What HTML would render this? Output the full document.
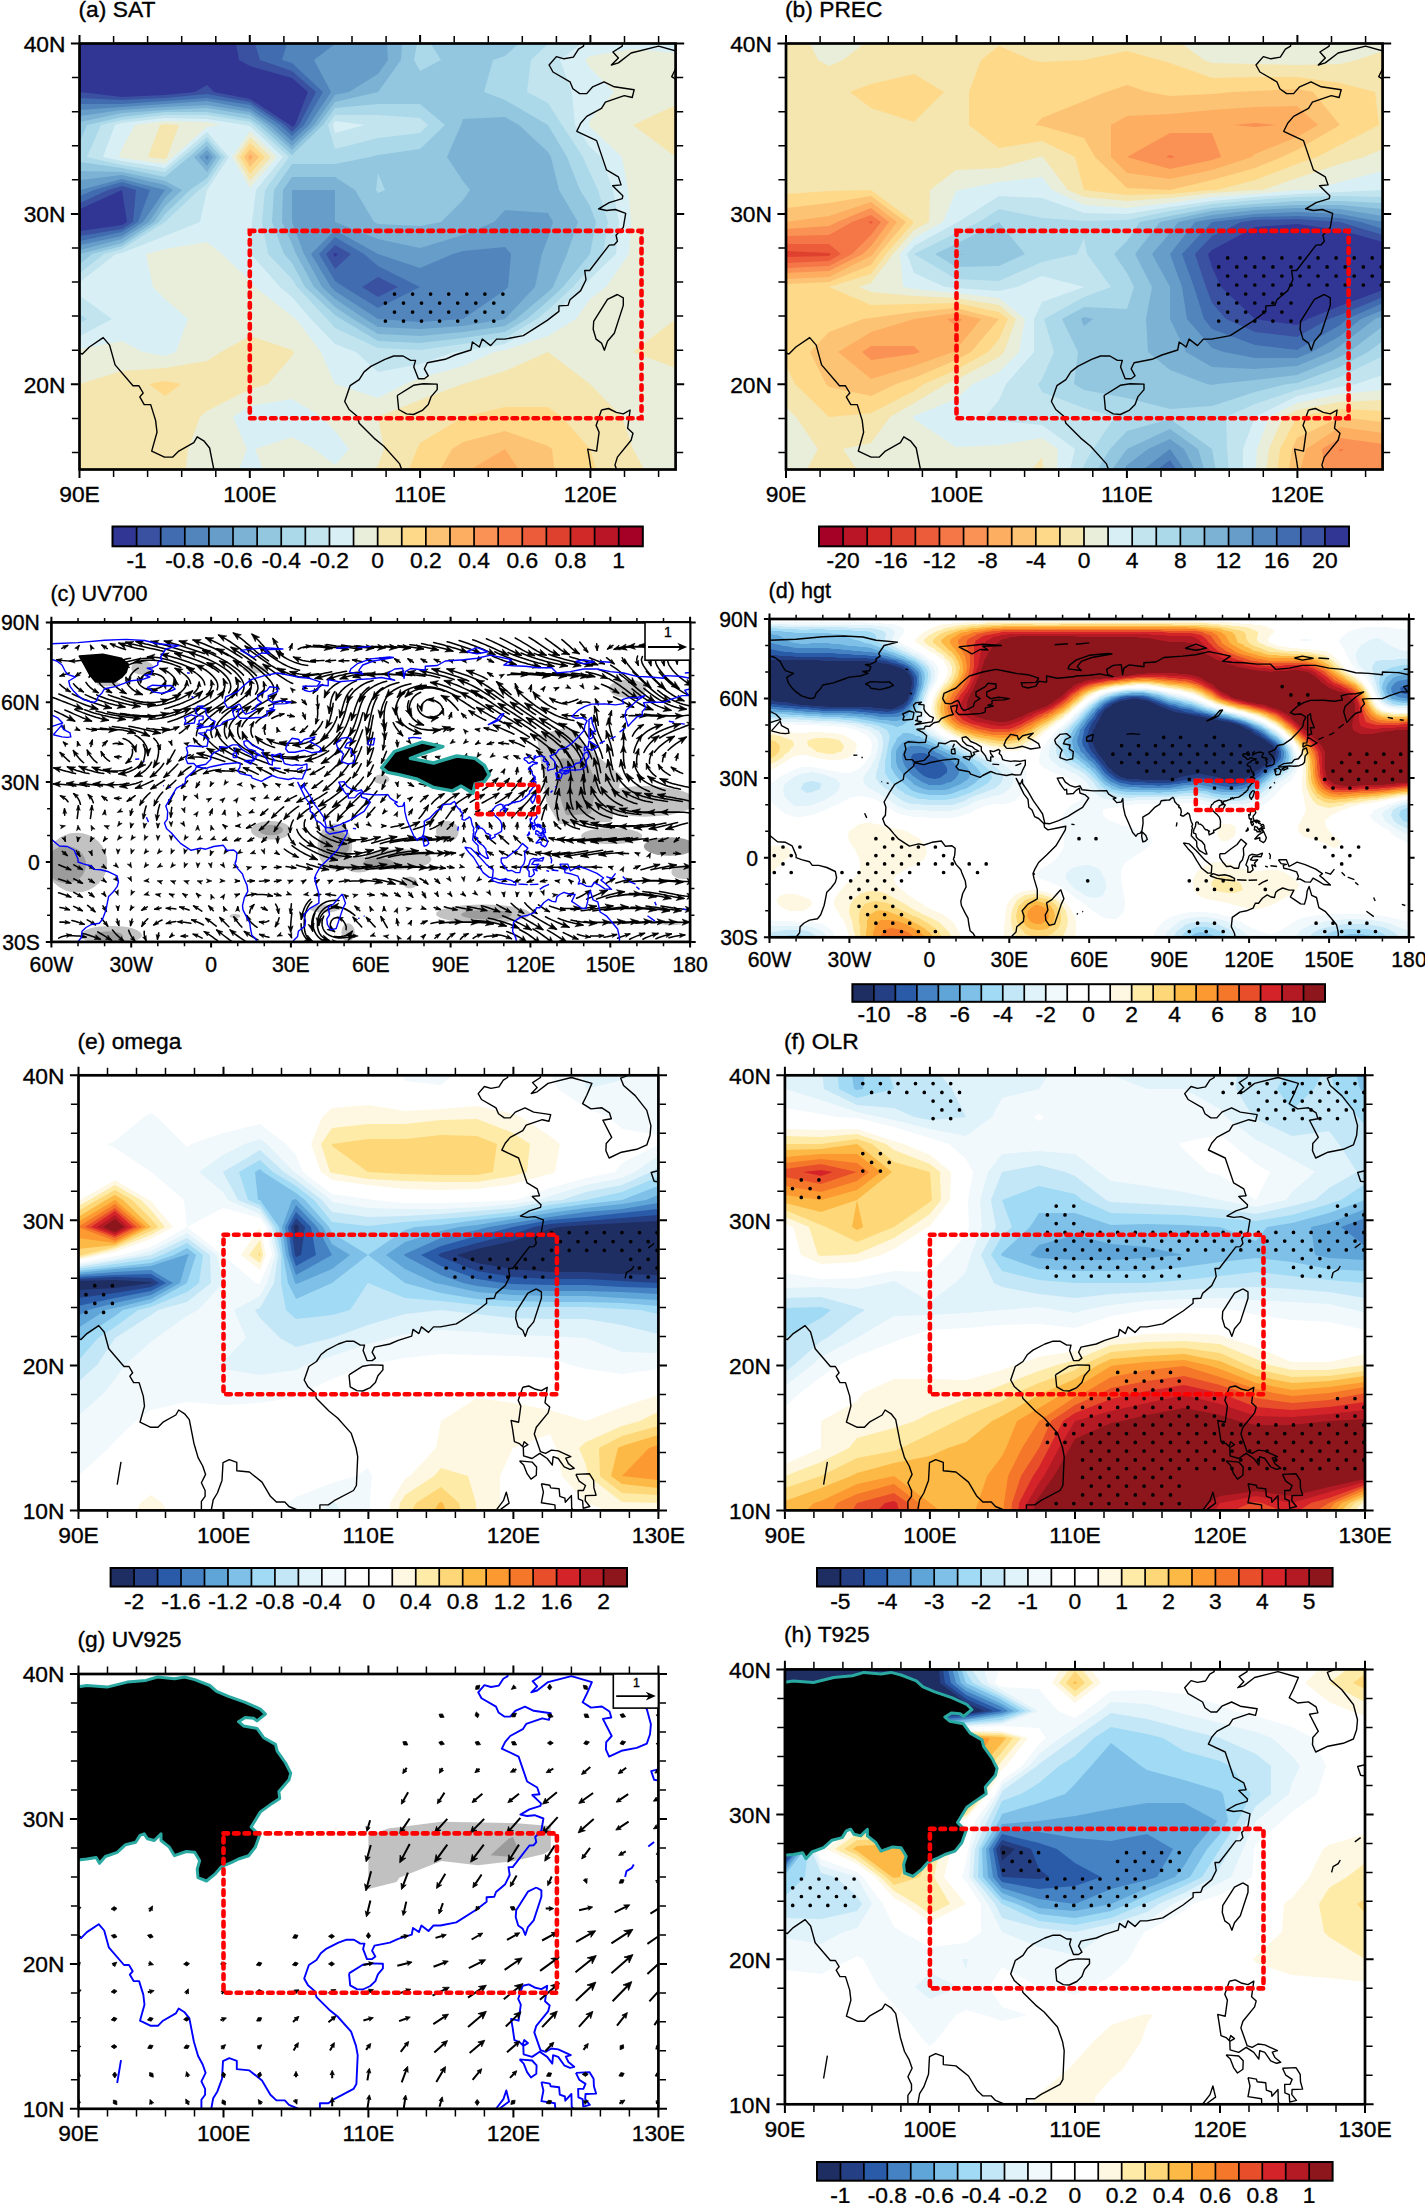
<!DOCTYPE html>
<html lang="en"><head><meta charset="utf-8"><title>Figure</title>
<style>html,body{margin:0;padding:0;background:#fff}svg{display:block}text{font-family:'Liberation Sans', Arial, Helvetica, sans-serif;fill:#000;stroke:#000;stroke-width:.35px}</style></head><body>
<svg width="1425" height="2203" viewBox="0 0 1425 2203">
<rect width="1425" height="2203" fill="#fff"/>
<defs>
<clipPath id="cpa"><rect x="79.5" y="43.5" width="596.1" height="426.0"/></clipPath>
<clipPath id="cpb"><rect x="786.0" y="43.5" width="596.6" height="426.0"/></clipPath>
<clipPath id="cpc"><rect x="51.4" y="622.4" width="638.7" height="319.5"/></clipPath>
<clipPath id="cpd"><rect x="769.5" y="619.0" width="639.5" height="318.3"/></clipPath>
<clipPath id="cpe"><rect x="78.5" y="1075.3" width="579.9" height="435.1"/></clipPath>
<clipPath id="cpf"><rect x="784.9" y="1075.3" width="580.1" height="435.1"/></clipPath>
<clipPath id="cpg"><rect x="78.5" y="1674.0" width="579.9" height="434.8"/></clipPath>
<clipPath id="cph"><rect x="784.9" y="1669.4" width="580.1" height="434.9"/></clipPath>

</defs>
<g id="panel-a">
<g clip-path="url(#cpa)">
<rect x="79.5" y="43.5" width="596.1" height="426.0" fill="#313695"/>
<path fill="#3a51a2" fill-rule="evenodd" d="M233 27l17 0 42 0 43 0 43 0 42 0 43 0 42 0 43 0 42 0 43 0 43 0 0 33 0 32 0 33 0 32 0 33 0 32 0 32 0 33 0 32 0 33 0 32 0 33 0 32 0 33-43 0-43 0-42 0-43 0-42 0-43 0-42 0-43 0-43 0-42 0-43 0-42 0-43 0-42 0 0-33 0-32 0-33 0-32 0-33 0-32 0-33 0-23 42-6 5-3-5-32-42 19 0-19 0-33 0-32 0-33 42 5 43-2 30-3 12-7 7 7 36 7 40 26 2 2 3-2 13-33-16-14-42-12-11-6zM335 253l-2 1 2 3 3-3z"/>
<path fill="#426cb0" fill-rule="evenodd" d="M250 27l42 0 43 0 43 0 42 0 43 0 42 0 43 0 42 0 43 0 43 0 0 33 0 32 0 33 0 32 0 33 0 32 0 32 0 33 0 32 0 33 0 32 0 33 0 32 0 33-43 0-43 0-42 0-43 0-42 0-43 0-42 0-43 0-43 0-42 0-43 0-42 0-43 0-42 0 0-33 0-32 0-33 0-32 0-33 0-32 0-33 0-18 42-7 11-7 3-32-14-4-14 4-28 13 0-13 0-33 0-32 0-27 42 2 43-2 42-4 43 8 35 23 7 7 7-7 17-33-24-21-32-11zM335 245l-9 9 9 15 16-15zM378 277l-16 10 16 10 20-10z"/>
<path fill="#5285bc" fill-rule="evenodd" d="M282 60l10-33 43 0 43 0 42 0 43 0 42 0 43 0 42 0 43 0 43 0 0 33 0 32 0 33 0 32 0 33 0 32 0 32 0 33 0 32 0 33 0 32 0 33 0 32 0 33-43 0-43 0-42 0-43 0-42 0-43 0-42 0-43 0-43 0-42 0-43 0-42 0-43 0-42 0 0-33 0-32 0-33 0-32 0-33 0-32 0-33 0-13 42-9 16-10 12-32-28-8-28 8-14 6 0-6 0-33 0-32 0-21 42 0 43-3 42-3 43 7 30 20 12 11 12-11 19-33-31-29zM335 237l-16 17 16 27 9 6 34 21 42-21-42-21-14-12z"/>
<path fill="#679dc9" fill-rule="evenodd" d="M314 60l21-16 21-17 22 0 42 0 43 0 42 0 43 0 42 0 43 0 43 0 0 33 0 32 0 33 0 32 0 33 0 32 0 32 0 33 0 32 0 33 0 32 0 33 0 32 0 33-43 0-43 0-42 0-43 0-42 0-43 0-42 0-43 0-43 0-42 0-43 0-42 0-43 0-42 0 0-33 0-32 0-33 0-32 0-33 0-32 0-33 0-9 42-9 21-14 22-32-43-11-42 11 0-33 0-32 0-15 42-3 43-3 42-3 43 8 24 16 18 16 17-16 22-33zM335 230l-24 24 20 33 4 4 43 28 42 3 43-3 42-29 3-3 3-33-6-7-42 4-10 3-33 14-42-14zM207 155l-2 2 2 3 2-3z"/>
<path fill="#7cb3d4" fill-rule="evenodd" d="M386 27l34 0 43 0 42 0 43 0 42 0 43 0 43 0 0 33 0 32 0 33 0 32 0 33 0 32 0 32 0 33 0 32 0 33 0 32 0 33 0 32 0 33-43 0-43 0-42 0-43 0-42 0-43 0-42 0-43 0-43 0-42 0-43 0-42 0-43 0-42 0 0-33 0-32 0-33 0-32 0-33 0-32 0-33 0-4 42-11 27-17 16-24 8-8-8-5-43-10-42 5 0-23 0-32 0-9 42-6 43-3 42-2 43 7 19 13 23 21 22-21 21-30 14-3 29-18 10-14zM207 150l-8 7 8 9 6-9zM292 190l0 32 12 32 18 33 13 12 30 20 13 8 42 2 43-3 42-7 30-32 7-33 6-16 5-16-5-9-43-3-11 12-31 13-43 13-42-9-43-17 0-32z"/>
<path fill="#93c6df" fill-rule="evenodd" d="M403 27l17 0 29 0 14 17 42-7 11-10 32 0 42 0 43 0 43 0 0 33 0 32 0 33 0 32 0 33 0 32 0 32 0 33 0 32 0 33 0 32 0 33 0 32 0 33-43 0-43 0-42 0-43 0-42 0-43 0-42 0-43 0-43 0-42 0-43 0-42 0-43 0-42 0 0-33 0-32 0-33 0-32 0-33 0-32 0-33 42-11 32-21 11-16 17-16-17-9-43-9-42-1 0-14 0-32 0-3 42-9 43-3 42-2 43 7 14 10 28 25 26-25 17-23 43-10 23-32zM463 119l-2 6-14 32 16 24 7 9-7 10-22 22-21 4-42-2-4-2-19-32-20-13-43 0-9 13-1 32 10 22 4 10 18 33 21 20 18 12 25 15 42 2 43-4 42-6 11-7 32-27 5-5 14-33 11-32-19-32-8-33-3-5-29-27-14-8zM207 146l-13 11 13 15 10-15z"/>
<path fill="#abd9e9" fill-rule="evenodd" d="M414 60l6-33 21 33-21 11zM493 60l12-4 32-29 11 0 42 0 43 0 43 0 0 33 0 32 0 33 0 32 0 33 0 32 0 32 0 33 0 32 0 33 0 32 0 33 0 32 0 33-43 0-43 0-42 0-43 0-42 0-43 0-42 0-43 0-43 0-42 0-43 0-42 0-43 0-42 0 0-33 0-32 0-33 0-32 0-33 0-32 0-23 12-10 30-8 37-24 6-8 25-24 17-12 14-21-14-16-18 16-24 20-43-9-42-6 0-5 0-16 7-16 35-8 43-5 42 0 43 7 9 6 33 30 31-30 12-17 43-4 42 0 25 21-25 24-42 6-8 2-35 7-43 0-18 26-2 32 12 32 8 9 13 24 30 28 6 4 37 22 42 2 43-5 42-6 22-13 21-18 15-14 27-33 6-32-6-16-10-16-13-33-19-32-43-25-21-8zM376 190l2-17 7 17-7 3z"/>
<path fill="#c2e4ef" fill-rule="evenodd" d="M531 60l17-16 21-17 21 0 43 0 43 0 0 33 0 32 0 33 0 32 0 33 0 32 0 32 0 33 0 32 0 33 0 32 0 33 0 32 0 33-43 0-43 0-42 0-43 0-42 0-43 0-42 0-43 0-43 0-42 0-43 0-42 0-43 0-42 0 0-33 0-32 0-33 0-32 0-29 7-4-7-5 0-27 0-14 24-19 18-5 43-27 34-32 8-6 18-27-18-20-24 20-18 15-43-7-35-8 14-32 21-5 43-5 42 0 43 7 4 3 35 32-24 33-3 32 6 32 24 25 5 8 30 32 8 9 43 20 42 2 43-6 42-6 32-19 11-9 25-23 17-20 13-13 5-32-10-32-8-17-7-16-21-32-14-22-21-11zM328 125l7-10 43 0 42 3 8 7-8 8-42 5-43 11z"/>
<path fill="#d8eff6" fill-rule="evenodd" d="M560 60l30-23 43-10 43 13 0 20 0 32 0 33 0 32 0 33 0 32 0 32 0 33 0 32 0 33 0 32 0 33 0 32 0 33-43 0-43 0-42 0-43 0-42 0-43 0-42 0-43 0-43 0-42 0-43 0-42 0-43 0-42 0 0-33 0-32 0-33 0-32 0-16 32-17-32-23 0-9 0-5 36-28 6-1 43-17 35-14 7-32 22-33-22-25-29 25-13 11-43-7-19-4 12-32 7-2 43-5 42 1 38 6 5 1 33 31-27 33-4 32-1 32 29 33 12 10 19 22 24 25 21 8 22 20 42-8 34-12 9-1 42-7 43-25 35-32 7-8 26-25 3-32-6-32-12-33-11-10-15-22-3-33zM333 125l2-4 30 4-30 8z"/>
<path fill="#e9eeda" fill-rule="evenodd" d="M585 60l5-4 43-7 43 4 0 7 0 32 0 33 0 32 0 33 0 32 0 32 0 33 0 32 0 33 0 32 0 33 0 32 0 33-43 0-43 0-42 0-43 0-42 0-43 0-42 0-43 0-43 0-24 0-13-33 37-12 22 12 21 16 14-16-14-18-13-14-30-18-42 7-17 11 14 32-13 33-27 0-42 0-43 0-42 0 0-33 0-32 0-33 0-32 0-3 42-8 21 11 22 4 11-4 12-33-23-20-12-12-7-33 19-5 42-7 15 12 28 27 5 6 37 29 4 3 25 33 14 32 43 14 27-14 15-6 43-12 31-14 11-2 43-14 28-17 14-20 16-12 23-33 2-32-3-32-6-33-32-30-1-2 1-5 24-28-24-24zM135 125l30-4 42 1 14 3-14 2-34 30-8 7-43-6-3-1 3-9zM232 157l18-26 27 26-27 31z"/>
<path fill="#f5e5ae" fill-rule="evenodd" d="M160 125l5-1 14 1-12 32-2 2-17-2zM633 125l43-20 0 20 0 32zM236 157l14-20 21 20-21 24zM221 352l29-16 42 14 2 2-2 4-24 28-18 5-43 22-7 6-12 32-4 33-19 0-43 0-42 0 0-33 0-32 0-33 42-13 43-3 42-7zM633 352l43-33 0 33 0 16zM463 384l42-13 43-19 42 32 32 33 11 32 18 33-18 0-43 0-42 0-43 0-42 0-43 0-42 0-11 0 11-17 6-16-6-32 42-17z"/>
<path fill="#fed989" fill-rule="evenodd" d="M240 157l10-14 15 14-15 17zM149 384l16-3 16 3-16 12zM463 417l42-10 43 0 14 10 28 32 10 33-10 0-42 0-43 0-42 0-43 0-16 0 13-33 3-6z"/>
<path fill="#fdc375" fill-rule="evenodd" d="M244 157l6-8 9 8-9 10zM452 449l11-7 42-11 43 15 4 3 4 33-8 0-43 0-42 0-30 0z"/>
<path fill="#fdae61" fill-rule="evenodd" d="M248 157l2-3 3 3-3 4zM458 482l5-8 42-25 22 33-22 0-42 0z"/>
<path d="M583.6 40.1l0 6-5.1 3-5.1 8-9.4 1.7-7.6-2.2-7.3 8.4 3.9 7 17 9.8 2.9 6.9 6.8 4.9 7 0 6-6.8 11.4-5 10.2 5 19.9 2.9-2 7.8-7.9-1.9-18.9 6.5-3.9 6.3-14.8 8-6 6.8-3.9 8.1 19.8 9.3 9.9 29.3 11.9 7 2.7 8-8.5 .9 10.2 9.9-.5 2.9-13.1 4.1-10.6 6.1 7.9 1.7 8.8-1 10.4 3.9-2.4 14.1-7.3 7.7 1.4 6-3.1 3.5-5.1 .4-19.6 25.4-4.9 0 1.3 9.3-5.3 10.8-10.7 9.2-2 5.6-9.1 .5 0 5.5-11.7 9-23.9 15.2-18.7 3.5-8 0-6 6.5-8.3-6.5-2.9 7.9-7-5-1.5 8-15.9 5-9.8 4.3-17.9 3.5-2.9 6 3.9 7-3.9 2.9-6 0-4.6-11.8 1.7-6.5-4.9 0-7.5-4.4-9.4 0-8.8 3.3-14 7.1-6.8 5.5-4.9 7.8-9.1 6-5.4 15.8 4.4 8 8 6.8 2.1 7 14.8 14.8 9.9 8.1 15.8 17.7 5.8 16.8 2 11-1.5 33.7-3.4 6-22.7 11.9-6.9 4.9-9.9 0 0 9.9M622.3 40.1l0 6-9.4 5.9 5.5 6-7 7 7-2.1 12.7-9.9 27.5-6.9 24 6.9-6 13.8-4.9 9.9 9.9 6.3 12.7-1.3 9.1 5.9 2 7-9.9 1.7 10.4 20.1-6.5 7.2-.3 8.5 3.8 8.5 14.4-6.8 17.9-3.4 11.9-5.1 3.8-10.9 1-11.8-4.8-17.9-13.6-17.3-13.6-12-3.4-8.5 13.6-5.1 25.5-11.9M765.9 154.3l-13.7 3.4 3.4 10.2 10.3 1.7M748.8 246.3l6.8-5.1M721.6 282.1l1.7-6.9 5.9-3.4 2.6-4.2M617.4 294.5l5.9 3.4 0 7.5-9 27.8-6.8 8-3.1 9-2.9-7.1-5.4-4-2.9-9.8 .5-8 13.8-21.9 9.9-4.9M397.3 395.5l16.2-10.2 9.9-1.5 13.8 .3 0 5.5-6 7-2.9 8-6 5.8-8.8 4.1-7-.6-7.8-4.4-1.4-14M601.5 410l7-1.5 7.8 3.9 7 1.5 6.8-3.9-2.5 18.3 5.4 4.9-1.9 7-13.7 16.9-2.4 7.8 7.3 20.8 6 2 6.8-3.9 8 1 14.8 6.9-6 1.7 3.1 6.3 6.8 5.6-4.9 1.2-6.8-2.9-7-9.9-6-2-1 9.8-6-7.8-8.8-6-8.9 6-10-3.1-.4-9.9 5.5-3.2-4.5-3.6-1.8 5.8-3.6-3.4-6-2.4-2-13.9-1.9-10.9 8.9 2 2.5-18.9-3-6.8 5.4-15.4M597.6 496.6l14.8 1.4 5.3 5.6-.3 9.9-6.3 4.4-4.6-6.3-4-10.1-4.9-4.9M663.8 512.4l15.9-.8 4.9 7.8 .4 8.9 2.5 8.5-12.4 .5-.4 6 5.5 6.8-7.8 2-.7-8.8-5-2.1-.3-9.8 6.3 0 2.4-6-7.3-5-4-8M623.3 523.3l9.9 1.8 1 3.2 9.9 1 .8 8.9 6 2 .5 5 7.2-7.9 .3 14.8 4.8 6-23.9 0-.3-4.9-.3-5-15.9-2.5 2.4-12.5-2.4-9.9M568.3 558.1l2.6-4.6 7.8-10.2 3.4-10.1 3.2 13-9.5 7-2.4 4.9M76.1 351.9l6.3 2.1 7-7 13.8-9.4 6.4 7.5 5.5 19.8 17.9 20.8 5.8 0 4.4 7.3-3.4 3.9 4.4 7.7 6.5 0 4.9 15.8 1.4 11.8-5.3 18.9 12.8 6 8.3 0 6-6 15-8.5 3.4-5.8 7 4.4 5.4 6.8 5.5 27.8 4.9 16.9 5.5 9.9 3.4 9.8-5 9.9 4.3 9.1 0 6.8-4.3 5.9 0 14M234.8 558.1l2.9-15.8 5-8 5.4-14.9 1.2-20.8 7.3-3.5 8.9 3.2 0 9.7 14.8 1.5 14.8 12 9.9 16.7 7 6.6 9.9 0 4.9 5.3 9.9 4.1 1.7 3.9M129.4 497.6l-4.4 26.8" fill="none" stroke="#000" stroke-width="1.4" stroke-linejoin="round"/>
<path d="M394.5 294.1h0M412.6 294.1h0M430.6 294.1h0M448.7 294.1h0M466.8 294.1h0M484.9 294.1h0M502.9 294.1h0M385.4 303.1h0M403.5 303.1h0M421.5 303.1h0M439.6 303.1h0M457.7 303.1h0M475.8 303.1h0M493.8 303.1h0M394.5 312.1h0M412.6 312.1h0M430.6 312.1h0M448.7 312.1h0M466.8 312.1h0M484.9 312.1h0M502.9 312.1h0M385.4 321.1h0M403.5 321.1h0M421.5 321.1h0M439.6 321.1h0M457.7 321.1h0M475.8 321.1h0M493.8 321.1h0" stroke="#000" stroke-width="3.70" stroke-linecap="round" fill="none"/>
<rect x="249.8" y="230.9" width="391.7" height="187.4" fill="none" stroke="#ff0000" stroke-width="4.6" stroke-dasharray="4.6 5.9" stroke-linecap="round"/>
</g>
<path d="M113.6 470.5v6.6M113.6 42.5v-6.6M147.6 470.5v6.6M147.6 42.5v-6.6M181.7 470.5v6.6M181.7 42.5v-6.6M215.8 470.5v6.6M215.8 42.5v-6.6M283.9 470.5v6.6M283.9 42.5v-6.6M317.9 470.5v6.6M317.9 42.5v-6.6M352.0 470.5v6.6M352.0 42.5v-6.6M386.1 470.5v6.6M386.1 42.5v-6.6M454.2 470.5v6.6M454.2 42.5v-6.6M488.3 470.5v6.6M488.3 42.5v-6.6M522.3 470.5v6.6M522.3 42.5v-6.6M556.4 470.5v6.6M556.4 42.5v-6.6M624.5 470.5v6.6M624.5 42.5v-6.6M658.6 470.5v6.6M658.6 42.5v-6.6M78.5 452.5h-6.6M676.6 452.5h6.6M78.5 418.4h-6.6M676.6 418.4h6.6M78.5 350.2h-6.6M676.6 350.2h6.6M78.5 316.1h-6.6M676.6 316.1h6.6M78.5 282.1h-6.6M676.6 282.1h6.6M78.5 248.0h-6.6M676.6 248.0h6.6M78.5 179.8h-6.6M676.6 179.8h6.6M78.5 145.7h-6.6M676.6 145.7h6.6M78.5 111.7h-6.6M676.6 111.7h6.6M78.5 77.6h-6.6M676.6 77.6h6.6" stroke="#000" stroke-width="1.5" fill="none"/>
<path d="M79.5 470.5v7.6M79.5 42.5v-7.6M249.8 470.5v7.6M249.8 42.5v-7.6M420.1 470.5v7.6M420.1 42.5v-7.6M590.4 470.5v7.6M590.4 42.5v-7.6M78.5 384.3h-7.6M676.6 384.3h7.6M78.5 213.9h-7.6M676.6 213.9h7.6M78.5 43.5h-7.6M676.6 43.5h7.6" stroke="#000" stroke-width="2" fill="none"/>
<rect x="79.5" y="43.5" width="596.1" height="426.0" fill="none" stroke="#000" stroke-width="2.7"/>
<text x="79.5" y="502.0" text-anchor="middle" font-size="22.8">90E</text>
<text x="249.8" y="502.0" text-anchor="middle" font-size="22.8">100E</text>
<text x="420.1" y="502.0" text-anchor="middle" font-size="22.8">110E</text>
<text x="590.4" y="502.0" text-anchor="middle" font-size="22.8">120E</text>
<text x="65.5" y="392.5" text-anchor="end" font-size="22.8">20N</text>
<text x="65.5" y="222.1" text-anchor="end" font-size="22.8">30N</text>
<text x="65.5" y="51.7" text-anchor="end" font-size="22.8">40N</text>
<text x="78.5" y="17.1" font-size="22.8">(a) SAT</text>

</g>
<g id="panel-b">
<g clip-path="url(#cpb)">
<rect x="786.0" y="43.5" width="596.6" height="426.0" fill="#df412f"/>
<path fill="#ec5c3b" fill-rule="evenodd" d="M786 27l43 0 42 0 43 0 42 0 43 0 43 0 42 0 43 0 43 0 42 0 43 0 42 0 43 0 43 0 0 33 0 32 0 33 0 32 0 33 0 32 0 32 0 33 0 32 0 33 0 32 0 33 0 32 0 33-43 0-43 0-42 0-43 0-42 0-43 0-43 0-42 0-43 0-43 0-42 0-43 0-42 0-43 0 0-33 0-32 0-33 0-32 0-33 0-32 0-30 43-1 2-2-2-1-43-2 0-29 0-32 0-33 0-32 0-33 0-32z"/>
<path fill="#f57647" fill-rule="evenodd" d="M786 27l43 0 42 0 43 0 42 0 43 0 43 0 42 0 43 0 43 0 42 0 43 0 42 0 43 0 43 0 0 33 0 32 0 33 0 32 0 33 0 32 0 32 0 33 0 32 0 33 0 32 0 33 0 32 0 33-43 0-43 0-42 0-43 0-42 0-43 0-43 0-42 0-43 0-43 0-42 0-43 0-42 0-43 0 0-33 0-32 0-33 0-32 0-33 0-32 0-24 43-2 12-7-12-10-43 0 0-22 0-32 0-33 0-32 0-33 0-32zM871 221l-3 1 3 2 2-2z"/>
<path fill="#f99254" fill-rule="evenodd" d="M786 27l43 0 42 0 43 0 42 0 43 0 43 0 42 0 43 0 43 0 42 0 43 0 42 0 43 0 43 0 0 33 0 32 0 33 0 32 0 33 0 32 0 32 0 33 0 32 0 33 0 32 0 33 0 32 0 33-43 0-43 0-42 0-43 0-42 0-43 0-43 0-42 0-43 0-43 0-42 0-43 0-42 0-43 0 0-33 0-32 0-33 0-32 0-33 0-32 0-19 43-2 23-12 19-19 10-13-10-7-19 7-23 13-43 1 0-14 0-32 0-33 0-32 0-33 0-32zM1170 155l-4 2 4 1 5-1zM1340 449l-1 0 1 3 4-3z"/>
<path fill="#fdae61" fill-rule="evenodd" d="M786 27l43 0 42 0 43 0 42 0 43 0 43 0 42 0 43 0 43 0 42 0 43 0 42 0 43 0 43 0 0 33 0 32 0 33 0 32 0 33 0 32 0 32 0 33 0 32 0 33 0 32 0 33 0 27-43-6-18 11 4 33-29 0-42 0-43 0-42 0-43 0-43 0-42 0-43 0-43 0-42 0-43 0-42 0-43 0 0-33 0-32 0-33 0-32 0-33 0-32 0-14 43-2 34-17 8-8 18-24-18-14-34 14-8 4-43 3 0-7 0-32 0-33 0-32 0-33 0-32zM956 318l-9 1 9 7 6-7zM1127 157l43 12 42-9 9-3-9-24-42 0zM1255 123l-22 2 22 2 21-2zM871 346l-9 6 9 8 43-6 6-2-6-6z"/>
<path fill="#fdc375" fill-rule="evenodd" d="M786 27l43 0 42 0 43 0 42 0 43 0 43 0 42 0 43 0 43 0 42 0 43 0 42 0 43 0 43 0 0 33 0 32 0 33 0 32 0 33 0 32 0 32 0 33 0 32 0 33 0 32 0 33 0 16-43-6-34 22-9 33-42 0-43 0-42 0-43 0-43 0-42 0-43 0-43 0-42 0-43 0-42 0-43 0 0-33 0-32 0-33 0-32 0-33 0-32 0-8 43-2 42-21 2-2 24-32-26-20-42 14-43 6 0-32 0-33 0-32 0-33 0-32zM914 319l-43 13-33 20 33 27 43-13 39-14 3-2 25-31-25-6zM1127 116l-16 9 0 32 16 16 43 6 42-9 40-13 3-3 42-17 21-12-21-19-42 1-43 3-42 4z"/>
<path fill="#fed989" fill-rule="evenodd" d="M786 27l43 0 42 0 43 0 42 0 43 0 43 0 42 0 43 0 43 0 42 0 43 0 42 0 43 0 43 0 0 33 0 32 0 33 0 32 0 33 0 32 0 32 0 33 0 32 0 33 0 32 0 33 0 5-43-5-43 21-5 11-5 33-32 0-43 0-42 0-43 0-43 0-42 0-43 0-43 0-42 0-43 0-42 0-43 0 0-33 0-32 0-33 0-32 0-33 0-32 0-3 43-2 42-17 8-11 27-32-35-26-42 7-43 5 0-18 0-33 0-32 0-33 0-32zM1127 85l-21 7-22 9-42 17-7 7 7 1 42 12 11 19 32 31 43 2 42-10 43-12 27-11 15-7 43-25-27-33-16-3-42 2-22 1-21 2-42 2-22-4zM871 318l-8 1-34 13-19 20 16 32 3 3 42 9 25-12 18-6 42-18 15-8 28-33-43-11-42 4z"/>
<path fill="#f5e5ae" fill-rule="evenodd" d="M786 27l43 0 42 0 43 0 42 0 43 0 43 0 42 0 43 0 43 0 42 0 43 0 42 0 43 0 43 0 0 33 0 32 0 33 0 32 0 33 0 32 0 32 0 33 0 32 0 33 0 32 0 27-43-2-43 8-17 32-4 33-21 0-43 0-42 0-43 0-43 0-42 0-43 0-43 0-42 0-43 0-42 0-43 0 0-33 0-32 0-33 0-19 9 19 34 33 42-4 43-22 10-7 32-14 32-18 11-13 9-20-9-7-43-9-42 1-43 1-42-18 42-13 15-20 28-32-43-32-42 1-43 3 0-4 0-33 0-32 0-33 0-32zM871 84l-21 8 21 16 43 14 30-30-30-18zM999 46l-18 14-12 32 0 33 30 23 43-7 33 16 9 33 43 5 43-1 42-4 5 0 38-10 42-16 20-7 23-12 39-20-4-33-35-9-43-6-42 0-43 1-42-15-11-3-32-9-43 9-42 2-11-2z"/>
<path fill="#e9eeda" fill-rule="evenodd" d="M802 27l27 0 42 0 12 0-12 11-28 22-14 6-11-6zM1144 27l26 0 42 0 43 0 42 0 43 0 43 0 0 24-26 9-17 4-43 1-42-1-43-1-8-3-34-25zM1039 157l3-1 1 1 25 33 16 7 43 4 43-3 42-5 43-3 8 0 34-12 43-14 24-7 19-8 0 8 0 33 0 32 0 32 0 33 0 32 0 33 0 32 0 16-43 2-43 8-14 7-14 32-4 33-10 0-43 0-42 0-43 0-43 0-39 0-3-25-19 25-24 0-43 0-42 0-43 0-6 0-22-33 28-6 19-26 24-14 32-19 10-4 43-23 5-5 12-33-17-14-43-7-42-2-43-4-12-5 12-4 22-29 21-24 15-8 1-32 26-20 43-2zM786 417l0-10 10 10 22 32-18 33-14 0 0-33z"/>
<path fill="#d8eff6" fill-rule="evenodd" d="M1308 27l32 0 26 0-26 9zM960 190l39-8 43-5 10 13 32 15 43 3 43-5 42-6 43-3 42-4 15 0 28-8 43-11 0 19 0 32 0 32 0 33 0 32 0 33 0 32 0 6-43 4-43 9-28 14-12 32-2 33-43 0-42 0-43 0-43 0-28 0 2-33-16-11-43 7-43 2-42-28-1-2 1-1 42-17 17-15 26-12 20-20 6-33-26-21-43-5-42-4-11-2-3-33 14-16 29-16 13-31z"/>
<path fill="#c2e4ef" fill-rule="evenodd" d="M958 222l41-26 43 2 42 15 43 1 43-7 42-6 43-4 42-3 43-2 43-2 0 32 0 32 0 33 0 32 0 33 0 23-27 9-16 3-43 9-42 21-12 32 0 33-31 0-42 0-43 0-43 0-17 0 8-33-33-24-43-4-14-4 14-17 7-16 28-32 0-33 8-17 42-15-42-11-25 11-18 4-43-3-11-1-31-14-7-19 7-8 42-23z"/>
<path fill="#abd9e9" fill-rule="evenodd" d="M979 222l20-13 43 9 42 3 43-1 43-9 42-7 43-4 42-3 43-1 43 1 0 25 0 32 0 33 0 32 0 33 0 4-43 21-20 7-23 6-42 14-29 13 1 32 3 33-18 0-42 0-43 0-43 0-5 0 5-17 9-16 22-32-31-9-42-16-4-8 4-5 12-27-10-33 40-22 27-10-24-33-3-16-7 16-35 8-43 19-43-2-42-25 42-21z"/>
<path fill="#93c6df" fill-rule="evenodd" d="M1140 222l30-6 42-8 43-4 42-3 43 0 43 2 0 19 0 32 0 33 0 32 0 22-15 11-28 15-43 16-10 1-32 8-43 14-42 3-43-11-43-8-10-6 4-32-16-33 22-12 43 2 7-22-7-14-13-19 13-13zM935 254l21-10 43-22 26 32-26 12-43 1zM1110 449l17-18 43-12 42 30 6 33-6 0-42 0-43 0-37 0z"/>
<path fill="#7cb3d4" fill-rule="evenodd" d="M1160 222l10-2 42-9 43-4 42-2 43 0 43 4 0 13 0 32 0 33 0 32 0 7-34 26-9 5-43 18-42 5-38 4-5 1-5-1-37-14-22-18-2-33 6-32-17-33zM955 254l1 0 9 0-9 1zM1081 319l3-2 9 2-9 7zM1127 449l43-20 28 20 10 33-38 0-43 0-24 0z"/>
<path fill="#679dc9" fill-rule="evenodd" d="M1178 222l34-7 43-5 42-2 43 1 43 7 0 6 0 32 0 33 0 29-8 3-35 27-9 6-34 14-42 3-43-2-26-15-16-33 0-32-18-33 18-21zM1148 449l22-10 14 10 17 33-31 0-43 0-12 0 12-17z"/>
<path fill="#5285bc" fill-rule="evenodd" d="M1195 222l17-3 43-5 42-2 43 2 43 8 0 32 0 33 0 23-22 9-21 17-28 16-15 6-42 0-31-6-12-4-25-29-5-32-12-33zM1127 482l43-33 23 33-23 0z"/>
<path fill="#426cb0" fill-rule="evenodd" d="M1212 222l43-5 42-1 43 2 21 4 22 7 0 25 0 33 0 16-36 16-7 6-43 25-42-5-43-16-8-10-10-32-12-33zM1141 482l29-22 15 22-15 0z"/>
<path fill="#3a51a2" fill-rule="evenodd" d="M1241 222l14-2 42-1 43 3 43 13 0 19 0 33 0 10-43 18-11 4-32 18-42-5-29-13-14-16-6-16-11-33 17-18zM1155 482l15-11 7 11-7 0z"/>
<path fill="#313695" fill-rule="evenodd" d="M1208 254l4-4 43-23 42-3 43 6 43 12 0 12 0 33 0 3-43 16-32 13-11 6-42-6-34-32-9-20z"/>
<path d="M1290.6 40.1l0 6-5.2 3-5.1 8-9.3 1.7-7.7-2.2-7.3 8.4 3.9 7 17 9.8 2.9 6.9 6.8 4.9 7 0 6-6.8 11.4-5 10.2 5 20 2.9-2.1 7.8-7.8-1.9-18.9 6.5-3.9 6.3-14.9 8-5.9 6.8-4 8.1 19.8 9.3 9.9 29.3 11.9 7 2.8 8-8.6 .9 10.3 9.9-.6 2.9-13.1 4.1-10.5 6.1 7.8 1.7 8.9-1 10.4 3.9-2.4 14.1-7.4 7.7 1.4 6-3.1 3.5-5.1 .4-19.6 25.4-4.9 0 1.3 9.3-5.2 10.8-10.8 9.2-2 5.6-9.1 .5 0 5.5-11.7 9-23.9 15.2-18.7 3.5-8.1 0-5.9 6.5-8.4-6.5-2.9 7.9-7-5-1.5 8-15.8 5-9.9 4.3-17.9 3.5-2.9 6 3.9 7-3.9 2.9-6 0-4.6-11.8 1.7-6.5-4.9 0-7.5-4.4-9.4 0-8.9 3.3-13.9 7.1-6.9 5.5-4.9 7.8-9 6-5.5 15.8 4.4 8 8 6.8 2.1 7 14.8 14.8 9.9 8.1 15.9 17.7 5.8 16.8 2 11-1.5 33.7-3.4 6-22.7 11.9-7 4.9-9.9 0 0 9.9M1329.2 40.1l0 6-9.3 5.9 5.4 6-7 7 7-2.1 12.8-9.9 27.5-6.9 24 6.9-6 13.8-4.9 9.9 9.9 6.3 12.8-1.3 9 5.9 2 7-9.9 1.7 10.4 20.1-6.4 7.2-.4 8.5 3.8 8.5 14.5-6.8 17.9-3.4 11.9-5.1 3.7-10.9 1.1-11.8-4.8-17.9-13.6-17.3-13.7-12-3.4-8.5 13.6-5.1 25.6-11.9M1472.9 154.3l-13.6 3.4 3.4 10.2 10.2 1.7M1455.9 246.3l6.8-5.1M1428.6 282.1l1.7-6.9 6-3.4 2.6-4.2M1324.3 294.5l6 3.4 0 7.5-9.1 27.8-6.8 8-3.1 9-2.8-7.1-5.5-4-2.9-9.8 .5-8 13.8-21.9 9.9-4.9M1104.1 395.5l16.2-10.2 9.9-1.5 13.8 .3 0 5.5-6 7-2.9 8-6 5.8-8.8 4.1-7-.6-7.9-4.4-1.3-14M1308.5 410l6.9-1.5 7.9 3.9 7 1.5 6.8-3.9-2.6 18.3 5.5 4.9-1.9 7-13.8 16.9-2.4 7.8 7.3 20.8 6 2 6.8-3.9 8 1 14.9 6.9-6 1.7 3.1 6.3 6.8 5.6-5 1.2-6.8-2.9-7-9.9-5.9-2-1 9.8-6-7.8-8.9-6-8.8 6-10.1-3.1-.3-9.9 5.4-3.2-4.4-3.6-1.9 5.8-3.6-3.4-5.9-2.4-2.1-13.9-1.9-10.9 8.9 2 2.6-18.9-3.1-6.8 5.5-15.4M1304.5 496.6l14.9 1.4 5.2 5.6-.3 9.9-6.3 4.4-4.6-6.3-3.9-10.1-5-4.9M1370.8 512.4l15.9-.8 4.9 7.8 .4 8.9 2.5 8.5-12.4 .5-.4 6 5.5 6.8-7.8 2-.7-8.8-5-2.1-.3-9.8 6.3 0 2.4-6-7.3-5-4-8M1330.3 523.3l9.9 1.8 1 3.2 9.9 1 .8 8.9 6 2 .5 5 7.2-7.9 .3 14.8 4.8 6-23.9 0-.3-4.9-.4-5-15.8-2.5 2.4-12.5-2.4-9.9M1275.2 558.1l2.6-4.6 7.8-10.2 3.4-10.1 3.3 13-9.6 7-2.4 4.9M782.6 351.9l6.3 2.1 7-7 13.8-9.4 6.5 7.5 5.4 19.8 17.9 20.8 5.8 0 4.5 7.3-3.5 3.9 4.5 7.7 6.5 0 4.9 15.8 1.4 11.8-5.3 18.9 12.8 6 8.3 0 6-6 15-8.5 3.4-5.8 7 4.4 5.4 6.8 5.5 27.8 4.9 16.9 5.5 9.9 3.4 9.8-5 9.9 4.3 9.1 0 6.8-4.3 5.9 0 14M941.5 558.1l2.9-15.8 4.9-8 5.5-14.9 1.1-20.8 7.4-3.5 8.8 3.2 0 9.7 14.9 1.5 14.8 12 9.9 16.7 7 6.6 9.9 0 4.9 5.3 9.9 4.1 1.7 3.9M835.9 497.6l-4.4 26.8" fill="none" stroke="#000" stroke-width="1.4" stroke-linejoin="round"/>
<path d="M1227.7 257.9h0M1245.7 257.9h0M1263.8 257.9h0M1281.9 257.9h0M1300.0 257.9h0M1318.0 257.9h0M1336.1 257.9h0M1354.2 257.9h0M1372.2 257.9h0M1218.7 266.9h0M1236.8 266.9h0M1254.8 266.9h0M1272.9 266.9h0M1291.0 266.9h0M1309.0 266.9h0M1327.1 266.9h0M1345.2 266.9h0M1363.3 266.9h0M1381.3 266.9h0M1227.7 276.0h0M1245.7 276.0h0M1263.8 276.0h0M1281.9 276.0h0M1300.0 276.0h0M1318.0 276.0h0M1336.1 276.0h0M1354.2 276.0h0M1372.2 276.0h0M1218.7 285.0h0M1236.8 285.0h0M1254.8 285.0h0M1272.9 285.0h0M1291.0 285.0h0M1309.0 285.0h0M1327.1 285.0h0M1345.2 285.0h0M1363.3 285.0h0M1381.3 285.0h0M1227.7 294.0h0M1245.7 294.0h0M1263.8 294.0h0M1281.9 294.0h0M1218.7 303.0h0M1236.8 303.0h0M1254.8 303.0h0M1272.9 303.0h0M1291.0 303.0h0M1227.7 312.1h0M1245.7 312.1h0M1263.8 312.1h0M1281.9 312.1h0M1218.7 321.1h0M1236.8 321.1h0M1254.8 321.1h0M1272.9 321.1h0M1291.0 321.1h0" stroke="#000" stroke-width="3.70" stroke-linecap="round" fill="none"/>
<rect x="956.5" y="230.9" width="392.1" height="187.4" fill="none" stroke="#ff0000" stroke-width="4.6" stroke-dasharray="4.6 5.9" stroke-linecap="round"/>
</g>
<path d="M820.1 470.5v6.6M820.1 42.5v-6.6M854.2 470.5v6.6M854.2 42.5v-6.6M888.3 470.5v6.6M888.3 42.5v-6.6M922.4 470.5v6.6M922.4 42.5v-6.6M990.5 470.5v6.6M990.5 42.5v-6.6M1024.6 470.5v6.6M1024.6 42.5v-6.6M1058.7 470.5v6.6M1058.7 42.5v-6.6M1092.8 470.5v6.6M1092.8 42.5v-6.6M1161.0 470.5v6.6M1161.0 42.5v-6.6M1195.1 470.5v6.6M1195.1 42.5v-6.6M1229.2 470.5v6.6M1229.2 42.5v-6.6M1263.3 470.5v6.6M1263.3 42.5v-6.6M1331.5 470.5v6.6M1331.5 42.5v-6.6M1365.6 470.5v6.6M1365.6 42.5v-6.6M785.0 452.5h-6.6M1383.6 452.5h6.6M785.0 418.4h-6.6M1383.6 418.4h6.6M785.0 350.2h-6.6M1383.6 350.2h6.6M785.0 316.1h-6.6M1383.6 316.1h6.6M785.0 282.1h-6.6M1383.6 282.1h6.6M785.0 248.0h-6.6M1383.6 248.0h6.6M785.0 179.8h-6.6M1383.6 179.8h6.6M785.0 145.7h-6.6M1383.6 145.7h6.6M785.0 111.7h-6.6M1383.6 111.7h6.6M785.0 77.6h-6.6M1383.6 77.6h6.6" stroke="#000" stroke-width="1.5" fill="none"/>
<path d="M786.0 470.5v7.6M786.0 42.5v-7.6M956.5 470.5v7.6M956.5 42.5v-7.6M1126.9 470.5v7.6M1126.9 42.5v-7.6M1297.4 470.5v7.6M1297.4 42.5v-7.6M785.0 384.3h-7.6M1383.6 384.3h7.6M785.0 213.9h-7.6M1383.6 213.9h7.6M785.0 43.5h-7.6M1383.6 43.5h7.6" stroke="#000" stroke-width="2" fill="none"/>
<rect x="786.0" y="43.5" width="596.6" height="426.0" fill="none" stroke="#000" stroke-width="2.7"/>
<text x="786.0" y="502.0" text-anchor="middle" font-size="22.8">90E</text>
<text x="956.5" y="502.0" text-anchor="middle" font-size="22.8">100E</text>
<text x="1126.9" y="502.0" text-anchor="middle" font-size="22.8">110E</text>
<text x="1297.4" y="502.0" text-anchor="middle" font-size="22.8">120E</text>
<text x="772.0" y="392.5" text-anchor="end" font-size="22.8">20N</text>
<text x="772.0" y="222.1" text-anchor="end" font-size="22.8">30N</text>
<text x="772.0" y="51.7" text-anchor="end" font-size="22.8">40N</text>
<text x="785.0" y="17.1" font-size="22.8">(b) PREC</text>

</g>
<g id="panel-c">
<g clip-path="url(#cpc)">
<ellipse cx="142.4" cy="667.9" rx="11.2" ry="6.9" fill="#c2c2c2"/>
<ellipse cx="108.6" cy="684.0" rx="12.0" ry="2.3" fill="#c2c2c2"/>
<ellipse cx="255.0" cy="669.0" rx="12.0" ry="4.0" fill="#c2c2c2"/>
<ellipse cx="271.0" cy="830.3" rx="20.0" ry="9.3" fill="#c2c2c2"/>
<ellipse cx="271.0" cy="830.0" rx="12.0" ry="5.3" fill="#9c9c9c"/>
<ellipse cx="334.8" cy="846.7" rx="17.3" ry="23.3" fill="#c2c2c2"/>
<ellipse cx="334.8" cy="844.7" rx="14.6" ry="14.6" fill="#9c9c9c"/>
<ellipse cx="358.8" cy="864.6" rx="14.6" ry="8.0" fill="#c2c2c2"/>
<ellipse cx="76.7" cy="862.7" rx="30.6" ry="29.9" fill="#c2c2c2"/>
<ellipse cx="66.0" cy="864.6" rx="20.0" ry="18.6" fill="#9c9c9c"/>
<ellipse cx="111.3" cy="935.2" rx="30.6" ry="9.3" fill="#c2c2c2"/>
<ellipse cx="108.6" cy="936.5" rx="14.6" ry="5.3" fill="#9c9c9c"/>
<ellipse cx="324.2" cy="908.6" rx="14.6" ry="4.0" fill="#c2c2c2"/>
<ellipse cx="348.1" cy="932.5" rx="6.7" ry="9.3" fill="#c2c2c2"/>
<ellipse cx="235.0" cy="915.9" rx="5.3" ry="2.0" fill="#c2c2c2"/>
<ellipse cx="627.7" cy="688.8" rx="18.5" ry="9.2" fill="#c2c2c2"/>
<ellipse cx="644.9" cy="801.4" rx="50.6" ry="15.3" fill="#c2c2c2"/>
<ellipse cx="611.6" cy="836.0" rx="30.6" ry="8.1" fill="#c2c2c2"/>
<ellipse cx="669.6" cy="846.5" rx="25.8" ry="9.3" fill="#9c9c9c"/>
<ellipse cx="683.4" cy="872.1" rx="12.0" ry="6.9" fill="#c2c2c2"/>
<ellipse cx="447.3" cy="831.5" rx="11.3" ry="10.5" fill="#c2c2c2"/>
<ellipse cx="397.9" cy="859.3" rx="33.5" ry="10.4" fill="#c2c2c2"/>
<ellipse cx="378.7" cy="864.0" rx="16.0" ry="6.0" fill="#9c9c9c"/>
<ellipse cx="410.0" cy="882.5" rx="7.3" ry="5.9" fill="#c2c2c2"/>
<ellipse cx="483.2" cy="913.9" rx="47.2" ry="9.3" fill="#c2c2c2"/>
<ellipse cx="486.5" cy="914.6" rx="25.3" ry="4.7" fill="#9c9c9c"/>
<ellipse cx="671.6" cy="922.9" rx="11.6" ry="2.4" fill="#c2c2c2"/>
<ellipse cx="381.4" cy="779.3" rx="8.0" ry="4.7" fill="#c2c2c2"/>
<path d="M540 737.7l27.7-7.2 27.7 27.9 22.8 18.4-9 42.1-48.4 2.1-11.7-20.8-4.6-34.8z" fill="#c2c2c2" stroke="#c2c2c2" stroke-width="6" stroke-linejoin="round"/>
<path d="M562.4 760.8l21.3 1.4 10.6 19.9-5.3 29.3-21.3 1.3-8-25.3z" fill="#9c9c9c" stroke="#9c9c9c" stroke-width="5" stroke-linejoin="round"/>
<path d="M58.7 938.1l2.9-1.3 3.1-.8 3.1-.7 3.2-.3M70 935.8l3.2-.1 3.2 .2 3.2 .2 3.2 .4 3.1 .6M82.1 933.4l3.1 .7 3.1 .9 3 1 3 1 3 1.1 3 1.2M97.7 931.9l2.8 1.6 2.8 1.7 2.7 1.6 2.7 1.7 2.8 1.6M112.5 930.1l2.1 2.4 2.2 2.4 2.3 2.2 2.3 2.2 2.5 2M128.7 930.2l1 3 1.5 2.8 1.7 2.7 2.1 2.5M144.2 931.2l0 3.2 .7 3.2 1.2 2.9M158.8 932.9l-1 3.1-.3 3.2M172.3 934.9l-2.3 2.2M187.7 936.1l-3.2-.1-3.2 .2M202.1 938.1l-2.9-1.5-2.9-1.3-3-1.1M217.6 940.6l-2.6-1.8-2.6-1.9-2.6-1.8-2.7-1.8-2.8-1.6M232.2 941.6l-2.7-1.8-2.6-1.9-2.5-1.9-2.6-2-2.5-1.9-2.5-2M245.7 941.3l-2.7-1.7-2.7-1.7-2.6-1.9-2.6-1.9-2.5-2-2.4-2.1M258 939.9l-2.9-1.5-2.7-1.6-2.8-1.6-2.6-1.8-2.6-1.9M268.9 937.3l-3.1-.8-3-1-3-1.1M290.4 934.5l1.1 3M301.1 923.7l.2 3.2 .5 3.2 .9 3.1 1.5 2.8 1.9 2.6 2.5 1.9 3 1.2 3 .9M314.9 913.3l-1.1 3.1-.6 3.1-.2 3.2 .1 3.2 .7 3.1 1.1 3 1.6 2.8 2 2.4 2.5 2.1 2.8 1.4 3.1 1 3.1 .6 3.2 .3 3.2 .2 3.2 .2M323.7 916.1l-1.2 3-.5 3.1 .1 3.2 .9 3.1 1.5 2.8 2.2 2.3 2.7 1.7 2.9 1.3 3.1 .9 3.1 .4 3.2 0 3.2-.3 3.2-.4 3.1-.6 3.2-.8M334.6 936.4l3.2 .3 3.2-.2 3.1-.5 3.1-.8 2.9-1.4 2-2.4M422.8 937.1l2.3-2.2M434.9 938.2l2.4-2.2 2.5-1.9M447.3 939.4l2-2.4 2.5-2 2.8-1.6M460.4 939.2l2.2-2.3 2.6-1.8 2.9-1.4M473.1 938.4l2.6-1.8 3-1.3 3-.9M484.2 937.1l3.1-.8 3.2-.3 3.2-.2 3.2 .1M496 934.5l3.1 .4 3.2 .7 3.1 .8 3 1 3 1.2M506.8 931.6l3.1 1.1 2.9 1.2 2.9 1.3 2.8 1.5 2.8 1.7 2.6 1.8 2.5 2.1M519.4 929.5l2.8 1.5 2.8 1.5 2.8 1.7 2.6 1.8 2.6 1.8 2.6 2 2.4 2.1 2.3 2.3M533 929l2.8 1.7 2.7 1.7 2.6 1.8 2.6 1.8 2.6 1.9 2.6 1.9 2.4 2 2.5 2.1M547.5 930.1l2.8 1.7 2.7 1.6 2.7 1.7 2.7 1.7 2.7 1.8 2.7 1.7 2.7 1.6M563.2 932.5l2.8 1.4 2.9 1.4 2.9 1.4 2.9 1.2 3 1.1M577.5 934.3l3 1 3.2 .7 3.1 .6 3.2 .5M590.6 935.9l3.2 .1 3.2 0 3.2-.1 3.1-.3M604 937.3l3.1-.6 3.2-.7 3.1-.7 3.1-.7M617.6 938.2l3-1.1 3-1.1 3-1 3.1-1M629.6 939.3l2.9-1.4 2.9-1.3 3-1.2 3-1.1 3-1M642.9 939.2l2.8-1.4 3-1.2 3-1.2 3-1 3.1-1M656 938.7l2.9-1.2 3.1-1 3-1 3.1-.8 3.1-.8M669 937.7l3.1-.8 3.1-.6 3.2-.6 3.1-.4 3.2-.3M59.9 922.1l3.2 0 3.2 .2 3.2 .4M71.9 920.5l3.1 .8 3 .9 3.1 1 3 1.1M87.2 919.8l2.8 1.6 2.7 1.7 2.7 1.7M101.5 918.6l2.1 2.4 2 2.5 2.1 2.4M117.1 919.1l.8 3.1 .9 3.1M132.1 919.1l-.9 3.1-.6 3.2M147.8 918.7l-2.3 2.3-2 2.5-1.6 2.7M162.1 920l-2.9 1.4-2.7 1.7-2.6 1.8M175.9 921.5l-3.2 .4-3.1 .7-3.1 .8M190.8 923.3l-3.2-.6-3.1-.5-3.2-.3-3.2-.1M203.5 925l-2.8-1.5-2.9-1.3-3-1.2-3-1.1M216.2 926.1l-2.6-1.9-2.5-2-2.6-1.9-2.6-1.8M228.9 926.8l-2.3-2.3-2.2-2.3-2.3-2.3-2.2-2.3M241.8 927.1l-2.1-2.4-2-2.5-1.9-2.5-1.8-2.7M257.1 927.3l-2.7-1.8-2.3-2.1-2.2-2.4-1.8-2.6-1.3-2.9M268.8 920.8l-2.9 1.3-3.2 .3-3.1-.5M279.1 917.7l-.9 3-1.2 3-1.6 2.8M291.9 912.7l-.4 3.2-.3 3.1-.3 3.2-.2 3.2-.1 3.2 .1 3.2M311.7 901.7l-2.1 2.4-1.7 2.7-1.3 2.9-1 3.1-.7 3.1-.5 3.1-.2 3.2 0 3.2 .2 3.2 .5 3.2 1 3 1.6 2.8 2.3 2.2 2.8 1.6M331.5 904.8l-3 1-2.8 1.6-2.5 2-2.1 2.4-1.7 2.7-1.1 3-.6 3.1-.3 3.2 .1 3.2 .7 3.1 1.2 3 1.8 2.6 2.4 2.2 2.7 1.6 3 1.1M339.8 918l-3.1-.4-3.1 .9-2.2 2.2-1.1 3 0 3.2 1.6 2.8 2.6 1.9M346.1 929.7l.1-3.2-1.2-2.9-1.8-2.7-2.3-2.2-2.9-1.3M361.7 927l-2.1-2.4-2.2-2.4-2.1-2.4-2.1-2.4M375.1 926.9l-2.2-2.3-2.1-2.4-2.2-2.3-2.2-2.4M387.3 927.7l-1.6-2.7-1.6-2.8-1.6-2.7-1.6-2.8M398 925.4l-.6-3.2-.7-3.1M410 923.7l1.3-2.9M421.1 923.7l2.9-1.5 2.9-1.2M431 923.5l3.1-.7 3.2-.6 3.1-.5 3.2-.3M439.5 923.4l3.1-.4 3.2-.4 3.2-.3 3.2-.2 3.2-.2 3.2-.1 3.2-.1M449.5 922.9l3.2-.2 3.2-.2 3.2-.1 3.2-.1 3.2-.1 3.2 0 3.2 0 3.2 0 3.2 .2M461.2 922l3.2 0 3.2 0 3.2 0 3.2 .1 3.2 .1 3.2 .2 3.2 .3 3.2 .3 3.1 .4 3.2 .5M474.6 920.5l3.2 .2 3.2 .2 3.2 .4 3.1 .4 3.2 .5 3.2 .6 3.1 .6 3.1 .8 3.1 .8 3.1 .9M488.3 918.2l3.2 .6 3.1 .8 3.1 .8 3.1 .9 3 .9 3 1 3.1 1.1 2.9 1.2 3 1.3 2.9 1.3M502.5 915.8l3 1.2 2.9 1.2 2.9 1.3 2.9 1.3 2.9 1.4 2.9 1.4 2.8 1.5 2.9 1.5 2.7 1.6 2.8 1.6M518 914.9l2.8 1.6 2.7 1.7 2.8 1.6 2.7 1.6 2.8 1.6 2.8 1.7 2.7 1.6 2.7 1.7 2.8 1.6M531.4 914.8l2.7 1.7 2.7 1.7 2.8 1.6 2.7 1.6 2.8 1.6 2.8 1.6 2.8 1.5 2.8 1.6 2.8 1.5M545.5 916.7l2.8 1.5 2.9 1.4 2.9 1.3 2.9 1.3 3 1.3 2.9 1.3 3 1.1 3 1.2M558.2 918.3l3 1.1 3 1 3.1 1 3 .8 3.1 .9 3.1 .7 3.2 .7 3.1 .6M571 920.1l3.2 .6 3.1 .6 3.2 .5 3.2 .4 3.1 .4 3.2 .3 3.2 .3 3.2 .1M584.2 921.5l3.2 .3 3.2 .2 3.2 .1 3.2 .1 3.2 .1 3.2 0 3.2 0 3.2-.1M595.9 922.3l3.2 .1 3.2 0 3.2 0 3.2-.1 3.2-.1 3.2-.2 3.2-.1 3.2-.2 3.1-.2M609.2 923l3.2-.2 3.2-.1 3.2-.2 3.2-.2 3.2-.2 3.2-.2 3.2-.2 3.1-.2 3.2-.2M622.5 923.2l3.2-.2 3.2-.2 3.2-.2 3.2-.3 3.2-.2 3.2-.2 3.2-.2 3.2-.1 3.2-.2M635.8 923.2l3.2-.2 3.2-.3 3.2-.2 3.2-.2 3.2-.2 3.2-.1 3.2-.2 3.2-.1 3.2-.1M650.7 922.8l3.2-.1 3.2-.2 3.2-.2 3.2-.1 3.2-.1 3.2-.1 3.2 0 3.2-.1M664 922.5l3.2-.1 3.2-.1 3.2 0 3.2-.1 3.2 0 3.2 0 3.2 0 3.2 0M60 907.4l3.2 .7 3.1 .8 3 .9M73.7 906.4l2.9 1.3 2.8 1.5 2.9 1.5M87.6 905.4l2.5 2 2.4 2.1 2.4 2.1M102.9 905.8l1.7 2.7 1.7 2.7M117.8 906.9l.2 3.2M132 907.1l-1.6 2.7M147.3 906.9l-2.8 1.6-2.6 1.7M161 907.9l-3.2 .6-3.1 .7M175.9 908.9l-3.1-.3-3.2-.2-3.2-.1M189 910.1l-3-1.1-3.1-1-3-.9M201.8 911.1l-2.7-1.8-2.7-1.7-2.7-1.6M213.3 910.8l-2.2-2.3-2.2-2.4M225.1 909.9l-1.4-2.9M237.6 910.1l.2-3.2M249.6 913l.7-3.1 1.4-2.9 2.2-2.3M261.3 907.6l3 .9 2.7 1.6M275.6 904.1l1.5 2.8 1 3.1 .5 3.2M291.4 903.7l-.3 3.2-.4 3.2-.3 3.1M310.5 899.4l-2.3 2.2-1.9 2.6-1.5 2.8-1.2 2.9-1 3.1-.8 3.1-.5 3.2M339 900.5l-3.2-.3-3.2 .2-3.2 .5-3 .9-2.9 1.4-2.7 1.8-2.3 2.2-2 2.5-1.7 2.7-1.4 2.9-.9 3.1-.6 3.1-.1 3.2 .2 3.2 .6 3.1M351.7 913.1l-2.6-1.9-2.7-1.5-3-1.3-3.1-.7-3.2-.3-3.2 .2-3.1 .9-3 1.1-2.7 1.7-2.3 2.2-1.8 2.6-1.3 2.9-.7 3.1-.2 3.2M354.8 915.4l-2.4-2.1-2.6-1.9-2.7-1.6-3-1.3-3-1.1-3.1-.7-3.2-.2-3.2 .4M359.8 910.7l-2.4-2.2-2.3-2.2M371.4 909.9l-1.3-2.9M384.2 910.1l-.3-3.2M422.4 908l3.1 .9M434.2 907.5l3.1 1 3 .9M444.4 906.8l3.1 .9 3.1 .8 3.1 .7 3.2 .6M456.1 906.9l3.1 .7 3.1 .6 3.2 .6 3.1 .5 3.2 .5M467.8 906.6l3.1 .6 3.2 .6 3.1 .7 3.1 .6 3.2 .7 3.1 .7M481.3 905.7l3.1 .8 3.1 1 3 1 3 1 3.1 1.1 2.9 1.1M496.8 904.6l2.8 1.6 2.8 1.5 2.8 1.5 2.8 1.6 2.8 1.5M511.1 903.2l2.3 2.2 2.5 2.1 2.5 2 2.5 1.9 2.6 1.8M524.8 902.8l2.1 2.4 2.3 2.2 2.4 2.1 2.5 2 2.7 1.9M538.5 904.8l2.5 1.9 2.7 1.8 2.8 1.6 2.8 1.5M549.5 906l2.9 1.1 3.1 1 3.1 .8 3.1 .6 3.2 .5M560.8 907.9l3.1 .4 3.2 .2 3.2 0 3.2-.1 3.2-.2 3.2-.4M570.9 909.5l3.2 0 3.2-.3 3.2-.3 3.2-.4 3.1-.5 3.2-.6 3.1-.6 3.1-.6M581.1 910.7l3.2-.3 3.2-.4 3.1-.5 3.2-.5 3.2-.5 3.1-.6 3.2-.5 3.1-.5 3.2-.5 3.1-.5M592.8 910.9l3.2-.5 3.2-.4 3.1-.5 3.2-.4 3.2-.4 3.1-.4 3.2-.4 3.2-.3 3.2-.3 3.2-.2 3.2-.1M604.5 910.3l3.1-.4 3.2-.4 3.2-.3 3.2-.3 3.2-.3 3.2-.1 3.2-.2 3.2-.1 3.2 0 3.2 .1 3.2 .1 3.2 .2M617.7 908.9l3.2-.2 3.2-.2 3.2-.1 3.2 0 3.2 0 3.2 .1 3.2 .1 3.2 .2 3.2 .2 3.1 .3 3.2 .3 3.2 .4M631 907.3l3.2 0 3.2 .1 3.2 .2 3.2 .3 3.2 .2 3.2 .4 3.2 .3 3.1 .4 3.2 .4 3.2 .4 3.2 .4 3.1 .4M646 906.1l3.2 .4 3.2 .4 3.2 .4 3.1 .5 3.2 .4 3.2 .5 3.1 .5 3.2 .4 3.2 .4 3.2 .4 3.1 .3M661 906.1l3.1 .5 3.2 .5 3.2 .5 3.1 .5 3.2 .4 3.2 .3 3.2 .4 3.1 .2 3.2 .1 3.2 0M58.6 892.8l3.1 .9 3 1 3 1.1 3 1.2M73.8 892.4l2.8 1.5 2.8 1.6 2.7 1.7M88.8 892.7l2.5 2 2.5 2.1M103.6 893.5l2 2.4M159.4 895l-3.1-.6M172.6 895.3l-2.9-1.2M185.8 895.6l-2.7-1.8M198.9 895.8l-2.3-2.2M236.2 895.3l3-1.2M246.3 895.8l3.1-.8 3.2-.6 3.1-.5M256.3 894.6l3.2-.1 3.2 .1 3.2 .2 3.2 .5 3.1 .7M274.5 893.9l3.1 .8 3.1 .9M320.7 894.4l-3.2 .3-3.1 .5M335.6 895.4l-3.2-.5-3.2-.4-3.2-.2M367.6 894.3l3.2 .4 3.1 .4M381 893.7l3.1 1 3 1.1M394.7 893l2.7 1.7 2.6 1.8M408.6 892.3l2.1 2.4 2 2.5M422.4 891.9l1.6 2.8 1.6 2.8M436.5 893.3l1.6 2.8M449.6 893.5l2 2.5M462.7 893.7l2.4 2M503.6 893.1l.4 3.2M517.2 893.1l-.2 3.2M530.6 893.1l-.3 3.2M567.5 896.2l2.8-1.5 2.8-1.6M576.5 898.3l2.9-1.3 2.9-1.5 2.7-1.6 2.8-1.7 2.6-1.7M586.7 899.2l2.9-1.3 3-1.2 2.9-1.3 2.9-1.3 2.9-1.3 3-1.3 2.9-1.2M596.6 899.1l3-1 3-1.1 3.1-.9 3-1 3.1-.8 3.1-.8 3.1-.7 3.2-.6 3.1-.5M606.3 898.1l3.1-.8 3.1-.8 3.2-.6 3.1-.6 3.2-.4 3.2-.4 3.1-.3 3.2-.1 3.2-.1 3.2 .1 3.2 .1M617.7 895.9l3.2-.5 3.2-.4 3.2-.2 3.2-.1 3.2-.1 3.2 .1 3.2 .1 3.2 .3 3.1 .3 3.2 .4 3.2 .4 3.1 .5M629.4 893.5l3.2-.1 3.2 0 3.2 .1 3.2 .3 3.2 .3 3.2 .4 3.2 .4 3.1 .5 3.2 .6 3.1 .6 3.2 .6 3.1 .6 3.1 .7M642.9 891.6l3.2 .3 3.2 .3 3.2 .5 3.1 .5 3.2 .6 3.1 .6 3.2 .6 3.1 .7 3.1 .6 3.2 .6 3.1 .6 3.2 .5 3.1 .4M659.5 891.4l3.1 .6 3.2 .6 3.1 .6 3.2 .6 3.1 .6 3.2 .6 3.1 .5 3.2 .4 3.2 .3 3.2 .1 3.2 0M58.6 879l3.1 .9 3 1 3 1.1 3 1.2M73.7 878.8l2.9 1.4 2.8 1.5 2.9 1.5M88.6 879.2l2.7 1.7 2.7 1.8M103.4 880l2.5 1.9M236.1 880.9l3.2 0M247.8 881.1l3.2-.2 3.2-.1M259.5 881.3l3.2-.2 3.2-.3 3.2-.3M274.5 881.5l3.1-.6 3.1-.6M289.4 881.5l3-1.1M302.9 881.8l2.7-1.7M316.2 881.9l2.6-1.9M329.3 881.5l3-1.2M339.4 881.8l3.2-.6 3.1-.5 3.2-.4M349.5 881.2l3.1-.2 3.2-.1 3.2 0 3.2 .1 3.2 .1M359.6 880.3l3.2 .1 3.2 .1 3.2 .3 3.1 .3 3.2 .4 3.2 .5 3.1 .6M373 879.3l3.2 .3 3.1 .5 3.2 .5 3.1 .7 3.1 .7 3.1 .9 3 1M388.1 878.6l3.1 .6 3.1 .8 3.1 .9 3 1.1 2.9 1.2 2.9 1.5M403.2 878l3.1 1 2.9 1.2 2.9 1.4 2.8 1.7 2.5 1.9M419.9 878.5l2.8 1.5 2.6 1.8 2.4 2.1M434.8 878.9l2.5 2 2.3 2.3M492 880.3l-2.9 1.3M505.3 880.3l-2.9 1.3M520.1 879.7l-3 1.2-2.9 1.4M533.5 879.9l-3.1 1-3 1.2M546.9 880.5l-3.2 .4-3.1 .6M558.6 881.2l-3.1-.5M571.6 882l-2.5-2.1M583.9 882.5l-.5-3.1M596.1 882.3l1.7-2.7M606.1 883.3l2.8-1.6 2.8-1.5 2.8-1.5M615.9 883.1l3-.9 3.1-.9 3.1-.7 3.2-.7 3.1-.6M624.2 882.6l3.1-.5 3.2-.5 3.2-.4 3.2-.3 3.2-.2 3.2-.2 3.2-.1 3.2 0M634.2 881.5l3.2-.2 3.2-.2 3.2-.1 3.2-.1 3.2 0 3.2 .1 3.2 .1 3.2 .1 3.2 .2 3.2 .2M644.3 880.5l3.2 0 3.2 0 3.2 0 3.2 .1 3.2 .2 3.2 .1 3.2 .2 3.2 .2 3.2 .3 3.2 .2 3.2 .2 3.1 .2M659.2 880l3.2 .1 3.2 .2 3.2 .2 3.2 .2 3.2 .1 3.2 .2 3.2 .2 3.2 .2 3.2 .1 3.2 0 3.2 0M58.8 864.8l2.9 1.2 3 1.2 3 1.2 2.9 1.3M73.8 864.9l2.8 1.5 2.8 1.5 2.9 1.5M88.6 865.5l2.7 1.7 2.7 1.7M103.3 866.2l2.6 1.9M262.8 867.6l3-.8M274.4 867.4l3.2-.2 3.2-.2M286.1 866.6l3.2 .4 3.2 .4 3.2 .5M296.5 865.1l3.1 .9 3.1 .8 3.1 .8 3.1 .8 3.1 .7M306.8 863.8l3.1 1.1 3 .9 3.1 1 3.1 .8 3.1 .8 3.1 .7 3.1 .5M318.4 864l3.1 1 3.1 .8 3.1 .8 3.1 .6 3.2 .5 3.2 .5 3.1 .3 3.2 .2M329.9 865.4l3.1 .6 3.2 .5 3.1 .4 3.2 .2 3.2 .2 3.2 0 3.2 0 3.2-.1 3.2-.2M343.1 867.5l3.2 .1 3.2 0 3.2-.1 3.1-.2 3.2-.2 3.2-.4 3.2-.3 3.2-.5 3.1-.5M354.8 868.9l3.2-.2 3.2-.3 3.2-.4 3.2-.4 3.2-.4 3.1-.5 3.2-.5 3.1-.6 3.2-.5 3.1-.6M366.6 869.4l3.2-.3 3.2-.4 3.1-.4 3.2-.5 3.2-.4 3.1-.4 3.2-.5 3.2-.4 3.2-.4 3.1-.4 3.2-.3M379.9 869l3.1-.4 3.2-.4 3.2-.3 3.2-.3 3.2-.3 3.2-.2 3.1-.3 3.2-.2 3.2-.1 3.2 0 3.2-.1M394.7 867.8l3.2-.2 3.2-.2 3.2-.1 3.2-.1 3.2 0 3.2 0 3.2 .1 3.2 .1 3.2 .2 3.1 .2M411.2 866.7l3.2 0 3.2 .1 3.2 .2 3.2 .2 3.2 .2 3.2 .3 3.1 .4 3.2 .4M429.3 866.4l3.2 .2 3.2 .4 3.2 .4 3.1 .4 3.2 .5M447.4 866.7l3.2 .5 3.1 .5M492.1 867.3l-3.2-.3M507 867.4l-3.2-.2-3.2-.2M521.9 867.3l-3.2-.1-3.2-.1-3.2-.1M536.8 867.1l-3.2 .1-3.2 0-3.2 0-3.2-.1M551.7 866.9l-3.2 .1-3.2 .1-3.2 .1-3.2 .1-3.2 .1M566.6 866.7l-3.2 .2-3.2 .1-3.2 .2-3.2 .1-3.2 .2-3.2 .1M581.5 866.6l-3.2 .2-3.2 .1-3.2 .2-3.2 .2-3.2 .1-3.1 .2-3.2 .1M593.2 867l-3.2 0-3.2 .1-3.1 .1-3.2 .1-3.2 .1-3.2 .1M601.8 867.4l-3.2-.2-3.2-.1-3.2 0M611.8 867.6l-3.1-.9M633.9 868.5l3-1.3 2.9-1.3M641 869.8l3-.9 3.1-.8 3.1-.9 3.1-.9 3-.9 3.1-.8M651 869.8l3.1-.7 3.1-.7 3.1-.6 3.2-.6 3.1-.6 3.2-.6 3.1-.5 3.2-.5M662.5 869.1l3.2-.5 3.2-.4 3.1-.5 3.2-.4 3.2-.3 3.2-.2 3.2-.2 3.2 0 3.2 .1M62.3 851.4l2.4 2 2.5 2.1M76.3 850.7l1.7 2.7 1.9 2.6M90.8 851.9l1.1 3M211.6 851.9l-1.1 3M276.3 852.6l2.7 1.7M284.3 849l2.5 1.9 2.7 1.7 2.8 1.6 2.8 1.5 2.9 1.4M292.1 845.6l2.5 2 2.7 1.8 2.7 1.7 2.8 1.6 2.8 1.5 2.9 1.4 2.9 1.4 2.9 1.3 2.9 1.3M299.6 843l2.5 1.9 2.7 1.8 2.7 1.7 2.8 1.5 2.9 1.5 2.9 1.4 2.9 1.3 2.9 1.2 3 1.2 3 1.1 3.1 1 3 .8 3.2 .7M311.8 845.2l2.8 1.5 2.8 1.4 2.9 1.4 3 1.2 3 1.2 3 1 3.1 1 3 .8 3.2 .8 3.1 .5 3.2 .4 3.2 .3 3.2 0M327.1 849.4l3 1.1 3 .9 3.1 .8 3.2 .6 3.1 .4 3.2 .4 3.2 .2 3.2 0 3.2-.1 3.2-.4 3.2-.5M341.5 853.4l3.2 .4 3.2 .2 3.2 0 3.2-.2 3.1-.4 3.2-.4 3.2-.6 3.1-.7 3.1-.9 3-.9M353.5 856.8l3.2-.3 3.2-.5 3.1-.6 3.1-.7 3.1-.8 3.1-.9 3-1 3.1-.9 3-1 3.1-.9 3.1-.9M365.6 858.6l3.1-.7 3.1-.8 3.1-.9 3-1 3.1-.9 3.1-.9 3-.9 3.1-.8 3.1-.8 3.1-.7 3.2-.6 3.1-.6M377.2 858.6l3.1-.9 3.1-.9 3.1-.8 3.1-.8 3.1-.8 3.1-.7 3.1-.6 3.2-.6 3.1-.5 3.2-.4 3.2-.3 3.2-.3 3.2-.2M388.6 857.3l3.1-.8 3.2-.7 3.1-.6 3.1-.6 3.2-.4 3.2-.4 3.2-.4 3.2-.3 3.1-.2 3.2-.2 3.2-.1 3.2-.1 3.2-.1 3.2 0M403.3 855.1l3.1-.5 3.2-.3 3.2-.3 3.2-.2 3.2-.2 3.2-.1 3.2-.1 3.2-.1 3.2 0 3.2-.1 3.2 0 3.2-.1 3.2 0M422.9 853.6l3.2-.1 3.2 0 3.2 0 3.2-.1 3.2 0 3.2-.1 3.2 0 3.2-.2 3.2-.2M445.8 853.7l3.2-.1 3.2-.3 3.2-.4M478.4 854.4l-2.4-2M493.3 855l-2.8-1.6-2.8-1.6M508.1 855.5l-2.9-1.4-2.8-1.4-2.8-1.6M521.6 855.2l-3-1.1-2.9-1.3-2.9-1.4M536.7 854.9l-3.2-.7-3.1-.8-3-.9-3-1.1M551.7 853.7l-3.2 0-3.2-.2-3.2-.2-3.1-.4-3.2-.5M569.8 852.2l-3.2 .4-3.2 .3-3.2 .3-3.2 .2-3.2 .2-3.2 .1-3.2 0-3.2-.2M587.7 850.7l-3.1 .5-3.2 .5-3.1 .5-3.2 .5-3.2 .5-3.1 .4-3.2 .4-3.2 .4-3.2 .3-3.2 .3-3.2 .1M602.6 850.3l-3.2 .5-3.1 .5-3.2 .5-3.1 .5-3.2 .6-3.1 .5-3.2 .5-3.2 .6-3.1 .5-3.2 .4-3.2 .5-3.1 .4M612.8 851.2l-3.2 .4-3.1 .4-3.2 .5-3.2 .4-3.1 .5-3.2 .5-3.2 .5-3.1 .6-3.2 .5-3.1 .5M621.4 852.6l-3.2 .1-3.2 .3-3.1 .2-3.2 .4-3.2 .4-3.2 .4-3.1 .4M628.4 853.6l-3.2-.2-3.2 0-3.2 0M638.4 854l-3-1.2M662 854l3-1.1M673.6 853.3l3.2 .1 3.2 .3M64.1 838.2l1.2 2.9M78.3 838.1l-.6 3.1M92.1 838.2l-1.5 2.9M105.6 838.4l-1.9 2.5M225.9 839.1l-3 1.1M240.7 838.5l-3 1.2-3 1.1M253.8 838.1l-2.8 1.6-2.9 1.4M266.5 837.3l-2.2 2.4-2.3 2.2M277.9 836.5l-.3 3.2 0 3.1M288.3 833.9l1 3 1.6 2.8 1.9 2.6 2.2 2.3M296.9 829.4l1.1 3 1.7 2.7 2.1 2.4 2.4 2.2 2.5 2 2.6 1.8 2.7 1.7 2.8 1.6M306 828.8l1.7 2.8 2.1 2.4 2.4 2.1 2.6 1.8 2.7 1.8 2.8 1.6 2.8 1.5 2.9 1.3 3 1.2 3 1.1M317.2 831.4l2.5 2.1 2.6 1.8 2.7 1.6 2.9 1.5 2.9 1.3 3 1.1 3 1.1 3.1 .8 3.1 .7 3.2 .5M333.4 836.4l3 1.2 3.1 1 3.1 .7 3.1 .7 3.2 .4 3.2 .3 3.2 0M347.9 839.5l3.1 .3 3.2 0 3.2-.1 3.2-.3 3.2-.4 3.1-.6M361.4 841.8l3.1-.6 3.2-.7 3.1-.8 3-.9 3.1-.8 3.1-.9M371.8 843.3l3-1 3.1-.9 3.1-.9 3.1-.8 3.1-.9 3.1-.7 3.1-.7 3.1-.6M380.3 843.7l3-.9 3.1-.8 3.1-.8 3.1-.7 3.2-.6 3.1-.5 3.2-.5 3.2-.5 3.1-.3 3.2-.4 3.2-.3M390.1 842.8l3.2-.7 3.1-.6 3.1-.5 3.2-.5 3.2-.4 3.2-.3 3.2-.3 3.2-.3 3.1-.2 3.2-.2 3.2-.2 3.2-.2 3.2-.3M404.8 841.1l3.2-.3 3.2-.3 3.2-.3 3.2-.2 3.2-.2 3.2-.1 3.2-.2 3.2-.2 3.2-.3 3.1-.3 3.2-.4 3.2-.5M424.5 840.6l3.2-.2 3.2-.2 3.2-.2 3.2-.3 3.2-.4 3.1-.5 3.1-.7 3.1-1M447.6 840.7l3-1 2.9-1.4M464.1 841.2l-.4-3.1M480.8 842.9l-2.4-2.1-2.4-2.3-2.2-2.3M495.5 843.7l-2.5-2-2.5-2-2.4-2.1-2.4-2.1M508.6 843.9l-2.4-2.1-2.4-2.1-2.3-2.2-2.3-2.3M520.6 843l-2.4-2.2-2.2-2.3-2-2.5M532.9 841.7l-2.5-2-2.3-2.3M548.2 841.3l-3-1-2.9-1.3-2.8-1.6M565 840.3l-3.2-.1-3.2-.3-3.1-.5-3.2-.6-3.1-.8M583.1 839.1l-3.2 .2-3.2 .2-3.2 .1-3.2 .1-3.2 0-3.2-.1-3.2-.2-3.1-.3M601.2 838.2l-3.2 .2-3.2 .3-3.2 .3-3.2 .3-3.2 .2-3.1 .3-3.2 .2-3.2 .2-3.2 .2-3.2 .1-3.2 0M616.1 837.8l-3.2 .3-3.2 .3-3.2 .3-3.2 .3-3.2 .3-3.1 .4-3.2 .3-3.2 .3-3.2 .3-3.2 .3-3.2 .3-3.2 .3M629.4 837.7l-3.2 .4-3.2 .3-3.2 .3-3.2 .3-3.2 .3-3.1 .4-3.2 .3-3.2 .3-3.2 .4-3.2 .3-3.1 .4-3.2 .4M637.9 838.1l-3.2 .4-3.2 .3-3.2 .4-3.1 .3-3.2 .3-3.2 .3-3.2 .4-3.2 .3-3.2 .3M648 838.2l-3.2 .5-3.2 .4-3.1 .4-3.2 .3-3.2 .4-3.2 .3-3.2 .3M656.5 838.4l-3.2 .7-3.1 .6-3.2 .5-3.2 .4M668 837.9l-3 1.2-3 1.1-3.1 .9M679.2 837.6l-2.4 2.1-2.4 2.1M131.7 824.3l-.9 3.1M144.7 824.3l-.4 3.2M157.9 824.3l-.1 3.2M225.6 826.9l-2.5-2M239.3 825.8l-3.2 .2M255.1 823.5l-2.7 1.6-2.8 1.5-2.9 1.4M268.8 821.4l-2.2 2.3-2.3 2.2-2.3 2.2-2.5 2.1M281.2 820.6l-1.9 2.6-1.7 2.7-1.7 2.7-1.6 2.8M293.3 820l-1.4 2.8-1 3.1-.7 3.1-.1 3.2M305.2 819.7l-.9 3-.1 3.2 .4 3.2 1.3 2.9M317 821.2l.1 3.2 .9 3 1.6 2.8M330 821.2l.2 3.2 1.2 3 2 2.5M343.3 822.8l.8 3.1 1.6 2.8M356.7 824.5l1.4 2.8M382.5 825.9l3.2 0M391.1 827.3l3.2-.7 3.1-.7 3.1-.8 3-1M401.4 828.5l3.2-.7 3-.9 3.1-1 3-1.1 2.9-1.3 2.8-1.5M413.4 829.4l3-.8 3.1-1 3-1.1 2.9-1.2 2.9-1.5 2.7-1.7 2.5-2M430.1 829.3l3-1.2 2.8-1.4 2.7-1.6 2.6-1.9 2.4-2.2M447.2 829.3l2.3-2.2 2.1-2.4 1.9-2.6M463.7 829.1l.2-3.2 .4-3.2M478.6 828.8l-1.4-2.9-1.1-3M491.9 828.7l-1.4-2.8-1.1-3M504.6 829l-.8-3.1-.4-3.2M517.1 829.1l0-3.2 .4-3.2M530.3 829.1l.1-3.2 .5-3.2M544.7 828.9l-1-3-.6-3.2M560.7 829l-2.6-1.9-2.2-2.4-1.7-2.6M579.4 829.1l-3.1-.8-3.1-1.1-2.9-1.3-2.8-1.5-2.5-1.9-2.2-2.4M597.8 828.5l-3.2-.4-3.1-.5-3.2-.5-3.1-.8-3.1-.8-3-1.1-3-1.2-2.7-1.6-2.6-1.9M614.5 827.5l-3.2-.1-3.2-.2-3.2-.3-3.2-.3-3.2-.5-3.1-.5-3.2-.6-3.1-.7-3-.9-3-1.1-2.9-1.4M629.4 826.3l-3.2 .1-3.2 0-3.2 0-3.1-.1-3.2-.2-3.2-.2-3.2-.3-3.2-.3-3.2-.5-3.1-.5-3.2-.7-3.1-.8M642.7 824.9l-3.1 .3-3.2 .3-3.2 .2-3.2 .1-3.2 .1-3.2 0-3.2 0-3.2-.1-3.2-.1-3.2-.2-3.2-.3-3.2-.4M654.3 823.8l-3.1 .5-3.2 .4-3.2 .4-3.1 .4-3.2 .3-3.2 .2-3.2 .2-3.2 .2-3.2 .1-3.2 0-3.2 0M665.9 823l-3.1 .6-3.2 .6-3.1 .6-3.2 .6-3.1 .5-3.2 .5-3.2 .4-3.1 .4-3.2 .4-3.2 .3M677.5 822.5l-3.1 .7-3.1 .8-3.1 .8-3.2 .7-3.1 .8-3.1 .7-3.1 .7-3.1 .6-3.2 .6M687.6 823l-3.1 .7-3.1 .8-3.1 .9-3 1-3.1 .9-3 1-3.1 .9M64.7 815.3l0-3.2-.2-3.2M77.2 818.5l.4-3.2 .4-3.2 .3-3.2 .1-3.2M90.4 818.5l.5-3.2 .4-3.2 .4-3.2 .2-3.1M104.5 813.7l.3-3.2M132.1 809.1l-.9 3-.7 3.1M146.2 806l-.9 3-.8 3.1-.6 3.2-.5 3.1M159.8 804.4l-.9 3-.8 3.2-.5 3.1-.5 3.2-.4 3.1M171.8 807.4l-.5 3.1-.3 3.2-.3 3.2M210 815.1l1.1-3 1.2-2.9M224.1 813.7l.6-3.1M252.4 811.5l-2.9 1.3M267.9 809l-2.4 2.1-2.4 2.1-2.4 2.1M283.7 806.9l-2.5 2-2.4 2.1-2.4 2.2-2.3 2.2-2.2 2.3M298.6 806.3l-2.7 1.8-2.5 2-2.5 2-2.4 2.2-2.2 2.2-2.1 2.5M312.1 806.6l-2.7 1.7-2.7 1.9-2.5 1.9-2.4 2.1-2.3 2.2-2 2.5M325.3 806.5l-2.6 1.8-2.6 1.9-2.6 1.9-2.4 2.1-2.3 2.2-2 2.6M339.5 805.1l-2.5 2-2.5 1.9-2.5 2.1-2.4 2.1-2.3 2.2-2 2.4-1.6 2.8M352.3 804.5l-2.4 2.1-2.3 2.2-2.3 2.2-2.3 2.3-2.2 2.3-1.9 2.5-1.5 2.8M364 805.1l-2.2 2.3-2.2 2.3-2.2 2.4-2.1 2.4-1.9 2.6-1.7 2.7M374.9 807.3l-2.1 2.4-2 2.4-2 2.5-1.9 2.6M385.1 810.9l-2.1 2.5M408.9 814.8l1.8-2.7 1.6-2.7M419 818.4l2.2-2.4 1.9-2.5 1.8-2.7 1.6-2.7 1.7-2.7M431.4 819.7l2.1-2.4 2-2.5 1.8-2.7 1.8-2.6 1.8-2.7 2-2.5M445.9 818.6l1.9-2.6 1.8-2.6 1.9-2.6 2-2.5 2.1-2.4M461 816l1.9-2.6 2-2.5 2.2-2.3M475 814.4l2.2-2.3 2.4-2.1M488.1 814.2l2.4-2.1 2.5-1.9M500.2 815.3l2.4-2.2 2.4-2 2.6-1.9M511.7 818l2.1-2.4 2.2-2.4 2.3-2.2 2.3-2.2 2.3-2.2M525.9 818.7l1.7-2.7 1.9-2.6 1.9-2.6 1.9-2.5 1.8-2.6M541.6 819.8l.7-3.1 .9-3.1 1-3 1.1-3 1.2-3M558.8 819.9l-1-3-.6-3.2-.3-3.2-.1-3.2 .2-3.2M576.4 819.5l-2.4-2.2-2-2.4-1.7-2.8-1.4-2.8-1.1-3-.7-3.2M594.3 819.1l-2.9-1.3-2.8-1.6-2.6-1.9-2.3-2.2-2.3-2.3-1.9-2.5-1.7-2.8-1.3-2.9M611.7 818.2l-3.1-.9-3-1-3-1.1-2.9-1.4-2.7-1.7-2.7-1.7-2.5-2-2.3-2.2-2.1-2.5-1.8-2.6M627.3 816.4l-3.2-.4-3.1-.6-3.2-.7-3-.9-3.1-1.1-2.9-1.2-2.9-1.3-2.8-1.6-2.7-1.7-2.5-2-2.3-2.2M641 814.5l-3.2-.2-3.2-.3-3.2-.4-3.1-.5-3.2-.6-3.1-.7-3.1-.9-3-1-3-1.2-2.9-1.4-2.7-1.6M654.4 812.8l-3.2 .1-3.2-.1-3.1-.1-3.2-.1-3.2-.3-3.2-.3-3.2-.5-3.1-.5-3.2-.7-3.1-.8-3-1M667.8 811.9l-3.2 .1-3.2 .1-3.2 0-3.2 .1-3.2-.1-3.2 0-3.2-.1-3.2-.1-3.2-.3-3.2-.3-3.2-.5M679.5 812l-3.2 0-3.2-.1-3.2 .1-3.2 0-3.2 .1-3.2 .1-3.2 .1-3.2 0-3.2 0-3.2 0M692.7 813.4l-3.1-.5-3.2-.3-3.2-.3-3.2-.1-3.2-.1-3.2 0-3.2 0-3.2 .1-3.2 0-3.2 .1M68 801.8l-2-2.5-2.6-1.9-2.8-1.5M80.4 804.3l-.9-3.1-1.5-2.8-1.8-2.6-2.5-2.1M93.4 802.7l-1.2-3-1.7-2.7-2.2-2.3M107.1 800.4l-2.5-2-2.5-2M121.1 798.2l-3.2 .2-3.2-.1M135.2 795.7l-2.6 1.8-2.7 1.8-2.6 1.8M150.1 792.7l-2.3 2.1-2.2 2.3-2.1 2.5-1.9 2.6-1.6 2.7M162.7 792l-2.1 2.4-1.9 2.6-1.7 2.7-1.5 2.8-1.3 3M174.3 792.8l-1.7 2.7-1.4 2.9-1.4 2.9-1.1 3M184.9 796.8l-.9 3.1M280.5 796.9l-2.9 1.5-2.8 1.5M296.6 795.5l-2.8 1.4-2.9 1.5-2.8 1.5-2.8 1.5M311.2 794.5l-2.8 1.6-2.8 1.5-2.8 1.5-2.8 1.5-2.8 1.6M327 792.3l-2.7 1.9-2.7 1.7-2.7 1.7-2.8 1.6-2.7 1.6-2.8 1.5-2.8 1.6M342.2 789.6l-2.4 2.1-2.5 2-2.6 1.9-2.6 1.9-2.6 1.8-2.6 1.7-2.7 1.8-2.8 1.7-2.7 1.7M354.9 788.8l-2.3 2.2-2.4 2.2-2.4 2.1-2.4 2.1-2.5 2-2.5 2-2.5 1.9-2.6 1.9-2.6 1.9M367.5 788l-2.2 2.4-2.2 2.3-2.2 2.3-2.3 2.3-2.3 2.2-2.4 2.2-2.3 2.1-2.4 2.2-2.4 2.1M377 791.1l-2 2.5-2.1 2.4-2.1 2.4-2.2 2.3-2.2 2.3-2.2 2.3M386.9 794.5l-1.8 2.6-2 2.5-2.1 2.4M409.4 799.3l2.6-1.9M420.5 801.7l2.3-2.3 2.4-2.1 2.6-1.8M431.6 803.9l2.1-2.4 2.3-2.1 2.5-2 2.7-1.9 2.7-1.6M443.3 804.6l2.3-2.3 2.4-2 2.6-1.9 2.6-1.8 2.8-1.7 2.8-1.5M456 803.9l2.5-2 2.7-1.8 2.7-1.7 2.7-1.7 2.8-1.5 2.9-1.6M470.2 802.3l2.8-1.6 2.8-1.6 2.8-1.5 2.8-1.5 2.8-1.6M482.1 803l2.8-1.5 2.8-1.6 2.8-1.5 2.8-1.6 2.7-1.7 2.7-1.8M495.7 803.4l2.7-1.6 2.7-1.7 2.7-1.7 2.6-1.9 2.6-1.9 2.5-2M508.3 805.2l2.6-1.8 2.5-2 2.5-2 2.4-2.1 2.4-2.2 2.2-2.2 2.1-2.4M522.8 806.6l2.3-2.3 2.2-2.3 2.1-2.4 2-2.5 2-2.5 1.9-2.6 1.7-2.7M538.4 808.2l1.6-2.8 1.5-2.8 1.5-2.8 1.5-2.9 1.4-2.8 1.3-2.9 1.3-3M555.6 807.9l.4-3.2 .4-3.2 .6-3.1 .7-3.2 .7-3.1 .7-3.1M573.1 809.2l-1.2-3-.8-3.1-.6-3.1-.3-3.2-.2-3.2 0-3.2 .2-3.2M589.5 807.8l-2-2.5-1.8-2.6-1.4-2.9-1.3-2.9-1-3.1-.7-3.1-.4-3.1M606.2 807.1l-2.6-1.9-2.4-2-2.2-2.3-2-2.5-1.9-2.6-1.6-2.8-1.3-2.9-1-3.1M622.5 805.8l-2.9-1.3-2.8-1.5-2.7-1.7-2.6-1.9-2.5-2.1-2.3-2.2-2.1-2.4-1.8-2.6-1.6-2.8M636.9 803.8l-3.1-.9-3-1.1-3-1.2-2.8-1.5-2.8-1.5-2.7-1.7-2.6-1.9-2.4-2.1-2.2-2.3M652.3 802.4l-3.1-.6-3.1-.6-3.1-.8-3.1-1-3-1-3-1.2-2.9-1.3-2.9-1.5-2.7-1.6-2.6-1.9M667.5 801.5l-3.2-.4-3.1-.5-3.2-.5-3.1-.7-3.2-.7-3.1-.7-3.1-.9-3-.9-3-1.1-3-1.3-2.8-1.4M682.4 801.5l-3.1-.5-3.2-.5-3.1-.5-3.2-.6-3.2-.5-3.1-.5-3.2-.6-3.1-.7-3.1-.7-3.1-.8-3.1-.9-3-1.1M695.5 802.4l-3.1-.8-3.1-.7-3.1-.7-3.1-.7-3.2-.6-3.1-.5-3.2-.6-3.1-.6-3.2-.5-3.1-.7-3.1-.6-3.1-.8M75.8 786.1l-3.2-.5-3.1-.5-3.2-.3-3.2-.4-3.2-.2-3.2-.2-3.2-.1M89.1 786.3l-3.2-.5-3.1-.5-3.2-.5-3.2-.4-3.1-.4-3.2-.4-3.2-.4M102.4 785.9l-3.1-.4-3.2-.3-3.2-.4-3.2-.4-3.1-.4-3.2-.4-3.2-.4M115.8 784.8l-3.2 .1-3.2-.1-3.2-.1-3.2-.2-3.2-.2-3.2-.3-3.1-.3M129 783.2l-3.1 .6-3.2 .4-3.2 .3-3.2 .2-3.2 .1-3.2 0-3.2 0M141.9 781.3l-3 1.1-3 1-3.1 .8-3.1 .8-3.1 .6-3.2 .6-3.2 .4M153.2 780.5l-2.8 1.4-2.9 1.4-3 1.3-2.9 1.3-3 1.1-3 1.2M164.5 780.2l-2.6 1.8-2.7 1.7-2.7 1.8-2.7 1.7-2.7 1.7M175.9 780.3l-2.3 2.2-2.4 2.1-2.4 2.1-2.4 2.2M187.6 780.9l-2.1 2.5-2.1 2.4-1.9 2.5M199.5 781.9l-1.7 2.7-1.6 2.8M211.8 783.2l-1.4 2.8M265.4 785.8l-2.2-2.4M279 785.3l-2.8-1.4M292.5 784.5l-3.2 .2M307.1 783.2l-2.9 1.4-2.9 1.3M322.6 780.7l-2.5 2-2.6 1.9-2.6 1.9-2.6 1.8M337.7 777.9l-2.2 2.3-2.3 2.3-2.4 2.1-2.4 2.1-2.5 2-2.5 2M350.6 777.5l-2.1 2.5-2.1 2.3-2.3 2.3-2.2 2.2-2.4 2.2-2.4 2.1M363.4 777.1l-1.9 2.6-2 2.5-2.1 2.4-2.1 2.4-2.2 2.3-2.3 2.2M375 777.8l-1.6 2.8-1.7 2.7-1.9 2.6-1.9 2.5-2.1 2.5M385.7 780.1l-1.1 3-1.1 3-1.4 2.9M397.1 783l.6 3.2M408.1 782.7l2.6 1.9 2.7 1.6M419.3 783.7l3.1 .7 3.2 .4 3.1 .3M430.9 785l3.2-.1 3.2-.3 3.2-.3 3.1-.5M442.8 786.5l3.1-.7 3.1-.8 3.1-.8 3.1-.9 3.1-.9M455 788.2l3-1.2 2.9-1.2 3-1.2 2.9-1.3 2.9-1.3 2.9-1.4M468.8 789.2l2.8-1.4 2.8-1.6 2.8-1.6 2.7-1.7 2.7-1.7 2.6-1.8M482.7 790.1l2.6-1.7 2.7-1.9 2.5-1.9 2.5-2 2.4-2.1 2.3-2.2M497.9 789.9l2.4-2 2.4-2.2 2.2-2.2 2.2-2.4 2-2.5M511.8 790.6l2.3-2.3 2-2.4 2-2.6 1.8-2.6 1.6-2.8M526 791.2l1.9-2.5 1.7-2.7 1.6-2.8 1.4-2.8 1.2-3M540.3 791.8l1.5-2.8 1.3-2.9 1.2-3 1.1-3 .7-3.1M554.5 793.9l.9-3.1 .9-3.1 .7-3.1 .8-3.1 .5-3.2 .3-3.2M569.8 794.2l.1-3.2 .2-3.2 .2-3.2 .3-3.2 .2-3.2 0-3.2M585.3 794l-.8-3.1-.5-3.1-.3-3.2-.3-3.2-.3-3.2-.2-3.2M600.8 793.3l-1.5-2.7-1.3-3-1-3-1-3.1-.7-3.1-.6-3.1M617.3 793.3l-2.3-2.3-2.1-2.4-1.8-2.6-1.7-2.8-1.4-2.8-1.2-3-.9-3.1M633.5 792.5l-2.7-1.6-2.6-1.9-2.4-2.1-2.2-2.3-2.2-2.4-1.8-2.6-1.7-2.7-1.3-2.9M649.5 791.5l-3-1.3-2.9-1.3-2.8-1.6-2.6-1.8-2.6-1.8-2.5-2.1-2.2-2.3-2.1-2.4-1.7-2.7M665.1 790.4l-3.1-.9-3-1.1-3-1.1-3-1.3-2.8-1.4-2.8-1.5-2.8-1.7-2.5-1.9-2.4-2.1-2.2-2.4M680.4 789.3l-3.1-.7-3.1-.7-3.1-.8-3.1-.9-3-1-3-1.2-3-1.2-2.9-1.3-2.8-1.5-2.7-1.7-2.6-1.9M694 788.1l-3.1-.6-3.2-.5-3.1-.6-3.1-.7-3.2-.7-3.1-.8-3-.8-3.1-1-3-1.1-3-1.2-2.9-1.4M75.5 773.6l-3.1-.7-3.1-.8-3.1-.8-3-.9-3.1-.9-3.1-.9-3.1-.7M88.9 773.6l-3.2-.6-3.1-.8-3.1-.9-3-.9-3-1.1-3-1.1-3-1.3M103.8 773.5l-3.1-.5-3.2-.6-3.1-.7-3.1-.9-3.1-.9-3-1-3-1.2-2.9-1.3M117.3 772.1l-3.2-.1-3.2-.2-3.1-.4-3.2-.6-3.1-.6-3.1-.8-3.1-1-2.9-1.1M131.8 767.3l-2.9 1.4-3.1 1-3.1 .7-3.2 .4-3.2 .1-3.2 0-3.2-.2-3.1-.5-3.2-.6M141.2 763.1l-2 2.5-2.4 2.1-2.7 1.7-2.9 1.4-2.9 1.3-3.1 .9-3.1 .6-3.2 .4M151.6 762.2l-1.6 2.8-2 2.5-2.2 2.3-2.5 2.1-2.6 1.8-2.8 1.5-3 1.3M163.7 763.3l-1.7 2.7-2 2.5-2.2 2.3-2.2 2.3-2.5 2-2.6 1.8M177.9 764l-2.2 2.3-2.3 2.3-2.2 2.2-2.3 2.3-2.4 2.1-2.5 2.1M191.1 766.3l-2.8 1.7-2.6 1.8-2.5 2-2.4 2.1-2.4 2.1M205.2 767.9l-3.1 .9-2.9 1.3-2.8 1.5-2.8 1.7-2.5 1.9M219 769.6l-3.2 .3-3.2 .5-3.1 .8-3 1.1-2.9 1.3M232.4 771.4l-3.2-.3-3.2-.2-3.2-.1-3.2 .1-3.2 .4M245.3 773.2l-3-1.1-3.1-.9-3.1-.8-3.1-.7-3.1-.6M258.2 774.4l-2.9-1.5-2.8-1.4-3-1.3-2.9-1.2-3-1.2M271.4 774.5l-2.8-1.5-2.9-1.5-2.8-1.4-2.9-1.3-3-1.3M285.2 773.3l-3.1-.9-3-1-3-1.1-3-1.1-3-1.2M297.3 771.1l-3.2 0-3.2-.3-3.2-.3-3.1-.6M310.4 769.1l-3.1 1-3.1 .7-3.1 .7-3.2 .4M324.3 766.7l-2.6 1.7-2.8 1.6-2.8 1.6-2.8 1.6-2.8 1.4M336.6 765.3l-2.3 2.3-2.3 2.2-2.4 2.1-2.3 2.1-2.5 2.1M348.8 764.4l-1.8 2.6-1.9 2.6-2 2.5-2 2.5-2.1 2.4M361.2 763.8l-1.4 2.9-1.5 2.8-1.7 2.7-1.7 2.7-1.9 2.6M373.4 765l-1.3 2.9-1.3 2.9-1.5 2.9-1.5 2.8M385.9 766.4l-1.3 2.9-1.1 3-1.2 3M398.4 767.8l-1 3-.9 3.1M410.9 769.3l-.5 3.1M449 771.1l3.2-.5M462.4 771.4l3-1.1M475.8 771.6l2.8-1.5M489.3 771.9l2.4-2.1M503 772.2l1.6-2.8M516.4 774l.7-3.2 .3-3.1M530.4 774l0-3.2-.3-3.1M543.8 777.2l.2-3.2-.3-3.2-.5-3.1-1.1-3M557.2 778.8l.2-3.2-.1-3.2-.5-3.1-.7-3.2-1.2-2.9M570.8 780.4l.1-3.2-.2-3.2-.4-3.2-.5-3.1-.8-3.1-1.1-3M584.8 782l-.2-3.2-.3-3.2-.4-3.2-.5-3.1-.6-3.2-.8-3.1-1-3M599.8 783.3l-.9-3.1-.7-3.1-.6-3.1-.6-3.2-.7-3.1-.6-3.1-.8-3.1-.8-3.1M614.1 781.3l-1.3-2.9-1.2-3-.9-3-.8-3.1-.8-3.1-.6-3.2-.7-3.1M629 780.5l-1.9-2.5-1.6-2.8-1.4-2.9-1.1-3-.9-3-.7-3.2-.5-3.1M642.6 778.4l-2.2-2.3-1.9-2.5-1.6-2.8-1.4-2.8-1-3.1-.6-3.1M655.9 776.4l-2.5-2-2.2-2.3-2-2.5-1.6-2.8-1.1-3M670.1 775.3l-2.8-1.6-2.6-1.8-2.4-2.1-2.2-2.4-1.6-2.7M682.6 773.4l-2.9-1.1-2.9-1.5-2.8-1.5-2.5-2M69.4 761.4l-2.4-2.1-2.3-2.2-2.3-2.3-2.3-2.2M83.6 762.8l-2.4-2.2-2.2-2.3-2-2.5-1.9-2.6-1.7-2.6M96.9 762.7l-2.4-2-2.2-2.4-2-2.5-1.7-2.7-1.3-2.9M109.5 761.1l-2.6-1.8-2.3-2.2-2-2.5-1.4-2.9M121.1 756.8l-3.2 .3-3.1-.4M132.4 749.3l.2 3.2-.7 3.1-1.3 2.9-2 2.6-2.5 1.9M143.3 744.6l1.2 3 .6 3.1 0 3.2-.6 3.2-.7 3.1-1.3 2.9-1.8 2.7-2.1 2.3M158.1 746l.5 3.1 0 3.2-.4 3.2-.7 3.1-1 3.1-1.3 2.9-1.7 2.7M175 750l-1.5 2.9-1.6 2.8-1.5 2.8-1.6 2.7-1.7 2.8M190.4 754.8l-3.1 .9-2.8 1.4-2.8 1.6-2.5 2M207.3 758.3l-3.2-.6-3.1-.4-3.2-.2-3.2-.1-3.2 .3-3.1 .8M224.8 761.5l-3.1-.9-3-1-3.1-1-3-1-3-1-3.1-1-3.1-.9-3.1-.8-3.1-.7M242.2 764.2l-3-1.1-3-1.2-3-1.1-2.9-1.2-3-1.3-2.9-1.2-2.9-1.3-2.9-1.4-2.9-1.4-2.9-1.4-2.8-1.5-2.8-1.6M256.9 765.1l-3-1.2-3-1.2-2.9-1.2-3-1.2-2.9-1.3-3-1.3-2.9-1.3-2.8-1.4-2.9-1.4-2.8-1.6-2.8-1.6-2.6-1.8-2.6-1.8M269 763.8l-3.1-1-3-1.1-3-1.1-3-1.1-3-1.2-2.9-1.2-2.9-1.3-3-1.3-2.8-1.4-2.9-1.5-2.7-1.6-2.7-1.8M281.3 761.6l-3.1-.6-3.2-.8-3.1-.8-3-.9-3.1-.9-3-1-3-1.1-3-1.1-3-1.3-2.9-1.3-2.9-1.4M293.5 758.9l-3.2-.1-3.2-.3-3.2-.3-3.1-.5-3.2-.6-3.1-.7-3.1-.7-3.1-.8-3.1-1-3-1M305.3 756.2l-3.2 .4-3.2 .4-3.2 .1-3.2 0-3.2-.1-3.2-.2-3.2-.3-3.1-.5-3.2-.5M316.6 753.7l-3.1 1.1-3 1-3.1 .7-3.2 .6-3.1 .5-3.2 .3-3.2 .2-3.2 0M328.7 750.9l-2.7 1.8-2.7 1.6-2.9 1.5-2.9 1.3-2.9 1.2-3.1 1-3 .9-3.1 .7M339 749.4l-2.2 2.4-2.3 2.2-2.4 2.1-2.5 2-2.6 1.9-2.6 1.8-2.8 1.6M350.2 747.7l-1.6 2.7-1.7 2.7-1.8 2.7-1.9 2.6-2 2.5-2 2.5-2.1 2.3M361.7 746.7l-1.1 3-1.2 3-1.3 2.9-1.3 2.9-1.4 2.9-1.5 2.9-1.6 2.7M373.6 747.9l-.9 3.1-.9 3-1 3.1-1.1 3-1.1 3-1.3 2.9M386.5 751.2l-1.2 2.9-1.2 3-1.3 2.9-1.3 2.9M399.5 754.7l-2.1 2.4-2.1 2.4M412.2 756.6l-3.1 .9M425.6 757.3l-3.2-.4M438.8 757.4l-3.1-.7M519.9 758.7l-2.8-1.6-2.9-1.4M534 760.3l-2.3-2.2-2.5-2-2.6-1.9M549.3 764.9l-1.6-2.8-1.9-2.6-2.1-2.4-2.2-2.3-2.3-2.2-2.5-2M562.7 768.5l-1-3.1-1.3-2.9-1.5-2.8-1.9-2.6-1.9-2.6-2.1-2.4-2.2-2.3-2.4-2.1M575.3 770.5l-.6-3.1-1-3.1-1.1-3-1.5-2.8-1.6-2.8-1.7-2.7-1.9-2.5-2.1-2.5-2.2-2.3M588 772.4l-.5-3.1-.7-3.2-.9-3-1-3.1-1.2-2.9-1.4-2.9-1.5-2.8-1.7-2.8-1.9-2.6-1.9-2.5M600.7 772.6l-.6-3.1-.7-3.2-.7-3.1-.8-3.1-.9-3-1-3.1-1.2-2.9-1.3-3-1.4-2.8-1.6-2.8M612.8 769.6l-.7-3.1-.7-3.1-.5-3.2-.6-3.1-.7-3.2-.7-3.1-.8-3.1-.9-3M625.1 768.1l-.7-3.1-.5-3.1-.3-3.2-.1-3.2-.1-3.2 0-3.2 0-3.2M637 765l-.4-3.1 .1-3.2 .4-3.2 .6-3.2 .9-3M649.5 763.4l0-3.2 .7-3.1 1-3.1 1.4-2.8M662.5 761.7l.4-3.1 1.1-3 1.7-2.8M676.2 760.2l.6-3.1 1.1-3M65.8 744.5l-2.2-2.3M78.5 744.8l-.9-3M90.9 746.5l.4-3.2 1-3M102.7 745.9l1.9-2.6 2.4-2.2M113.2 743.8l3.1-.5 3.2 .1 3.2 .6M123.1 738.5l3 1.1 2.7 1.6 2.4 2.1 2.2 2.4 1.6 2.7 .8 3.1M135 735.1l2.8 1.6 2.5 1.8 2.4 2.2 1.8 2.6 1.7 2.8 1.1 2.9 .6 3.2 0 3.2M153.8 738.4l2.3 2.3 1.7 2.6 1.5 2.9 .8 3M170.6 741.8l1.1 3M202.9 747.1l-2.6-1.8-2.5-2-2.4-2.2-1.8-2.6M221.2 751.1l-2.7-1.8-2.6-1.8-2.5-2-2.3-2.2-2.3-2.3-1.9-2.5-1.5-2.9-.7-3.1M237.3 752.7l-2.8-1.6-2.7-1.7-2.6-1.9-2.5-2-2.3-2.2-2.3-2.3-1.9-2.5-1.7-2.7-1.1-3-.4-3.2M250.9 752.2l-2.8-1.5-2.8-1.6-2.6-1.8-2.6-1.9-2.4-2.1-2.3-2.2-2.1-2.4-1.7-2.7-1.3-3-.5-3.1M263.5 750.3l-2.9-1.2-2.9-1.4-2.8-1.6-2.6-1.8-2.6-2-2.3-2.1-2.1-2.4-1.7-2.7-1.1-3M274.6 747.5l-3-.9-3-1.2-2.9-1.3-2.8-1.6-2.7-1.7-2.4-2-2.2-2.4M288.6 745.1l-3.2-.2-3.1-.5-3.1-.7-3.1-.8-3.1-1-2.9-1.3-2.8-1.6M302 742l-3.1 .7-3.2 .4-3.2 .2-3.2 0-3.2-.1-3.2-.3-3.1-.6M314.6 739.1l-2.9 1.5-2.9 1.2-3 1.1-3.1 .8-3.1 .8-3.2 .5-3.2 .3M327.7 735.6l-2.3 2.2-2.5 2-2.6 1.9-2.8 1.6-2.8 1.5-2.9 1.4-3 1.1-3.1 .9M340.1 732.3l-1.8 2.7-2 2.5-2.1 2.4-2.2 2.3-2.3 2.2-2.5 2.1-2.5 1.9-2.7 1.7-2.8 1.5M351.3 730.9l-1.4 2.8-1.5 2.8-1.6 2.8-1.8 2.7-1.8 2.6-1.8 2.6-2 2.5-2.1 2.4-2.2 2.4M362.6 729.9l-1.1 3-1.1 3-1.1 3-1.2 2.9-1.3 3-1.3 2.9-1.3 2.9-1.5 2.9-1.4 2.8M373 732.3l-.5 3.2-.7 3.1-.7 3.2-.7 3.1-.9 3.1-.9 3-.9 3.1M384.3 736.9l0 3.2-.2 3.2-.4 3.2-.7 3.1M396.8 740.2l.6 3.1 .1 3.2M478.5 742.4l-2.6 1.8M493.6 742.6l-3.1 .7-3.1 .9M508.6 743.9l-3.2-.4-3.2-.3-3.2-.2M524.4 746.6l-2.9-1.4-2.9-1.3-3-1.2-3-1.1-3-1M539.7 749.6l-2.6-1.9-2.6-1.8-2.7-1.7-2.7-1.7-2.8-1.7-2.7-1.6-2.9-1.5M555.7 753.9l-2.2-2.3-2.3-2.2-2.5-2.1-2.4-2-2.6-2-2.5-1.9-2.6-1.9-2.6-1.8-2.7-1.9-2.6-1.8M569.7 757.7l-1.8-2.7-1.9-2.6-2-2.4-2.2-2.4-2.4-2.2-2.4-2.1-2.4-2.1-2.5-2-2.5-1.9-2.6-1.9-2.6-1.9-2.6-1.9M581.2 759l-1.3-2.9-1.6-2.8-1.8-2.7-1.9-2.5-2.1-2.5-2.2-2.3-2.2-2.3-2.4-2.1-2.4-2.1-2.6-1.9-2.6-1.9-2.6-1.8M591.8 758.8l-1.1-3-1.3-2.9-1.5-2.8-1.6-2.8-1.7-2.7-1.9-2.6-1.9-2.6-2-2.5-2.1-2.3-2.3-2.3-2.5-2M602.6 758.2l-.8-3-1-3.1-1.2-3-1.3-2.9-1.3-2.9-1.4-2.9-1.5-2.8-1.4-2.9-1.3-2.9-1.3-3M613.1 755.8l-.6-3.2-.6-3.1-.8-3.1-.8-3.1-1-3.1-1-3-1-3-1-3.1M623.5 752.9l0-3.2 0-3.2 .1-3.2 0-3.2 .2-3.2 .1-3.2M633.8 752.4l.8-3.1 1-3 1.3-3 1.4-2.9 1.6-2.7 1.9-2.6M643.9 752.5l1.5-2.8 1.7-2.7 2-2.5 2.2-2.4 2.3-2.2 2.5-2 2.6-1.8M654.4 752.3l2-2.5 2.2-2.4 2.4-2.1 2.5-2 2.6-1.9 2.6-1.8 2.8-1.6 2.7-1.6M668.1 750.3l2.3-2.1 2.5-2.1 2.6-1.9 2.6-1.8 2.7-1.8 2.6-1.8 2.7-1.7M76.5 728.9l3 1.3M86.6 728.6l3.1 .7 3.2 .5 3.2 .4M93.5 728.5l3.1 .5 3.2 .3 3.2 .2 3.2 .1 3.2 .2 3.2 .1 3.2 .2M100.4 728.1l3.2 .3 3.2 .3 3.2 .2 3.2 .2 3.1 .3 3.2 .3 3.2 .4 3.1 .6 3.2 .7 3.1 .8 3 1M112.3 726.6l3.2 .3 3.1 .4 3.2 .4 3.2 .5 3.1 .6 3.1 .7 3.1 .8 3.1 .9 3.1 1 3 1.1 2.9 1.3 2.8 1.4M128.9 726.2l3.2 .6 3.1 .6 3.1 .7 3.1 .7 3.1 .7 3.2 .8 3.1 .7 3.1 .8 3.1 .7 3.1 .7M146.7 728.2l3.2 .5 3.2 .4 3.2 .3 3.1 .3 3.2 .1 3.2-.2 3.2-.3M163.2 730.6l3.2-.2 3.2-.5 3.1-.7 3.1-1 2.9-1.2M179.4 733.4l2.6-1.8 2.5-2.1 2.4-2 2.4-2.1M196.4 735.7l.3-3.1 1.1-3.1 1.3-2.9 1.7-2.6M212.2 737.4l-1.1-3.1-.2-3.2 .4-3.1 .9-3.1 1.5-2.8M226.8 738.7l-1.5-2.9-.8-3.1-.1-3.2 .3-3.1 1-3 1.6-2.8M240.2 738.6l-1.5-2.8-.9-3.1-.1-3.2 .3-3.1 1.1-3 1.7-2.7M252.8 737.2l-1.4-2.9-.5-3.2 .2-3.1 .9-3.1 1.6-2.8M265.1 734.2l-.9-3.1 .2-3.1 1-3.1M278.1 731.1l-1-3.1M307.6 726.1l-2.2 2.4-2.4 2.1-2.7 1.8M322.6 721.5l-1.4 2.8-1.7 2.7-2 2.5-2.1 2.4-2.4 2.2-2.6 1.9M337.1 716.7l-1 3-1.3 2.9-1.4 2.9-1.7 2.7-1.8 2.7-1.9 2.5-2.1 2.4-2.3 2.3-2.5 2M350.7 713.3l-1 3-1 3-1.1 3-1.3 3-1.4 2.8-1.5 2.9-1.6 2.7-1.8 2.7-1.8 2.6-2 2.5-2.1 2.4M362.8 712.8l-.9 3.1-.9 3-.9 3.1-1 3-1.1 3.1-1.1 2.9-1.2 3-1.3 2.9-1.4 2.9-1.4 2.9-1.5 2.8M373.3 715.4l-.6 3.1-.6 3.2-.5 3.1-.6 3.2-.5 3.1-.7 3.2-.7 3.1-.7 3.1-.9 3.1M383.1 720l.2 3.2 .3 3.2 .5 3.1 .4 3.2 .4 3.2 .3 3.2M393.2 722.7l1.5 2.9 1.7 2.7 1.9 2.5 2.1 2.5 2.2 2.3M401.8 722.8l2.3 2.3 2.5 2 2.7 1.7 2.8 1.5 2.9 1.3 3 1.1 3.1 .8M409.3 723.6l2.6 1.8 2.9 1.4 3 1.2 3 .9 3.2 .6 3.1 .6 3.2 .2 3.2 .1 3.2-.1 3.2-.3M424.5 729.4l3.2 .3 3.2 .2 3.2-.1 3.2-.3 3.2-.3 3.1-.5 3.2-.7 3.1-.8M447.5 730.2l3.1-.7 3.1-.7M478.8 729.8l-3.2-.5M496.7 731.3l-3.1-.9-3.1-.9-3.1-.8-3.1-.8M514 734.2l-2.9-1.4-2.9-1.3-2.9-1.3-3-1.3-2.9-1.3-2.9-1.2-3-1.3M529.4 737.1l-2.7-1.7-2.7-1.7-2.8-1.7-2.7-1.6-2.8-1.7-2.7-1.6-2.8-1.6-2.8-1.5-2.8-1.6M546.1 740.7l-2.6-1.9-2.6-1.9-2.6-1.9-2.6-1.8-2.6-1.8-2.7-1.9-2.6-1.8-2.7-1.7-2.6-1.8-2.7-1.8-2.7-1.7-2.7-1.7M560.4 742l-2.5-2.1-2.5-1.9-2.5-2-2.6-1.8-2.6-1.9-2.7-1.8-2.6-1.9-2.6-1.8-2.6-1.8-2.7-1.8-2.6-1.9-2.6-1.8-2.7-1.7M573.4 742.3l-2.3-2.3-2.4-2.1-2.4-2-2.6-1.9-2.7-1.8-2.6-1.8-2.7-1.7-2.7-1.7-2.7-1.8-2.7-1.7-2.7-1.7-2.7-1.8-2.6-1.8M579.9 738l-2.1-2.4-2.3-2.2-2.5-2-2.7-1.9-2.7-1.7-2.7-1.5-2.9-1.5-2.8-1.4M588.7 737.7l-1.7-2.7-1.6-2.8-1.7-2.7-1.8-2.6-2.1-2.5-2.4-2M602.3 742.9l-1.3-2.9-1.3-3-1.2-2.9-1.1-3-.9-3.1-.8-3.1-.6-3.1-.6-3.2-.5-3.1M613.2 740.4l-.9-3.1-.8-3.1-.9-3.1-.7-3.1-.7-3.1-.4-3.2-.2-3.2M623 735.9l.2-3.2 .4-3.2 .5-3.1 1.2-3M632.4 736.1l1.5-2.8 1.9-2.6 2.2-2.3 2.4-2 2.8-1.6M640.4 737.6l2.1-2.4 2.3-2.1 2.6-1.9 2.8-1.7 2.8-1.5 2.9-1.2 3-1.1 3.1-1M648.5 738.6l2.4-2.1 2.6-1.9 2.8-1.6 2.8-1.5 2.9-1.3 3-1.3 3-1.1 3-1.1 3-.9 3.1-.9 3.1-.9M659.6 738l2.7-1.7 2.8-1.5 2.9-1.4 2.9-1.4 2.9-1.2 3-1.3 3-1.1 3-1.2 3-1.1 2.9-1.1 3-1.2 3-1.1M54.6 710.9l3 1.3 2.8 1.4 2.9 1.4 2.8 1.5 2.9 1.5 2.8 1.5 2.8 1.5M64.8 710l3 1.2 2.9 1.3 2.9 1.4 2.9 1.2 3 1.3 2.9 1.3 3 1.2 3 1.1 3 1.1M74.9 709.5l2.9 1.2 3 1.2 3 1.2 3 1.1 3 1.1 3 1 3.1 1 3.1 .8 3.1 .8 3.1 .8 3.1 .6M84.7 709.7l3 1.1 3.1 1.1 3 1 3.1 .9 3.1 .8 3.1 .8 3.1 .7 3.1 .7 3.2 .6 3.1 .6 3.2 .5 3.1 .4 3.2 .5M96.1 710.9l3.1 .9 3.1 .8 3.1 .8 3.1 .7 3.1 .6 3.2 .6 3.1 .5 3.2 .5 3.2 .5 3.1 .4 3.2 .4 3.2 .4 3.2 .3 3.1 .3M107.6 711.9l3.1 .7 3.1 .6 3.2 .6 3.1 .5 3.2 .5 3.2 .4 3.1 .4 3.2 .4 3.2 .3 3.2 .3 3.2 .2 3.2 .2 3.2 0 3.2-.1 3.2-.2M120.7 713.4l3.1 .4 3.2 .5 3.2 .4 3.2 .3 3.2 .3 3.1 .3 3.2 .1 3.2 .1 3.2 0 3.2-.1 3.2-.2 3.2-.3 3.2-.5 3.1-.6 3.1-.7M133.9 715.8l3.2 .3 3.2 .2 3.2 .2 3.2 0 3.2 0 3.2-.2 3.2-.3 3.1-.4 3.2-.5 3.1-.6 3.2-.7 3-.9 3.1-.9 3-1 3.1-1.1M150.7 719.2l3.2-.2 3.2-.3 3.2-.4 3.1-.6 3.1-.7 3.1-.8 3.1-.9 3-.9 3.1-1.1 3-1.1 2.9-1.2 3-1.2 2.9-1.3M168 722l3.1-.9 3-1 3-1.1 3-1.2 2.9-1.3 2.9-1.4 2.9-1.4 2.9-1.4 2.8-1.4 2.9-1.5 2.8-1.5M184.5 724.7l2.7-1.8 2.6-1.8 2.6-1.8 2.7-1.8 2.7-1.7 2.6-1.8 2.7-1.7 2.8-1.7 2.7-1.7 2.7-1.7M200.5 727.7l1.7-2.8 1.9-2.5 2.2-2.3 2.3-2.2 2.5-2.1 2.5-2 2.5-2 2.6-1.8 2.6-1.9 2.7-1.7M215.6 728.8l.9-3 1.5-2.9 1.9-2.5 2.2-2.4 2.3-2.2 2.4-2.1 2.5-2 2.5-1.9 2.7-1.9 2.6-1.8M229 728.8l.8-3.1 1.5-2.8 1.9-2.6 2.1-2.3 2.4-2.2 2.4-2.1 2.5-2 2.7-1.8 2.6-1.8 2.7-1.7M241.9 726.7l1.4-2.9 1.9-2.6 2.1-2.3 2.4-2.1 2.5-2 2.6-1.9 2.7-1.7 2.8-1.7 2.8-1.5M255.8 722.9l2.1-2.3 2.5-2.1 2.6-1.9 2.6-1.7 2.8-1.6 2.9-1.4 2.9-1.3M271.8 718.5l2.8-1.5 3-1.2 3-1.1 3.1-.8M287.7 715.4l3.2 .4 3.1 .7M302.8 712.9l1.4 2.9 1 3M317.4 707.8l.3 3.2 0 3.2-.3 3.2-.6 3.1-1 3M333.2 703.2l-.5 3.2-.5 3.1-.6 3.2-.8 3.1-.8 3.1-1.1 3-1.3 2.9-1.5 2.8M349.3 699l-1.1 3-1 3-.9 3.1-.8 3.1-.9 3.1-.9 3-1.1 3-1.1 3-1.4 2.9-1.4 2.9-1.7 2.7M364.7 696.4l-1.5 2.8-1.4 2.9-1.1 3-1 3-.9 3.1-.9 3.1-.9 3-1 3.1-1 3-1.1 3-1.2 3-1.3 2.9-1.4 2.9M377 697.7l-1.6 2.8-1.2 3-1.1 3-.9 3.1-.8 3.1-.6 3.1-.7 3.1-.7 3.1-.6 3.2-.7 3.1-.8 3.1-.7 3.1M386.8 701.7l-1.1 3-.8 3.1-.5 3.2-.3 3.2-.1 3.2 .1 3.2 .2 3.2 .4 3.2 .5 3.1M396.8 704.7l-.4 3.2 0 3.2 .5 3.1 .9 3.1 1.2 3 1.7 2.7 2 2.5M408.8 700.7l-.9 3-.4 3.2 .4 3.1 1.1 3.1 1.7 2.7 1.9 2.6 2.3 2.1 2.6 1.9 2.9 1.4 3 1.1M417.7 704l-.2 3.2 .9 3.1 1.8 2.6 2.4 2.1 2.8 1.6 3 1.1 3.1 .5 3.2 0 3.1-.7M427.9 716.9l3.2 .3 3.2-.4 3-1 2.8-1.5 2.2-2.3 1-3M449.1 718.6l1.5-2.8 .8-3.1M466.2 718l-2.3-2.2-2.2-2.3M485.7 720.3l-2.9-1.4-2.8-1.5-2.8-1.6-2.8-1.6-2.7-1.7-2.6-1.8M504.5 723.5l-2.8-1.5-2.8-1.5-2.8-1.6-2.8-1.5-2.8-1.6-2.8-1.6-2.7-1.6-2.8-1.7-2.7-1.7-2.7-1.7M521.5 726.7l-2.7-1.7-2.7-1.7-2.7-1.7-2.7-1.7-2.8-1.6-2.7-1.7-2.8-1.6-2.7-1.7-2.7-1.7-2.7-1.7-2.7-1.7-2.7-1.7-2.7-1.7M535.7 728.3l-2.6-1.9-2.7-1.8-2.6-1.8-2.7-1.7-2.6-1.8-2.7-1.8-2.7-1.7-2.7-1.8-2.6-1.7-2.7-1.7-2.7-1.8-2.7-1.7-2.7-1.8-2.6-1.8M550.3 729.2l-2.6-1.8-2.7-1.8-2.6-1.8-2.7-1.7-2.6-1.8-2.7-1.8-2.6-1.8-2.7-1.8-2.7-1.8-2.6-1.8-2.7-1.8-2.6-1.8-2.7-1.8-2.6-1.8-2.6-1.8M563.1 727l-2.8-1.5-2.8-1.5-2.8-1.6-2.8-1.6-2.7-1.6-2.8-1.7-2.7-1.7-2.7-1.7-2.6-1.8-2.7-1.8-2.7-1.7-2.6-1.8-2.6-1.9-2.6-1.8M573.9 720.6l-3.1-.6-3.1-.7-3.1-.8-3.1-1-3-1.1-2.9-1.2-2.9-1.4-2.9-1.5-2.8-1.6-2.7-1.6-2.7-1.7M578.3 715.7l-3.2 0-3.2 .1-3.2 0-3.1-.3-3.2-.5M586 717.9l-2.3-2.1-2.8-1.6M598.3 725.3l-.5-3.2-.4-3.1-.4-3.2-.5-3.2-.8-3.1-1.1-3M609.9 720.6l.1-3.2 .5-3.2 .9-3.1M620.7 717.1l2.9-1.3 3.1-.8M628.9 715.7l3.2-.1 3.2 .1 3.2 .2 3.2 .1 3.2 .2M635.8 714.4l3.2 .4 3.2 .3 3.2 .3 3.2 .3 3.2 .2 3.2 .2 3.2 .2 3.2 .1 3.2 .1M644.4 714l3.2 .4 3.1 .4 3.2 .3 3.2 .3 3.2 .2 3.2 .2 3.2 .1 3.2 .1 3.2 .1 3.2-.1 3.2 0 3.2-.2M656 715l3.2 .3 3.2 .2 3.2 .1 3.2 .2 3.2 0 3.2 0 3.2 0 3.2-.1 3.2-.2 3.2-.3 3.2-.3 3.1-.4 3.2-.3M46.7 695.5l3 1 3 1 3 1.1 3 1.1 3 1.2 3 1.1 3 1.2 3 1.2 2.9 1.2 3 1.1 3 1.2 3 1.2M58.8 694l3 1.3 2.9 1.2 2.9 1.3 3 1.2 3 1.2 2.9 1.2 3 1.2 3 1.2 3 1.1 3 1.1 3 1.1 3 1 3.1 1M72.2 693.9l2.9 1.4 2.9 1.3 2.9 1.3 2.9 1.3 3 1.1 3 1.2 3 1.1 3 1 3.1 1 3 1 3.1 .8 3.1 .9 3.1 .7M85.2 694.6l2.9 1.3 3 1.3 2.9 1.2 3 1.1 3 1.1 3.1 1 3.1 .9 3 .9 3.1 .8 3.1 .8 3.1 .7 3.2 .7 3.1 .6M96.7 694.9l3 1.3 2.9 1.1 3.1 1.1 3 1 3.1 .9 3 .9 3.1 .8 3.1 .8 3.1 .8 3.2 .7 3.1 .6 3.1 .6 3.2 .6 3.2 .4M108.4 694.9l2.9 1.1 3 1.1 3.1 1 3 1 3.1 .9 3.1 .9 3.1 .8 3.1 .7 3.1 .7 3.2 .5 3.1 .5 3.2 .3 3.2 .2 3.2 0 3.2-.1M121.3 696.2l3.1 1 3 1.1 3 .9 3.1 .9 3.1 .7 3.2 .6 3.2 .5 3.1 .3 3.2 .2 3.2 0 3.2-.2 3.2-.3 3.2-.6 3.1-.7 3-.9M134 700.7l3.2 .6 3.1 .6 3.2 .4 3.2 .3 3.2 0 3.2-.1 3.2-.3 3.1-.4 3.2-.6 3.1-.7 3.1-1 3-1 2.9-1.3 2.9-1.3 2.8-1.6M147.6 706l3.2-.1 3.2-.1 3.2-.4 3.1-.5 3.2-.6 3.1-.8 3-1 3.1-1 3-1.1 2.9-1.2 3-1.3 2.8-1.5 2.8-1.5 2.7-1.8 2.5-2M164.8 708.7l3.1-.8 3.1-.9 3-1 3-1 3-1.1 3-1.2 2.9-1.3 2.9-1.3 2.9-1.4 2.8-1.6 2.8-1.6 2.6-1.9 2.3-2.2M180.2 709.8l3-1.1 3-1.2 2.9-1.3 2.9-1.3 2.9-1.4 2.9-1.5 2.8-1.5 2.8-1.6 2.7-1.7 2.5-1.9 2.4-2.2 2.1-2.4M195.8 710.7l2.8-1.5 2.8-1.5 2.8-1.6 2.8-1.6 2.7-1.6 2.7-1.7 2.7-1.8 2.6-1.9 2.4-2.1 2.2-2.3 1.9-2.6M208.4 712.7l2.6-1.8 2.7-1.8 2.7-1.7 2.7-1.8 2.6-1.8 2.7-1.8 2.6-1.8 2.5-2 2.4-2.1 2.2-2.3 1.9-2.6 1.3-2.9M222 713.1l2.5-1.9 2.7-1.9 2.6-1.8 2.6-1.8 2.7-1.8 2.6-1.9 2.6-1.9 2.5-1.9 2.4-2.2 2.1-2.3 1.9-2.6 1.2-3M236.4 711.8l2.6-1.8 2.6-1.8 2.7-1.8 2.7-1.7 2.7-1.8 2.6-1.8 2.6-1.8 2.6-2 2.3-2.1 2.2-2.4 1.6-2.7M251.9 709.3l2.7-1.7 2.8-1.6 2.7-1.6 2.8-1.6 2.8-1.6 2.7-1.6 2.8-1.7 2.6-1.8 2.5-2M268.7 705.7l3-1.3 2.9-1.2 3-1.2 3-1.1 3-1 3.1-.8M286.1 702.2l3.2-.2 3.2 .1 3.2 .4M302 699.7l2.2 2.3 2.1 2.4M317.6 695.6l-.3 3.2 .2 3.2 .4 3.2 .4 3.2M334.8 691.7l-1.6 2.7-1.3 3-.8 3.1-.6 3.1-.4 3.2-.4 3.1-.5 3.2M352.4 688.6l-2.2 2.2-2 2.6-1.7 2.7-1.3 2.9-1.1 3-.9 3.1-.9 3.1-.7 3.1-.8 3.1-.9 3M369.1 687.1l-2.6 1.9-2.3 2.2-2.1 2.4-1.8 2.7-1.6 2.8-1.3 2.9-1.1 3-1.1 3-.9 3.1-.9 3.1-.9 3-1 3.1M383 687.7l-2.7 1.8-2.4 2-2.2 2.3-1.9 2.6-1.7 2.7-1.3 2.9-1.3 3-1.1 3-.9 3-.9 3.1-.8 3.1-.8 3.1M394.1 689.9l-2.6 1.9-2.3 2.2-2 2.4-1.8 2.7-1.3 2.9-1.3 3-.9 3-.8 3.1-.5 3.2-.3 3.2M405 692l-2.4 2.1-2.1 2.3-1.8 2.7-1.3 2.9-1.1 3-.7 3.2-.2 3.1 .2 3.2M420.7 692.3l-2.9 1.4-2.6 1.8-2.2 2.3-1.7 2.7-1.2 3-.7 3.1 0 3.2 .7 3.1 1.5 2.9M432.7 699l-3.2 .1-3 1-2.5 1.9-2.1 2.4-.9 3.1 .6 3.1M442.8 709.5l-1-3.1-1.9-2.5-2.6-1.9-2.8-1.5-3.1-.8-3.2 .1M458.2 710.2l-2-2.5-2.2-2.3-2.2-2.3-2.4-2.2-2.5-2-2.6-1.8-2.8-1.5M474.6 709l-2.7-1.7-2.7-1.8-2.6-1.7-2.7-1.8-2.7-1.7-2.7-1.7-2.7-1.7-2.8-1.6M493.4 712.3l-2.7-1.7-2.7-1.7-2.7-1.7-2.7-1.8-2.7-1.7-2.7-1.7-2.7-1.7-2.7-1.6-2.8-1.7-2.8-1.6-2.8-1.5-2.8-1.5M509.3 714.2l-2.7-1.7-2.7-1.7-2.7-1.7-2.7-1.8-2.7-1.7-2.6-1.8-2.7-1.8-2.7-1.7-2.6-1.8-2.7-1.7-2.7-1.7-2.8-1.7-2.8-1.6-2.8-1.5M522.4 714.5l-2.7-1.7-2.6-1.8-2.7-1.8-2.7-1.8-2.6-1.7-2.7-1.9-2.6-1.8-2.6-1.8-2.6-1.8-2.7-1.9-2.6-1.8-2.6-1.8-2.7-1.8-2.7-1.7M535.6 714.7l-2.7-1.7-2.7-1.8-2.6-1.8-2.6-1.8-2.7-1.9-2.6-1.8-2.6-1.9-2.6-1.9-2.5-1.9-2.6-1.9-2.5-2-2.5-2-2.4-2.1-2.5-2M546.3 712.8l-2.7-1.7-2.7-1.7-2.7-1.8-2.6-1.8-2.6-1.9-2.6-1.9-2.5-1.9-2.5-2-2.4-2.1-2.4-2.2-2.2-2.3-2-2.5M556.1 709.3l-2.9-1.4-2.8-1.5-2.7-1.6-2.7-1.8-2.6-1.9-2.5-2-2.4-2.1-2.2-2.3-2-2.5M564.8 703.7l-3.2-.3-3.1-.8-3-1.1-2.8-1.5-2.7-1.8M577.9 699.3l-3 1.2-3 1.1-3.1 .9-3.1 .6-3.2 .2M589.9 702.8l-3.1-.8-3.1 0-3.2 .4-3.1 .8M598.3 704.9l-1.3-2.9-1.6-2.8M608.7 702.3l3.1-.6M613.6 696.9l2.9 1.4 2.9 1.4 2.8 1.6 2.8 1.5 2.8 1.5 2.8 1.5 2.9 1.4M622.4 692.1l2.6 1.8 2.6 1.9 2.6 1.8 2.6 1.8 2.7 1.8 2.7 1.7 2.8 1.6 2.8 1.5 2.9 1.4 3 1.2 3 1.1M632 688.9l2.5 2 2.5 2 2.6 2 2.5 1.9 2.7 1.8 2.6 1.8 2.8 1.6 2.8 1.6 2.8 1.5 2.9 1.3 3 1.2 3 1.1 3.1 .9 3.1 .7M643.9 688.3l2.4 2 2.5 2 2.6 2 2.5 1.9 2.7 1.8 2.7 1.7 2.8 1.6 2.8 1.5 2.9 1.4 2.9 1.2 3 1.1 3.1 .9 3.1 .8 3.2 .6 3.1 .4M657.7 690.4l2.6 2 2.5 1.9 2.7 1.7 2.7 1.7 2.8 1.6 2.9 1.4 2.9 1.3 3 1.2 3 1.1 3.1 .8 3.1 .6 3.2 .5 3.2 .4 3.1 .3M59.8 684.2l2.3 2.2 2.6 1.9 2.7 1.8 2.7 1.6M73.5 683.8l2.1 2.4 2.4 2.1 2.6 1.9 2.7 1.7M86 682.4l1.8 2.6 2.3 2.3 2.5 2 2.6 1.7 2.8 1.6M99.1 682.6l1.9 2.6 2.3 2.1 2.6 1.9 2.7 1.7 2.8 1.6M111.9 681l1.5 2.8 2.1 2.4 2.4 2.1 2.6 1.9 2.7 1.7 2.8 1.5M126 677.3l0 3.1 1.1 3 1.8 2.6 2.3 2.3 2.5 2 2.7 1.7 2.9 1.4 3 1.1M137.5 678.5l.4 3.2 1.5 2.8 2.4 2.2 2.7 1.6 3 1.3 3.1 .7 3.2 .2 3.1-.2M146.8 688.5l3.2 .7 3.2 0 3.1-.5 3.1-.9 2.8-1.5 2.3-2.2 1.2-2.9M161.7 694.1l3-1.2 2.8-1.6 2.5-1.9 2.3-2.3 1.8-2.6 .8-3.1-.6-3.1M178.6 693.7l2.6-1.9 2.3-2.3 1.9-2.5 1.3-2.9 .1-3.2M193.7 693.2l2.3-2.3 1.8-2.6 1.3-2.9 .1-3.2M206.6 694.8l2.2-2.3 1.7-2.7 1.1-3 .4-3.2-.8-3.1M219.4 696.3l2.1-2.4 1.8-2.6 1.1-3 .6-3.2-.4-3.1-1.2-3M231.9 697.6l2.2-2.3 1.9-2.6 1.3-2.9 .7-3.1 0-3.2-.8-3.1-1.6-2.8M246.4 696.5l2.1-2.4 1.6-2.8 .9-3 .4-3.2-.6-3.1-1.4-3M262 694.1l1.6-2.7 .7-3.1 .1-3.2-.9-3.1M277.3 691.4l.3-3.1-.5-3.2M305.7 687.6l-2.9 1.4M322.7 684.5l-2.7 1.8-2.5 2-2.3 2.1-1.9 2.6M340 681.9l-2.8 1.6-2.7 1.7-2.5 2-2.3 2.1-2.2 2.4-1.7 2.7-1.3 3M356.4 680.8l-3 1.3-2.8 1.5-2.7 1.7-2.6 1.9-2.4 2.1-2.2 2.3-1.9 2.6-1.6 2.7-1.2 3M373 680.4l-3 1-3 1.1-2.9 1.4-2.8 1.6-2.6 1.8-2.5 2-2.4 2.1-2 2.5-1.9 2.6-1.5 2.8-1.2 3M386.7 681.2l-3 .8-3.1 1.1-2.9 1.2-2.9 1.4-2.7 1.6-2.7 1.9-2.4 2-2.3 2.3-2 2.5-1.7 2.7-1.5 2.8M398.9 682.5l-3.1 .8-3.1 .9-3 1.1-2.9 1.4-2.7 1.6-2.7 1.7-2.6 2-2.2 2.2-2.1 2.5-1.8 2.6M411 683.7l-3.1 .7-3.1 .9-3.1 1-2.9 1.2-2.9 1.5-2.7 1.6-2.6 1.9-2.4 2.1-2.1 2.4M426.3 685.2l-3.2 .2-3.2 .3-3.1 .6-3.1 .9-3 1.1-3 1.2-2.8 1.4-2.7 1.8-2.5 2-2.2 2.3M444.3 691.2l-3-1.1-3-.9-3.2-.7-3.1-.4-3.2-.1-3.2 .1-3.2 .3-3.2 .6-3 .9-3 1.2-2.8 1.5-2.6 1.9-2.4 2.2M457.7 697.1l-2.7-1.6-2.8-1.5-2.9-1.4-2.9-1.3-3-1.2-3-1-3.1-.8-3.1-.8-3.2-.4-3.2-.3-3.2 0-3.2 .3-3.1 .5-3.1 .8M469.2 697.5l-2.8-1.6-2.8-1.5-2.8-1.5-2.9-1.4-2.9-1.3-2.9-1.3-3-1.3-3-1.1-3-1.1-3-.9-3.1-.9-3.2-.6-3.1-.6M482.1 698.2l-2.7-1.7-2.7-1.6-2.8-1.6-2.8-1.5-2.9-1.5-2.9-1.4-2.9-1.3-2.9-1.3-2.9-1.3-3-1.1-3-1.2-3-1-3.1-1M494.8 699.3l-2.6-1.8-2.7-1.8-2.7-1.7-2.7-1.7-2.7-1.7-2.8-1.6-2.8-1.5-2.8-1.5-2.9-1.4-2.9-1.3-3-1.3-2.9-1.2-3-1.1M503.5 697.6l-2.6-1.9-2.5-1.9-2.6-1.9-2.6-1.8-2.7-1.8-2.7-1.8-2.7-1.7-2.7-1.6-2.9-1.5-2.8-1.4M511 694.6l-2.4-2.1-2.4-2.1-2.4-2.1-2.3-2.2-2.4-2.2-2.4-2.1M519.8 692.2l-1.9-2.6-1.6-2.7-1-3.1M530.7 691.4l-.3-3.1 .9-3.1M542.8 689.5l1.9-2.5M555.6 688.9l2.9-1.3M595.4 687.9l3.1 .7M601.5 684.3l3 1.2 2.9 1.3 2.9 1.5 2.8 1.4 2.8 1.6 2.7 1.7M608.8 678.7l2.8 1.6 2.8 1.6 2.6 1.7 2.7 1.8 2.6 1.9 2.6 1.9 2.5 1.9 2.6 2 2.5 1.9 2.6 1.9 2.6 1.9M619.5 674.1l2.6 1.9 2.5 2 2.5 2 2.4 2.1 2.5 2 2.4 2.1 2.5 2.1 2.4 2 2.5 2 2.5 2 2.6 2 2.5 1.8 2.7 1.8 2.7 1.7M632.8 671.7l2.2 2.3 2.3 2.3 2.3 2.2 2.3 2.2 2.3 2.2 2.4 2.2 2.4 2.1 2.4 2.1 2.4 2.1 2.5 2 2.6 1.9 2.6 1.8 2.7 1.8 2.7 1.6 2.9 1.5M646.4 671.4l2.1 2.4 2.2 2.4 2.2 2.3 2.2 2.3 2.4 2.2 2.3 2.2 2.5 2 2.4 2.1 2.5 2 2.6 1.9 2.7 1.8 2.7 1.6 2.8 1.6 2.9 1.4 2.9 1.2M659.2 672.1l2 2.4 2.2 2.3 2.3 2.3 2.3 2.2 2.4 2.1 2.5 2 2.6 1.9 2.6 1.9 2.7 1.7 2.7 1.7 2.9 1.4 2.9 1.3 3 1.1 3 1 3.1 1M69.2 672.9l-3 1.1-3 1-3 1M80.7 672.7l-2.7 1.8-2.5 1.9M93.7 672.3l-2.4 2.2-2.1 2.4M108 671.1l-2.4 2.2-2 2.4-1.4 2.9M122.3 669.9l-2.4 2.1-2 2.5-1.6 2.7-.7 3.1M138.3 668.2l-2.7 1.7-2.4 2.1-2 2.5-1.6 2.7-.7 3.2 .5 3.1M153.4 671.3l-3.1 .4-3.1 1.1-2.7 1.7-2.4 2.1-1.5 2.8 0 3.2M165.1 680.3l-1.7-2.7-2.6-1.9-3-1.2-3-.8-3.2-.1-3.2 .6M175.5 685.6l.5-3.1-.8-3.1-1.8-2.7-2.2-2.2-2.5-2-2.7-1.7-3-1.3-3-1M190.7 683.5l-1-3.1-1.8-2.6-2.2-2.3-2.5-2-2.5-1.9-2.8-1.7-2.8-1.5M204.8 684.8l-.8-3.1-1.7-2.8-2.1-2.3-2.4-2.1-2.6-2-2.7-1.7-2.7-1.6-2.9-1.4M217.1 689.8l.7-3.1-.3-3.2-1.2-3-1.9-2.6-2.1-2.3-2.4-2.2-2.5-2-2.7-1.8-2.7-1.6-2.9-1.5-2.8-1.4M228.7 692.9l1.5-2.8 .6-3.2-.4-3.1-1.1-3-1.7-2.7-2.1-2.5-2.2-2.2-2.4-2.2-2.6-1.9-2.6-1.8-2.7-1.7-2.8-1.6-2.9-1.5M241.2 694.4l1.7-2.8 1-3 .1-3.2-.9-3.1-1.4-2.8-1.9-2.6-2.1-2.4-2.2-2.3-2.4-2.1-2.5-2-2.6-1.9-2.6-1.8-2.8-1.7-2.7-1.6M255.5 694.2l1.6-2.7 .9-3.1-.3-3.2-1-3-1.6-2.8-2-2.5-2.1-2.4-2.2-2.3-2.4-2.2-2.4-2-2.6-2-2.6-1.9-2.6-1.8-2.7-1.8M273.1 691.9l.7-3.1-.6-3.1-1.5-2.9-1.9-2.5-2.1-2.4-2.2-2.3-2.4-2.2-2.4-2.1-2.4-2.1-2.5-2-2.6-1.9-2.5-1.9-2.6-1.9M292.7 683.5l-2.9-1.3-2.8-1.6-2.7-1.7-2.7-1.7-2.7-1.8-2.6-1.8-2.6-1.8-2.7-1.9-2.6-1.8-2.6-1.9-2.6-1.8M305 677.3l-3.2-.2-3.2-.4-3.1-.7-3.1-1-3-1-2.9-1.3-2.9-1.3-2.9-1.5-2.8-1.6M318.6 673.7l-3.2 .4-3.2 .3-3.2 .2-3.2 0-3.2-.2-3.2-.3-3.1-.6-3.1-.8-3-1M331.7 671.8l-3.2 .6-3.1 .6-3.1 .7-3.2 .5-3.2 .6-3.1 .4-3.2 .3-3.2 .2-3.2 0M346.5 671.3l-3.2 .5-3.1 .6-3.1 .6-3.2 .7-3.1 .8-3.1 .8-3.1 .8-3.1 .8-3.1 .8-3.1 .7M361.5 671.9l-3.2 .3-3.1 .3-3.2 .5-3.2 .5-3.1 .6-3.1 .8-3.1 .7-3.1 .9-3.1 .9-3 1-3 1.1M375 673.1l-3.2 .1-3.2 .1-3.2 .2-3.2 .3-3.2 .4-3.1 .5-3.2 .6-3.1 .7-3.1 .8-3.1 .9-3 1M388.3 674.2l-3.2-.1-3.2 0-3.2 0-3.2 .1-3.2 .2-3.1 .2-3.2 .3-3.2 .4-3.2 .5-3.1 .6-3.1 .7M400 675l-3.1-.2-3.2-.1-3.2-.1-3.2-.1-3.2 0-3.2 0-3.2 .1-3.2 .1-3.2 .2-3.2 .3M411.7 675.6l-3.2-.3-3.2-.3-3.1-.2-3.2-.2-3.2-.2-3.2-.2-3.2-.1-3.2-.1-3.2-.1M425 676.2l-3.2-.4-3.2-.4-3.2-.4-3.1-.3-3.2-.4-3.2-.3-3.2-.4-3.2-.3-3.1-.4M439.6 677.8l-3.1-.8-3.1-.7-3.1-.7-3.2-.5-3.1-.6-3.2-.5-3.1-.6-3.2-.5-3.2-.5-3.1-.5M454.1 679.6l-3-1-3.1-1-3-1-3.1-.9-3.1-.8-3.1-.8-3.1-.8-3.1-.7-3.1-.8-3.1-.7-3.1-.7M468.7 681l-3-1.2-3-1.2-3-1.1-3-1-3.1-1-3-1-3.1-1-3-.9-3.1-.9-3.1-.9-3-.9-3.1-.9M480.1 681.2l-2.8-1.4-3-1.3-2.9-1.2-3-1.2-3-1.1-3-1-3-1.1-3.1-1-3-.9-3.1-1-3-.9M487.3 679.4l-2.8-1.6-2.9-1.4-2.9-1.3-3-1.2-3-1.2-3-1.1-3-1M493.1 676.3l-2.6-1.8-2.7-1.7M507.5 675l3.2-.4 3.2-.1 3.2 0 3.2 .1 3.2 .1 3.2 .2M511.3 673.1l3.2 .2 3.2 .2 3.2 .2 3.1 .3 3.2 .2 3.2 .3 3.2 .3 3.2 .2 3.2 .3 3.2 .2 3.2 .2 3.2 .2M521.5 672.1l3.1 .4 3.2 .4 3.2 .3 3.2 .4 3.2 .3 3.1 .3 3.2 .3 3.2 .3 3.2 .2 3.2 .3 3.2 .2 3.2 .2 3.2 .3 3.2 .2M536.3 672.4l3.2 .4 3.2 .3 3.2 .4 3.2 .3 3.2 .3 3.1 .3 3.2 .2 3.2 .3 3.2 .3 3.2 .3 3.2 .3 3.2 .3 3.1 .4M552.8 672.7l3.2 .4 3.2 .3 3.2 .3 3.2 .3 3.2 .3 3.1 .4 3.2 .3 3.2 .4 3.2 .4 3.1 .5 3.2 .6M572.6 673l3.1 .4 3.2 .4 3.2 .4 3.1 .5 3.2 .6 3.1 .6 3.1 .8M586.1 671.9l3.1 .7 3.1 .6 3.1 .8 3.1 .9 3 1 3 1.2 3 1.3M598.6 669.4l3 1.1 2.9 1.2 2.9 1.3 2.9 1.5 2.8 1.5 2.7 1.7 2.7 1.8 2.6 1.8M610.7 665.1l2.6 1.7 2.7 1.8 2.5 1.9 2.6 2 2.5 2 2.4 2 2.5 2.1 2.4 2.1 2.5 2 2.4 2.1M624.9 659.6l1.5 2.8 1.9 2.6 2 2.5 2.2 2.4 2.1 2.3 2.3 2.3 2.2 2.3 2.3 2.2 2.3 2.3 2.3 2.2 2.4 2.1 2.3 2.2M642.4 656.6l-1 3 .6 3.1 1.4 2.9 1.8 2.7 1.9 2.5 2 2.5 2.1 2.4 2.2 2.4 2.2 2.3 2.3 2.2 2.3 2.2 2.4 2.1 2.5 2.1M657 656.6l-1.5 2.7 .2 3.2 1.2 3 1.6 2.7 1.9 2.6 2 2.5 2.1 2.4 2.2 2.3 2.3 2.3 2.4 2.1 2.4 2.1 2.6 2 2.5 1.8M668 658.4l-.2 3.1 1 3.1 1.7 2.7 1.9 2.6 2.1 2.3 2.3 2.3 2.3 2.2 2.5 2 2.6 1.9 2.6 1.8 2.8 1.6 2.9 1.4M72.7 660.9l-3.2 0-3.2-.1-3.2-.2-3.2-.3-3.1-.5M86 660l-3.2 .3-3.2 .3-3.2 .3-3.2 .2-3.2 .1M99.2 659.5l-3.1 .5-3.2 .5-3.2 .5-3.1 .5-3.2 .5M114.1 659l-3.2 .6-3.1 .5-3.2 .6-3.1 .7-3.1 .6-3.2 .7M130.5 658.2l-3.2 .5-3.1 .7-3.1 .6-3.2 .7-3.1 .8-3.1 .7-3.1 .9-3 .9M150.2 658.1l-3.2 .1-3.2 .2-3.2 .4-3.1 .5-3.2 .7-3.1 .7-3.1 .9-3 .9-3.1 1-3 1.1-2.9 1.2-3 1.2M168.3 662.7l-3.1-.8-3.1-.7-3.2-.5-3.2-.3-3.2-.2-3.2 .1-3.2 .2-3.1 .4-3.2 .6-3.1 .7-3.1 .9-3 1-3 1.2-2.9 1.4-2.8 1.5M180.8 667.5l-3-1.3-2.9-1.1-3-1.1-3.1-1-3.1-.8-3.1-.7-3.2-.6-3.1-.4-3.2-.2-3.2-.1-3.2 .1-3.2 .3-3.2 .5-3.1 .6-3.1 .8M193.5 669.4l-2.9-1.4-2.9-1.3-2.9-1.2-3-1.2-3-1.1-3.1-1-3-1-3.1-.9-3.1-.9-3.1-.7-3.1-.6-3.2-.5-3.2-.4-3.2-.2-3.1-.1M206.4 670.4l-2.8-1.6-2.8-1.5-2.9-1.4-2.9-1.3-3-1.2-3-1.1-3-1.1-3.1-1-3-1-3.1-.9-3-.9-3.1-.9-3.1-.8-3.1-.7-3.2-.7M218.8 672.1l-2.6-1.9-2.6-1.8-2.8-1.6-2.8-1.5-2.9-1.4-2.9-1.4-2.9-1.2-3-1.2-3-1.1-3-1-3.1-1-3-1-3.1-.9-3.1-.9-3.1-.8M231.1 673.8l-2.4-2.1-2.5-2-2.6-1.9-2.7-1.7-2.7-1.7-2.8-1.5-2.9-1.5-2.9-1.4-2.9-1.3-2.9-1.2-3-1.2-3-1.1-3-1.1-3.1-1-3-1M243.5 675.1l-2.2-2.3-2.4-2.1-2.5-2-2.6-1.9-2.6-1.9-2.7-1.7-2.7-1.7-2.8-1.6-2.8-1.5-2.8-1.5-2.9-1.4-2.9-1.4-3-1.2-2.9-1.2-3-1.2M256.4 675.6l-2.2-2.2-2.4-2.2-2.4-2-2.6-2-2.5-1.9-2.6-1.9-2.7-1.8-2.6-1.7-2.7-1.8-2.8-1.6-2.7-1.7-2.8-1.5-2.8-1.6-2.9-1.5-2.8-1.4M270.1 675.3l-2.5-2.1-2.5-2-2.5-2-2.5-1.9-2.6-1.9-2.6-1.9-2.6-1.8-2.6-1.9-2.6-1.8-2.7-1.8-2.6-1.8-2.7-1.8-2.7-1.8-2.6-1.7-2.7-1.8M284.6 673.5l-2.8-1.5-2.8-1.6-2.7-1.7-2.7-1.7-2.7-1.7-2.7-1.8-2.6-1.9-2.6-1.8-2.6-1.8-2.6-1.9-2.6-1.9-2.5-1.9-2.6-2-2.4-2.1-2.4-2M299.5 670.2l-3.1-.8-3-.9-3-1.1-3-1.3-2.8-1.4-2.9-1.5-2.7-1.6-2.8-1.7-2.6-1.8-2.7-1.8-2.5-1.9-2.5-2.1-2.3-2.1-2.2-2.3-2.2-2.4M307.8 665.5l-3.2-.5-3.1-.6-3.1-.8-3.1-1-2.9-1.2-2.9-1.3-2.9-1.5-2.7-1.6-2.7-1.8-2.5-2-2.3-2.3M315.3 662l-3.2-.1-3.2-.3-3.1-.5-3.1-.7-3.1-.9-3-1.1-2.9-1.3M323.9 660.4l-3.2 .2-3.2 .1-3.2 .1-3.2-.2M335.6 660.2l-3.2 .3-3.2 .4-3.1 .4M348.9 660.8l-3.2-.1-3.2 .1-3.2 .1M362.1 661.7l-3.1-.7-3.1-.6-3.2-.5M375.2 662.5l-3-1.2-2.9-1.2-2.9-1.3M388.3 662.9l-2.8-1.4-2.8-1.5-2.7-1.9M400.1 662.4l-2.7-1.7-2.7-1.8M413.4 662.4l-2.7-1.7-2.6-1.8M426.8 662.2l-2.8-1.5-2.8-1.6M440.2 661.9l-2.9-1.2-2.9-1.3M452.1 661.2l-3-.9M465.5 661l-3.2-.5M487.6 659.3l2.9 1.4 2.9 1.4M492 655.8l2.9 1.4 2.9 1.2 3 1.2 3 1.1 3 1.1 3.1 1 3 .9 3.1 .9M494.8 651.8l2.9 1.4 3 1.3 2.9 1.3 3 1.2 3 1.1 3 1.1 3 1 3 1 3.1 1 3.1 .8 3.1 .9 3.1 .8 3.1 .7 3.1 .7 3.1 .7M507.9 652.5l2.9 1.3 3 1.2 3 1.2 3 1.1 3 1 3 1 3.1 1 3.1 .9 3 .9 3.1 .8 3.1 .7 3.2 .8 3.1 .7 3.1 .6 3.2 .6M521 653l3 1.2 3 1.2 3 1.1 3 1 3 1 3.1 .9 3.1 .9 3.1 .9 3.1 .8 3.1 .7 3.1 .7 3.1 .7 3.2 .6 3.1 .6 3.2 .6M534.2 653.4l3 1.2 3 1.1 3 1.1 3 .9 3.1 1 3.1 .8 3.1 .8 3.1 .8 3.1 .8 3.1 .7 3.2 .6 3.1 .7 3.1 .6 3.2 .6 3.1 .5M548.9 654.3l3 1.1 3 1 3.1 1 3.1 .9 3 .9 3.1 .8 3.1 .7 3.2 .8 3.1 .7 3.1 .7 3.1 .7 3.2 .6 3.1 .7 3.1 .8M569.8 656.7l3.1 1 3 .9 3.1 .9 3.1 .8 3.1 .8 3.1 .9 3.1 .8 3 .9 3.1 1M589.5 657.8l3 1.2 3 1.1 2.9 1.2 3 1.3 2.9 1.3M606.5 657.7l2.5 2 2.5 2 2.5 2M622.3 657.8l1.3 2.9 1.6 2.8M637.6 656.1l-.9 3 .4 3.2 1.2 3M651.8 656.4l-1.6 2.7-.1 3.2 .8 3.1M665.3 656.5l-1.7 2.6-.2 3.2 .7 3.1M677.3 657.6l-.5 3.1 .4 3.2M61.8 648.4l2.9-1.4 2.9-1.5M77.1 648.3l1.8-2.6M92 648.4l-1.4-2.9M107.3 648.7l-2.7-1.7-2.6-1.8M125.5 649.6l-3.1-1-3-1-3-1.2-2.9-1.3-2.9-1.3M143.7 649.7l-3.1-.6-3.1-.6-3.2-.7-3.1-.8-3.1-.9-3-.9-3.1-1-3-1.1M163.2 651.3l-3.1-.7-3.1-.8-3.1-.7-3.1-.7-3.1-.7-3.2-.7-3.1-.7-3.1-.7-3.1-.8-3.1-.8-3.1-.9-3-.9M179.4 653l-3.1-.9-3-.8-3.1-.9-3.1-.9-3.1-.9-3.1-.8-3.1-.8-3-.8-3.2-.8-3.1-.8-3.1-.7-3.1-.8-3.1-.8-3.1-.8M191.1 653l-3.1-.9-3.1-.9-3-1-3.1-.9-3-.9-3.1-1-3.1-.9-3-.9-3.1-.9-3.1-.8-3.1-.8-3.1-.8-3.1-.9M204.2 653.6l-3-1.1-3-1.1-3.1-1-3-1-3.1-1-3-1-3.1-.9-3-.9-3.1-1-3.1-.9-3-.9-3.1-.8-3.1-.9M215.6 654.1l-2.9-1.3-3-1.2-2.9-1.3-3-1.1-3-1.2-3-1-3.1-1.1-3-1-3-1-3.1-1-3-.9-3.1-.9M228.2 655.6l-2.8-1.5-2.8-1.5-2.9-1.5-2.8-1.4-2.9-1.4-2.9-1.3-3-1.3-2.9-1.2-3-1.2-3-1.1-3-1.1-3-1M242 657.9l-2.6-1.7-2.7-1.7-2.7-1.7-2.8-1.7-2.7-1.7-2.7-1.6-2.8-1.6-2.8-1.6-2.8-1.5-2.9-1.4-2.9-1.3-2.9-1.3-3-1.3M255.9 660.1l-2.7-1.9-2.6-1.8-2.6-1.9-2.6-1.8-2.6-1.9-2.5-1.9-2.6-1.9-2.6-1.9-2.6-1.8-2.7-1.8-2.7-1.7-2.8-1.6-2.8-1.6-2.8-1.5M268.5 660.9l-2.6-1.8-2.6-1.9-2.6-1.9-2.5-2-2.5-2-2.3-2.2-2.4-2.1-2.4-2.2-2.4-2-2.5-2.1-2.5-2-2.5-1.9-2.6-1.9-2.6-1.8M277.3 658.7l-2.6-1.8-2.6-1.9-2.4-2.1-2.3-2.3-2.1-2.4-2-2.4-2.2-2.4-2.1-2.4-2.3-2.3-2.3-2.2-2.3-2.2M283.1 654.7l-2.3-2.2-1.8-2.6-1.4-2.9-1.4-2.9-1.6-2.8-1.6-2.7M289.9 650l1-3 1.2-3M298.2 649.2l2.9-1.4 3.1-.8 3.1-.7 3.2-.3M303.2 647.7l3.1-.6 3.2-.3 3.2 0 3.2 .1 3.2 .2 3.2 .2 3.2 .4 3.2 .4 3.1 .4M313.3 645.3l3.2 .1 3.2 .2 3.2 .4 3.2 .3 3.1 .5 3.2 .4 3.2 .4 3.2 .5 3.1 .4 3.2 .5 3.2 .4M326.7 644.6l3.2 .4 3.1 .4 3.2 .5 3.2 .4 3.2 .5 3.1 .4 3.2 .4 3.2 .4 3.2 .4 3.1 .3 3.2 .3M341.6 645.1l3.1 .4 3.2 .4 3.2 .4 3.2 .3 3.1 .4 3.2 .3 3.2 .3 3.2 .2 3.2 .2 3.2 .2M356.4 645.8l3.2 .3 3.2 .3 3.2 .3 3.2 .2 3.1 .2 3.2 .2 3.2 .1 3.2 .2 3.2 .2M371.3 646.3l3.2 .2 3.2 .1 3.2 .2 3.2 .2 3.2 .1 3.1 .2 3.2 .3 3.2 .2M384.6 646.1l3.2 .2 3.2 .2 3.2 .2 3.2 .3 3.2 .2 3.1 .3 3.2 .4 3.2 .4M397.9 645.6l3.2 .3 3.2 .3 3.2 .4 3.2 .4 3.1 .4 3.2 .5 3.2 .5 3.1 .5M409.8 644.7l3.1 .4 3.2 .5 3.2 .5 3.1 .6 3.1 .6 3.2 .6 3.1 .6 3.1 .7 3.2 .8M421.6 643.6l3.2 .6 3.1 .7 3.1 .6 3.2 .7 3.1 .8 3.1 .7 3.1 .8 3.1 .8 3.1 .9 3 .9M433.6 642.5l3.1 .8 3.1 .7 3.1 .8 3.1 .9 3.1 .8 3 .9 3.1 .9 3 1 3.1 1 3 1 3 1.1M447.1 641.7l3.1 .9 3 .9 3.1 1 3 1 3.1 1 3 1 3 1 3 1.1 3 1.2 3 1.2 2.9 1.3M459.1 640.5l3.1 1 3 1 3 1.1 3 1.1 3 1.1 3 1.2 3 1.1 2.9 1.2 3 1.3 2.9 1.3 2.9 1.3 2.9 1.4M472.7 639.7l3 1.1 3 1.2 3 1.2 2.9 1.2 3 1.3 2.9 1.3 2.9 1.3 2.9 1.3 2.9 1.4 2.9 1.3 2.9 1.4 3 1.3M486.4 638.8l3 1.3 2.9 1.3 2.9 1.4 2.9 1.3 2.8 1.4 2.9 1.5 2.9 1.4 2.8 1.5 2.9 1.4 2.9 1.4 2.9 1.3 2.9 1.2M500.1 638l2.9 1.4 2.9 1.5 2.8 1.5 2.8 1.5 2.8 1.5 2.8 1.6 2.8 1.5 2.8 1.6 2.8 1.5 2.9 1.4 2.9 1.3 3 1.1M515.3 638l2.8 1.6 2.7 1.6 2.8 1.6 2.7 1.6 2.8 1.7 2.7 1.7 2.7 1.7 2.8 1.6 2.8 1.5 2.9 1.3 3 1.2M529 637.3l2.7 1.7 2.7 1.7 2.7 1.8 2.7 1.8 2.6 1.8 2.6 1.8 2.7 1.8 2.7 1.7 2.9 1.4 2.9 1.3 3 1.2M545.4 638.4l2.6 1.9 2.6 1.9 2.6 1.9 2.6 1.9 2.5 1.9 2.5 2 2.7 1.8 2.8 1.4 3 1.4M561.9 639.6l2.4 2.1 2.5 2.1 2.4 2.1 2.3 2.2 2.4 2.1 2.6 1.9 2.7 1.6M579.7 642l2 2.4 2 2.6 1.8 2.6 2.2 2.3M596.7 643.8l.3 3.2 .2 3.2M613 645.3l-2.7 1.7-2.6 1.9M633.1 646l-3.2 .2-3.2 .3-3.1 .5-3.2 .5-3.1 .8-3 1M654.5 647.7l-3.2-.2-3.2-.2-3.2-.2-3.2-.1-3.2 0-3.2 0-3.2 0-3.2 .2-3.2 .3-3.2 .4-3.1 .6M672.5 648.8l-3.2-.3-3.2-.2-3.2-.3-3.1-.3-3.2-.3-3.2-.2-3.2-.2-3.2-.2-3.2-.2-3.2-.1-3.2-.1-3.2 0-3.2 .1-3.2 .2M687.4 648.8l-3.2-.1-3.2-.2-3.2-.3-3.2-.2-3.1-.3-3.2-.3-3.2-.3-3.2-.3-3.2-.3-3.2-.2-3.2-.3-3.2-.2-3.2-.2-3.2-.1-3.2-.1M699.2 647.7l-3.2 0-3.2 0-3.2 0-3.2-.1-3.2-.2-3.2-.2-3.2-.2-3.2-.3-3.2-.3-3.2-.2-3.2-.3-3.1-.3-3.2-.3-3.2-.3" stroke="#000" stroke-width="1.55" fill="none" stroke-linecap="round" stroke-linejoin="round"/><path d="M71.8 934.9L66.7 937.4L67.8 935.3L66.2 933.6zM86.7 937.2L80.4 938.3L82.3 936.4L81.2 934.0zM101.1 939.6L94.0 939.4L96.5 937.8L95.8 934.9zM112.2 940.5L105.4 939.2L108.1 938.1L107.8 935.2zM124.5 941.8L118.6 939.7L121.2 939.1L121.3 936.5zM135.5 941.8L130.5 938.9L132.9 938.7L133.5 936.4zM146.4 941.2L142.5 937.0L144.9 937.5L146.1 935.5zM157.4 940.0L156.1 934.4L157.9 936.0L159.9 934.8zM169.4 937.6L172.1 932.5L172.4 934.9L174.7 935.4zM180.5 936.2L185.8 934.0L184.5 936.0L186.0 937.9zM192.6 933.9L198.3 934.0L196.3 935.3L196.9 937.6zM203.7 931.3L209.6 932.4L207.3 933.4L207.5 936.0zM216.2 929.6L223.0 931.8L220.0 932.7L219.9 935.7zM229.6 929.5L236.4 932.0L233.4 932.7L233.1 935.8zM243.8 931.0L250.1 932.9L247.5 933.7L247.4 936.6zM259.0 934.2L264.7 934.2L262.8 935.5L263.4 937.8zM276.9 936.3L281.0 932.3L280.5 934.7L282.6 935.8zM291.7 938.3L288.1 933.8L290.4 934.5L291.7 932.5zM315.4 942.8L306.6 943.7L309.6 941.2L308.2 937.6zM340.4 943.0L332.0 945.8L334.4 942.8L332.2 939.5zM355.1 935.6L347.8 940.7L349.3 937.1L346.3 934.6zM352.6 930.7L350.4 937.5L349.5 934.6L346.5 934.4zM358.2 936.0L352.8 937.9L354.2 935.9L352.9 934.0zM370.0 936.3L374.4 932.6L373.8 934.9L375.7 936.3zM383.3 935.9L388.9 934.8L387.2 936.5L388.3 938.6zM396.9 935.3L401.5 938.8L399.1 938.7L398.3 940.9zM411.0 935.3L410.4 941.0L409.3 938.9L406.9 939.3zM425.7 934.3L423.2 939.5L422.8 937.1L420.5 936.7zM440.5 933.6L437.3 938.4L437.3 936.0L435.0 935.3zM455.3 933.0L451.6 937.4L451.8 935.0L449.7 934.0zM468.8 933.4L464.8 937.4L465.2 935.1L463.1 934.0zM482.5 934.2L477.9 937.6L478.6 935.4L476.8 933.9zM497.7 935.9L492.2 937.7L493.7 935.8L492.4 933.8zM512.1 938.9L505.8 938.6L508.1 937.2L507.4 934.7zM527.0 942.8L519.3 940.0L522.7 939.2L523.0 935.7zM540.8 944.7L532.7 941.1L536.5 940.5L537.1 936.6zM554.4 944.5L546.0 941.4L549.8 940.5L550.2 936.6zM567.2 942.4L559.3 940.8L562.5 939.5L562.2 936.0zM578.5 939.3L572.0 939.3L574.3 937.8L573.5 935.1zM590.7 937.2L585.1 938.4L586.8 936.6L585.7 934.5zM604.1 935.6L598.9 937.9L600.1 935.9L598.6 934.1zM617.3 934.4L612.4 937.5L613.4 935.3L611.6 933.7zM630.4 933.8L625.8 937.3L626.5 935.0L624.6 933.5zM645.2 933.0L640.2 937.0L641.0 934.4L638.8 932.9zM658.5 933.2L653.2 937.3L654.1 934.6L651.8 932.8zM672.0 933.8L666.3 937.5L667.4 934.8L665.3 932.9zM685.5 934.9L679.6 937.7L681.0 935.3L679.3 933.3zM70.3 922.8L64.7 924.1L66.3 922.3L65.1 920.3zM84.8 924.6L79.1 924.6L81.0 923.2L80.4 920.9zM96.0 925.3L90.5 923.9L92.7 923.1L92.6 920.7zM108.2 926.5L103.3 923.6L105.6 923.4L106.2 921.1zM119.0 926.1L115.7 921.4L117.9 922.2L119.4 920.4zM130.5 926.2L129.6 920.5L131.2 922.2L133.4 921.2zM141.5 926.9L142.6 921.3L143.6 923.5L145.9 923.3zM153.3 925.4L156.5 920.7L156.5 923.0L158.8 923.8zM165.7 923.7L170.4 920.3L169.6 922.6L171.5 924.0zM177.3 921.8L182.7 920.0L181.3 921.9L182.6 923.9zM191.1 919.6L196.8 919.6L194.8 921.0L195.5 923.3zM205.2 918.0L210.7 919.6L208.5 920.3L208.5 922.7zM219.4 917.0L224.5 919.6L222.2 920.0L221.7 922.3zM233.6 916.3L238.2 919.8L235.8 919.7L234.9 921.9zM246.5 914.8L251.1 919.5L248.3 918.9L246.9 921.3zM258.8 921.8L264.4 920.7L262.7 922.4L263.8 924.5zM275.0 927.2L276.0 921.5L277.0 923.7L279.4 923.4zM290.7 932.6L288.0 925.9L290.6 927.6L293.1 925.8zM313.3 941.7L304.5 940.5L308.0 938.8L307.5 935.0zM330.1 940.8L321.2 941.1L324.4 938.8L323.3 935.1zM335.1 932.0L326.9 929.7L330.4 928.6L330.5 924.9zM337.3 917.1L343.4 917.6L341.2 918.9L341.7 921.4zM352.7 916.8L357.7 919.6L355.4 919.8L354.8 922.2zM365.9 916.9L370.9 919.6L368.6 919.9L368.1 922.2zM380.5 916.0L384.8 919.7L382.5 919.5L381.5 921.6zM396.6 918.3L399.5 923.2L397.4 922.3L395.8 924.0zM411.7 920.1L411.2 925.8L410.0 923.7L407.7 924.1zM427.7 920.7L423.4 924.6L424.0 922.2L421.9 921.0zM444.4 921.3L439.1 923.9L440.3 921.8L438.7 919.9zM462.6 921.7L454.8 924.9L456.8 921.8L454.6 918.9zM479.1 922.4L470.7 925.2L473.0 922.2L470.9 918.9zM493.9 924.0L485.2 925.8L487.9 923.1L486.2 919.6zM506.8 926.2L498.0 926.8L501.0 924.4L499.8 920.7zM519.4 928.4L510.6 927.8L513.9 925.9L513.2 922.1zM531.9 930.2L523.1 928.7L526.7 927.2L526.3 923.3zM543.5 930.0L534.7 928.4L538.3 926.9L538.0 923.0zM557.1 929.5L548.3 928.4L551.7 926.7L551.2 922.8zM569.6 927.4L560.7 927.3L564.0 925.2L563.0 921.5zM583.6 925.3L574.8 926.8L577.7 924.1L576.1 920.6zM597.2 923.4L588.7 926.1L591.2 923.1L589.1 919.8zM610.6 922.2L602.3 925.5L604.5 922.3L602.2 919.2zM625.4 921.5L617.3 925.1L619.4 921.8L617.0 918.8zM638.7 921.3L630.6 924.9L632.7 921.6L630.3 918.6zM652.1 921.4L643.9 924.9L646.0 921.7L643.6 918.6zM665.4 921.6L657.2 925.0L659.3 921.8L657.0 918.7zM677.1 921.9L668.8 925.2L671.0 922.0L668.7 918.9zM690.4 922.2L682.1 925.3L684.3 922.2L682.1 919.0zM70.1 910.0L64.4 910.3L66.2 908.9L65.5 906.6zM83.0 911.1L77.3 910.2L79.4 909.2L79.1 906.8zM95.5 912.2L90.2 910.0L92.5 909.5L92.8 907.1zM106.7 911.9L102.2 908.3L104.6 908.5L105.6 906.3zM118.1 910.9L115.8 905.6L117.8 906.9L119.6 905.3zM130.0 910.5L131.1 904.9L132.1 907.1L134.4 906.9zM141.2 910.6L144.7 906.1L144.6 908.5L146.8 909.3zM154.0 909.4L158.8 906.3L157.9 908.5L159.6 910.0zM165.6 908.3L171.0 906.5L169.6 908.4L170.9 910.3zM179.1 906.8L184.8 906.5L183.0 908.0L183.7 910.2zM193.0 905.6L198.6 906.7L196.4 907.6L196.6 910.0zM208.3 905.6L213.4 908.2L211.1 908.5L210.6 910.8zM223.4 906.3L227.4 910.4L225.1 909.9L223.9 912.0zM237.8 906.1L239.5 911.6L237.6 910.1L235.6 911.4zM254.4 904.1L252.2 909.4L251.7 907.1L249.4 906.8zM267.7 910.5L262.1 909.4L264.3 908.4L264.1 906.1zM278.7 913.9L276.0 908.9L278.1 910.0L279.8 908.3zM290.3 914.0L289.0 908.4L290.7 910.0L292.8 908.9zM301.2 920.0L299.5 911.6L302.1 914.2L305.5 912.6zM312.8 931.8L308.0 924.3L311.6 925.9L314.2 923.0zM318.8 926.1L316.0 917.7L319.1 920.1L322.3 918.0zM330.8 907.0L338.8 903.0L336.8 906.3L339.4 909.2zM354.5 905.8L359.8 908.0L357.5 908.5L357.2 910.8zM369.7 906.3L373.8 910.4L371.4 909.9L370.3 912.0zM383.8 906.1L386.3 911.3L384.2 910.1L382.4 911.6zM397.6 907.7L397.6 913.5L396.2 911.5L393.9 912.1zM411.5 908.3L406.5 911.1L407.5 909.0L405.8 907.3zM426.3 909.2L420.5 909.4L422.4 908.0L421.7 905.7zM441.1 909.6L435.4 909.9L437.3 908.5L436.5 906.2zM457.6 909.9L452.0 910.8L453.7 909.2L452.7 907.0zM472.6 909.9L466.1 911.2L468.1 909.2L466.8 906.7zM487.4 910.7L480.1 911.6L482.4 909.5L481.3 906.6zM500.3 912.0L493.1 911.9L495.7 910.2L494.9 907.3zM511.5 912.7L504.9 911.7L507.5 910.5L507.1 907.7zM524.2 913.7L518.1 912.0L520.6 911.1L520.6 908.5zM537.4 913.8L531.6 912.2L534.0 911.4L534.0 908.9zM550.0 911.9L544.3 911.2L546.5 910.1L546.1 907.7zM565.7 910.2L559.6 911.3L561.4 909.5L560.3 907.2zM580.7 907.8L573.8 911.2L575.4 908.3L573.2 905.8zM597.0 906.0L589.5 910.8L591.1 907.2L588.3 904.6zM613.5 905.8L605.8 910.1L607.6 906.7L604.9 903.9zM628.6 906.9L620.4 910.4L622.5 907.2L620.2 904.1zM643.6 908.6L635.1 911.3L637.5 908.3L635.4 905.0zM656.8 910.0L648.2 912.3L650.8 909.4L648.9 906.0zM670.0 910.9L661.4 913.0L664.0 910.2L662.2 906.8zM681.7 910.8L673.2 913.1L675.7 910.2L673.8 906.8zM693.5 909.5L685.2 912.6L687.5 909.5L685.3 906.3zM71.4 897.3L65.7 897.0L67.7 895.8L67.2 893.5zM82.8 897.6L77.2 896.4L79.4 895.5L79.2 893.1zM94.4 897.3L89.0 895.3L91.3 894.7L91.5 892.3zM106.1 896.6L101.2 893.6L103.6 893.4L104.2 891.2zM118.2 895.5L114.6 891.0L116.9 891.7L118.2 889.7zM130.9 895.4L131.3 889.7L132.5 891.8L134.9 891.3zM143.8 894.9L148.5 891.6L147.7 893.9L149.5 895.4zM155.5 894.3L161.1 893.3L159.4 895.0L160.5 897.1zM168.9 893.8L174.7 894.1L172.7 895.3L173.2 897.6zM182.4 893.4L188.0 894.7L185.8 895.6L185.9 898.0zM196.1 893.0L201.3 895.5L198.9 895.9L198.5 898.2zM210.8 894.0L214.5 898.3L212.2 897.7L210.9 899.7zM224.8 894.0L223.5 899.6L222.6 897.4L220.3 897.5zM239.9 893.8L235.6 897.6L236.2 895.3L234.2 894.0zM256.5 893.8L251.5 896.5L252.5 894.4L250.9 892.7zM273.0 896.2L267.0 896.9L268.9 895.3L267.9 892.9zM281.4 895.9L275.7 896.2L277.6 894.7L276.8 892.5zM291.7 895.0L285.9 895.0L287.9 893.6L287.2 891.3zM303.4 894.8L308.4 892.0L307.4 894.2L309.1 895.9zM313.6 895.3L318.6 892.6L317.5 894.7L319.2 896.4zM325.3 894.3L330.8 892.7L329.3 894.5L330.5 896.6zM343.5 894.2L348.9 896.1L346.7 896.7L346.5 899.1zM358.2 894.5L353.5 897.7L354.3 895.5L352.5 894.0zM374.7 895.3L369.1 896.4L370.7 894.7L369.6 892.6zM387.8 896.0L382.1 896.1L384.0 894.7L383.4 892.4zM400.7 896.9L395.1 895.5L397.3 894.7L397.3 892.3zM413.2 897.8L408.3 894.9L410.7 894.7L411.2 892.4zM426.0 898.2L421.6 894.4L424.0 894.7L425.0 892.5zM438.4 896.8L434.1 893.0L436.5 893.3L437.5 891.1zM452.1 896.6L447.2 893.6L449.6 893.4L450.2 891.2zM465.8 896.2L460.3 894.3L462.6 893.7L462.8 891.3zM477.8 895.2L472.4 893.5L474.6 892.8L474.7 890.4zM490.9 895.4L486.4 891.9L488.8 892.0L489.6 889.8zM504.2 897.1L501.5 892.0L503.6 893.1L505.3 891.5zM516.9 897.1L515.4 891.6L517.2 893.1L519.3 891.9zM530.2 897.1L528.8 891.5L530.6 893.1L532.6 891.9zM544.0 895.5L540.5 890.9L542.8 891.6L544.2 889.7zM557.8 894.6L552.7 897.2L553.8 895.1L552.2 893.4zM573.8 892.7L570.1 897.1L570.3 894.7L568.2 893.7zM591.1 890.0L587.2 895.3L587.3 892.5L584.8 891.5zM608.0 890.0L601.5 896.0L602.4 892.3L599.1 890.2zM625.1 891.6L617.4 895.9L619.1 892.5L616.4 889.7zM641.9 894.3L633.5 897.0L635.9 894.0L633.8 890.7zM656.7 896.9L648.0 898.6L650.8 895.9L649.1 892.4zM671.4 898.6L662.7 900.1L665.5 897.4L663.9 893.9zM684.7 898.5L676.1 900.6L678.7 897.7L676.9 894.3zM695.1 896.3L686.8 899.4L689.0 896.2L686.8 893.1zM71.4 883.5L65.7 883.3L67.7 882.0L67.1 879.7zM83.0 883.6L77.3 882.7L79.4 881.7L79.1 879.3zM94.7 883.1L89.1 881.8L91.3 880.9L91.2 878.6zM106.5 882.4L101.1 880.6L103.3 880.0L103.4 877.6zM118.5 881.5L113.3 879.1L115.6 878.7L116.0 876.3zM131.6 881.7L127.6 877.6L129.9 878.0L131.1 876.0zM143.7 881.0L148.9 878.6L147.8 880.6L149.3 882.4zM157.1 880.7L162.8 880.5L160.9 881.9L161.6 884.2zM170.4 880.7L176.1 880.7L174.2 882.0L174.8 884.3zM183.7 880.7L189.4 880.6L187.5 882.0L188.2 884.3zM197.0 880.7L202.8 880.7L200.8 882.0L201.4 884.3zM211.9 881.0L206.4 882.8L207.9 880.9L206.5 878.9zM225.2 881.0L219.7 882.7L221.2 880.8L219.9 878.8zM240.1 881.0L234.7 882.9L236.1 880.9L234.7 879.0zM255.0 880.8L249.7 882.9L251.0 880.9L249.5 879.1zM269.9 880.4L264.7 882.9L265.9 880.8L264.3 879.0zM281.5 880.2L276.6 883.1L277.6 880.9L275.9 879.3zM293.2 880.1L288.8 883.8L289.4 881.5L287.4 880.2zM306.3 879.7L302.7 884.2L302.8 881.8L300.7 880.9zM319.5 879.6L316.2 884.2L316.2 881.9L314.0 881.1zM333.1 880.0L328.8 883.9L329.3 881.6L327.3 880.3zM349.7 880.2L344.5 882.8L345.7 880.7L344.1 878.9zM366.2 881.2L360.1 883.1L361.7 881.0L360.3 878.7zM382.6 882.7L374.5 884.1L377.1 881.7L375.6 878.4zM395.6 884.2L387.0 884.4L390.1 882.3L389.0 878.7zM406.9 885.1L399.4 884.1L402.3 882.7L401.8 879.4zM418.1 885.6L412.3 883.9L414.7 883.1L414.8 880.6zM428.3 884.4L423.0 882.4L425.3 881.8L425.5 879.5zM440.1 883.8L434.9 881.3L437.3 880.9L437.6 878.6zM451.1 881.6L446.3 878.5L448.6 878.4L449.3 876.1zM464.0 881.7L461.3 876.7L463.4 877.8L465.1 876.1zM476.6 881.5L479.4 876.5L479.6 878.8L481.9 879.4zM488.3 882.0L492.4 877.9L492.0 880.2L494.0 881.4zM501.6 881.9L505.8 878.0L505.3 880.3L507.3 881.5zM513.5 882.6L517.6 878.6L517.1 880.9L519.2 882.1zM526.7 882.4L531.1 878.6L530.4 880.9L532.4 882.3zM539.8 881.7L544.8 878.8L543.8 880.9L545.5 882.6zM554.7 880.5L560.3 879.5L558.6 881.2L559.7 883.3zM568.5 879.4L573.9 881.4L571.6 882.0L571.4 884.4zM583.3 878.6L585.9 883.7L583.9 882.5L582.1 884.2zM598.3 878.9L596.9 884.5L596.1 882.3L593.7 882.4zM615.2 878.3L611.3 882.5L611.6 880.2L609.5 879.1zM632.2 879.2L626.5 882.5L627.7 880.0L625.7 878.1zM650.5 880.4L642.2 883.6L644.4 880.5L642.1 877.3zM667.0 881.6L658.5 884.2L660.9 881.3L658.9 878.0zM683.4 882.3L675.0 884.9L677.4 881.9L675.4 878.6zM695.2 881.5L686.9 884.7L689.1 881.5L686.9 878.4zM71.3 870.0L65.6 869.6L67.6 868.4L67.1 866.1zM83.0 869.8L77.3 869.0L79.4 867.9L79.1 865.6zM94.7 869.3L89.1 868.1L91.3 867.2L91.2 864.8zM106.6 868.6L101.1 867.0L103.3 866.2L103.3 863.9zM118.5 867.7L113.2 865.5L115.5 865.0L115.8 862.7zM131.6 867.9L127.3 864.1L129.7 864.4L130.7 862.2zM144.1 867.8L145.8 862.3L146.5 864.6L148.9 864.7zM157.2 867.6L160.7 863.1L160.6 865.4L162.8 866.3zM170.6 867.8L172.6 862.4L173.2 864.7L175.6 864.9zM184.2 867.9L184.2 862.2L185.5 864.1L187.8 863.5zM197.7 868.0L196.1 862.5L198.0 864.0L200.0 862.7zM211.2 868.0L208.3 863.0L210.5 864.0L212.1 862.3zM224.8 867.8L220.1 864.5L222.5 864.6L223.3 862.3zM238.5 867.3L232.8 868.1L234.5 866.5L233.6 864.4zM251.8 867.0L247.0 870.2L247.9 868.0L246.1 866.4zM266.6 866.6L261.9 869.8L262.7 867.6L260.9 866.1zM281.6 867.0L276.3 869.2L277.6 867.2L276.1 865.3zM296.4 868.0L290.8 869.1L292.5 867.4L291.4 865.3zM312.8 869.3L306.2 870.1L308.3 868.2L307.3 865.7zM329.2 869.8L321.1 871.3L323.7 868.8L322.1 865.5zM344.3 868.7L335.8 871.3L338.3 868.3L336.3 865.1zM359.3 866.9L351.3 870.6L353.3 867.3L350.8 864.3zM372.5 865.2L364.8 869.7L366.5 866.2L363.8 863.5zM387.3 864.3L379.7 868.9L381.4 865.4L378.6 862.7zM402.3 864.9L394.4 868.9L396.3 865.5L393.7 862.6zM415.7 866.4L407.5 869.6L409.7 866.5L407.4 863.3zM427.4 867.9L418.9 870.4L421.4 867.4L419.4 864.1zM437.5 868.6L428.8 870.6L431.5 867.8L429.7 864.4zM446.0 868.4L439.5 869.7L441.4 867.7L440.2 865.2zM454.5 867.8L448.9 868.9L450.6 867.2L449.5 865.0zM464.7 867.4L459.0 868.1L460.7 866.5L459.8 864.3zM476.4 867.2L481.9 865.4L480.4 867.3L481.7 869.3zM488.1 867.0L493.7 865.5L492.1 867.3L493.3 869.3zM499.8 866.9L505.3 865.3L503.8 867.2L505.1 869.2zM511.5 866.9L517.0 865.3L515.5 867.1L516.8 869.1zM523.2 867.1L528.6 865.3L527.2 867.2L528.6 869.1zM534.9 867.4L541.0 865.0L539.5 867.3L541.1 869.5zM546.6 867.6L553.8 864.6L552.0 867.4L554.1 870.1zM558.4 867.8L566.0 864.5L564.0 867.5L566.2 870.3zM573.3 867.6L580.0 864.8L578.3 867.4L580.2 869.8zM591.4 867.1L596.8 865.2L595.4 867.1L596.7 869.1zM608.0 866.5L613.7 866.1L611.8 867.6L612.6 869.9zM623.9 866.5L623.2 872.2L622.1 870.0L619.7 870.4zM640.5 865.5L636.4 869.5L636.9 867.2L634.8 866.0zM660.2 864.3L654.5 868.5L655.5 865.7L653.2 863.8zM676.9 864.9L669.1 869.2L670.9 865.8L668.2 863.0zM692.0 866.8L683.5 869.5L685.9 866.5L683.8 863.2zM67.8 856.0L62.4 854.0L64.7 853.4L64.9 851.0zM80.3 856.7L75.6 853.4L78.0 853.4L78.8 851.2zM92.2 855.7L88.5 851.3L90.8 851.9L92.1 849.9zM104.8 854.2L102.0 849.2L104.1 850.2L105.8 848.6zM117.9 854.2L116.2 848.7L118.1 850.2L120.1 848.9zM131.0 854.2L130.8 848.4L132.2 850.4L134.5 849.6zM144.0 854.0L145.9 848.6L146.6 850.9L148.9 851.1zM157.3 854.0L159.3 848.6L159.9 850.9L162.3 851.1zM170.9 854.2L171.1 848.4L172.4 850.4L174.7 849.9zM184.3 854.2L183.8 848.5L185.3 850.3L187.5 849.5zM197.6 854.2L197.1 848.5L198.6 850.3L200.8 849.5zM210.2 855.7L210.3 849.9L211.6 851.9L213.9 851.3zM223.9 854.1L225.5 848.5L226.3 850.8L228.6 850.8zM237.0 853.9L240.5 849.3L240.4 851.7L242.6 852.5zM250.2 853.7L254.7 850.1L254.0 852.4L256.0 853.8zM264.5 854.2L261.0 849.6L263.3 850.4L264.7 848.4zM279.6 854.7L274.0 853.4L276.2 852.6L276.1 850.2zM298.7 857.5L292.5 856.8L294.8 855.6L294.4 853.0zM318.0 859.9L309.1 859.5L312.4 857.5L311.6 853.8zM338.0 860.3L329.2 861.5L332.0 858.9L330.6 855.4zM352.1 856.7L343.7 859.7L346.0 856.6L343.8 853.4zM362.5 852.7L354.7 857.1L356.5 853.7L353.8 850.9zM373.8 849.7L366.7 855.1L368.0 851.4L364.9 849.0zM388.3 848.0L381.3 853.4L382.5 849.7L379.5 847.3zM403.5 848.9L395.9 853.4L397.6 849.9L394.8 847.2zM418.8 850.7L410.7 854.4L412.7 851.1L410.3 848.1zM433.8 852.4L425.6 855.6L427.8 852.5L425.5 849.3zM445.6 853.0L437.4 856.4L439.5 853.2L437.2 850.1zM452.5 852.8L444.4 856.6L446.4 853.3L444.0 850.3zM456.1 852.8L451.0 855.4L452.2 853.3L450.5 851.5zM464.5 852.9L461.9 858.0L461.6 855.7L459.2 855.2zM475.3 851.9L480.7 853.8L478.5 854.4L478.3 856.8zM487.0 851.4L492.7 852.4L490.5 853.4L490.8 855.8zM498.9 850.8L504.5 851.7L502.4 852.7L502.7 855.1zM512.1 851.0L517.8 851.7L515.7 852.8L516.1 855.1zM523.6 851.1L529.3 851.2L527.4 852.5L528.0 854.8zM535.0 852.2L541.6 851.0L539.6 853.0L540.8 855.6zM543.4 853.5L551.9 850.7L549.5 853.7L551.6 857.0zM552.0 855.2L560.2 851.6L558.1 854.9L560.5 857.9zM563.9 856.4L571.7 852.2L569.9 855.6L572.5 858.5zM580.4 856.2L588.1 851.7L586.3 855.2L589.1 857.9zM598.4 854.9L605.9 850.8L604.1 854.1L606.7 856.8zM618.0 853.4L623.3 851.4L622.0 853.4L623.4 855.3zM634.7 852.5L640.4 852.8L638.4 854.0L638.9 856.3zM650.5 852.7L650.0 858.4L648.8 856.3L646.5 856.8zM665.7 852.6L661.3 856.3L662.0 854.0L660.0 852.6zM680.8 853.7L675.2 855.2L676.8 853.4L675.5 851.4zM65.6 841.9L61.8 837.7L64.1 838.2L65.3 836.1zM77.6 842.0L76.6 836.4L78.3 838.1L80.4 837.0zM90.2 841.8L91.0 836.1L92.1 838.2L94.4 837.9zM103.2 841.6L104.9 836.1L105.6 838.4L108.0 838.4zM117.4 840.3L119.3 834.9L119.9 837.1L122.3 837.3zM130.8 840.3L132.3 834.8L133.1 837.0L135.5 837.0zM144.2 840.4L144.7 834.7L145.9 836.7L148.2 836.2zM157.8 840.5L156.2 835.0L158.0 836.4L160.0 835.2zM171.2 840.5L169.2 835.1L171.1 836.4L173.0 835.0zM184.0 840.3L185.2 834.7L186.2 836.9L188.5 836.8zM197.1 840.1L200.5 835.5L200.4 837.9L202.7 838.7zM210.3 840.0L214.5 836.0L214.0 838.3L216.1 839.5zM222.1 840.5L226.5 836.8L225.9 839.1L227.9 840.4zM234.0 841.1L238.3 837.3L237.7 839.6L239.7 841.0zM247.4 841.5L251.4 837.3L251.0 839.6L253.1 840.7zM261.5 842.5L263.9 837.3L264.3 839.6L266.7 840.0zM277.6 843.6L275.7 838.3L277.6 839.6L279.5 838.2zM295.5 845.2L290.4 842.6L292.7 842.2L293.2 839.9zM315.5 847.2L306.7 845.8L310.2 844.2L309.8 840.4zM332.7 846.7L323.8 846.8L327.0 844.6L326.0 840.9zM347.0 844.0L338.3 845.9L341.0 843.1L339.3 839.6zM356.1 840.7L347.7 843.8L350.0 840.7L347.8 837.5zM367.7 838.2L361.4 842.0L362.7 839.2L360.4 837.0zM380.8 836.9L374.6 841.3L375.7 838.3L373.2 836.2zM397.3 836.7L389.8 841.3L391.4 837.8L388.6 835.2zM415.6 837.3L407.6 841.3L409.6 837.9L407.0 835.0zM432.2 838.0L424.2 841.8L426.2 838.5L423.7 835.6zM443.9 837.7L436.2 842.2L437.9 838.7L435.1 835.9zM450.5 836.8L443.7 842.4L444.8 838.7L441.7 836.5zM454.2 838.0L450.1 842.0L450.6 839.7L448.5 838.5zM463.6 837.3L466.2 842.4L464.1 841.3L462.4 842.9zM473.3 835.7L478.4 838.2L476.1 838.6L475.6 840.9zM485.1 834.9L490.4 837.1L488.1 837.6L487.8 840.0zM498.7 834.6L503.8 837.1L501.5 837.5L501.1 839.8zM513.4 835.4L518.4 838.3L516.0 838.5L515.4 840.8zM527.6 836.9L532.8 839.3L530.4 839.7L530.1 842.0zM538.8 837.0L544.5 838.0L542.3 839.0L542.5 841.4zM548.5 837.8L555.0 837.3L552.9 839.0L553.8 841.6zM556.8 839.0L565.3 836.7L562.8 839.6L564.7 843.0zM565.3 840.5L573.5 837.3L571.3 840.5L573.6 843.6zM577.1 841.6L585.0 837.7L583.1 841.1L585.6 844.0zM590.4 841.9L598.3 837.8L596.4 841.2L599.0 844.0zM608.5 841.2L616.4 837.2L614.5 840.6L617.0 843.5zM624.9 840.9L632.5 837.1L630.7 840.3L633.1 843.1zM643.1 840.7L648.3 838.0L647.1 840.1L648.8 841.9zM658.2 841.4L662.8 837.9L662.0 840.2L663.9 841.6zM673.8 842.3L676.6 837.3L676.8 839.6L679.1 840.2zM65.5 825.7L60.7 828.8L61.6 826.6L59.8 825.1zM77.9 825.1L80.5 830.2L78.4 829.1L76.6 830.7zM91.0 825.2L95.0 829.2L92.7 828.8L91.5 830.9zM103.9 825.6L109.6 825.7L107.6 827.0L108.3 829.3zM117.5 826.5L119.1 821.0L119.8 823.3L122.2 823.3zM130.6 828.2L130.1 822.5L131.7 824.3L133.9 823.5zM144.2 828.3L143.0 822.7L144.8 824.3L146.8 823.2zM157.7 828.3L156.1 822.8L157.9 824.3L159.9 823.0zM171.2 826.7L169.0 821.4L171.0 822.7L172.8 821.2zM184.9 826.6L180.4 823.0L182.8 823.1L183.7 821.0zM197.8 825.1L199.5 830.6L197.6 829.1L195.6 830.4zM210.9 825.1L214.2 829.8L212.0 829.0L210.5 830.8zM222.5 824.4L227.9 826.3L225.6 826.9L225.5 829.3zM235.3 826.0L240.6 823.8L239.3 825.8L240.8 827.7zM246.0 828.4L250.0 824.3L249.6 826.6L251.7 827.8zM258.9 830.7L261.8 825.7L262.0 828.1L264.3 828.6zM273.9 832.1L275.0 826.4L275.9 828.6L278.3 828.4zM290.1 833.0L288.3 827.6L290.2 829.0L292.2 827.7zM306.3 832.7L302.3 828.5L304.6 829.0L305.8 827.0zM320.0 830.9L315.6 827.2L318.0 827.4L318.9 825.2zM333.8 830.6L329.0 827.4L331.4 827.3L332.1 825.1zM346.1 829.4L341.8 825.6L344.1 825.9L345.1 823.7zM358.5 828.0L354.4 824.0L356.7 824.4L357.9 822.3zM371.4 826.4L365.9 824.7L368.2 824.0L368.2 821.6zM386.5 825.8L381.1 827.9L382.4 825.9L381.0 824.0zM404.3 823.9L399.7 827.3L400.4 825.1L398.5 823.7zM420.1 821.6L415.0 827.4L415.5 824.1L412.5 822.7zM434.1 819.6L429.7 827.0L429.5 823.3L425.9 822.2zM444.2 820.4L441.1 826.5L440.7 823.7L437.9 823.1zM454.0 821.5L452.4 827.0L451.6 824.7L449.3 824.7zM464.4 821.9L465.6 827.5L463.9 825.9L461.8 827.0zM475.8 822.1L479.5 826.6L477.2 825.9L475.9 827.9zM489.1 822.2L492.8 826.5L490.5 825.9L489.2 827.9zM503.3 821.9L505.9 827.1L503.8 825.9L502.1 827.5zM517.6 821.9L518.9 827.5L517.1 825.9L515.0 827.0zM531.0 821.9L532.1 827.5L530.4 825.9L528.3 827.0zM543.0 822.0L545.9 826.9L543.7 825.9L542.1 827.6zM553.7 821.4L558.3 824.8L556.0 824.7L555.1 827.0zM562.2 819.6L568.8 822.8L565.7 823.2L565.1 826.3zM570.1 819.2L578.7 821.6L575.0 822.8L574.9 826.7zM579.4 820.6L588.3 821.2L584.9 823.1L585.6 826.9zM590.6 822.6L599.4 821.7L596.4 824.2L597.8 827.8zM603.6 824.7L612.2 822.6L609.6 825.4L611.5 828.8zM618.5 826.5L626.8 823.4L624.5 826.5L626.8 829.7zM633.5 827.9L641.5 824.0L639.5 827.4L642.1 830.3zM648.6 829.0L656.2 824.4L654.6 827.9L657.4 830.6zM665.3 829.5L672.3 824.0L671.1 827.7L674.2 830.0zM64.4 808.1L66.7 813.4L64.7 812.1L62.9 813.7zM78.4 804.9L80.2 810.4L78.3 809.0L76.4 810.3zM91.9 805.0L93.6 810.4L91.7 809.0L89.7 810.3zM104.9 809.7L106.2 815.3L104.5 813.7L102.4 814.9zM117.2 812.5L121.2 808.4L120.8 810.7L122.9 811.8zM130.3 816.0L129.7 810.3L131.2 812.1L133.5 811.2zM143.2 819.2L142.2 813.5L143.9 815.2L146.1 814.1zM156.6 820.8L155.1 814.4L157.1 816.3L159.6 814.9zM170.7 817.7L169.2 812.2L171.0 813.7L173.0 812.5zM184.7 812.9L181.4 808.2L183.6 809.0L185.1 807.2zM198.2 811.5L196.6 817.0L195.9 814.7L193.5 814.7zM212.6 808.4L212.3 814.2L211.1 812.1L208.8 812.7zM224.9 809.8L225.7 815.5L224.0 813.7L221.9 814.7zM237.4 811.4L241.3 815.5L239.0 815.1L237.8 817.1zM248.8 813.1L252.9 809.1L252.5 811.4L254.5 812.6zM260.1 815.8L262.9 810.8L263.1 813.2L265.4 813.7zM271.3 818.3L274.0 812.5L274.4 815.1L277.1 815.5zM283.7 819.6L286.2 812.7L287.0 815.8L290.1 816.1zM297.0 819.6L299.4 812.4L300.3 815.5L303.5 815.7zM310.3 819.6L312.6 812.2L313.6 815.4L316.9 815.5zM323.3 821.3L324.6 813.2L326.1 816.5L329.6 816.1zM337.0 821.6L338.1 813.3L339.7 816.6L343.4 816.1zM351.2 820.4L352.8 812.8L354.1 815.9L357.4 815.7zM366.4 817.9L368.0 812.4L368.8 814.6L371.1 814.6zM382.5 814.0L384.5 808.6L385.1 810.9L387.5 811.0zM397.7 811.4L397.2 817.1L396.0 815.1L393.7 815.5zM412.7 808.7L411.6 814.3L410.7 812.1L408.3 812.3zM428.7 804.7L427.3 811.3L426.2 808.7L423.3 808.8zM443.3 803.7L441.1 810.7L440.2 807.7L437.1 807.6zM456.1 805.3L453.9 811.0L453.3 808.5L450.8 808.2zM467.7 808.0L465.3 813.2L464.9 810.9L462.6 810.6zM480.2 809.5L477.4 814.5L477.2 812.1L474.9 811.6zM493.7 809.7L490.6 814.5L490.5 812.1L488.2 811.4zM508.2 808.7L505.1 813.5L505.0 811.1L502.8 810.4zM523.5 806.1L520.8 811.5L520.4 809.0L517.9 808.5zM535.6 805.0L533.8 811.5L532.9 808.8L530.0 808.8zM546.8 803.9L546.7 810.4L545.2 808.1L542.5 808.8zM557.0 803.3L559.0 809.7L556.8 808.0L554.4 809.5zM567.0 802.4L571.4 809.1L568.2 807.7L565.9 810.3zM576.2 800.9L582.5 807.2L578.7 806.4L576.7 809.8zM585.2 800.4L592.4 805.5L588.5 805.4L587.2 809.1zM595.0 802.1L603.2 805.6L599.4 806.3L598.8 810.1zM606.6 805.3L615.3 806.7L611.8 808.3L612.2 812.2zM618.9 808.3L627.8 807.8L624.7 810.1L625.9 813.8zM631.9 810.7L640.5 808.8L637.8 811.6L639.6 815.0zM646.7 812.3L655.0 809.2L652.7 812.4L655.0 815.5zM660.0 812.3L668.2 809.0L666.0 812.2L668.4 815.3zM59.9 795.6L65.6 796.3L63.5 797.4L63.8 799.7zM73.1 793.2L78.5 795.2L76.2 795.8L76.0 798.1zM87.8 794.1L92.8 796.7L90.5 797.0L90.0 799.4zM101.5 795.9L106.9 797.7L104.6 798.4L104.5 800.7zM113.9 798.3L119.4 796.5L118.0 798.4L119.3 800.3zM126.7 801.6L130.0 796.9L129.9 799.3L132.2 800.0zM139.6 805.6L140.7 799.6L141.8 801.9L144.4 801.7zM153.9 806.2L154.3 799.5L155.7 801.9L158.5 801.3zM168.4 805.0L168.5 799.3L169.8 801.2L172.1 800.6zM183.7 800.7L183.5 794.9L184.9 796.8L187.2 796.1zM198.1 799.1L193.9 795.2L196.3 795.5L197.4 793.4zM211.8 798.0L208.0 802.3L208.3 800.0L206.1 799.0zM225.0 797.8L222.4 802.9L222.0 800.6L219.7 800.1zM238.2 797.7L236.5 803.2L235.8 800.9L233.4 800.9zM250.2 798.2L255.9 797.4L254.1 799.0L255.1 801.2zM263.6 798.7L267.6 794.6L267.2 797.0L269.3 798.1zM274.1 800.3L277.9 796.0L277.6 798.4L279.8 799.4zM284.6 801.8L288.3 797.5L288.1 799.8L290.3 800.8zM296.5 802.6L301.0 797.3L300.7 800.3L303.3 801.5zM307.1 804.3L312.7 797.6L312.3 801.4L315.7 803.0zM318.0 806.6L323.4 799.5L323.2 803.4L326.8 804.9zM332.1 807.6L336.9 800.2L336.9 804.0L340.6 805.2zM346.2 808.6L350.3 800.7L350.7 804.6L354.5 805.4zM363.6 805.9L366.7 798.6L367.4 802.0L370.8 802.5zM380.4 802.6L382.5 797.3L383.1 799.6L385.4 799.8zM397.1 799.1L397.2 793.4L398.5 795.4L400.8 794.8zM412.6 796.9L409.4 801.7L409.4 799.3L407.1 798.6zM428.5 795.0L425.2 799.7L425.2 797.3L422.9 796.6zM444.6 793.5L440.3 798.7L440.6 795.9L438.0 794.7zM459.5 793.0L454.7 798.5L455.1 795.4L452.3 794.0zM473.0 793.3L468.3 798.6L468.7 795.6L466.0 794.3zM484.9 794.1L480.4 799.3L480.8 796.4L478.1 795.2zM499.3 792.9L495.1 798.7L495.2 795.6L492.4 794.5zM512.1 792.1L508.2 798.8L508.0 795.5L504.8 794.6zM525.6 789.9L522.6 797.6L521.8 794.1L518.3 793.7zM537.4 788.6L535.7 796.9L534.3 793.5L530.7 793.7zM548.8 787.5L548.4 795.7L546.6 792.6L543.1 793.4zM559.3 788.2L560.3 796.1L558.0 793.5L554.8 794.9zM570.2 786.4L572.7 794.2L569.9 792.0L567.0 793.9zM580.7 786.8L585.0 794.5L581.6 792.7L578.8 795.4zM590.9 786.3L596.6 793.1L592.9 792.0L590.6 795.1zM600.8 786.6L607.7 792.3L603.8 791.9L602.2 795.4zM611.7 789.0L619.7 792.8L615.9 793.4L615.2 797.2zM622.1 790.4L630.7 792.7L627.1 794.0L627.1 797.8zM633.0 792.0L641.8 792.9L638.4 794.7L639.0 798.5zM644.1 793.4L653.0 793.1L649.9 795.3L651.0 799.1zM657.2 794.4L666.0 793.3L663.1 795.8L664.5 799.4zM52.7 783.9L60.6 781.2L58.5 784.1L60.5 787.1zM66.1 783.2L74.2 781.1L71.8 783.8L73.6 786.9zM79.4 783.2L87.5 781.2L85.1 783.8L86.8 787.0zM92.7 783.6L101.0 781.3L98.5 784.2L100.4 787.4zM105.9 784.7L114.3 781.8L112.0 784.9L114.2 788.1zM119.4 786.7L127.0 782.6L125.3 785.9L127.8 788.7zM134.9 788.4L140.6 783.5L139.8 786.6L142.5 788.4zM150.4 789.3L154.4 784.0L154.3 786.8L156.9 787.9zM165.8 789.4L168.5 784.3L168.8 786.7L171.1 787.2zM181.0 789.0L182.8 783.5L183.5 785.8L185.8 785.9zM195.7 788.1L196.8 782.4L197.8 784.6L200.1 784.4zM210.0 786.7L210.7 781.1L211.8 783.2L214.2 782.8zM223.9 785.3L225.3 779.7L226.1 781.9L228.5 781.8zM236.9 784.6L242.2 782.5L240.9 784.5L242.4 786.3zM250.4 784.0L255.5 786.7L253.2 787.0L252.7 789.3zM262.7 782.9L267.8 785.5L265.4 785.8L265.0 788.1zM275.4 783.6L281.1 784.2L279.1 785.3L279.5 787.6zM288.5 784.8L293.8 782.5L292.5 784.5L294.0 786.3zM300.6 786.3L304.7 782.3L304.2 784.6L306.3 785.8zM311.6 788.7L315.0 784.1L315.0 786.5L317.2 787.3zM322.8 791.2L326.5 785.2L326.6 788.2L329.5 789.1zM336.5 791.6L340.2 784.8L340.5 788.1L343.8 788.9zM350.2 792.1L353.4 785.3L353.9 788.5L357.1 789.0zM365.3 791.5L367.4 785.7L368.0 788.2L370.6 788.4zM381.7 789.7L382.3 784.0L383.5 786.1L385.8 785.7zM397.8 787.0L394.9 782.0L397.1 783.0L398.7 781.3zM414.1 786.7L408.5 785.5L410.6 784.6L410.5 782.2zM429.5 785.1L424.0 786.6L425.5 784.8L424.3 782.8zM444.4 783.7L439.3 786.4L440.4 784.3L438.8 782.5zM459.0 782.1L453.8 786.2L454.6 783.5L452.4 781.8zM473.3 780.2L468.5 785.3L469.0 782.4L466.3 781.0zM485.9 778.9L481.9 784.7L481.9 781.7L479.1 780.7zM498.3 777.8L495.2 784.0L494.8 781.1L491.9 780.5zM509.6 778.0L507.4 784.5L506.6 781.7L503.7 781.5zM521.9 777.2L520.8 783.9L519.6 781.3L516.8 781.6zM534.1 776.6L534.0 783.3L532.4 781.0L529.7 781.7zM546.3 776.2L547.1 783.0L545.2 780.8L542.5 781.9zM558.7 774.3L560.5 781.2L558.2 779.2L555.6 780.8zM570.8 774.2L573.3 781.2L570.8 779.3L568.2 781.1zM582.9 774.2L586.0 781.2L583.2 779.5L580.7 781.5zM594.6 774.5L598.7 781.2L595.6 779.8L593.2 782.3zM605.6 773.6L610.8 780.2L607.4 779.1L605.2 782.0zM616.3 773.2L622.6 779.4L618.8 778.7L616.9 782.1zM626.6 773.5L633.8 778.7L630.0 778.6L628.6 782.2zM636.9 774.5L644.9 778.4L641.1 778.9L640.3 782.7zM647.4 775.9L655.9 778.3L652.2 779.5L652.1 783.4zM659.5 778.4L668.4 779.1L665.0 781.0L665.7 784.8zM53.1 767.7L61.2 766.8L58.5 769.0L59.8 772.3zM66.8 766.6L75.7 767.0L72.4 769.0L73.2 772.8zM78.6 766.1L87.5 766.7L84.1 768.6L84.8 772.4zM91.6 767.0L100.5 767.0L97.3 769.1L98.3 772.9zM102.9 769.4L111.6 768.0L108.8 770.6L110.4 774.1zM118.1 774.1L125.9 770.0L124.1 773.4L126.8 776.2zM134.2 776.8L140.4 770.7L139.7 774.4L142.9 776.4zM149.8 777.4L154.1 771.2L154.1 774.4L157.1 775.5zM163.4 777.8L167.0 771.6L167.2 774.7L170.1 775.4zM177.8 776.6L181.0 770.5L181.3 773.4L184.2 774.1zM190.5 775.7L194.0 770.2L194.1 773.0L196.7 773.8zM202.9 774.0L207.3 769.5L206.8 772.1L209.1 773.4zM215.6 771.3L221.2 768.6L219.9 770.9L221.6 772.8zM229.1 768.9L235.4 768.0L233.4 769.8L234.5 772.2zM242.8 767.5L249.5 767.6L247.1 769.2L247.8 771.9zM256.3 767.1L262.9 767.6L260.5 769.0L261.1 771.7zM269.4 767.7L275.5 767.9L273.3 769.2L274.0 771.7zM283.8 769.7L289.5 768.8L287.8 770.5L288.8 772.6zM297.1 772.0L302.2 769.4L301.1 771.5L302.7 773.2zM309.7 774.9L313.9 770.6L313.5 773.1L315.8 774.2zM324.2 776.6L327.5 770.9L327.7 773.7L330.4 774.3zM338.5 777.6L340.9 771.2L341.6 774.0L344.5 774.3zM352.5 778.1L354.3 771.8L355.2 774.4L358.0 774.4zM367.4 777.2L368.3 771.5L369.4 773.6L371.8 773.4zM382.0 776.1L382.2 770.3L383.5 772.3L385.8 771.7zM396.3 774.7L395.9 769.0L397.4 770.8L399.6 770.0zM410.3 773.2L409.2 767.6L410.9 769.2L413.0 768.1zM424.3 771.6L420.4 767.4L422.7 767.9L424.0 765.8zM438.1 771.0L432.4 771.8L434.1 770.2L433.1 768.0zM452.9 770.4L448.0 773.3L449.0 771.1L447.3 769.5zM466.2 770.1L461.7 773.6L462.4 771.4L460.4 770.0zM479.3 769.7L475.4 773.9L475.8 771.6L473.6 770.5zM492.3 769.3L489.5 774.3L489.3 771.9L487.0 771.3zM505.0 768.7L504.0 774.4L503.0 772.2L500.7 772.5zM517.5 766.9L518.9 772.4L517.1 770.9L515.1 772.0zM530.0 766.9L532.5 772.0L530.4 770.9L528.7 772.4zM541.8 763.9L545.5 768.4L543.2 767.7L541.8 769.7zM554.6 762.4L558.9 767.4L556.3 766.7L554.7 769.0zM567.6 760.8L572.8 766.8L569.5 765.9L567.6 768.7zM580.7 759.2L586.3 766.0L582.6 764.9L580.4 768.0zM593.8 757.6L599.1 764.7L595.5 763.4L593.1 766.5zM607.7 759.1L612.4 766.6L608.9 765.0L606.2 767.9zM620.8 759.2L624.9 766.4L621.7 764.8L619.1 767.3zM633.8 761.0L637.6 767.4L634.7 766.1L632.5 768.4zM646.2 763.1L650.6 768.2L647.8 767.5L646.2 769.8zM658.1 764.0L662.9 767.9L660.3 767.7L659.2 770.1zM670.8 766.8L676.5 768.6L674.1 769.3L674.0 771.8zM59.6 752.0L64.9 754.5L62.5 754.9L62.1 757.3zM73.0 749.9L78.5 754.1L75.6 753.9L74.5 756.7zM86.9 749.5L91.5 754.0L88.9 753.5L87.5 755.9zM100.9 751.0L105.0 755.0L102.6 754.6L101.5 756.7zM114.0 756.6L119.6 755.3L118.0 757.1L119.1 759.2zM125.5 763.5L129.0 757.9L129.1 760.7L131.8 761.5zM138.0 768.7L141.3 760.5L142.1 764.3L146.0 764.8zM153.1 768.0L154.7 759.7L156.1 763.1L159.7 762.8zM166.6 764.6L168.0 758.5L169.0 760.9L171.6 760.8zM178.6 761.2L181.6 756.3L181.7 758.7L184.0 759.4zM187.5 758.3L193.8 754.1L192.6 757.1L195.0 759.2zM196.4 753.1L205.2 751.7L202.3 754.3L203.9 757.9zM206.5 748.1L215.3 749.5L211.8 751.1L212.2 754.9zM219.0 746.3L227.6 748.6L223.9 749.8L223.9 753.7zM233.3 747.8L242.0 749.6L238.4 751.1L238.6 754.9zM247.3 750.0L256.2 750.9L252.7 752.7L253.3 756.6zM261.4 752.6L270.3 752.3L267.2 754.6L268.3 758.3zM275.8 755.3L284.6 753.7L281.8 756.4L283.5 759.9zM290.7 758.1L299.0 754.9L296.7 758.1L299.0 761.2zM304.6 761.1L312.0 756.2L310.5 759.8L313.4 762.3zM320.9 763.8L326.3 757.0L326.0 760.8L329.4 762.3zM336.5 766.3L339.6 758.5L340.3 762.1L344.0 762.5zM351.9 767.7L353.2 759.7L354.7 762.9L358.2 762.6zM367.0 766.8L367.3 759.7L368.9 762.2L371.9 761.5zM381.2 763.7L381.6 758.0L382.8 760.0L385.1 759.5zM394.8 760.1L396.8 754.8L397.4 757.1L399.7 757.3zM408.4 757.7L413.0 754.4L412.2 756.6L414.1 758.1zM421.6 756.8L427.2 755.5L425.6 757.3L426.7 759.4zM434.9 756.5L440.6 755.9L438.9 757.4L439.8 759.6zM449.8 757.0L455.3 755.4L453.8 757.2L455.1 759.2zM463.2 757.5L466.9 753.1L466.7 755.5L468.8 756.5zM476.7 757.7L478.3 752.2L479.1 754.4L481.4 754.4zM489.9 757.5L493.1 752.8L493.1 755.2L495.4 755.9zM503.0 757.0L508.5 755.5L507.0 757.3L508.2 759.4zM513.5 755.3L519.2 755.9L517.1 757.1L517.5 759.4zM525.9 753.7L531.5 755.3L529.2 756.1L529.2 758.4zM536.0 750.1L542.9 752.4L539.9 753.2L539.7 756.3zM547.8 747.1L556.1 750.4L552.3 751.2L551.8 755.1zM561.0 745.1L569.0 748.9L565.2 749.5L564.5 753.3zM574.8 742.9L582.4 747.4L578.5 747.6L577.5 751.4zM590.1 741.8L596.9 747.5L593.0 747.1L591.4 750.6zM607.0 743.9L612.4 750.9L608.7 749.7L606.4 752.7zM623.4 745.1L626.3 752.9L623.4 750.8L620.4 752.9zM638.8 748.5L639.2 755.3L637.5 753.0L634.7 754.0zM653.0 750.5L652.2 756.2L651.2 754.1L648.8 754.4zM666.1 752.1L665.0 757.8L664.0 755.6L661.7 755.8zM678.2 753.3L678.1 759.1L676.8 757.1L674.5 757.7zM63.0 741.6L68.2 744.1L65.8 744.5L65.4 746.8zM77.3 741.0L80.7 745.7L78.5 744.9L77.0 746.7zM92.5 739.5L92.7 745.2L91.3 743.3L89.1 744.1zM107.6 740.6L104.9 745.7L104.6 743.3L102.3 742.9zM123.4 744.2L117.7 744.9L119.5 743.4L118.6 741.2zM136.0 752.3L131.3 745.8L134.6 747.0L136.7 744.3zM147.9 756.2L144.7 747.9L147.8 750.1L151.0 747.9zM160.3 750.0L157.0 745.2L159.3 746.1L160.8 744.2zM172.0 745.6L168.3 741.2L170.6 741.8L171.9 739.8zM183.7 743.1L189.4 742.6L187.6 744.2L188.4 746.4zM193.1 737.9L197.8 741.2L195.4 741.2L194.7 743.4zM204.5 731.8L209.5 739.1L205.9 737.6L203.4 740.6zM216.9 728.8L221.1 736.6L217.7 734.8L214.9 737.5zM229.6 729.1L234.2 736.7L230.7 735.0L228.0 737.8zM242.2 731.3L248.0 738.0L244.3 737.0L242.1 740.2zM255.1 735.8L263.0 739.9L259.1 740.3L258.3 744.1zM266.6 738.6L274.7 739.9L271.5 741.4L271.8 744.9zM279.0 742.2L287.2 740.7L284.6 743.2L286.1 746.4zM292.4 745.3L300.4 741.4L298.4 744.8L301.0 747.7zM305.0 748.4L312.0 743.0L310.8 746.7L313.8 749.1zM318.5 752.0L324.2 745.3L323.8 749.1L327.2 750.8zM334.5 755.0L338.0 746.9L338.7 750.7L342.5 751.2zM350.9 757.0L352.0 748.2L353.7 751.7L357.5 751.1zM367.4 754.8L367.0 746.3L369.2 749.3L372.7 748.2zM382.8 750.4L382.1 744.7L383.7 746.5L385.8 745.5zM397.5 747.3L395.4 742.0L397.4 743.3L399.3 741.8zM411.2 743.9L406.2 741.1L408.6 740.9L409.1 738.6zM424.8 743.1L419.9 746.2L420.8 744.0L419.1 742.4zM437.9 742.9L434.6 747.5L434.6 745.1L432.4 744.3zM450.0 743.8L453.1 739.0L453.2 741.4L455.4 742.1zM463.3 743.8L466.1 738.8L466.3 741.2L468.6 741.7zM475.2 744.6L478.7 740.1L478.6 742.4L480.8 743.3zM486.7 744.5L491.3 741.1L490.5 743.3L492.4 744.8zM498.2 743.0L503.7 741.3L502.2 743.2L503.5 745.1zM508.8 740.4L514.8 740.2L512.8 741.7L513.5 744.0zM520.0 737.3L528.6 738.5L525.2 740.1L525.6 743.9zM530.0 733.6L538.7 735.7L535.0 737.0L535.1 740.9zM541.2 731.2L549.7 733.4L546.1 734.7L546.1 738.6zM554.9 730.7L563.5 732.9L559.8 734.2L559.9 738.0zM571.3 729.8L579.7 732.6L576.0 733.6L575.7 737.5zM589.8 728.1L595.9 734.5L592.2 733.7L590.1 737.0zM606.1 730.4L611.6 737.3L608.0 736.1L605.7 739.2zM624.0 732.9L626.4 740.5L623.7 738.4L620.8 740.2zM642.3 734.5L640.2 741.7L639.2 738.6L635.9 738.6zM659.3 735.6L654.6 742.6L654.6 738.9L651.1 737.7zM674.9 736.0L669.3 742.8L669.7 739.0L666.2 737.3zM686.8 736.7L681.5 743.8L681.7 739.9L678.1 738.5zM65.1 730.3L60.8 726.4L63.2 726.7L64.2 724.6zM80.2 730.5L74.5 730.2L76.5 728.9L76.0 726.6zM96.9 730.3L91.3 731.6L92.9 729.8L91.7 727.7zM116.6 730.2L108.5 732.7L110.8 729.8L108.9 726.7zM135.9 733.4L127.0 733.8L130.1 731.5L129.0 727.9zM150.0 736.4L141.1 735.5L144.6 733.7L144.0 729.9zM160.9 733.4L152.1 734.7L155.0 732.1L153.5 728.5zM169.8 729.2L161.9 733.3L163.8 729.9L161.2 727.0zM179.4 726.6L174.9 730.9L175.4 728.4L173.2 727.0zM189.9 724.8L187.1 729.8L186.9 727.5L184.6 726.9zM201.3 723.3L199.9 728.9L199.1 726.7L196.7 726.8zM214.0 721.4L213.1 728.2L211.8 725.6L208.9 725.9zM227.7 719.9L226.5 727.5L225.1 724.5L221.8 724.8zM241.2 720.0L239.8 727.2L238.6 724.3L235.4 724.5zM254.0 721.4L252.9 727.3L251.9 725.1L249.4 725.3zM265.6 724.2L265.7 729.9L264.4 728.0L262.1 728.7zM276.8 727.3L280.4 731.8L278.1 731.1L276.7 733.0zM290.1 729.7L295.1 726.8L294.1 729.0L295.8 730.6zM299.7 732.8L303.1 728.2L303.0 730.6L305.2 731.4zM309.8 736.4L314.0 730.1L314.0 733.4L317.1 734.4zM320.5 740.6L324.9 732.9L325.2 736.7L328.9 737.7zM333.5 744.5L336.7 736.2L337.6 740.0L341.4 740.4zM349.7 746.2L350.8 737.4L352.5 740.9L356.4 740.4zM367.3 744.3L366.4 735.5L368.9 738.5L372.5 737.2zM385.2 739.9L381.9 732.9L384.8 734.6L387.3 732.4zM403.1 736.2L397.1 733.2L399.9 732.8L400.5 730.1zM421.9 733.7L413.1 734.7L416.0 732.2L414.6 728.6zM440.7 729.9L432.7 733.8L434.7 730.5L432.1 727.6zM450.6 727.0L443.4 732.2L444.8 728.6L441.8 726.1zM454.5 728.6L449.7 731.8L450.6 729.6L448.8 728.0zM463.4 729.0L468.4 731.7L466.0 731.9L465.5 734.3zM474.8 729.2L480.4 728.0L478.8 729.8L479.9 731.9zM483.6 727.7L489.3 727.2L487.4 728.7L488.3 730.9zM492.8 724.8L500.8 725.2L497.9 727.0L498.6 730.4zM503.9 722.0L512.7 723.3L509.2 725.0L509.6 728.8zM513.7 718.6L522.4 720.4L518.8 721.8L519.0 725.7zM525.9 717.3L534.6 719.3L531.0 720.7L531.1 724.6zM538.9 717.8L547.6 719.7L544.0 721.1L544.1 725.0zM558.4 723.0L567.3 723.9L563.8 725.7L564.4 729.6zM576.8 721.9L584.0 724.4L580.8 725.2L580.6 728.6zM593.9 714.7L598.4 722.3L594.9 720.6L592.2 723.4zM608.5 717.7L611.9 725.1L608.9 723.3L606.1 725.5zM625.5 722.7L625.5 728.4L624.1 726.4L621.8 727.1zM643.9 724.4L639.8 729.2L640.1 726.6L637.6 725.5zM662.8 724.5L655.8 729.9L657.0 726.3L653.9 723.9zM680.9 723.8L673.8 729.1L675.1 725.4L672.1 723.0zM695.5 722.5L688.8 728.3L689.8 724.5L686.6 722.3zM75.3 721.4L66.6 720.3L70.0 718.6L69.5 714.8zM92.1 721.4L83.3 721.6L86.4 719.4L85.4 715.6zM109.1 720.4L100.4 721.9L103.2 719.3L101.6 715.7zM125.9 719.5L117.2 721.4L119.9 718.6L118.1 715.2zM140.9 718.7L132.4 721.1L134.9 718.1L133.0 714.8zM156.0 716.7L147.9 720.3L149.9 717.0L147.5 714.0zM169.1 713.2L161.7 718.1L163.2 714.5L160.3 712.0zM181.8 709.6L175.1 715.4L176.1 711.7L172.9 709.5zM191.3 708.1L185.0 714.4L185.8 710.6L182.5 708.6zM200.9 707.5L195.0 714.2L195.6 710.4L192.1 708.6zM212.0 706.8L206.6 713.9L206.8 710.0L203.3 708.5zM224.7 705.9L219.5 713.2L219.6 709.3L216.0 707.9zM237.8 705.7L232.7 712.9L232.8 709.1L229.1 707.7zM251.3 706.0L246.0 713.1L246.2 709.2L242.6 707.8zM263.8 707.6L258.0 714.4L258.5 710.5L255.0 708.9zM275.0 710.3L268.7 716.4L269.5 712.7L266.2 710.7zM284.5 713.7L279.7 716.9L280.6 714.7L278.8 713.2zM294.8 716.7L289.1 717.4L290.9 715.8L290.0 713.6zM305.5 719.6L301.9 715.1L304.2 715.8L305.6 713.8zM315.5 724.3L315.4 718.3L316.9 720.3L319.3 719.6zM325.7 728.3L327.0 719.5L328.6 723.0L332.5 722.6zM336.6 732.5L338.2 723.8L339.7 727.3L343.6 727.0zM349.6 735.9L350.5 727.0L352.3 730.4L356.1 729.8zM366.4 735.3L365.4 726.5L367.9 729.4L371.5 728.0zM385.3 730.9L380.9 723.2L384.3 724.9L387.1 722.2zM403.2 726.2L395.5 721.6L399.4 721.4L400.4 717.7zM424.1 725.2L415.3 725.3L418.5 723.1L417.4 719.4zM438.6 717.4L431.1 722.1L432.7 718.6L429.9 715.9zM443.5 708.2L443.9 715.5L442.0 713.0L439.1 714.0zM451.6 711.9L452.1 717.7L450.6 715.8L448.3 716.6zM461.1 712.9L466.3 715.5L463.9 715.8L463.5 718.1zM468.4 710.2L475.3 711.9L472.5 713.0L472.6 716.0zM476.1 707.1L484.8 708.9L481.2 710.3L481.5 714.2zM485.5 704.3L494.2 706.2L490.6 707.6L490.8 711.5zM497.7 703.1L506.4 705.1L502.7 706.4L502.9 710.3zM509.9 701.8L518.5 704.0L514.9 705.3L514.9 709.2zM524.5 702.8L533.1 705.1L529.4 706.3L529.4 710.2zM540.9 706.9L549.6 708.8L546.0 710.2L546.2 714.1zM561.6 714.9L568.3 713.6L566.3 715.7L567.6 718.3zM580.2 713.9L585.8 714.8L583.7 715.8L584.0 718.2zM594.3 705.8L599.5 711.6L596.2 710.8L594.3 713.6zM611.6 710.4L612.0 716.1L610.5 714.2L608.2 715.0zM627.4 714.8L622.7 718.0L623.5 715.8L621.7 714.3zM645.7 716.2L639.2 718.2L641.0 716.0L639.5 713.6zM665.4 716.5L657.0 719.4L659.3 716.3L657.2 713.1zM683.5 715.8L675.3 719.3L677.4 716.1L675.0 713.0zM698.3 714.1L690.4 718.1L692.3 714.7L689.7 711.8zM83.3 709.3L74.4 709.3L77.7 707.2L76.7 703.4zM98.3 709.3L89.5 709.8L92.6 707.5L91.4 703.8zM112.0 708.2L103.2 709.3L106.1 706.8L104.7 703.2zM125.6 707.2L116.8 708.6L119.7 706.0L118.1 702.4zM140.7 706.6L132.0 708.6L134.7 705.8L132.9 702.4zM155.8 704.4L147.7 708.0L149.8 704.7L147.4 701.7zM169.0 699.5L161.9 704.8L163.2 701.2L160.2 698.8zM181.1 693.9L175.4 700.7L175.8 696.8L172.3 695.2zM193.0 690.6L188.5 698.3L188.3 694.4L184.6 693.3zM202.8 690.9L198.8 698.8L198.3 695.0L194.5 694.1zM213.6 690.1L210.6 698.5L209.7 694.7L205.8 694.4zM224.7 689.9L222.4 698.5L221.1 694.8L217.3 694.8zM237.6 687.5L237.1 696.4L235.1 693.1L231.3 693.8zM250.7 687.4L250.4 696.2L248.4 693.0L244.6 693.8zM264.0 689.4L262.4 698.1L260.9 694.6L257.0 694.9zM276.9 693.6L272.4 701.2L272.2 697.4L268.5 696.3zM287.5 698.9L281.7 703.0L282.8 700.2L280.4 698.2zM296.5 702.7L290.8 703.8L292.5 702.1L291.4 700.0zM306.8 705.1L301.8 702.2L304.2 702.0L304.8 699.7zM318.4 709.2L315.8 704.1L317.9 705.2L319.6 703.6zM329.1 713.9L327.3 705.5L329.9 708.1L333.3 706.4zM339.6 718.2L338.9 709.4L341.3 712.4L345.0 711.1zM351.2 721.0L350.8 712.2L353.1 715.3L356.8 714.1zM364.9 721.1L363.8 712.3L366.3 715.2L369.9 713.8zM380.2 718.3L377.9 709.7L380.8 712.3L384.2 710.4zM395.7 715.3L391.9 707.3L395.2 709.3L398.2 706.8zM411.9 716.5L405.4 710.5L409.2 711.1L411.1 707.7zM421.8 711.4L418.0 705.1L420.9 706.5L423.0 704.2zM427.4 699.8L434.1 697.2L432.4 699.7L434.2 702.2zM440.8 695.2L449.6 696.5L446.1 698.1L446.5 702.0zM452.3 694.8L461.1 696.4L457.6 697.9L457.9 701.8zM459.9 692.1L468.7 693.1L465.2 694.9L465.8 698.7zM470.7 689.9L479.5 691.1L476.0 692.8L476.5 696.7zM484.7 688.9L493.3 690.8L489.7 692.2L489.9 696.1zM498.9 687.7L507.3 690.5L503.6 691.5L503.3 695.4zM515.9 688.4L523.6 692.8L519.7 693.1L518.7 696.8zM532.9 691.5L540.4 696.2L536.5 696.3L535.4 700.0zM549.4 697.8L555.9 699.4L553.2 700.4L553.3 703.2zM561.7 703.3L567.2 701.0L565.9 703.1L567.4 705.1zM576.6 703.4L581.3 700.1L580.5 702.4L582.3 703.9zM595.0 698.5L599.3 702.3L597.0 702.0L595.9 704.2zM612.6 701.6L607.7 704.5L608.7 702.3L607.0 700.7zM634.2 707.6L626.1 706.8L629.2 705.1L628.7 701.7zM653.4 710.0L644.5 710.1L647.7 707.9L646.7 704.2zM671.7 710.5L662.8 711.6L665.8 709.1L664.3 705.5zM687.0 709.3L678.4 711.3L681.0 708.5L679.2 705.1zM699.3 707.0L690.7 709.2L693.3 706.3L691.4 703.0zM70.8 692.1L65.2 691.0L67.3 690.0L67.1 687.7zM83.9 692.3L78.3 691.1L80.5 690.2L80.4 687.8zM98.7 693.0L92.5 692.0L94.9 690.9L94.7 688.3zM112.1 692.9L105.7 691.9L108.1 690.7L107.8 688.0zM126.7 693.8L119.3 692.7L122.2 691.3L121.8 688.2zM143.0 694.8L134.1 694.9L137.4 692.7L136.3 689.0zM157.7 690.2L149.8 694.1L151.7 690.7L149.2 687.8zM166.1 680.4L165.8 689.3L163.7 686.0L160.0 686.8zM174.1 677.5L178.8 685.0L175.2 683.4L172.6 686.2zM186.8 680.1L188.9 686.2L186.7 684.6L184.5 686.1zM199.2 681.4L201.0 686.9L199.1 685.4L197.1 686.7zM211.0 679.7L214.6 685.1L212.1 684.1L210.3 686.2zM223.1 678.3L228.2 683.8L225.1 683.1L223.4 685.8zM235.2 676.9L241.4 682.2L237.9 681.8L236.4 685.0zM249.1 678.3L254.5 683.7L251.3 683.1L249.6 685.9zM263.3 681.2L266.8 686.0L264.5 685.2L263.0 687.1zM277.0 684.3L279.7 689.4L277.6 688.3L275.9 690.0zM290.3 687.7L295.5 690.1L293.2 690.5L292.8 692.9zM302.1 689.3L306.1 685.2L305.7 687.6L307.8 688.7zM312.8 693.7L314.5 688.2L315.2 690.4L317.6 690.4zM324.2 698.1L324.5 689.6L326.5 692.7L330.1 691.9zM335.7 700.6L335.9 691.8L338.0 695.0L341.7 694.2zM346.9 703.0L347.2 694.1L349.2 697.4L353.0 696.5zM359.2 702.2L360.2 693.4L361.9 696.9L365.8 696.3zM372.3 700.0L374.3 691.3L375.6 694.9L379.5 694.8zM385.6 697.6L388.7 689.3L389.6 693.1L393.4 693.4zM397.0 697.6L400.4 689.4L401.1 693.2L404.9 693.7zM404.9 697.2L408.8 689.2L409.3 693.1L413.1 693.8zM414.4 688.6L421.7 683.5L420.3 687.1L423.2 689.6zM429.9 682.3L438.6 680.6L435.9 683.3L437.6 686.8zM443.8 680.4L452.6 680.0L449.5 682.3L450.7 686.0zM457.5 679.4L466.4 679.4L463.2 681.6L464.1 685.3zM476.0 679.9L484.8 680.8L481.4 682.6L482.0 686.4zM496.1 681.3L503.4 684.1L500.1 684.9L499.8 688.2zM515.1 683.1L518.6 687.6L516.3 686.9L514.9 688.8zM531.5 684.5L531.9 690.2L530.4 688.3L528.2 689.2zM545.2 686.4L543.4 691.8L542.7 689.5L540.4 689.4zM559.2 687.3L555.1 691.2L555.6 688.9L553.5 687.7zM571.1 688.6L565.4 688.1L567.4 686.9L567.0 684.6zM584.1 688.9L579.5 685.5L581.8 685.6L582.7 683.4zM599.3 688.8L593.6 689.5L595.4 687.9L594.5 685.7zM619.3 693.4L612.3 692.0L615.1 690.8L614.9 687.8zM638.3 699.2L629.8 696.9L633.4 695.7L633.4 691.8zM655.5 702.1L646.8 700.3L650.4 698.9L650.1 695.0zM670.5 702.4L661.7 701.3L665.1 699.5L664.6 695.7zM684.5 701.1L675.7 700.8L679.0 698.8L678.1 695.0zM699.2 698.6L690.3 699.1L693.4 696.8L692.2 693.1zM59.4 676.3L63.9 672.7L63.2 675.0L65.1 676.4zM74.8 676.9L78.0 672.1L78.0 674.5L80.3 675.2zM88.7 677.5L90.8 672.2L91.3 674.5L93.7 674.7zM101.8 679.3L102.5 673.6L103.6 675.7L106.0 675.4zM115.5 681.1L114.7 675.4L116.3 677.2L118.5 676.2zM129.6 684.3L125.7 677.5L128.7 679.0L131.1 676.7zM140.6 683.4L138.0 676.1L140.6 678.1L143.4 676.2zM147.7 674.4L153.8 670.6L152.6 673.4L154.8 675.5zM159.2 668.3L168.1 667.8L165.0 670.1L166.2 673.8zM174.4 668.0L183.2 669.2L179.7 670.9L180.2 674.7zM186.2 667.4L195.0 668.4L191.6 670.2L192.2 674.0zM195.5 664.8L204.4 665.5L201.0 667.4L201.7 671.2zM206.6 662.4L215.5 663.4L212.0 665.1L212.6 669.0zM219.2 660.7L227.9 662.1L224.4 663.7L224.8 667.6zM232.9 660.1L241.5 662.0L237.9 663.4L238.1 667.3zM247.4 661.1L256.0 663.3L252.3 664.6L252.3 668.5zM262.5 663.9L271.1 666.2L267.5 667.4L267.5 671.3zM277.2 667.9L286.0 669.2L282.5 670.9L282.9 674.7zM289.4 671.5L298.3 671.0L295.1 673.3L296.3 677.0zM302.4 675.7L310.7 672.6L308.4 675.7L310.7 678.9zM314.5 678.6L321.9 673.6L320.4 677.2L323.3 679.7zM326.5 679.8L333.3 674.0L332.2 677.8L335.4 680.0zM339.6 679.0L346.5 673.4L345.4 677.1L348.5 679.3zM352.6 677.3L360.0 672.4L358.5 676.0L361.4 678.5zM367.3 675.3L375.3 671.4L373.3 674.7L375.8 677.7zM382.2 673.9L390.6 670.9L388.2 674.0L390.4 677.2zM395.6 672.9L404.1 670.6L401.6 673.5L403.5 676.9zM407.4 671.7L416.1 670.0L413.4 672.7L415.1 676.2zM419.4 670.2L428.2 669.0L425.3 671.6L426.8 675.2zM431.4 668.8L440.3 668.1L437.2 670.5L438.5 674.1zM446.4 668.8L455.3 668.3L452.2 670.6L453.4 674.3zM466.0 670.3L474.8 670.0L471.7 672.3L472.8 676.0zM487.1 672.3L492.7 673.6L490.5 674.5L490.6 676.9zM504.5 674.1L500.7 678.4L501.0 676.1L498.9 675.0zM527.5 675.0L520.6 677.1L522.5 674.7L520.9 672.0zM550.4 676.0L541.9 678.6L544.3 675.6L542.3 672.3zM566.9 676.3L558.3 678.8L560.8 675.8L558.8 672.5zM578.5 676.6L569.9 678.7L572.5 675.9L570.7 672.5zM588.6 677.0L579.9 678.7L582.6 676.0L580.9 672.5zM595.4 676.8L586.6 678.0L589.5 675.5L588.1 671.9zM608.2 678.7L600.2 678.3L603.1 676.5L602.4 673.1zM621.8 681.7L613.1 679.6L616.8 678.3L616.8 674.4zM636.4 685.4L628.0 682.3L631.8 681.4L632.2 677.5zM651.3 688.3L643.0 685.1L646.8 684.3L647.2 680.4zM665.7 689.5L657.3 686.6L661.1 685.6L661.4 681.7zM679.6 688.8L671.0 686.5L674.7 685.3L674.7 681.4zM693.2 685.8L684.3 684.9L687.8 683.1L687.1 679.3zM56.0 659.7L62.2 658.5L60.3 660.4L61.6 662.8zM69.2 661.2L75.1 658.8L73.6 661.0L75.2 663.1zM82.6 662.1L88.5 658.8L87.3 661.4L89.3 663.4zM94.5 662.9L100.8 658.7L99.6 661.8L102.0 663.9zM104.8 664.2L111.9 658.9L110.6 662.5L113.6 664.9zM112.4 667.4L118.7 661.1L117.9 664.9L121.3 666.9zM121.2 668.6L127.0 661.9L126.5 665.7L130.0 667.4zM133.3 662.7L140.5 657.6L139.2 661.2L142.2 663.6zM146.8 656.9L155.1 654.0L152.8 657.0L155.0 660.3zM160.6 654.2L169.3 652.8L166.5 655.4L168.0 659.0zM174.2 653.1L183.0 652.4L180.0 654.8L181.3 658.4zM187.9 651.9L196.8 651.4L193.7 653.7L194.9 657.4zM202.0 650.2L210.8 650.3L207.6 652.4L208.5 656.1zM216.2 648.4L225.0 649.4L221.6 651.2L222.1 655.0zM230.5 646.8L239.1 648.8L235.5 650.2L235.6 654.1zM244.6 645.6L253.0 648.6L249.3 649.5L248.9 653.4zM258.6 644.9L266.6 648.9L262.8 649.4L262.0 653.2zM275.9 650.4L284.0 653.9L280.2 654.6L279.6 658.4zM292.9 656.7L301.1 657.4L298.0 659.1L298.7 662.6zM310.3 660.6L315.9 658.9L314.4 660.8L315.7 662.8zM325.3 661.4L330.4 658.8L329.3 660.9L330.9 662.7zM338.5 660.9L343.9 658.8L342.6 660.8L344.0 662.6zM351.9 659.7L357.6 658.8L355.9 660.4L356.9 662.6zM365.6 658.5L371.3 658.9L369.3 660.1L369.7 662.5zM379.4 657.7L384.9 659.1L382.7 660.0L382.7 662.3zM394.1 658.4L399.6 660.0L397.4 660.7L397.4 663.1zM407.4 658.4L412.9 660.0L410.7 660.7L410.7 663.1zM420.6 658.7L426.2 659.8L424.0 660.7L424.2 663.1zM433.6 659.1L439.4 659.5L437.3 660.7L437.8 663.1zM448.3 660.0L454.0 659.7L452.1 661.2L452.9 663.4zM461.5 660.4L467.2 659.3L465.5 661.0L466.6 663.1zM476.7 661.3L478.8 656.0L479.3 658.3L481.7 658.6zM494.1 662.4L488.4 661.9L490.5 660.7L490.1 658.4zM516.8 664.8L507.9 665.6L511.0 663.2L509.6 659.5zM541.1 666.9L532.3 668.3L535.2 665.7L533.6 662.1zM554.5 666.5L545.8 668.0L548.6 665.3L547.0 661.8zM568.0 666.0L559.2 667.7L562.0 664.9L560.3 661.5zM581.3 665.8L572.6 667.4L575.4 664.7L573.7 661.2zM593.0 665.9L584.2 667.0L587.1 664.5L585.6 660.9zM598.3 664.9L589.4 665.4L592.5 663.1L591.3 659.4zM605.0 664.2L598.5 663.7L600.9 662.3L600.3 659.6zM614.7 664.2L609.2 662.4L611.5 661.7L611.6 659.3zM625.6 664.2L621.2 660.5L623.6 660.7L624.5 658.5zM638.6 666.0L634.8 661.7L637.1 662.3L638.4 660.3zM651.1 666.2L647.9 661.5L650.1 662.3L651.6 660.5zM664.3 666.2L661.1 661.4L663.4 662.3L664.9 660.5zM677.3 664.7L674.7 659.6L676.8 660.7L678.5 659.1zM68.3 645.1L64.3 649.3L64.7 647.0L62.6 645.9zM79.4 645.0L77.9 650.5L77.1 648.3L74.7 648.3zM90.3 644.8L94.4 648.8L92.0 648.4L90.9 650.5zM101.3 644.7L106.9 646.2L104.6 647.0L104.7 649.4zM109.9 643.4L115.8 644.0L113.7 645.2L114.1 647.7zM118.3 642.9L127.2 642.8L124.0 644.9L125.0 648.7zM125.2 641.9L134.1 641.4L131.0 643.7L132.2 647.4zM135.4 641.3L144.2 640.4L141.2 642.9L142.6 646.5zM150.3 641.2L159.2 640.3L156.2 642.8L157.6 646.4zM163.7 640.9L172.6 640.1L169.6 642.5L170.9 646.2zM178.7 640.9L187.6 640.2L184.5 642.6L185.8 646.3zM192.4 639.8L201.3 639.5L198.1 641.8L199.3 645.5zM205.0 637.5L213.9 637.8L210.6 639.8L211.4 643.6zM218.0 634.7L226.8 635.9L223.4 637.6L223.8 641.4zM232.8 632.6L241.4 634.8L237.8 636.1L237.8 639.9zM251.5 633.7L259.7 637.2L255.9 637.9L255.4 641.7zM272.6 637.9L278.2 642.4L275.1 642.1L273.9 644.9zM292.4 643.2L292.2 649.0L290.9 647.0L288.6 647.6zM311.3 645.9L306.2 648.4L307.3 646.3L305.7 644.5zM332.6 648.6L324.0 650.6L326.6 647.8L324.8 644.4zM349.1 649.5L340.4 651.5L343.1 648.7L341.2 645.3zM362.4 649.1L353.9 651.4L356.4 648.5L354.5 645.2zM374.2 648.3L365.7 650.9L368.2 647.9L366.1 644.6zM385.9 647.8L377.5 650.5L379.9 647.5L377.8 644.2zM397.6 647.8L389.1 650.4L391.6 647.4L389.6 644.1zM410.9 648.4L402.3 650.5L404.9 647.6L403.0 644.2zM424.1 649.1L415.4 650.7L418.1 648.0L416.5 644.5zM438.8 650.1L430.0 651.3L432.9 648.8L431.5 645.2zM453.5 651.3L444.7 652.0L447.7 649.6L446.4 646.0zM468.1 652.7L459.2 652.8L462.4 650.6L461.4 646.9zM481.1 653.6L472.2 653.1L475.5 651.1L474.7 647.3zM495.5 654.9L486.7 654.3L490.1 652.4L489.4 648.6zM508.7 655.3L499.8 654.8L503.2 652.9L502.4 649.1zM521.9 655.6L513.0 655.3L516.3 653.2L515.4 649.4zM535.1 655.7L526.2 655.6L529.4 653.5L528.5 649.7zM546.8 655.4L537.9 655.2L541.1 653.1L540.2 649.3zM559.9 655.6L551.0 655.5L554.3 653.4L553.4 649.6zM570.0 654.8L561.1 654.2L564.5 652.3L563.7 648.5zM579.9 654.1L571.8 652.8L575.1 651.3L574.7 647.8zM588.2 652.5L583.2 649.8L585.5 649.5L586.0 647.2zM597.2 651.0L594.9 645.7L597.0 647.0L598.8 645.4zM607.1 649.4L610.2 644.6L610.3 647.0L612.5 647.7zM613.5 649.6L619.1 645.0L618.2 648.0L620.7 649.8zM618.6 648.7L626.1 644.0L624.5 647.5L627.3 650.2zM627.0 646.8L635.1 643.1L633.0 646.4L635.5 649.4zM638.7 645.3L647.1 642.5L644.8 645.5L646.9 648.8zM653.7 645.0L662.2 642.5L659.7 645.5L661.7 648.8z" fill="#000" stroke="#000" stroke-width="0.6" stroke-linejoin="round"/>
<path d="M79.6 656.2l23.2-1.6 18.6 4 6.9 5.9-2.4 7.9-4.5 4.8-6.9 4.6-18.7 0-5.8-7-5.6-10.3z" fill="#000" stroke="#000" stroke-width="2" stroke-linejoin="round"/>
<path d="M381.7 767.7l12.7-16.2 27.7-9.3 20.8 4.5-20.8 7.2-11.7 4.5 23.2 4.6 23.1-7 18.4 2.4 9.3 7 4.8 9.3-4.8 6.9-9.3 2.4-2.2 9.3-11.7-7.2-9 4.8-18.6-3.5-16.3-8.2-18.3-4.5-11.5-2.4z" fill="#000" stroke="#2aa9a2" stroke-width="3.4" stroke-linejoin="round"/>
<path d="M46.1 659.1l5.3 .3 5.3 1.6 5.3 4 2.7 5.3 2.7 4 8 2.7-6.7 4 1.3 5.3 4 5.3 4 4 5.3 4 8 2.4 2.7 .3 2.6-1.4 1.4-4 4-4 2.6-4.2 10.7-2.1 8-3 7.9-2.9 10.7-1.1 8-2.6-5.4-1.9 6.7-.8 1.3-4-5.3-2.1 5.3-.5 5.3-2.7 0-2.7 4-2.6-1.3-2.7 2.7-4 2.6-4 13.3-3.4-21.3-1.9-13.3-3.2-18.6-1.1-21.3 .8-26.6 2.4-26.6 1.1-5.3 0M147.2 687.6l5.3-2.4 10.7 .6 8-.3 3.9 3.5-3.9 1.8-9.4 2.4-9.3-1.3-1.3-2.4-4-1.9M196.4 728.6l6.7-1.3 10.6-1.6 1.4-4.3-4-1.8-4-4-1.3-2.7 0-4.2-5.4-.6 2.7-2.1-5.3 .3-2.7 2.6 1.3 4 1.4 2.7 5.3 .5 0 3.5-4 .8 0 3.2-1.9 .8 5.9 1-6.7 3.2M184.5 724.1l9.8-1.1 .8-3.4 .5-3.5-4.5-1.3-6.6 2.9 1.3 2.7-1.3 3.7M290.9 675.6l-13.3-2.6-13.3 2.6-13.3 4-8 6.7-5.3 5.3-12 5.3-1.3 5.4 2.6 4.8 5.4 .5 6.6-3.5 1.3 1.1 2.7 6.4 2.7 2.6 4-1.3 5.3-2.7 1.3-4.5 5.3-3.4-4-2.7 0-4 9.4-5.3 2.6-3.5 8 .8 0 4-9.3 4 0 4 4 2.7 8-1.4 10.6 1.4-5.3 1.3-12 .5 0 3.5-4 1.3 5.3 .8-7.9 1.9 0 4-4 1.6-14.7 1-8 0-2.6-2.6 1.3-6.7-6.6 1.3 1.3 5.4 1.3 2.6-5.3 1.4-6.6 2.6-2.7 3.2-4.8 1.1-4.5 3.7-4-.3-1.3 2.7-7.2 .5 5.8 3 4 3.4-1.3 6.7-6.7 .3-10.6-.8-3.5 1.8 1.4 5.3-1.9 5.9 1.9 4.8 6.1 0 2.6 2.7 9.4-1.9 5.3-5.3-.8-2.2 3.4-4 5.9-2.6 .8-3.5 6.6 .8 5.4-2.6 5.3 0 5.3 5.3 9.3 5.3 1.4 5.3-.8 0 3.4-2.6-1.3-1.9 5.3-1.3-4-2.2-2.6-2.4-5.4-1.6-4-3.9-.5-3.5 3.7-.8 2.2 1.6 2.6 3.2 5.3 2.1 5.4 3.2 0 4 4 4.8 1.8 4.5 3.5 1.1 0-4.3 2.6 0-2.6-3.4-.5-3 3.1 1.1 5.4-2.1 1.3 1.3-.8 2.7 2.1 2.1 1.4 4 2.6 .8 5.3 1.1 4-.6 5.4 .6 5.3-1.4 0 4.8-2.7 5.3-1.8 4.6-5.4 .2-3.4-.8-5.3 1.4-10.7-1.9-5.3-2.1-8 4-2.7 1.8-9.3-3.2-1.3-2.4-10.7-2.1-2.6-2.9 2.1-3.2 .5-4-2.6-.8-13.3 1.3-13.3 2.7-5.3 1.8-9.4-1.8-1.3 3.4-9.3 8-.8 5.4-8.5 4.7-5.3 8.6-5.4 9.3 1.9 5.3-.5 8-2.7 3.5 2.1 5.8 4.6 4 4.5 5.3 4.8 5.4 10.6 6.9 9.3-2.2 5.4 1.1 7.9-2.7 9.4-1.3 3.9 5.3 6.7-.5 3.2 2.7-.5 6.6-1.4 4 2.7 5.3 4.8 5.4 1.3 4 3.2 7.4 .8 5.9-3.5 6.6-1.8 8 .5 4 4 8 2.7 4.8 .8 5.8 1.3 6.7 3.2 2.9 2.1 3.7 1.3 4M290.9 945.8l2.7-5.3 4-4 .8-5.3 6.6-5.3 .5-5.3-1.8-5.4 5.8-6.6 9.4-5.4 0-9.3-3.2-10.6-1.1-5.3 1.6-4 4-7.2 8-7.5 9.3-9.3 4-6.6 5.3-9.4 .5-3.7-8.5 1.9-9.3 1.8-3.5-2.6-.5-3.5-5.3-5.3-4-1.9-2.7-6.6-3.2-2.7-.8-8-4-5.3-3.9-8-3.8-7.7 2.4 4.5 1.9 1.1 1.9-4.5 .2 3.9 5.3 8 5.4 9.4 4.8 6.6 4.5 6.7 2.1 9.3 4.5 .5 9.3-3.2 9.4-4.2 7.9-5.1 6.7-4 6.1-9.3-3.4-3.2-5.4-1.9-.5-4.8-3.5 2.4-2.6 3-6.4 .5-.3-4.8-1.8 .8-2.2-2.7-2.6-4-2.7-5.3 5.3-.5 2.7 4.5 4.5 3.2 5.3 1.9 4.8-1.4 2.2 4 11.1 1.1 13.3-.3 2.2 3.5 4 2.7 3.2 1.3-2.7 .8 3.5 3.7 4.5-.5 1.6-3.5 .5 8.8 1.9 8 3.4 8 4 9.3 3.2 3.7 1.9-2.4 2.6-.8 1.6-2.6 1.1-7.2-.3-6.1 5.9-3.5 6.4-6.7 4.8-2.9 1.3-3.4 4-.6 4.5-.2M529.4 755l0 .9-.8 .5-.8 1.2-1.5 .3-1.2-.3-1.1 1.3 .6 1 2.6 1.6 .5 1.1 1 .7 1.1 0 1-1 1.8-.8 1.6 .8 3.1 .4-.4 1.2-1.2-.2-2.9 1-.6 .9-2.4 1.3-.9 1.1-.6 1.2 3.1 1.5 1.5 4.6 1.9 1 .4 1.3-1.3 .1 1.6 1.6-.1 .4-2 .7-1.7 .9 1.2 .3 1.4-.2 1.6 .6-.3 2.3-1.2 1.2 .2 .9-.4 .5-.8 .1-3.1 4-.8 0 .2 1.4-.8 1.7-1.7 1.4-.3 .9-1.4 .1 0 .9-1.8 1.4-3.8 2.3-2.9 .6-1.2 0-1 1-1.3-1-.4 1.2-1.1-.8-.3 1.3-2.4 .8-1.6 .6-2.8 .6-.4 .9 .6 1.1-.6 .5-1 0-.7-1.9 .3-1-.8 0-1.1-.7-1.5 0-1.4 .5-2.2 1.2-1 .8-.8 1.2-1.4 1-.9 2.4 .7 1.3 1.3 1.1 .3 1 2.3 2.4 1.5 1.2 2.5 2.8 .9 2.6 .3 1.7-.2 5.3-.5 .9-3.6 1.9-1.1 .8-1.5 0 0 1.5M535.4 755l0 .9-1.5 .9 .9 1-1.1 1.1 1.1-.4 2-1.5 4.3-1.1 3.7 1.1-.9 2.2-.8 1.5 1.6 1 2-.2 1.4 .9 .3 1.1-1.6 .3 1.7 3.1-1 1.1-.1 1.3 .6 1.4 2.3-1.1 2.7-.5 1.9-.8 .6-1.7 .2-1.9-.8-2.8-2.1-2.7-2.1-1.8-.6-1.4 2.1-.8 4-1.8M557.8 772.8l-2.1 .5 .5 1.6 1.6 .3M555.2 787.2l1-.8M550.9 792.8l.3-1.1 .9-.5 .4-.7M534.6 794.7l1 .5 0 1.2-1.4 4.4-1.1 1.2-.5 1.4-.4-1.1-.9-.6-.4-1.6 0-1.2 2.2-3.4 1.5-.8M500.2 810.5l2.6-1.6 1.5-.2 2.2 0 0 .9-1 1.1-.4 1.2-.9 .9-1.4 .7-1.1-.1-1.2-.7-.3-2.2M532.2 812.8l1-.3 1.3 .6 1.1 .3 1-.6-.4 2.8 .9 .8-.3 1.1-2.2 2.6-.3 1.2 1.1 3.3 .9 .3 1.1-.6 1.2 .2 2.4 1-1 .3 .5 1 1.1 .8-.8 .2-1.1-.4-1.1-1.6-.9-.3-.1 1.6-1-1.3-1.4-.9-1.3 .9-1.6-.4-.1-1.6 .9-.5-.7-.6-.3 1-.6-.6-.9-.4-.3-2.1-.3-1.7 1.4 .3 .4-3-.5-1 .9-2.4M531.5 826.3l2.4 .2 .8 .9-.1 1.5-1 .7-.7-1-.6-1.5-.8-.8M541.9 828.8l2.5-.2 .7 1.3 .1 1.3 .4 1.4-1.9 .1-.1 .9 .8 1-1.2 .4-.1-1.4-.8-.3 0-1.6 1 0 .4-.9-1.2-.8-.6-1.2M535.6 830.5l1.5 .2 .2 .5 1.5 .2 .1 1.4 1 .3 .1 .8 1.1-1.2 0 2.3 .8 .9-3.8 0 0-.8-.1-.7-2.4-.4 .3-2-.3-1.5M527 835.9l.4-.7 1.2-1.6 .5-1.6 .5 2-1.5 1.1-.3 .8M450.1 803.7l.9 .3 1.1-1.1 2.2-1.4 1 1.1 .8 3.1 2.8 3.3 .9 0 .7 1.1-.5 .6 .7 1.2 1 0 .8 2.5 .2 1.8-.8 3 2 .9 1.3 0 .9-.9 2.3-1.3 .6-1 1.1 .7 .8 1.1 .9 4.3 .7 2.7 .9 1.5 .5 1.6-.7 1.5 .6 1.4 0 1.1-.6 .9 0 2.2M474.9 835.9l.4-2.5 .8-1.2 .8-2.3 .2-3.3 1.2-.6 1.3 .6 0 1.5 2.4 .2 2.3 1.9 1.5 2.6 1.1 1 1.6 0 .7 .8 1.6 .7 .2 .6M458.4 826.4l-.7 4.2M473.2 835.4l-.5 4.5 1.8 2.1 3.5 3.5 .3 5.3 2.4 3.7 5.8 3.8 1.9 0-2.2-5.6-.2-3.5-2.9-3.7-3.2-1.9-2.2-2.1-.5-3.5-2.1-.8-.2-1.8M494.9 835.4l.4 1.3-4.8 2.4-.5-3.2 .8-.6M423.4 835.9l3.8 3.5 1.6 4-2.2 2.1-2.4 .5-1-5.3 .2-4.8M464.7 847.1l5.8 1 7.5 7.2 8.5 9.3 6.7 5.4-.6 7.4-3.4 0-6.1-4.8-5.1-8-4.3-7.1-4.5-4.8-4.5-5.6M491 880.1l3.5-2.1 5.3 1.8 6.1-.8 5.1 1.4 4.8 2.4 0 2.3-9.3-1-8-1.3-6.7-2.4M501.2 858l5.3-.3 5.3-4.2 6.6-4.8 4-5.3 5.4 4.7-3.2 4.6 .5 6.4-1.3 5-2.7 3.2-1.3 5.3-4 0-4-2.1-4 .3-4-4.8-2.6-4 0-4M530.4 859.9l2.7-1.4 5.3 .8 5.3-1.8-1.3 3.4-8-.2-2.6 3.4 2.6 .5 4.5-.5-3.2 3.2 1.4 3.5-2.7-1.4-1.3-.2 1.3 4.8-2.9 2.6-2.4 0 0-5.3-1.9-2.1 2.4-6.7 .8-2.6M559.7 864.1l8 0 2.6 6.7 8-4.3 8 2.4 10.7 4.5 6.6 4.6-2.7 2.1 4 3.2 6.7 6.1-6.7-.5-5.3-3.5-5.3-2.9-2.7 4-5.3-.3-5.3-2.9-2.7 .8 1.4-3.5-1.9-4.5-7.5-2.4-5.3-1.1-.5-3.2 3.2-.8-5.3-.8-2.7-3.7M535.7 843.4l4-4.3 5.4-3.2 2.6 6.1-1.3 3.2-1.6 1.6-3.7-2.1 0-2.7-5.4 1.4M518.4 884.1l4 .2 5.4 .3M529.9 884.6l8.5-.3M539.7 889.4l4-2.7 5.4-2.4M550.4 857.2l1.3 2.7-.5 3.4M546.4 870.5l2.7 .8M551.7 870l6.7 .8M606.3 876.6l5.3 1.9 4-5.1M622.8 876.6l3.4 3.5M628.9 881.4l6.6 2.7M636.3 886.7l3.2 2.7M647.5 915.8l7.5 5.3M654.7 901.9l1.6 3.5M682.9 908.8l3.5 1.1M517.1 945.8l-1.3-7.9-3.2-6.7 1.1-9.3 7.4-5.3 6.7-1.4 6.6-2.6 2.1-4.8 3.2 0 4-5.1 4.8-3.4 3.7 2.1 3.5 .5 1.3-5.3 2.7-2.1 4.3-2.2 6.3 2.2 4.8 0-3.4 6.9 4 2.6 6.1 4.3 4 .3 1.8-6.7 .8-6.6 1.9-4.6 2.7 9.1 4.8 2.1 2.3 10.1 6.2 3.8 6.1 6.9 5.3 6.6 1.3 5.9 .6 4-1.4 6.6M557 778.9l4-.8 1.4-4-2.7-2.1-2.7 .8-.8 2.1 .8 4M559.7 770.9l4-.2 6.6-.8 4.8 .2 5.4-.5 3.2-1.3 2.1-2.1 .5-6.2 2.7-3.2-1.4-5-3.4 1.6-1.1 4.8-3.4 4.5-4 .8-2.7 3.2-8 .8-5.3 2.9 0 .5M562.9 773.1l5.6-2.4 .5 1.6-4 1.8-2.1-1M584.2 751.2l3.4-2.4 4.6 1.4 6.1-3.5-3.2-1.8-6.1-4-.8 5.8-3.8 .3-.2 4.2M589 739.5l4-2.1-1.4-5.9 4 0-3.2-7.9-.8-6.2-2.6 2.2 0 9.3 0 10.6M599.6 743.5l5.3-2.6M610.3 739l5.3-2.7M619.6 732.1l5.3-4M556.2 753.4l2.7-4 6.1-1.3 6.7-4.6 6.6-6.6 5.9-6.7 .8-5.3 2.1-4-4.8-3.2-6.6 .5-4-1.8 6.6-6.2 6.7-3.9 6.6-2.2 13.3-.2 10.7 1 8-1.3-1.4-4 6.7-1.9 8-.2 8-1.9-8 5.1-10.7 9.5-1.3 5.4 3.2 10.6 4.8-5.3 4-4 5.3-1.3 0-4 3.5-4-2.2-4.8 6.7-.5 13.3 0 6.6-2.7 12-4 6.7 0-4-5.3 10.6-2.7M695.4 678.3l-5.3 0-10.6-2.1-16-.6 0 2.7-13.3-1.3-13.3-.6-13.3-3.4-13.3-1.4-13.3-2.6-13.3 0-13.4 2.6-13.3 1.4-5.3-5.3-13.3 0-13.3-1.4-12-.5-9.3-.8 8-5.3-21.3-4.6-13.3 3.2-13.3 1.4-18.6 1.3-8 4.5-12 .8 0 4-14.6-1.8-5.4 3.1-1.3 6.7-1.3-10.1-8 .8-6.7 4 1.4 5.3 5.3 1.9-13.3-2.7-10.6 1.3-13.4 .8-2.6 .8-16 1.4-10.6-2.2 0 6.2-8-.8-2.7 4.8-8 1.8-5.3-1.3-1.3-4 14.6-.3 2.7-4.2-10.7-3.5-10.6-1.1-8-1.6M349.5 672.4l13.3 1.6-4-3.7 4-5.3 10.6-4 20-3.5-4-.5-18.6 1.9-13.4 4.8-6.6 5.3-1.3 3.4M240.3 650.4l8 3.9 5.4 3.2 7.9-4.5 8 .5-5.3-3.7 18.6-.8-18.6-1.3-24 2.7M466.6 651.7l10.6 2.1 10.6-2.1-10.6-4-10.6 4M336.2 648.2l13.3-1M357.4 647.7l13.4-1.3M575.7 661.5l8 2.2 10.6-1.9-10.6-2.1-8 1.8M599.6 661.5l10.7 .8M684.8 673l10.6-.8M336.2 743.5l5.3-5.3 6.6-.8 4 3.5-5.3 2.6-1.9 4 6.7 1.3-.8 4 4 2.7-.5 7.2-6.2 1.3-6.6-2.4 .8-4.8 1.3-2.6-3.5-4-2.6-2.7-1.3-4M288.3 752.3l6.6 0 9.3-2.1 8 2.6 9.3-1.3-1.3-4-6.7-4-4-1.8 5.4-4.8-10.7 2.6-4 4-1.3-4-6.7-1.3-4.5 5.3-2.1 5.3 2.7 3.5M368.1 740.9l6.6-2.7-1.3 6.7-5.3 0 0-4M487.8 724.9l5.4-2.1 6.6-3.2 4-5.9-2.6 .5-5.4 6.2-8 4.5M408 738.2l5.3-.8 8 .8M342.3 893.9l3.2 9.3-2.7 5.4-4 12-2.6 7.9-5.4 1.4-3.4-5.4-.6-5.3 2.7-4.5-1.3-7.5 5.3-3.2 5.3-6.1 3.5-4M46.1 836.7l5.3 2.7 8 6.6 8 .5 6.6 3.5 4 9.3 0 2.7 5.3 1.9 8 2.1 2.7 3.4 6.6 .3 8 2.1 8.5 4 1.4 6.2-1.4 4.7-4.5 5.9-4 4-1.3 6.6-1.3 6.7-3.5 9.3-3.2 4-8 1.3-5.3 3-4 3.7-.5 6.1-3.5 4.5-2.1 4M46.1 711.6l5.3 3.2 6.7 3.4 4.5 4.8-5.9 1.9-10.6 3.5M53.3 734.7l8.7-9.8 1.4 4.5 6.6 3.5 .8 4-3.4 .5-5.4-.5-8.7-2.2M297 769.6l5.9-2.4M273.9 768l6.9 .5M244.3 760.8l8-.5-1.3 3.7-6.7-3.2M233.2 757.6l3.7 0-.5-5-3.2 .8 0 4.2M234.2 751.5l1.9-4M352.9 828.4l3.2 .3M168.5 786.9l1.9 .5M163.2 785.9l.8-.3M135.2 759.2l4-.2M143.2 761.4l1.3 0M191.6 696.4l2.2 1.6M187.1 672.7l2.7 .5M358.2 918.2l1.4 .2M363.8 915.8l.8 .5M315.4 877.4l.8 1.6M668.8 721.2l5.3 1M680.8 723.6l4 .5M235.6 861.2l.8 1.1M146.4 817.3l2.1 4.8" fill="none" stroke="#0000ff" stroke-width="1.4" stroke-linejoin="round"/>
<rect x="477.2" y="784.8" width="61.2" height="29.3" fill="none" stroke="#ff0000" stroke-width="4.6" stroke-dasharray="4.6 5.9" stroke-linecap="round"/>
</g>
<path d="M78.0 942.9v3.3M78.0 621.4v-3.3M104.6 942.9v3.3M104.6 621.4v-3.3M157.8 942.9v3.3M157.8 621.4v-3.3M184.5 942.9v3.3M184.5 621.4v-3.3M237.7 942.9v3.3M237.7 621.4v-3.3M264.3 942.9v3.3M264.3 621.4v-3.3M317.5 942.9v3.3M317.5 621.4v-3.3M344.1 942.9v3.3M344.1 621.4v-3.3M397.4 942.9v3.3M397.4 621.4v-3.3M424.0 942.9v3.3M424.0 621.4v-3.3M477.2 942.9v3.3M477.2 621.4v-3.3M503.8 942.9v3.3M503.8 621.4v-3.3M557.0 942.9v3.3M557.0 621.4v-3.3M583.7 942.9v3.3M583.7 621.4v-3.3M636.9 942.9v3.3M636.9 621.4v-3.3M663.5 942.9v3.3M663.5 621.4v-3.3M50.4 915.2h-3.3M691.1 915.2h3.3M50.4 888.6h-3.3M691.1 888.6h3.3M50.4 835.4h-3.3M691.1 835.4h3.3M50.4 808.7h-3.3M691.1 808.7h3.3M50.4 755.5h-3.3M691.1 755.5h3.3M50.4 728.9h-3.3M691.1 728.9h3.3M50.4 675.6h-3.3M691.1 675.6h3.3M50.4 649.0h-3.3M691.1 649.0h3.3" stroke="#000" stroke-width="1.5" fill="none"/>
<path d="M51.4 942.9v4.6M51.4 621.4v-4.6M131.2 942.9v4.6M131.2 621.4v-4.6M211.1 942.9v4.6M211.1 621.4v-4.6M290.9 942.9v4.6M290.9 621.4v-4.6M370.8 942.9v4.6M370.8 621.4v-4.6M450.6 942.9v4.6M450.6 621.4v-4.6M530.4 942.9v4.6M530.4 621.4v-4.6M610.3 942.9v4.6M610.3 621.4v-4.6M690.1 942.9v4.6M690.1 621.4v-4.6M50.4 941.9h-4.6M691.1 941.9h4.6M50.4 862.0h-4.6M691.1 862.0h4.6M50.4 782.1h-4.6M691.1 782.1h4.6M50.4 702.3h-4.6M691.1 702.3h4.6M50.4 622.4h-4.6M691.1 622.4h4.6" stroke="#000" stroke-width="2" fill="none"/>
<rect x="51.4" y="622.4" width="638.7" height="319.5" fill="none" stroke="#000" stroke-width="2.7"/>
<text x="51.4" y="971.9" text-anchor="middle" font-size="21.2">60W</text>
<text x="131.2" y="971.9" text-anchor="middle" font-size="21.2">30W</text>
<text x="211.1" y="971.9" text-anchor="middle" font-size="21.2">0</text>
<text x="290.9" y="971.9" text-anchor="middle" font-size="21.2">30E</text>
<text x="370.8" y="971.9" text-anchor="middle" font-size="21.2">60E</text>
<text x="450.6" y="971.9" text-anchor="middle" font-size="21.2">90E</text>
<text x="530.4" y="971.9" text-anchor="middle" font-size="21.2">120E</text>
<text x="610.3" y="971.9" text-anchor="middle" font-size="21.2">150E</text>
<text x="690.1" y="971.9" text-anchor="middle" font-size="21.2">180</text>
<text x="39.9" y="949.6" text-anchor="end" font-size="21.2">30S</text>
<text x="39.9" y="869.8" text-anchor="end" font-size="21.2">0</text>
<text x="39.9" y="789.9" text-anchor="end" font-size="21.2">30N</text>
<text x="39.9" y="710.1" text-anchor="end" font-size="21.2">60N</text>
<text x="39.9" y="630.2" text-anchor="end" font-size="21.2">90N</text>
<text x="50.4" y="600.6" font-size="21.6">(c) UV700</text>
<rect x="645.0" y="622.4" width="45.1" height="37.8" fill="#fff" stroke="#000" stroke-width="1.6"/>
<path d="M648.0 647.0H684.2" stroke="#000" stroke-width="1.8"/>
<path d="M687.2 647.0l-10 -4.3l3 4.3l-3 4.3z" fill="#000"/>
<text x="667.8" y="636.6" text-anchor="middle" font-size="14" stroke-width="0.1">1</text>
</g>
<g id="panel-d">
<g clip-path="url(#cpd)">
<rect x="769.5" y="619.0" width="639.5" height="318.3" fill="#1e2d62"/>
<path fill="#243f83" fill-rule="evenodd" d="M770 619l5 0 5 0 5 0 6 0 5 0 5 0 6 0 5 0 5 0 6 0 5 0 5 0 6 0 5 0 5 0 6 0 5 0 5 0 6 0 5 0 5 0 6 0 5 0 5 0 6 0 5 0 5 0 6 0 5 0 5 0 6 0 5 0 5 0 6 0 5 0 5 0 6 0 5 0 5 0 6 0 5 0 5 0 6 0 5 0 5 0 6 0 5 0 5 0 6 0 5 0 5 0 6 0 5 0 5 0 6 0 5 0 5 0 6 0 5 0 5 0 6 0 5 0 5 0 6 0 5 0 5 0 6 0 5 0 5 0 6 0 5 0 5 0 6 0 5 0 5 0 6 0 5 0 5 0 6 0 5 0 5 0 5 0 6 0 5 0 5 0 6 0 5 0 5 0 6 0 5 0 5 0 6 0 5 0 5 0 6 0 5 0 5 0 6 0 5 0 5 0 6 0 5 0 5 0 6 0 5 0 5 0 6 0 5 0 5 0 6 0 5 0 5 0 6 0 5 0 5 0 6 0 5 0 5 0 6 0 5 0 0 3 0 2 0 3 0 3 0 2 0 3 0 3 0 2 0 3 0 3 0 5 0 5 0 5 0 6 0 5 0 5 0 6 0 5 0 5 0 6 0 5 0 5 0 5 0 6 0 5 0 5 0 6 0 5 0 5 0 6 0 5 0 5 0 6 0 5 0 5 0 5 0 6 0 5 0 5 0 6 0 5 0 5 0 6 0 5 0 5 0 6 0 5 0 5 0 5 0 6 0 5 0 5 0 6 0 5 0 5 0 6 0 5 0 5 0 5 0 6 0 5 0 5 0 6 0 5 0 5-5 0-6 0-5 0-5 0-6 0-5 0-5 0-6 0-5 0-5 0-6 0-5 0-5 0-6 0-5 0-5 0-6 0-5 0-5 0-6 0-5 0-5 0-6 0-5 0-5 0-6 0-5 0-5 0-6 0-5 0-5 0-6 0-5 0-5 0-6 0-5 0-5 0-6 0-5 0-5 0-5 0-6 0-5 0-5 0-6 0-5 0-5 0-6 0-5 0-5 0-6 0-5 0-5 0-6 0-5 0-5 0-6 0-5 0-5 0-6 0-5 0-5 0-6 0-5 0-5 0-6 0-5 0-5 0-6 0-5 0-5 0-6 0-5 0-5 0-6 0-5 0-5 0-6 0-5 0-5 0-6 0-5 0-5 0-6 0-5 0-5 0-6 0-5 0-5 0-6 0-5 0-5 0-6 0-5 0-5 0-6 0-5 0-5 0-6 0-5 0-5 0-6 0-5 0-5 0-6 0-5 0-5 0-6 0-5 0-5 0-6 0-5 0-5 0-6 0-5 0-5 0-6 0-5 0-5 0-5 0 0-5 0-5 0-6 0-5 0-5 0-6 0-5 0-5 0-5 0-6 0-5 0-5 0-6 0-5 0-5 0-6 0-5 0-5 0-5 0-6 0-5 0-5 0-6 0-5 0-5 0-6 0-5 0-5 0-6 0-5 0-5 0-5 0-6 0-5 0-5 0-6 0-5 0-5 0-6 0-5 0-5 0-6 0-5 0-5 0-4 5 1 5 1 5 0 6 1 4 1 1 0 5 1 6 0 5 1 5 0 6 0 5 1 5 0 6 0 5 0 5 0 6 0 5 0 5 0 6 0 5 1 5 0 6 1 5 0 5-2 6-3 5-5 0-1 2-5 1-5 1-5-1-6-3-4-1-1-4-3-5-2-1 0-5-2-5-1-6-1-5-1-5 0-6-1-5 0-5 0-6 0-5 0-5 0-6 0-5 0-5 0-6-1-5 0-5 0-6 0-5 0-5 0-6 0-5 0-5 0-5 0 0-4 0-5 0-5 0-3 0-3 0-2 0-3 0-3 0-2 0-3 0-3 0-2zM1116 703l-3 1-2 2-5 3-1 1-3 4-2 4-1 2-3 5-1 3-2 2-1 6 0 5 2 5 1 2 2 4 3 4 1 1 4 5 0 1 4 5 2 1 3 4 2 1 5 3 4 1 2 1 5 0 5 0 6 1 5 0 5 0 6 0 5 0 5 0 6-1 3-1 2-1 5-1 6-1 5-1 5 0 5 1 6 1 5 1 2 1 3 1 6 1 5 0 5 0 6-1 1-1 4-2 5-3 0-1 6-3 1-1 4-3 5-3 5-5 1-5-3-6-3-2-4-3-1-1-5-3-2-1-4-2-4-4-1 0-5-2-5-3-1 0-5-2-5-1-6-1-4-1-1 0-5-1-6-1-5-1-5-1-5-1-4-1-2 0-5-1-5-1-6-2-2-1-3-1-5-2-4-2-2-1-5-2-5-1-6-1-5 0-5 1-6 1z"/>
<path fill="#2a5ba8" fill-rule="evenodd" d="M770 619l5 0 5 0 5 0 6 0 5 0 5 0 6 0 5 0 5 0 6 0 5 0 5 0 6 0 5 0 5 0 6 0 5 0 5 0 6 0 5 0 5 0 6 0 5 0 5 0 6 0 5 0 5 0 6 0 5 0 5 0 6 0 5 0 5 0 6 0 5 0 5 0 6 0 5 0 5 0 6 0 5 0 5 0 6 0 5 0 5 0 6 0 5 0 5 0 6 0 5 0 5 0 6 0 5 0 5 0 6 0 5 0 5 0 6 0 5 0 5 0 6 0 5 0 5 0 6 0 5 0 5 0 6 0 5 0 5 0 6 0 5 0 5 0 6 0 5 0 5 0 6 0 5 0 5 0 6 0 5 0 5 0 5 0 6 0 5 0 5 0 6 0 5 0 5 0 6 0 5 0 5 0 6 0 5 0 5 0 6 0 5 0 5 0 6 0 5 0 5 0 6 0 5 0 5 0 6 0 5 0 5 0 6 0 5 0 5 0 6 0 5 0 5 0 6 0 5 0 5 0 6 0 5 0 5 0 6 0 5 0 0 3 0 2 0 3 0 3 0 2 0 3 0 3 0 2 0 3 0 3 0 5 0 5 0 5 0 6 0 5 0 5 0 6 0 5 0 5 0 6 0 5 0 5 0 5 0 6 0 5 0 5 0 6 0 5 0 5 0 6 0 5 0 5 0 6 0 5 0 5 0 5 0 6 0 5 0 5 0 6 0 5 0 5 0 6 0 5 0 5 0 6 0 5 0 5 0 5 0 6 0 5 0 5 0 6 0 5 0 5 0 6 0 5 0 5 0 5 0 6 0 5 0 5 0 6 0 5 0 5-5 0-6 0-5 0-5 0-6 0-5 0-5 0-6 0-5 0-5 0-6 0-5 0-5 0-6 0-5 0-5 0-6 0-5 0-5 0-6 0-5 0-5 0-6 0-5 0-5 0-6 0-5 0-5 0-6 0-5 0-5 0-6 0-5 0-5 0-6 0-5 0-5 0-6 0-5 0-5 0-5 0-6 0-5 0-5 0-6 0-5 0-5 0-6 0-5 0-5 0-6 0-5 0-5 0-6 0-5 0-5 0-6 0-5 0-5 0-6 0-5 0-5 0-6 0-5 0-5 0-6 0-5 0-5 0-6 0-5 0-5 0-6 0-5 0-5 0-6 0-5 0-5 0-6 0-5 0-5 0-6 0-5 0-5 0-6 0-5 0-5 0-6 0-5 0-5 0-6 0-5 0-5 0-6 0-5 0-5 0-6 0-5 0-5 0-6 0-5 0-5 0-6 0-5 0-5 0-6 0-5 0-5 0-6 0-5 0-5 0-6 0-5 0-5 0-6 0-5 0-5 0-6 0-5 0-5 0-5 0 0-5 0-5 0-6 0-5 0-5 0-6 0-5 0-5 0-5 0-6 0-5 0-5 0-6 0-5 0-5 0-6 0-5 0-5 0-5 0-6 0-5 0-5 0-6 0-5 0-5 0-6 0-5 0-5 0-6 0-5 0-5 0-5 0-6 0-5 0-5 0-6 0-5 0-5 0-6 0-5 0-5 0-6 0-5 0-5 3 0 2 0 5 1 5 0 6 1 5 0 5 1 6 0 5 1 5 0 6 1 5 0 5 0 6 0 5 0 5 0 3 0 3 0 5 0 5 1 6 0 5 1 5 0 6 1 5-1 5-1 3-1 3-1 4-4 1-2 2-3 2-6 1-4 1-1 0-5 0-6-1-1-2-4-3-3-4-2-1-1-6-2-5-1-5-2-6-1-5-1-5 0-6-1-5 0-5 0-6 0-5 0-5 0-6-1-5 0-5 0-6 0-5 0-5 0-6 0-5 0-5-1-6 0-5 0-5-1-5 0 0-4 0-5 0-3 0-3 0-2 0-3 0-3 0-2 0-3 0-3 0-2zM1127 698l-5 1-1 0-5 2-5 2-2 1-4 3-2 2-3 3-2 2-3 6-1 0-3 5-2 4 0 1-2 6 0 5 2 5 0 1 3 5 3 3 1 2 4 5 5 6 4 5 2 1 5 4 5 2 6 1 5 1 5 0 6 0 5 1 5 0 6 0 5 0 5 0 6-1 5-1 5-1 6-1 5-1 5 0 5 1 6 1 5 1 5 2 5 0 1 1 5 0 5 0 1-1 5-1 5-2 3-2 2-2 5-3 1-1 5-4 2 0 3-3 4-3 2-1 2-4 1-5-3-6-6-5-5-3-3-2-2-2-6-3 0-1-5-2-5-3-1 0-5-2-5-1-5-2-2 0-4-1-5-1-5-1-6-1-5-1-2-1-3 0-5-1-6-1-5-2-4-1-1 0-6-2-5-2-3-1-2-1-6-2-5-2-1 0-4-1-6-1-5 0z"/>
<path fill="#4482c3" fill-rule="evenodd" d="M770 619l5 0 5 0 5 0 6 0 5 0 5 0 6 0 5 0 5 0 6 0 5 0 5 0 6 0 5 0 5 0 6 0 5 0 5 0 6 0 5 0 5 0 6 0 5 0 5 0 6 0 5 0 5 0 6 0 5 0 5 0 6 0 5 0 5 0 6 0 5 0 5 0 6 0 5 0 5 0 6 0 5 0 5 0 6 0 5 0 5 0 6 0 5 0 5 0 6 0 5 0 5 0 6 0 5 0 5 0 6 0 5 0 5 0 6 0 5 0 5 0 6 0 5 0 5 0 6 0 5 0 5 0 6 0 5 0 5 0 6 0 5 0 5 0 6 0 5 0 5 0 6 0 5 0 5 0 6 0 5 0 5 0 5 0 6 0 5 0 5 0 6 0 5 0 5 0 6 0 5 0 5 0 6 0 5 0 5 0 6 0 5 0 5 0 6 0 5 0 5 0 6 0 5 0 5 0 6 0 5 0 5 0 6 0 5 0 5 0 6 0 5 0 5 0 6 0 5 0 5 0 6 0 5 0 5 0 6 0 5 0 0 3 0 2 0 3 0 3 0 2 0 3 0 3 0 2 0 3 0 3 0 5 0 5 0 5 0 6 0 5 0 5 0 6 0 2-5 1-4 2 2 5 2 1 5 0 0 5 0 5 0 5 0 5 0 6 0 5 0 5 0 6 0 5 0 5 0 6 0 5 0 5 0 6 0 5 0 5 0 5 0 6 0 5 0 5 0 6 0 5 0 5 0 6 0 5 0 5 0 6 0 5 0 5 0 5 0 6 0 5 0 5 0 6 0 5 0 5 0 6 0 5 0 5 0 5 0 6 0 5 0 5 0 6 0 5 0 5-5 0-6 0-5 0-5 0-6 0-5 0-5 0-6 0-5 0-5 0-6 0-5 0-5 0-6 0-5 0-5 0-6 0-5 0-5 0-6 0-5 0-5 0-6 0-5 0-5 0-6 0-5 0-5 0-6 0-5 0-5 0-6 0-5 0-5 0-6 0-5 0-5 0-6 0-5 0-5 0-5 0-6 0-5 0-5 0-6 0-5 0-5 0-6 0-5 0-5 0-6 0-5 0-5 0-6 0-5 0-5 0-6 0-5 0-5 0-6 0-5 0-5 0-6 0-5 0-5 0-6 0-5 0-5 0-6 0-5 0-5 0-6 0-5 0-5 0-6 0-5 0-5 0-6 0-5 0-5 0-6 0-5 0-5 0-6 0-5 0-5 0-6 0-5 0-5 0-6 0-5 0-5 0-6 0-5 0-5 0-6 0-5 0-5 0-6 0-5 0-5 0-6 0-5 0-5 0-6 0-5 0-5 0-6 0-5 0-5 0-6 0-5 0-5 0-6 0-5 0-5 0-6 0-5 0-5 0-5 0 0-5 0-5 0-6 0-5 0-5 0-6 0-5 0-5 0-5 0-6 0-5 0-5 0-6 0-5 0-5 0-6 0-5 0-5 0-5 0-6 0-5 0-5 0-6 0-5 0-5 0-6 0-5 0-5 0-6 0-5 0-5 0-5 0-6 0-5 0-5 0-6 0-5 0-5 0-6 0-5 0-5 0-6 0-5 0-3 5 1 5 0 5 1 6 0 5 1 5 0 2 0 4 0 5 1 5 0 6 1 5 0 5 0 6 0 5 0 5 0 6 0 5 1 5 0 6 1 5 0 5 1 6 0 5 0 5-1 6-2 2-2 3-3 2-2 3-5 0-2 2-4 1-5 1-5 0-6-3-5-1-1-4-4-1-1-5-2-6-2 0-1-5-1-5-1-6-2-5-1-2 0-3 0-6-1-5 0-5 0-6-1-5 0-5 0-6-1-5 0-5 0-6 0-5 0-5 0-6 0-5 0-5-1-6 0-5-1-1 0-4-1-5-1 0-3 0-3 0-3 0-2 0-3 0-3 0-2 0-3 0-3 0-2zM1121 697l-5 2-5 2-6 3-5 5-1 0-4 5 0 1-4 5-2 2-2 3-3 5 0 2-1 4-1 5 1 5 1 1 3 5 2 2 2 3 4 3 1 2 4 4 1 2 4 5 6 5 5 3 5 2 1 0 5 1 5 1 5 0 6 0 5 0 5 0 6 1 5-1 5 0 6-1 5 0 1-1 4 0 6-1 5-1 5 1 5 0 5 1 1 1 5 1 5 1 6 1 5 0 5-1 6-1 5-2 5-3 3-2 3-2 3-3 2-1 5-4 1 0 5-4 2-2 3-4 0-1 0-5 0-1-2-5-3-3-3-2-3-2-4-3-1-1-5-3-3-2-3-1-5-3-2-1-3-1-6-2-5-2-2 0-3-1-6-1-5-1-5-1-5-2-1 0-5-1-5-1-5-2-5-1-1 0-5-1-5-2-6-1-2-1-3-1-5-2-6-2-5-2-5-1-6 0-5 0-5 0zM913 754l-2 3 1 5 1 3 2 3 4 4 1 1 4 3 5 2 6 1 4-1 1 0 5-4 2-1 0-5-2-3-2-3-3-2-5-3-6-2-5-2-5 0z"/>
<path fill="#5fa5d7" fill-rule="evenodd" d="M770 619l5 0 5 0 5 0 6 0 5 0 5 0 6 0 5 0 5 0 6 0 5 0 5 0 6 0 5 0 5 0 6 0 5 0 5 0 6 0 5 0 5 0 6 0 5 0 5 0 6 0 5 0 5 0 6 0 5 0 5 0 6 0 5 0 5 0 6 0 5 0 5 0 6 0 5 0 5 0 6 0 5 0 5 0 6 0 5 0 5 0 6 0 5 0 5 0 6 0 5 0 5 0 6 0 5 0 5 0 6 0 5 0 5 0 6 0 5 0 5 0 6 0 5 0 5 0 6 0 5 0 5 0 6 0 5 0 5 0 6 0 5 0 5 0 6 0 5 0 5 0 6 0 5 0 5 0 6 0 5 0 5 0 5 0 6 0 5 0 5 0 6 0 5 0 5 0 6 0 5 0 5 0 6 0 5 0 5 0 6 0 5 0 5 0 6 0 5 0 5 0 6 0 5 0 5 0 6 0 5 0 5 0 6 0 5 0 5 0 6 0 5 0 5 0 6 0 5 0 5 0 6 0 5 0 5 0 6 0 5 0 0 3 0 2 0 3 0 3 0 2 0 3 0 3 0 2 0 3 0 3 0 5 0 5 0 5 0 6 0 5 0 5 0 2-5 1-6 1-3 2-2 2-2 3 1 5 1 1 5 3 6 1 5 1 0 5 0 5 0 5 0 6 0 5 0 5 0 6 0 5 0 5 0 6 0 5 0 5 0 6 0 5 0 5 0 5 0 6 0 5 0 5 0 6 0 5 0 5 0 6 0 5 0 5 0 6 0 5 0 5 0 5 0 6 0 5 0 5 0 6 0 5 0 5 0 6 0 5 0 5 0 5 0 6 0 5 0 5 0 6 0 5 0 5-5 0-6 0-5 0-5 0-6 0-5 0-5 0-6 0-5 0-5 0-6 0-5 0-5 0-6 0-5 0-5 0-6 0-5 0-5 0-6 0-5 0-5 0-6 0-5 0-5 0-6 0-5 0-5 0-6 0-5 0-5 0-6 0-5 0-5 0-6 0-5 0-5 0-6 0-5 0-5 0-5 0-6 0-5 0-5 0-6 0-5 0-5 0-6 0-5 0-5 0-6 0-5 0-5 0-6 0-5 0-5 0-6 0-5 0-5 0-6 0-5 0-5 0-6 0-5 0-5 0-6 0-5 0-5 0-6 0-5 0-5 0-6 0-5 0-5 0-6 0-5 0-5 0-6 0-5 0-5 0-6 0-5 0-5 0-6 0-5 0-5 0-6 0-5 0-5 0-6 0-5 0-5 0-6 0-5 0-5 0-6 0-5 0-5 0-6 0-5 0-5 0-6 0-5 0-5 0-6 0-5 0-5 0-6 0-5 0-5 0-6 0-5 0-5 0-6 0-5 0-5 0-6 0-5 0-5 0-5 0 0-5 0-5 0-6 0-5 0-5 0-6 0-5 0-5 0-5 0-6 0-5 0-5 0-6 0-5 0-5 0-6 0-5 0-5 0-5 0-6 0-5 0-5 0-6 0-5 0-5 0-6 0-5 0-5 0-6 0-5 0-5 0-5 0-6 0-5 0-5 0-6 0-5 0-5 0-6 0-5 0-5 0-6 0-5 5 0 5 1 5 0 6 0 5 1 5 0 6 1 5 0 5 0 6 1 5 0 5 0 6 0 5 0 5 0 6 1 5 0 4 0 1 1 6 0 5 1 5 1 6 0 5 0 5 0 6-2 0-1 5-3 1-2 4-5 0-2 2-3 2-6 1-5 1-2 0-3 0-6 0-2-1-3-5-5-5-3-5-3-6-2-5-1-5-2-6-1-5-2-5-1-6 0-5-1-5 0-1 0-5-1-5 0-5-1-6 0-5-1-5 0-6 0-5 0-5 0-6 0-5 0-5-1-6-1-2 0-3-1-5-1-4-1-1-1 0-2 0-2 0-3 0-3 0-2 0-3 0-3 0-2zM1116 697l-5 2-6 3-3 2-2 2-4 3-1 2-3 3-3 4-2 2-3 5-4 5-1 5-1 1-1 5 1 5 1 1 2 5 3 2 2 3 3 3 3 2 3 3 2 3 3 3 1 2 4 4 1 1 5 4 3 1 2 1 5 2 6 1 5 0 5 0 6 1 5 0 5 0 6 0 5 0 5 0 6-1 5-1 5-1 6 0 5-1 5 1 5 1 6 1 5 1 4 1 1 0 6 1 5 0 5-1 4 0 2-1 5-2 5-3 6-4 1-1 4-3 3-2 2-2 6-3 5-5 1-1 2-5 0-5-3-6-5-5-6-4-1-1-4-3-4-3-1 0-6-3-3-2-2-1-5-2-6-2-2 0-3-1-5-1-6-2-5-1-3-1-2 0-6-1-5-2-5-1-2-1-3-1-6-1-5-1-5-2-1 0-5-1-5-2-5-2-1 0-5-2-5-1-5-1-6 0-5 0-5 0-6 1zM913 746l-3 0-2 1-5 5-1 5 1 5 3 6 2 2 2 3 3 3 3 2 3 2 5 3 1 0 4 2 6 0 5 0 5-1 1-1 5-1 5-4 3-5-1-5-2-3-3-3-2-2-5-3-1 0-5-3-5-2 0-1-6-2-5-2-4-1-1 0z"/>
<path fill="#7fc0e8" fill-rule="evenodd" d="M770 619l5 0 5 0 5 0 6 0 5 0 5 0 6 0 5 0 5 0 6 0 5 0 5 0 6 0 5 0 5 0 6 0 5 0 5 0 6 0 5 0 5 0 6 0 5 0 5 0 6 0 5 0 5 0 6 0 5 0 5 0 6 0 5 0 5 0 6 0 5 0 5 0 6 0 5 0 5 0 6 0 5 0 5 0 6 0 5 0 5 0 6 0 5 0 5 0 6 0 5 0 5 0 6 0 5 0 5 0 6 0 5 0 5 0 6 0 5 0 5 0 6 0 5 0 5 0 6 0 5 0 5 0 6 0 5 0 5 0 6 0 5 0 5 0 6 0 5 0 5 0 6 0 5 0 5 0 6 0 5 0 5 0 5 0 6 0 5 0 5 0 6 0 5 0 5 0 6 0 5 0 5 0 6 0 5 0 5 0 6 0 5 0 5 0 6 0 5 0 5 0 6 0 5 0 5 0 6 0 5 0 5 0 6 0 5 0 5 0 6 0 5 0 5 0 6 0 5 0 5 0 6 0 5 0 5 0 6 0 5 0 0 3 0 2 0 3 0 3 0 2 0 3 0 3 0 2 0 3 0 3 0 5 0 5 0 5 0 6 0 5 0 2-5 1-6 1-3 1-2 1-5 5-2 5 1 5 1 1 4 5 1 0 5 1 6 1 5 0 0 3 0 5 0 5 0 6 0 5 0 5 0 6 0 5 0 5 0 6 0 5 0 5 0 6 0 5 0 5 0 5 0 6 0 5 0 5 0 6 0 5 0 5 0 6 0 5 0 5 0 6 0 5 0 5 0 5 0 6 0 5 0 5 0 6 0 5 0 5 0 6 0 5 0 5 0 5 0 6 0 5 0 5 0 6 0 5 0 5-5 0-6 0-5 0-5 0-6 0-5 0-5 0-6 0-5 0-5 0-6 0-5 0-5 0-6 0-5 0-5 0-6 0-5 0-5 0-6 0-5 0-5 0-6 0-5 0-5 0-6 0-5 0-5 0-6 0-5 0-5 0-6 0-5 0-5 0-6 0-5 0-5 0-6 0-5 0-5 0-5 0-6 0-5 0-5 0-6 0-5 0-5 0-6 0-5 0-5 0-6 0-5 0-5 0-6 0-5 0-5 0-6 0-5 0-5 0-6 0-5 0-5 0-6 0-5 0-5 0-6 0-5 0-5 0-6 0-5 0-5 0-6 0-5 0-5 0-6 0-5 0-5 0-6 0-5 0-5 0-6 0-5 0-5 0-6 0-5 0-5 0-6 0-5 0-5 0-6 0-5 0-5 0-6 0-5 0-5 0-6 0-5 0-5 0-6 0-5 0-5 0-6 0-5 0-5 0-6 0-5 0-5 0-6 0-5 0-5 0-6 0-5 0-5 0-6 0-5 0-5 0-6 0-5 0-5 0-5 0 0-5 0-5 0-6 0-5 0-5 0-6 0-5 0-5 0-5 0-6 0-5 0-5 0-6 0-5 0-5 0-6 0-5 0-5 0-5 0-6 0-5 0-5 0-6 0-5 0-5 0-6 0-5 0-5 0-6 0-5 0-5 0-5 0-6 0-5 0-5 0-6 0-5 0-5 0-6 0-5 0-5 0-6 0-2 5 0 5 0 5 0 6 0 5 1 5 0 6 1 5 0 5 0 3 0 3 1 5 0 5 0 6 0 5 0 5 1 6 0 5 1 5 0 6 1 5 1 5 1 2 0 4 0 5 1 5 0 3-1 3-1 5-4 0-1 4-5 1-2 2-3 2-5 2-5 0-1 2-5 1-5 0-6-1-5-2-3-2-2-4-3-4-3-1 0-5-2-6-2-2-1-3-1-5-2-6-1-2-1-3-1-5-2-6-1-5 0-5-1-6 0-5-1-5-1-6 0-5-1-5 0-6 0-5 0-5 1-6 0-5-1-2 0-3-1-4-2-2-1-2-1-3-2-3-1-2 0-5-1 0-2 0-2 0-3 0-3 0-2zM1137 693l-5 0-5 1-6 1-5 1-5 1-3 2-3 1-5 3-1 1-4 4-2 1-4 5-5 6-4 5-1 2-2 3-3 6-1 2-1 3 1 5 0 2 2 4 4 3 1 2 4 3 3 2 2 2 4 4 2 1 3 4 2 2 2 3 3 3 3 2 3 2 5 2 5 2 6 0 5 1 5 0 6 0 5 0 5 0 6 0 5 0 5 0 6-1 4 0 1 0 5-1 6-1 5 0 5 1 5 1 1 0 5 1 5 1 5 1 6 0 5 0 5 0 6-1 5-2 2 0 3-2 5-4 1 0 5-5 5-4 2-1 4-3 4-2 1-1 4-5 1-4 1-1-1-1 0-4-3-6-2-2-2-3-3-2-4-3-2-1-5-4-1-1-4-2-6-3-5-2-5-2-3-1-3-1-5-1-5-2-6-1-2-1-3 0-5-1-6-2-5-1-1-1-4-1-5-2-6-1-3-1-2-1-5-1-6-1-5-2-5-2-6-1-5-2-5-1-4 0zM908 740l-2 1-3 1-4 4-2 3-1 3 0 5 0 5 1 3 1 3 4 5 1 1 4 4 1 1 5 4 0 1 6 3 5 2 5 1 6 0 5 0 5 0 4-1 2-1 5-2 5-2 1-1 5-3 2-2 1-5-2-5-1-1-5-5-1 0-5-4-1-1-4-2-6-3-5-2-5-3-2-1-4-1-5-2-5-2-1 0-5-1z"/>
<path fill="#a1daf4" fill-rule="evenodd" d="M770 619l5 0 5 0 5 0 6 0 5 0 5 0 6 0 5 0 5 0 6 0 5 0 5 0 6 0 5 0 5 0 6 0 5 0 5 0 6 0 5 0 5 0 6 0 5 0 5 0 6 0 5 0 5 0 6 0 5 0 5 0 6 0 5 0 5 0 6 0 5 0 5 0 6 0 5 0 5 0 6 0 5 0 5 0 6 0 5 0 5 0 6 0 5 0 5 0 6 0 5 0 5 0 6 0 5 0 5 0 6 0 5 0 5 0 6 0 5 0 5 0 6 0 5 0 5 0 6 0 5 0 5 0 6 0 5 0 5 0 6 0 5 0 5 0 6 0 5 0 5 0 6 0 5 0 5 0 6 0 5 0 5 0 5 0 6 0 5 0 5 0 6 0 5 0 5 0 6 0 5 0 5 0 6 0 5 0 5 0 6 0 5 0 5 0 6 0 5 0 5 0 6 0 5 0 5 0 6 0 5 0 5 0 6 0 5 0 5 0 6 0 5 0 5 0 6 0 5 0 5 0 6 0 5 0 5 0 6 0 5 0 0 3 0 2 0 3 0 3 0 2 0 3 0 3 0 2 0 3 0 3 0 5 0 5 0 5 0 6 0 3-5 0-6 1-2 1-3 1-5 3-2 1-3 6-1 5 2 5 3 6 1 0 5 2 5 1 6 1 5 0 0 1 0 5 0 5 0 6 0 5 0 5 0 6 0 5 0 5 0 6 0 5 0 5 0 6 0 5 0 5 0 5 0 6 0 5 0 5 0 6 0 5 0 5 0 6 0 5 0 5 0 6 0 5 0 5 0 5 0 6 0 5 0 5 0 6 0 5 0 5 0 6 0 5 0 5 0 5 0 6 0 5 0 5 0 6 0 5 0 5-5 0-6 0-5 0-5 0-6 0-5 0-3 0-2-1-6-1-5-1-5 0-6 0-5 1-5 2-2 0-4 0-5 0-5 0-6 0-5 0-5 0-6 0-5 0-5 0-6 0-5 0-5 0-6 0-5 0-5 0-6 0-5 0-5 0-6 0-5 0-5 0-6 0-5 0-5-2-6-2-5-1-5 1-5 3-2 1-4 0-5 0-5 0-6 0-5 0-5 0-6 0-5 0-5 0-6 0-5 0-5 0-6 0-5 0-5 0-6 0-5 0-5 0-6 0-5 0-5 0-6 0-5 0-5 0-6 0-5 0-5 0-6 0-5 0-5 0-6 0-5 0-5 0-6 0-5 0-5 0-6 0-5 0-5 0-6 0-5 0-5 0-6 0-5 0-5 0-6 0-5 0-5 0-6 0-5 0-5 0-6 0-5 0-5 0-6 0-5 0-5 0-6 0-5 0-5 0-6 0-5 0-5 0-6 0-5 0-5 0-6 0-5 0-5 0-6 0-5 0-5 0-6 0-5 0-5 0-6 0-5 0-5 0-5 0 0-5 0-5 0-6 0-5 0-5 0-6 0-5 0-5 0-5 0-6 0-5 0-5 0-6 0-5 0-5 0-6 0-5 0-5 0-5 0-6 0-5 0-5 0-6 0-5 0-5 0-6 0-5 0-5 0-6 0-5 0-5 0-5 0-6 0-5 0-5 0-6 0-5 0-5 0-6 0-5 0-5 0-6 5 0 5 0 5 0 6 1 5 0 5 0 6 1 5 0 5 0 6 1 5 0 5 0 6 0 5 1 5 0 6 0 5 1 5 1 1 0 5 1 5 1 5 1 6 1 4 1 1 0 5 2 6-2 5-4 1-1 3-6 1-1 2-4 2-5 2-3 0-2 2-6 2-5 1-5 1-6-1-5-3-5-2-2-5-4-1 0-5-2-5-3-1 0-5-2-5-2-4-1-1-1-6-2-5-2-5-2-6-1-5-2-4-1-1 0-5-2-1-1-5-2-1 0-4-1-6 0-5-1-5 0-6 0-5 0-5 0-6 0-5 0-5-1-6 0-5-1-5 0-5 0 0-1 0-3 0-3 0-2zM1127 693l-6 0-5 2-5 1-6 2-1 1-4 2-4 3-1 1-4 4-2 2-3 3-2 3-3 3-2 3-2 2-4 5-3 6-2 4 0 1-1 5 1 2 1 4 4 4 1 1 5 3 2 2 3 2 4 4 1 0 5 5 1 1 3 4 2 2 3 3 2 2 6 3 0 1 5 1 5 1 6 1 5 0 5 0 6 0 5 0 5 0 6 1 5-1 5 0 6 0 5-1 5 0 6-1 5 0 5 1 5 0 6 2 5 1 2 0 3 1 6 0 5 0 5 0 5-1 1 0 5-1 5-3 2-1 4-3 3-3 2-1 4-4 1-1 6-4 1 0 4-3 3-2 2-3 2-3 1-5-1-5-2-4-1-2-4-5-5-5-1 0-5-3-3-3-2-1-5-3-2-1-4-1-5-2-4-2-1 0-6-2-5-1-5-2-3-1-3 0-5-1-5-2-6-1-1-1-4-1-5-2-5-2-2 0-4-1-5-2-5-1-6-1-5-2-5-2-6-1-3-1-2 0-5-1-6 0-5 0zM903 733l-3 3-3 2-1 3-3 5-1 3-1 3 0 5 0 5 0 6 1 1 2 4 3 4 1 1 5 5 5 4 2 2 3 2 6 2 5 1 5 1 6 0 5 0 5 0 5-1 1 0 5-2 5-2 4-1 2-1 5-3 3-2 2-2 3-3 1-5-4-5-5-5-1-1-4-2-4-3-2-1-5-2-4-2-1-1-6-2-4-3-1 0-5-2-6-3-5-2-5-3-3 0-3-2-5-1z"/>
<path fill="#c3e7f7" fill-rule="evenodd" d="M770 619l5 0 5 0 5 0 6 0 5 0 5 0 6 0 5 0 5 0 6 0 5 0 5 0 6 0 5 0 5 0 6 0 5 0 5 0 6 0 5 0 5 0 6 0 5 0 5 0 6 0 5 0 5 0 6 0 5 0 5 0 6 0 5 0 5 0 6 0 5 0 5 0 6 0 5 0 5 0 6 0 5 0 5 0 6 0 5 0 5 0 6 0 5 0 5 0 6 0 5 0 5 0 6 0 5 0 5 0 6 0 5 0 5 0 6 0 5 0 5 0 6 0 5 0 5 0 6 0 5 0 5 0 6 0 5 0 5 0 6 0 5 0 5 0 6 0 5 0 5 0 6 0 5 0 5 0 6 0 5 0 5 0 5 0 6 0 5 0 5 0 6 0 5 0 5 0 6 0 5 0 5 0 6 0 5 0 5 0 6 0 5 0 5 0 6 0 5 0 5 0 6 0 5 0 5 0 6 0 5 0 5 0 6 0 5 0 5 0 6 0 5 0 5 0 6 0 5 0 5 0 6 0 5 0 5 0 6 0 5 0 0 3 0 2 0 3 0 3 0 2 0 3 0 3 0 2 0 3 0 3 0 5 0 5 0 5 0 4-5 0-6 1-3 1-2 0-5 2-6 3-2 5-1 6 1 5 1 5 1 3 2 3 4 2 5 3 1 0 4 1 6 0 5 0 0 4 0 5 0 6 0 5 0 5 0 6 0 5 0 5 0 6 0 5 0 5 0 6 0 5 0 5 0 5 0 6 0 5 0 5 0 6 0 2-5 2-3 1-2 5 4 6 1 0 5 2 0 3 0 5 0 6 0 5 0 5 0 5 0 6 0 5 0 5 0 6 0 5 0 5 0 6 0 5 0 5 0 5 0 6 0 5 0 5 0 6 0 5 0 5-5 0-6 0-5 0-4 0-1 0-6-4-3-1-2-1-5-1-6-1-5 0-5 0-6 0-5 0-5 1-6 1-2 1-3 1-5 3-2 1-4 0-5 0-5 0-6 0-5 0-5 0-6 0-5 0-5 0-6 0-5 0-5 0-6 0-5 0-5 0-6 0-5 0-5 0-6-4 0-1-5-2-5-2-6-1-5 0-5 0-5 2-6 3-4 5-1 0-5 0-6 0-5 0-5 0-6 0-5 0-5 0-6 0-5 0-5 0-6 0-5 0-5 0-6 0-5 0-5 0-6 0-5 0-5 0-6 0-5 0-5 0-6 0-5 0-5 0-6 0-5 0-5 0-6 0-5 0-5 0-6 0-5 0-5 0-6 0-5 0-5 0-6 0-5 0-5 0-6 0-5 0-5 0-6 0-5 0-5 0-6 0-5 0-5 0-6 0-5 0-5 0-6 0-5 0-5 0-6 0-5 0-5 0-6 0-5 0-5 0-6 0-5 0-5 0-6 0-5 0-5 0-6 0-5 0-5 0-6-2-5 0-5 0-6 1-5 1-5 0-5 0 0-5 0-5 0-6 0-5 0-5 0-6 0-5 0-5 0-5 0-6 0-5 0-5 0-6 0-5 0-5 0-6 0-5 0-5 0-5 0-6 0-5 0-5 0-6 0-5 0-5 0-6 0-5 0-5 0-6 0-5 0-5 0-5 0-6 0-5 0-5 0-6 0-5 0-5 0-6 0-5 0-5 0-3 5 0 5 0 5 0 6 0 5 0 5 0 6 1 5 0 5 0 6 1 5 0 5 0 6 0 5 1 2 0 3 0 6 1 5 1 5 1 6 1 5 1 5 2 6 3 3 6-1 5-1 5-1 5 0 1-1 5-1 5 0 6 0 5 2 3 1 2 4 5 5 5 1 1 5 3 2 2 3 1 5 2 6 2 5 0 2 0 3 1 6 0 5 0 5 0 4-1 2 0 5-1 5-2 6-2 5-2 5-3 1 0 5-3 5-3 4-5-1-5-3-4-1-1-4-3-3-3-3-1-5-3-2-1-3-2-6-2-1-1-4-2-5-2-4-2-2-1-5-2-4-2-1-1-6-3-3-1-2-2-5-3-2-1-3-5 0-5 2-6 2-5 1-2 1-3 2-5 1-6 1-2 1-3 2-5 1-6 0-5-3-5-1-1-5-4-1-1-5-3-5-2-5-2-6-3-1 0-4-2-5-3-2 0-4-2-2-1-2-3-1-2 0-3-5-3-6-1-5 0-5 0-6-1-5 0-5 0-6 0-1 0-4 0-5-1-6 0-5 0-5 1-6 0-5-1-5 0-6 0-5 0-5-1-5 0 0-1 0-3 0-2zM1116 693l-1 0-4 2-6 2-4 2-1 0-5 4-2 1-4 4-1 1-4 4-1 1-4 5-1 1-5 5-4 5-1 2-3 4-2 5 0 1-1 4 1 6 3 5 2 1 5 4 1 0 5 3 3 3 2 1 5 4 5 5 1 1 4 4 1 2 5 4 6 3 5 1 4 1 1 0 6 1 5 0 5 0 6 0 5 0 5 0 6 0 5 0 5 0 6-1 5 0 5-1 6 0 5 0 5 0 4 1 1 0 6 2 5 1 5 1 6 0 5 0 5 0 6-1 5-1 4-2 1-1 6-3 1-1 4-3 2-3 3-2 3-3 3-1 5-4 1 0 4-4 2-1 3-6 0-5-1-5-3-6-1-1-3-4-2-2-4-3-1-1-6-4 0-1-5-2-4-3-1 0-6-3-5-2-1 0-4-2-6-1-5-2-3-1-2 0-6-1-5-2-5-1-2-1-4-1-5-2-5-2-1 0-4-2-6-1-5-1-4-1-1-1-6-1-5-2-5-1-3-1-3 0-5-1-5-1-6 0-5 0-5 0-6 1z"/>
<path fill="#e0f2fa" fill-rule="evenodd" d="M770 619l5 0 5 0 5 0 6 0 5 0 5 0 6 0 5 0 5 0 6 0 5 0 5 0 6 0 5 0 5 0 6 0 5 0 5 0 6 0 5 0 5 0 6 0 5 0 5 0 6 0 5 0 5 0 6 0 5 0 5 0 6 0 5 0 5 0 6 0 5 0 5 0 6 0 5 0 5 0 6 0 5 0 5 0 6 0 5 0 5 0 6 0 5 0 5 0 6 0 5 0 5 0 6 0 5 0 5 0 6 0 5 0 5 0 6 0 5 0 5 0 6 0 5 0 5 0 6 0 5 0 5 0 6 0 5 0 5 0 6 0 5 0 5 0 6 0 5 0 5 0 6 0 5 0 5 0 6 0 5 0 5 0 5 0 6 0 5 0 5 0 6 0 5 0 5 0 6 0 5 0 5 0 6 0 5 0 5 0 6 0 5 0 5 0 6 0 5 0 5 0 6 0 5 0 5 0 6 0 5 0 5 0 6 0 5 0 5 0 6 0 5 0 5 0 6 0 5 0 5 0 6 0 5 0 5 0 6 0 5 0 0 3 0 2 0 3 0 3 0 2 0 3 0 3 0 2 0 3 0 3 0 5 0 5 0 3-5 0-6 0-5 1-5 0-6 0-5 1-1 0-4 6 1 5 1 5 2 6 1 5 0 1 2 4 2 6 1 1 5 4 1 0 5 2 5 0 6 0 5 0 0 3 0 5 0 6 0 5 0 5 0 6 0 5 0 5 0 6 0 5 0 5 0 6 0 5 0 5 0 5 0 6 0 5 0 5 0 5-5 1-1 0-5 2-5 3-2 5 2 4 1 2 4 3 4 2 2 1 5 2 0 2 0 6 0 5 0 5 0 5 0 6 0 5 0 5 0 6 0 5 0 5 0 6 0 5 0 5 0 5 0 6 0 5 0 5 0 6 0 5 0 5-5 0-3 0-3-1-4-4-1 0-5-3-6-2-1 0-4-1-5-1-6-1-5 0-5 0-6 0-5 0-5 1-6 1-5 1-1 0-4 1-6 2-3 2-2 1-4 4-1 0-6 0-5 0-5 0-6 0-5 0-5 0-6 0-5 0-5 0-6 0-5 0-5 0-6 0-5-5-5-3-4-2-2-1-5-2-5-1-6-1-5 0-5 0-5 1-6 2-2 2-3 2-4 3-1 3-2 2-4 0-5 0-5 0-6 0-5 0-5 0-6 0-5 0-5 0-6 0-5 0-5 0-6 0-5 0-5 0-6 0-5 0-5 0-6 0-5 0-5 0-6 0-5 0-5 0-6 0-5 0-5 0-6 0-5 0-5 0-6 0-5 0-5 0-6 0-5 0-5 0-6 0-5 0-5 0-6 0-5 0-5 0-6 0-5 0-5 0-6 0-5 0-5 0-6 0-5 0-5 0-6 0-5 0-5 0-6 0-5 0-5 0-6 0-5 0-5 0-6 0-5 0-5 0-6 0-5 0-5 0-5 0-1 0-5-4-2-1-3-1-6-1-5 0-5 0-6 0-5 1-5 1-1 0-4 1 0-1 0-5 0-6 0-5 0-5 0-6 0-5 0-5 0-5 0-6 0-5 0-5 0-6 0-5 0-5 0-6 0-5 0-5 0-5 0-6 0-5 0-5 0-6 0-5 0-5 0-6 0-5 0-5 0-6 0-5 0-5 0-5 0-6 0-5 0-5 0-6 0-5 0-5 0-6 0-5 0-5 0-1 5 0 5 0 5 0 6 0 5 0 5 1 4 0 2 0 5 0 5 1 6 0 5 0 5 0 6 1 5 0 5 1 6 0 5 1 4 1 1 1 6 1 5 3 2 0 3 4 1 2 1 5 0 5-1 6-1 2 0 3-2 5-1 6-2 5 0 5 3 5 2 2 5 4 1 0 5 4 1 1 4 3 3 2 3 2 5 2 5 1 6 0 5 1 5 0 6 0 5 0 5 0 3 0 3 0 5-1 5-2 6-2 0-1 5-2 5-2 3-1 3-1 5-2 5-2 1 0 5-4 2-2 2-5-1-5-3-3-2-2-4-3-4-3-1 0-5-3-5-2-1-1-5-2-5-2-6-3-5-2-2-1-3-1-6-2-3-2-2-1-5-3-3-1-3-2-4-4-1 0-4-5-1-5 0-6 2-5 1-5 2-5 0-1 2-5 2-5 1-5 1 0 1-6 0-5-2-4 0-1-5-5-1-1-4-2-5-3-1 0-5-3-5-2-6-3-4-2-1-1-5-2 0-1-2-2 0-2 1-3-1-3-4-2-2 0-3-1-5-1-6 0-5 0-5 0-6 0-5-1-5 0-6 0-5 0-5 0-6 0-5 0-5 0-6 0-3 0-2 0-5 0-6 0-5-1-5 0-5 0 0-2 0-2zM1116 692l-5 1-6 2-5 2-2 2-3 2-4 3-2 1-4 4-1 1-4 4-1 2-4 4-2 2-3 3-2 2-3 3-2 4-2 2-3 5-1 2-1 3 0 6 1 3 1 2 5 4 1 1 4 2 5 3 1 1 5 2 4 3 1 0 5 5 5 5 1 2 3 4 2 1 5 4 1 0 5 2 5 1 5 0 6 1 5 0 5-1 6 0 5 0 5 0 6 0 5 0 5 0 6 0 5-1 5 0 6 0 5 0 5 1 5 1 6 1 3 0 2 1 5 1 6 0 5 0 5 0 6-1 3-1 2 0 5-2 6-3 5-4 2-1 3-4 2-2 4-3 3-2 2-1 5-4 1 0 4-5 1-1 1-5 0-5-1-5 0-1-3-5-3-3-1-2-4-4-1-1-4-3-4-3-2-1-5-3-1-1-4-2-6-2-2-1-3-1-5-2-6-1-3-2-2 0-5-1-6-2-5-1-3-1-2-1-6-1-5-3-1 0-4-2-5-1-6-2-2 0-3-1-5-1-6-2-5-1-2-1-3-1-6-1-5-1-5 0-6 0-5 0-5 0-6 1zM807 782l-3 1-3 5 0 1 6 4 5-1 5-2 3-1 1-6-4-1-5-1z"/>
<path fill="#f2f9fc" fill-rule="evenodd" d="M770 619l5 0 5 0 5 0 6 0 5 0 5 0 6 0 5 0 5 0 6 0 5 0 5 0 6 0 5 0 5 0 6 0 5 0 5 0 6 0 5 0 5 0 6 0 5 0 5 0 6 0 5 0 5 0 6 0 5 0 5 0 6 0 5 0 5 0 6 0 5 0 5 0 6 0 5 0 5 0 6 0 5 0 5 0 6 0 5 0 5 0 6 0 5 0 5 0 6 0 5 0 5 0 6 0 5 0 5 0 6 0 5 0 5 0 6 0 5 0 5 0 6 0 5 0 5 0 6 0 5 0 5 0 6 0 5 0 5 0 6 0 5 0 5 0 6 0 5 0 5 0 6 0 5 0 5 0 6 0 5 0 5 0 5 0 6 0 5 0 5 0 6 0 5 0 5 0 6 0 5 0 5 0 6 0 5 0 5 0 6 0 5 0 5 0 6 0 5 0 5 0 6 0 5 0 5 0 6 0 5 0 5 0 6 0 5 0 5 0 6 0 5 0 5 0 6 0 5 0 5 0 6 0 5 0 5 0 6 0 5 0 0 3 0 2 0 3 0 3 0 2 0 3 0 3 0 2 0 3 0 3 0 5-5 0-6-2-5-2-2-1-3-2-2-1-4-3-5-2-5 1-2 1-4 2-1 1-4 2-1 1-3 5-1 3-1 2 1 1 1 4 3 6 1 0 5 5 0 1 4 4 2 4 0 2 2 5 2 5 1 2 2 4 3 4 2 1 4 2 5 1 5 1 6 0 5 0 0 1 0 5 0 6 0 5 0 5 0 6 0 5 0 5 0 6 0 5 0 5 0 6 0 5 0 5 0 5 0 6 0 5 0 5 0 3-5 0-6 2-3 1-2 1-5 3-3 1-3 5 3 6 3 2 4 3 1 1 5 3 3 1 3 2 5 1 0 3 0 5 0 5 0 5 0 6 0 5 0 5 0 6 0 5 0 5 0 6 0 5 0 5 0 5 0 6 0 5 0 5 0 6 0 4-5-2-6-2-5-2-5-2-6-1-1-1-4 0-5-1-6 0-5-1-5 0-6 0-5 0-5 1-6 0-5 1-4 0-1 1-6 1-5 1-5 2-1 1-5 2-3 3-2 3-2 2-3 0-6 0-5 0-5 0-6 0-5 0-5 0-6 0-5 0-5-5-6-4-2-1-3-2-5-3-2-1-4-1-5-1-5-1-6-1-5 0-5 0-5 1-6 1-5 2-5 4-3 2-3 3-2 2-2 5-1 0-5 0-6 0-5 0-5 0-6 0-5 0-5 0-6 0-5 0-5 0-6 0-5 0-5 0-6 0-5 0-5 0-6 0-5 0-5 0-6 0-5 0-5 0-6 0-5 0-5 0-6 0-5 0-5 0-6 0-5 0-5 0-6 0-5 0-5 0-6 0-5 0-5 0-6 0-5 0-5 0-6 0-5 0-5 0-6 0-5 0-5 0-6 0-5 0-5 0-6 0-5 0-5 0-6 0-5 0-5 0-6 0-5 0-5 0-6 0-5 0-5 0-6 0-5 0-1 0-4-5-6-3-5-2-2 0-3-1-6 0-5 0-5 0-6 0-5 0-5 0-5 0 0-5 0-5 0-5 0-6 0-5 0-5 0-5 0-6 0-5 0-5 0-6 0-5 0-5 0-6 0-5 0-5 0-5 0-6 0-5 0-5 0-6 0-5 0-5 0-6 0-5 0-5 0-6 0-5 0-5 0-5 0-6 0-5 0-5 0-6 0-5 0-5 0-6 0-5 0-3 5 0 5 0 5 0 6 0 5 0 5 0 6 0 5 1 5 0 6 0 5 0 5 1 6 0 5 0 5 1 6 1 5 2 5 1 3 1 3 2 4 4 1 1 2 4 0 5-1 6-1 3 0 2-3 5-2 5-1 1-4 5-1 2-2 3 1 5 1 2 5 4 1 0 5 3 4 2 1 1 6 3 1 1 4 3 4 3 1 1 6 2 5 2 4 0 1 0 6 0 5 0 5 1 6 0 5 0 5 0 6 0 3-1 2 0 5-2 6-2 2-1 3-2 5-2 5-2 1 0 5-1 5-2 6-1 3-1 2-1 5-4 1 0 3-6 1-5-1-5-4-4-1-1-4-3-4-3-1 0-6-2-5-3-1 0-4-2-6-2-3-1-2-1-5-2-6-2 0-1-5-1-5-3-3-1-3-1-5-3-2-1-3-2-5-4-1 0-4-5-1-2-1-3 0-6 0-5 1-3 0-2 2-5 2-6 1-4 1-1 3-5 2-6 0-1 0-4 0-1-2-4-4-4-1-2-4-2-4-3-1-1-6-2-4-2-1-1-5-3-4-1-2-1-3-2-2-3 1-2 1-3 1-3-2-2-1-1-5-2-2 0-4-1-5 0-5-1-6 0-5 0-5 0-6 0-5 0-5 0-6 0-5 0-5 0-6 0-5 0-5 0-6 0-5 0-5 0-6-1-5 0-5 0-5 0 0-2zM1111 692l-5 1-1 1-5 2-5 3-6 4-1 1-4 4-2 1-3 4-2 1-4 4-1 2-4 4-2 1-3 4-2 1-4 5-1 1-3 5-1 1-2 4-1 6 0 5 3 4 1 1 4 3 4 3 2 0 5 3 5 2 1 0 5 3 3 2 2 2 3 3 2 3 2 3 4 4 1 1 4 3 5 2 2 0 4 1 5 1 5 0 6 0 5 0 5-1 6 0 5 0 5 0 6 0 5 0 5 0 6-1 1 0 4 0 5 0 6 0 5 0 3 0 2 1 5 1 6 1 5 1 5 1 6 0 5 0 5 0 6 0 5-1 5-2 6-2 5-3 2-2 3-3 2-2 4-4 2-2 3-2 5-3 6-5 3-5 1-6 0-5-2-5-2-5-1-1-4-5-1-1-4-4-1-1-5-4-1-1-5-2-4-3-1-1-5-2-5-2-1-1-5-1-5-2-5-2-1 0-5-1-5-1-6-2-3-1-2 0-5-2-6-2-2-1-3-1-5-2-5-2-1 0-5-2-5-1-5-1-6-1-1-1-4-1-5-1-6-1-5-1-5 0-6 0-5 0-5 0-6 1-5 1zM807 773l-2 0-4 1-5 2-4 2-1 1-5 4-1 1-2 5 1 5 1 3 2 2 4 4 2 2 3 1 5 0 6 0 5-1 5-2 6-2 3-2 2-1 5-3 2-1 4-5 1-6-1-1-4-4-2 0-5-2-5-2-6-1-5-1zM1073 868l-1 0-4 4-2 2 0 5 2 2 2 3 3 3 3 3 3 1 5 4 5 2 6 1 5-1 3-2 2-5 1 0 0-6-1-3 0-2-3-5-2-4-3-2-2-1-6-2-5 0-5 1z"/>
<path fill="#ffffff" fill-rule="evenodd" d="M770 619l5 0 5 0 5 0 6 0 5 0 5 0 6 0 5 0 5 0 6 0 5 0 5 0 6 0 5 0 5 0 6 0 5 0 5 0 6 0 5 0 5 0 6 0 5 0 5 0 6 0 5 0 5 0 6 0 5 0 5 0 6 0 5 0 5 0 6 0 5 0 5 0 6 0 5 0 5 0 6 0 5 0 5 0 6 0 5 0 5 0 6 0 5 0 5 0 6 0 5 0 5 0 6 0 5 0 5 0 6 0 5 0 5 0 6 0 5 0 5 0 6 0 5 0 5 0 6 0 5 0 5 0 6 0 5 0 5 0 6 0 5 0 5 0 6 0 5 0 5 0 6 0 5 0 5 0 6 0 5 0 5 0 5 0 6 0 5 0 5 0 6 0 5 0 5 0 6 0 5 0 5 0 6 0 5 0 5 0 6 0 5 0 5 0 6 0 5 0 5 0 6 0 5 0 5 0 6 0 5 0 5 0 6 0 5 0 5 0 6 0 5 0 5 0 6 0 5 0 5 0 6 0 5 0 5 0 6 0 5 0 0 3 0 2 0 3 0 3-3 0-2-1-6 0-5-1-5-1-6 0-1 0-4 0-5 0-4 0-2 0-5 1-5 1-3 1-3 1-2 1-3 2-1 1-3 3-1 2-1 0 1 3 2 3 3 5 2 5 3 5 0 1 4 5 2 2 3 3 2 1 4 4 1 1 3 5 3 4 0 1 2 5 3 6 4 5 1 1 6 3 5 1 5 1 6 0 5 0 0 4 0 6 0 5 0 5 0 6 0 5 0 5 0 6 0 5 0 5 0 6 0 5 0 5 0 5 0 6 0 5 0 5-5 1-6 1-5 2-5 1-1 1-5 2-5 2-3 1-2 3-3 2 3 4 1 2 4 2 4 3 1 1 6 3 1 1 4 4 3 2 2 1 6 3 1 1 4 1 0 4 0 5 0 6 0 5 0 5 0 6 0 5 0 5 0 6 0 5 0 5 0 5 0 6 0 5 0 5 0 1-2-1-3 0-6-2-5-1-5-1-5-1-1 0-5-1-5 0-6-1-5 0-5 0-6 0-5 0-5 0-6 0-5 0-5 1-6 0-5 1-1 0-4 1-6 1-5 2-2 1-3 2-6 4-5 3-4 2-1 1-6 1-5-1-2-1-3-1-6-2-4-2-1-1-5-2-4-3-2 0-5-3-5-2-1 0-5-1-5-2-5 0-6-1-5 0-5 0-5 0-6 1-5 1-5 2-2 0-4 2-5 3-5 5-1 1-3 5-2 5-5 0-5 0-6 0-5 0-5 0-6 0-5 0-5 0-6 0-5 0-5 0-6 0-5 0-5 0-6 0-5 0-5 0-6 0-5 0-5 0-6 0-5 0-5 0-6 0-5 0-5 0-6 0-5 0-5 0-6 0-5 0-5 0-6 0-5 0-5 0-6 0-5 0-5 0-6 0-5 0-5 0-6 0-5 0-5 0-6 0-5 0-5 0-6 0-5 0-5 0-6 0-5 0-5 0-6 0-5 0-5 0-6 0-5 0-5 0-4 0-2-4 0-1-5-5-1 0-4-3-6-1-5-1-5 0-6 0-5 0-5-1-3 0-3 0-5 0-5 0-5-1 0-4 0-5 0-6 0-5 0-5 0-5 0-6 0-5 0-5 0-6 0-5 0-5 0-6 0-5 0-5 0-5 0-6 0-5 0-5 0-6 0-5 0-5 0-5 4 5 1 0 5 5 5 4 5 1 1 1 5 1 5 0 6-1 4-1 1 0 5-2 6-2 2-1 3-1 5-3 4-1 2-1 5-3 4-2 1-1 6-1 5-1 5 1 6 1 3 1 2 1 5 3 3 2 3 2 5 3 5 3 6 2 2 0 3 1 5 1 6 0 5 0 5 1 6 0 5 0 5 0 6 0 5-1 5-1 2-1 4-1 5-2 3-2 2-1 6-2 5-2 4 0 1-1 6 0 5 0 5-1 6-2 1-2 4-3 1-2 2-5 2-6 0-1 1-4 1-5-2-4 0-1-5-4-5-2-6-2-5-1-5-2-6-2-5-1-5-2-6-2-5-2-4-2-1 0-6-2-5-2-2-1-3-1-6-3-2-1-3-2-5-4-6-5-3-5 0-6 0-5 1-5 1-5 1-4 1-2 3-5 2-4 1-1 2-6 1-5-1-5-3-4-2-2-4-2-4-3-1-1-5-3-3-1-3-2-5-3-2 0-3-2-2-1-2-3 1-2 2-3 1-1 1-2 0-2-1-2-2-1-4-2-5-1-5 0-6-1-5 0-5 0-6-1-5 0-5 0-6 0-5 0-5 0-6 0-5 0-5 0-6 0-5 0-5 0-6 0-5 0-5 0-6 0-5 0-5 0-5 0zM1132 688l-3 0-2 0-6 1-5 1-5 1-6 1-2 1-3 1-5 3-3 2-3 2-4 3-1 1-4 4-1 1-5 4-1 2-4 4-1 0-5 5-6 5-5 5 0 1-5 5 0 1-3 4-3 5 0 1-2 5 0 5 2 3 3 3 3 1 5 3 3 1 2 1 6 2 5 2 5 3 4 2 2 3 2 3 1 5-1 5-2 2-6 3-1 1-4 3-2 2-3 5 0 2-1 4 0 5 1 5 1 6 0 5 0 5-1 2-2 3-4 6-5 4-1 1-4 3-5 2-1 1-5 5 4 5 1 0 6 2 5 2 2 1 3 1 6 3 1 2 4 2 4 3 1 1 5 4 1 0 5 4 2 1 3 3 4 3 2 1 5 4 1 0 4 2 6 1 5 0 4-3 1-1 3-4 1-6 0-5-1-5-1-5-1-6-1-3 0-2 0-5 0-2 1-4 3-5 2-1 5-4 5-3 4-3 2-1 5-4 4-5-1-5-3-2-5-4-6-1-5-2-5-2-2 0-4-1-5-2-5-2-1 0-5-4-2-2 0-5 2-1 6-1 5-1 5-1 6-1 3 0 2 0 5-1 6 0 5 0 5 0 6 0 5-1 5 0 6 0 5 0 5 0 6 0 5 0 5 1 4 1 1 0 6 2 5 1 5 0 6 0 5 0 5 0 6 0 5-1 5 0 6-1 3-1 2-1 5-4 1-1 5-5 5-5 0-1 5-4 1-1 5-3 1-2 3-5 1-3 1-2 0-6 0-5-1-3-1-2-3-6-1-2-3-3-3-3-2-2-3-3-4-3-1-1-6-3-1-1-4-2-5-3-1 0-5-2-5-2-5-1-1-1-5-1-5-1-5-1-5-2-1 0-5-2-5-1-5-2-1-1-5-2-5-2-1 0-4-2-6-1-5-2-5-1-6-1-5-1-5-1-6-1-5-1-5 0-6 0zM1302 639l-2 1 2 1 6 0 5-1-5-1zM770 725l5 0 5-1 5 0 6 0 5 1 5 0 6 0 5 0 5 0 6 1 5 0 5 0 6 1 5 0 5 1 6 2 3 0 2 2 5 2 2 2 4 4 0 1 1 5-1 6 0 2-2 3-3 5-1 1-5 5-5 3-6 2-5 0-5-1-6-1-5-1-5-1-6-1-1 0-4-1-5 0-6 0-1 1-4 1-5 2-4 2-2 1-5 3-2 1-3 3-5 2 0-5 0-5 0-5 0-6 0-5 0-5 0-6 0-5 0-5 0-6z"/>
<path fill="#ffffff" fill-rule="evenodd" d="M894 619l3 0 6 0 5 0 5 0 6 0 5 0 5 0 6 0 5 0 5 0 6 0 5 0 5 0 6 0 5 0 5 0 6 0 5 0 5 0 6 0 5 0 5 0 6 0 5 0 5 0 6 0 5 0 5 0 6 0 5 0 5 0 6 0 5 0 5 0 6 0 5 0 5 0 6 0 5 0 5 0 6 0 5 0 5 0 6 0 5 0 5 0 6 0 5 0 5 0 6 0 5 0 5 0 6 0 5 0 5 0 6 0 5 0 5 0 5 0 6 0 5 0 5 0 6 0 5 0 5 0 6 0 5 0 5 0 6 0 5 0 5 0 6 0 5 0 5 0 6 0 5 0 5 0 6 0 5 0 5 0 6 0 5 0 3 3-1 2-2 3-3 3-2 0-6 1-5 1-5 0-6 0-5 1-5 1-3 1-3 1-4 2-1 1-1 1 1 1 2 2 3 1 6 1 5 0 5 1 6 0 5 0 5 0 6 0 5 2 5 2 1 1 5 5 4 5 1 2 3 4 2 1 4 4 2 1 5 4 5 6 4 5 2 4 0 1 3 6 2 4 1 1 4 4 4 1 2 1 5 1 5 0 6 0 5 0 0 3 0 6 0 5 0 5 0 6 0 5 0 5 0 6 0 5 0 5 0 6 0 5 0 5 0 5 0 6 0 5 0 4-5 0-6 1-5 2-5 1-6 1-5 2-5 1-6 2-5 1-4 1-1 1-6 4 0 6 6 3 4 2 1 0 5 2 6 3 1 0 4 3 3 3 2 2 2 3 2 5 0 5-4 6-5 4-1 1-4 3-4 2-2 1-5 4-1 1-4 4-2 1 2 5 5 1 5 0 6 0 5 0 5-1 6 0 5 0 5 0 6 0 5 0 0 6 0 5 0 5 0 5 0 6-5-1-6-1-5-1-5-1-6 0-5 0-5-1-6 0-5 0-5-1-1 0-5 0-5 0-5 0-6 0-5 0-5 0-6 0-5 0-5 1-6 1-5 2-5 1-1 1-5 2-5 2-2 1-3 2-6 1-5 1-5 0-6-1-5-1-5-2-6-2-5-2-4-1-1-1-6-1-5-1-5-1-6-1-5 0-3-1-2 0-5-1-6-1-5-2-2-1-3-5 0-2-1-3 1-5 0-1 0-5 0-5 0-6 3-5 2-2 4-3 1-1 6-3 3-2 2-1 3-4 2-4 0-1 0-5 0-1-1-5-4-4-2-1-3-2-6 0-5 0-5 0-6 0-5-1-5-1-6-1-2 0-3-2-5-2-4-2 4-3 3-2 2 0 5-1 6 0 5 0 5 0 6-1 5 0 5 0 6 0 5 1 4 1 1 0 5 2 6 1 5 0 5 1 6 0 5 0 5 0 6 0 5 1 5 0 0 1 6 2 5 2 5 0 6-1 4-4 1-1 4-4 1-2 2-3 2-6 2-3 0-2 2-5 3-6 1-5 2-5 0-5 1-6-1-5-2-5-1-2-2-4-3-4-1-1-5-5-5-4-1-2-4-2-4-3-2-1-5-3-3-1-2-1-6-2-5-2-2-1-3 0-6-2-5-1-5-2-1 0-5-1-5-2-5-2-1 0-5-2-5-3-2 0-3-2-5-2-6-1-3-1-2 0-5-1-6-1-5-2-5-1-3 0-3-1-5 0-5-1-6 0-5 1-5 0-6 1-1 0-4 1-5 1-6 1-5 2-1 0-4 2-6 4-5 4-1 1-4 4-2 1-4 4-2 1-3 4-3 2-2 2-4 3-2 1-5 4 0 1-5 5-5 5-1 0-4 5-1 1-5 5-1 0-5 2-5 2-5 0-6-1-5-1-5-1-6-1-5-2-5-1-6-2-1-1-4-1-5-2-6-1-1-1-4-1-5-3-3-1-3-2-5-3-1-1-4-4-2-1-3-5-1-3 0-3 0-5 0-5 0-1 2-4 2-6 2-3 1-2 3-5 1-2 2-4 2-5-2-5-2-3-2-3-3-2-4-3-2-1-5-3-1-1-4-3-5-2-1-1-5-2-1-3 1-2 0-1 3-2 2-2 1-1 2-2 2-3 1-3 0-2 0-3-6 0-5 0-5 0-6 0zM770 730l0-2 5 0 5 0 5 0 6 0 5 0 5 0 6 0 5 0 5 1 6 0 5 0 5 0 6 1 4 0 1 1 5 1 6 2 3 2 2 1 4 4 1 5 0 6-3 5-2 2-5 3 0 1-6 2-5 1-5 0-6-1-5 0-5-1-6-1-4-1-1 0-5-1-6 0-4 1-1 0-5 3-5 3-1 0-5 3-5 2-5 2 0-2 0-5 0-6 0-5 0-5 0-6 0-5 0-5zM852 810l3-1 5-1 5-1 6 1 5 2 1 0 4 3 5 2 1 1 5 2 5 2 2 1 4 1 5 1 5 1 6 1 4 1 1 0 5 1 6 1 5 0 5 1 6-1 5 0 5 0 6 0 5 1 5 0 6 2 5 3 5 0 6-2 2-1 3 0 5 0 6 2 5 2 3 2 2 1 6 4 3 5-1 5-2 2-6 2-5 1-5 0-6 1-5 3-1 2-1 5-1 6 0 5 3 4 5 1 6 0 5 1 5 0 6 0 5 1 5 0 6 2 5 1 1 1 4 1 6 4 5 4 2 1 3 3 2 2 4 4 1 2 4 5 0 1 2 4 2 6 1 5 0 5-5 0-5 0-6 0-5 0-5 0-6 0-5 0-5 0-6 0-5 0-5 0-6 0-5 0-5 0-6 0-5 0-5 0-6 0-5 0-5 0-6 0-5 0-5 0-6 0-5 0-5 0-6 0-5 0-5 0-6 0-5 0-5 0-6 0-5 0-5 0-6 0-5 0-5 0-6 0-5 0-5 0-6 0-5 0-5 0-6 0-5 0-1 0-2-5-2-4-1-1-5-5 0-1-5-3-5-2-3 0-3 0-1 0-4 0-5 1-6 0-5 0-5 0-6-1-2 0-3 0-5-2-5-1 0-2 0-6 0-5 0-5 0-5 0-6 0-5 0-5 0-6 0-5 0-5 0-6 0-5 0-5 0-5 0-6 0-5 0-2 5 1 4 1 1 0 5 1 6 0 5 0 5 1 6 0 5-1 5-1 2 0 4-1 5-3 2-1 3-2 6-3 1-1 4-2 5-2zM961 883l-5 1-5 4-2 2 0 5 2 1 2 4 3 3 1 2 3 6 1 1 3 4 3 5 4 6 1 2 3 3 2 3 6 2 5-4 1-1 3-5 1-2 2-4 2-5 1-5 1-6 0-5 0-5 0-5 0-2-6-3-5 0-5-1-6 0-5-1-5 0z"/>
<path fill="#fef8e2" fill-rule="evenodd" d="M981 622l2 0 5-1 5 0 6 0 5 0 5 0 6 0 5 0 5 0 6 0 5 0 5 0 6 0 5 0 5 0 6 0 5 0 5 0 6 0 5 0 5 0 6 0 5 0 5 0 6 0 5 0 5 0 6 0 5 0 5 0 6 0 5 0 5 0 6 0 5 0 5 0 6 0 5 0 5 0 6 0 5 0 5 0 5 1 3 0 3 0 5 0 5 0 6 0 5 1 5 0 6 1 5 0 3 0 2 1 6 0 5 1 2 1 3 1 4 2 0 2-3 3-1 1-1 2-1 2 2 3 6 2 3 1 2 0 5 1 6 1 5 0 5 1 6 0 5 1 5 0 3 1 3 0 5 2 5 3 0 1 5 4 1 1 4 5 1 1 5 4 0 1 6 3 1 1 4 3 2 3 3 3 1 2 3 5 2 4 1 2 3 5 1 2 4 3 1 1 6 2 5 0 5 1 6 0 5 0 0 1 0 6 0 5 0 5 0 6 0 5 0 5 0 6 0 5 0 5 0 6 0 5 0 5 0 5 0 6 0 5 0 2-5 1-6 1-5 1-4 0-1 1-6 1-5 1-5 1-6 1-5 0-2 1-3 1-6 1-5 2-3 1-2 1-6 3-3 1-2 2-4 4 1 5 3 5 5 5 1 1 5 4 1 1-1 2-3 3-3 1-3-1-2-1-5-3-3-1-3-1-5-2-5-1-4-1-2-2-4-4 0-5 3-5 1-3 2-3 2-5-1-5-1-6-1-5-1-5 0-6 0-5 1-5 0-5 0-6-1-3 0-2-2-5-3-6-4-5-1-1-4-4-2-2-4-4-1 0-5-4-2-1-4-2-5-3-5-2-6-2-3-2-2 0-5-2-6-1-5-1-2-1-3-1-6-1-5-2-3-1-2-1-6-3-3-1-2-1-5-3-5-1-2-1-4-1-5-1-5-1-6-1-5-1-1 0-4-1-6-1-5 0-5-1-6 0-5 1-5 0-6 1-5 1-2 0-3 1-6 1-5 1-5 2 0 1-6 3-2 2-3 2-4 3-1 1-4 4-2 1-4 4-1 1-5 4-1 1-5 3-2 2-3 2-4 3-1 1-6 5-5 5-5 4-3 1-3 2-5 2-5 1-6 0-5 0-5-1-6-1-5-2-3-1-2 0-6-2-5-1-5-2-6-2-5-2-3-1-2-1-6-3-1-2-4-2-3-3-2-4-1-1-2-6-1-5 1-5 1-5 2-4 1-2 3-5 1-2 3-3 2-4 1-2 2-5-1-5-2-3-1-3-4-3-3-2-2-2-6-3-5-4-3-1-2-2-3-1-1-3 2-2 2-2 1-1 4-3 5-2 0-1 6-2 5-2 5-1 1 0 5 0 5-1 5 0 6-1 5 0 5 0zM770 736l0-5 5 0 5 0 5 1 6 0 5 1 5 0 6 0 5-1 5 0 6 0 5 1 5 0 6 1 5 1 1 1 4 2 5 3 1 1 2 4-2 6 0 1-5 4-1 0-5 2-5 1-6 0-5 0-5-1-6-1-4-1-1 0-5-2-6 0-5 1-2 1-3 1-6 4-5 3-5 3-5 2 0-2 0-6 0-5 0-5 0-6 0-5zM856 826l4-2 5-1 6 0 5 1 5 1 2 1 4 1 5 1 5 1 6 1 3 1 2 1 5 3 4 2 2 1 4 4 1 2 2 3 1 5-2 6-1 1-5 4-6 3-5 2-5 3-5 3-1 0-3 5 2 5 1 1 5 5 1 0 5 5 5 3 2 2 4 2 5 3 0 1 5 2 5 3 1 0 5 2 5 3 6 4 1 1 4 5 0 1 3 5 2 5-5 0-5 0-6 0-5 0-5 0-6 0-5 0-5 0-6 0-5 0-5 0-6 0-5 0-5 0-6 0-5 0-5 0-6 0-5 0-5 0-6 0-1-5-2-5-2-5 0-1-4-5-1-3-2-2-3-6 0-5 3-5 2-3 2-2 3-4 2-2 3-3 4-2 2-2 3-3 2-5 0-1 0-2 0-3-1-5-3-6-1-3-2-2-3-5-1-2-1-3 1-6 6-4zM1218 826l4-2 6 0 5 1 2 1 1 5-2 6-1 0-5 4-6 0-4-4-1-4 0-2 0-3zM770 847l0-1 5 0 5 0 5 0 3 1 3 4 0 1 0 1-3 5-3 2-3 3-2 2-4 3-1 2-5 4 0-6 0-5 0-5 0-6zM1213 863l4-1 5 0 5 1 1 0 5 2 5 2 4 1 2 1 5 1 5 1 6 0 5-1 5 0 6 0 5 1 5 2 1 1 5 3 3 2 2 3 2 2-2 6-5 4-1 1-5 2-5 3-5 3-5 2-1 1-5 1-5 2-6 0-5 0-5-2-6-1-2-1-3 0-5-2-6-1-5-1-5-1-1 0-5-1-5-2-3-2-2-2-2-3-1-6 0-5 3-5 0-1 5-5 5-3 6-2zM783 895l2-1 6 0 5 0 2 1 3 1 6 2 4 2 1 5-5 4-4 2-2 0-5 0-5 0-2 0-4-2-5-3-1-1-3-5 4-4zM1015 895l5-3 5-1 6-1 5 0 5 1 6 1 5 2 2 1 3 1 6 4 5 5 4 6 1 3 2 2 1 5 0 6 0 5-1 5-2 0-5 0-5 0-6 0-5 0-5 0-6 0-5 0-5 0-6 0-5 0-5 0-6 0-5 0-1 0 1-5 0-3 0-2 1-6 0-5 1-5 1-6 2-4 1-1z"/>
<path fill="#feeba8" fill-rule="evenodd" d="M972 624l5 0 6 0 5-1 5 0 6 0 5 0 5 0 6 0 5 0 5 0 6 0 5 0 5 0 6 0 5 0 5 0 6 0 5 0 5 0 6 0 5 0 5 0 6 0 5 0 5 0 6 0 5 0 5 0 6 0 5 0 5 0 6 0 5 0 5 0 6 0 5 0 5 0 6 0 5 0 5 0 6 0 5 0 5 0 5 0 6 1 5 0 1 0 4 1 6 0 5 1 5 0 4 1 2 0 5 1 5 2 4 2 0 3-1 3 0 2 2 3 1 0 5 2 1 1 4 1 6 2 5 1 5 1 2 0 4 0 5 0 5 1 6 0 5 1 5 1 6 1 2 1 3 2 5 3 0 1 6 5 5 5 5 3 3 2 3 2 4 4 1 0 4 5 1 2 2 3 3 6 1 2 1 3 4 5 1 0 4 3 6 1 5 1 5 0 6 0 5 0 0 6 0 5 0 5 0 6 0 5 0 5 0 6 0 5 0 5 0 6 0 5 0 5 0 5 0 6 0 5 0 1-5 0-6 1-5 1-5 1-6 1-3 0-2 1-5 0-6 1-5 1-5 1-6 0-5 1-1 1-4 1-6 1-5 1-5-1-6-2-5-4-1-2-3-5-1-3-1-2-1-6 0-5 0-5 0-5-1-6-1-5-2-5-3-6-2-2-2-3-3-4-2-1-4-4-2-2-3-2-4-3-1-1-6-3-2-1-3-2-5-2-5-2-1 0-5-1-5-2-6-1-2-1-3-1-5-1-6-2-4-1-1 0-5-3-6-2-5-3-5-2-1-1-4-1-6-1-5-2-5 0-4-1-2 0-5-1-5-1-6-1-5-1-5 0-6 0-5 1-5 0-6 1-5 0-5 1-3 1-3 1-5 1-5 2-3 1-3 2-5 3 0 1-5 4-1 1-5 4-1 1-4 4-3 1-2 3-5 3-1 0-5 4-2 1-3 3-4 2-2 2-5 4-5 4-2 1-4 2-5 3-3 0-2 1-6 0-5 0-5 0-2-1-4 0-5-1-5-2-6-1-2-1-3-1-5-1-6-2-3-1-2-1-5-3-3-2-3-1-4-4-1-1-3-4-2-6 0-1-1-4 1-5 0-1 1-4 3-6 1-2 2-3 3-4 2-1 3-6 1-1 1-4 0-5-1-2-2-4-4-3-1-2-4-3-4-2-1-2-6-3-4-3-1-2 0-1 2-2 3-3 1 0 5-3 5-2 1 0 4-2 6-1 5-1 5-1 6 0zM770 736l0-1 5 0 4 1 1 0 5 2 6 2 2 1 1 5-3 2-2 4-4 2-2 3-3 2-5 3-5 2 0-2 0-5 0-5 0-6 0-5zM807 741l5-2 5-1 6 0 5 0 5 1 6 1 1 1 4 5 0 1-3 5-2 0-6 2-5 0-5-1-6-1-5-4-4-2zM1214 879l3-2 5-1 6 1 5 2 5 3 3 2 2 6-5 2-5 1-5 0-6-1-5-1-3-1-2-4-1-2 1-2zM859 895l1-1 5-2 6-1 5 0 5 1 6 2 1 1 4 2 5 3 1 0 5 3 4 2 1 1 5 3 3 2 3 1 5 3 3 1 2 1 6 3 2 1 3 2 4 4 1 1 4 4 2 4 0 1-6 0-5 0-5 0-6 0-5 0-5 0-6 0-5 0-5 0-6 0-5 0-5 0-6 0-5 0-5 0-6 0-5 0-5 0 0-3-1-2-1-5-1-6-2-5-1-5 1-6 3-5 2-2zM1028 895l3-1 5 0 5 0 2 1 4 1 5 2 4 2 1 1 5 4 1 2 3 4 1 5 1 5-1 6-2 5-2 5-6 0-5 0-5 0-6 0-5 0-5 0-6 0-5 0-4 0-1-2-2-3-1-5-1-6 0-5 1-5 2-6 1-1 2-4 3-2 5-3z"/>
<path fill="#fdd778" fill-rule="evenodd" d="M1130 624l2 0 2 0 3 0 6 0 5 0 5 0 6 0 5 0 5 0 6 1 5 0 5 0 6 0 5 0 5 0 5 0 6 1 5 0 5 1 6 1 5 1 4 1 1 0 6 2 2 3 0 3 1 2 2 3 5 3 6 2 5 2 2 1 3 1 6 0 5 1 5 0 6 1 5 0 5 0 6 1 5 0 3 1 2 1 6 1 5 3 5 5 1 1 5 4 1 1 4 3 4 2 1 1 6 4 1 1 4 3 2 2 3 5 0 1 3 5 2 5 1 1 3 4 2 2 5 3 2 0 4 1 5 1 5 0 6 0 5 0 0 4 0 5 0 5 0 6 0 5 0 5 0 6 0 5 0 5 0 6 0 5 0 5 0 5 0 6 0 4-5 1-3 0-3 0-5 1-5 1-6 1-5 1-5 0-6 1-5 0-2 0-3 1-6 1-5 1-5 0-6 1-5 0-5-1-5-3-1 0-4-5-1-1-2-4-2-6-1-5 0-5 0-5 0-4 0-2-1-5-2-5-3-4-1-2-4-5-5-5 0-1-6-5-5-4-1-1-4-3-5-2-1-1-5-2-5-2-1-1-5-1-5-1-5-2-4-1-2 0-5-2-5-1-6-2-5-2-5-2-3-1-3-2-5-3-2-1-3-1-5-2-6-1-4-1-1 0-5-1-6-1-5-1-5-1-6 0-5-1-5 0-6 0-5 0-5 1-6 1-5 0-5 1-6 1-2 1-3 1-5 2-6 2-5 3-3 3-2 2-4 3-2 1-4 4-1 1-5 4-1 0-5 4-3 2-2 1-5 4-1 0-5 3-3 2-2 2-5 4-6 3-3 2-2 1-5 1-6 1-5 0-5 0-6-1-5-1-3-1-2 0-6-2-5-1-5-2-2 0-4-2-5-2-3-2-2-1-6-4-4-5-1-1-2-5-1-5 0-5 2-5 1-2 2-4 3-4 1-1 5-5 3-6 2-5 0-5-2-6-3-4-2-1-4-4-2-1-3-3-3-2-2-2-2-1 0-3 2-2 4-3 1-1 5-2 6-2 2 0 3-1 5-1 6-1 5-1 5 0 6-1 5 0 5 0 6 0 5-1 5 0 6 0 5 0 5 0 6 0 5 1 5 0 6 0 5 0 5 0 6-1 5 0 5 0 6 0 5 0 5 0 6 0 5 0 5 0 6 0 5 0 5 0 6 0zM770 741l0-1 5 1 5 5-1 6-4 4-2 1-3 2 0-2 0-5 0-6zM1025 900l6-2 5-1 5 1 6 1 1 1 4 2 4 3 1 2 3 4 1 5 0 5-2 6-2 2-3 3-2 2-5 2-6 1-5 0-5-1-6-2-1-2-4-4-1-1-2-6-1-5 1-5 2-6 1 0zM864 905l1-1 6-2 5-1 5 1 6 1 5 2 0 1 5 2 6 3 5 2 5 3 1 0 5 2 5 3 5 3 4 3 2 1 4 4 1 2 2 3-2 0-5 0-6 0-5 0-5 0-6 0-5 0-5 0-6 0-5 0-5 0-6 0-5 0-5 0-6 0-4 0-1-5 0-2 0-3-1-6 0-5 1-5z"/>
<path fill="#fdb945" fill-rule="evenodd" d="M984 627l4 0 5-1 6 0 5 0 5 0 6 0 5 0 5 0 6 0 5 0 5 0 6 0 5 0 5 0 6 0 5 0 5 0 6 0 5 0 5 0 6 0 5 0 5 0 6 0 5 0 5 0 6 0 5 0 5 0 6 0 5 0 5 0 6 0 5 0 5 0 6 0 5 0 5 0 6 0 5 0 5 1 5 0 6 1 5 0 5 1 1 1 5 1 4 1 1 1 2 2 1 3 1 2 1 3 1 0 5 2 0 1 5 2 5 3 1 0 5 1 5 2 5 1 6 0 5 1 5 0 6 0 5 0 5 1 6 0 5 1 5 1 5 2 1 1 5 3 2 2 3 3 3 2 3 2 5 3 0 1 5 3 4 2 2 1 4 4 1 1 3 4 2 5 1 1 2 5 3 5 5 5 1 0 4 2 6 1 5 0 5 0 6 0 5 0 0 3 0 5 0 5 0 6 0 5 0 5 0 6 0 5 0 5 0 6 0 5 0 5 0 5 0 6 0 3-5 0-6 1-5 1-3 0-2 0-6 1-5 1-5 0-6 1-5 0-5 1-6 0-5 1-5 0-6 1-3-1-2 0-5-1-5-4-1 0-3-5-2-4-1-2-1-5 0-5-1-5 0-6-1-5-1-3-1-2-3-6-2-1-3-4-2-2-3-3-2-3-3-3-3-1-4-4-1-1-5-3-2-1-4-2-5-3-2-1-3-1-6-1-5-2-4-1-1 0-6-1-5-2-5-1-3-1-3-1-5-2-4-2-1-1-6-3-3-2-2-1-5-2-5-2-2 0-4-1-5-1-5-1-6 0-5-1-5-1-4 0-2-1-5 0-5 0-6 0-5 0-3 1-2 0-6 1-5 0-5 1-6 1-5 1-2 1-3 1-6 2-3 2-2 1-5 4-1 1-5 4-1 1-4 4-2 1-3 3-4 2-2 1-5 4-2 1-3 2-6 3-5 3-3 2-2 2-6 3 0 1-5 2-5 2-6 1-1 0-4 0-3 0-2 0-6-1-5-1-5-1-6-1-3-1-2-1-5-1-6-2-3-2-2 0-5-4-2-1-4-4-1-1-3-6-1-5 1-5 1-5 3-5 1-1 4-5 1-1 3-4 2-3 2-3 1-5 1-5-2-6-2-3-1-2-4-5-1 0-5-5-3-3-1-3 3-2 1-1 3-2 3-1 4-2 1 0 5-2 4 0 2-1 5-1 5 0 6-1zM1025 905l6-3 5-1 5 1 6 2 3 1 2 3 2 3 1 5-1 5-2 4-2 2-3 2-6 1-5 0-5-1-4-2-2-2-2-4-1-5 0-5zM876 911l5-1 2 1 4 0 5 2 5 2 3 1 3 1 5 2 4 2 1 1 6 3 3 2 2 1 5 4 5 5-5 0-5 0-5 0-6 0-5 0-5 0-6 0-5 0-5 0-6 0-5 0-5 0-5 0 0-5 1-5 0-6 2-5 2-2z"/>
<path fill="#fc9a31" fill-rule="evenodd" d="M977 630l0-1 6 0 5-1 5 0 6 0 5-1 5 0 6 0 5 0 5 0 6 0 5 0 5 0 6 0 5 0 5 0 6 0 5 0 5 0 6 0 5 0 5 0 6 0 5 0 5 0 6 0 5 0 5 0 6 0 5 0 5 0 6 0 5 0 5 0 6 0 5 0 5 0 6 0 5 0 5 0 6 1 5 0 5 0 5 1 6 1 5 1 4 1 1 1 3 2 2 3 1 2 2 3 3 2 2 1 3 2 6 3 5 2 5 1 6 2 5 1 5 1 6 0 5 0 5 0 6 0 5 0 5 1 6 0 5 1 3 1 2 1 6 3 3 2 2 2 4 3 1 1 6 4 5 3 5 3 6 3 1 2 4 4 1 1 3 6 1 3 1 2 3 5 2 3 2 2 3 2 5 2 6 1 5 0 5 0 6 0 5 0 0 1 0 5 0 5 0 6 0 5 0 5 0 6 0 5 0 5 0 6 0 5 0 5 0 5 0 6 0 1-5 1-6 0-5 1-5 1-6 0-5 1-1 0-4 0-6 1-5 0-5 1-6 0-5 1-5 0-6 0-5-1-5-2-6-5-3-6-1-5-1-5 0-5-1-6-1-5-2-5-1-3-2-3-4-4 0-1-5-5-5-5-1-1-5-3-1-2-4-3-4-2-1-1-6-3-3-2-2 0-5-2-6-2-5-1-5-1-6-2-5-1-4-1-1-1-6-2-5-2-1 0-4-3-6-3-5-3-5-2-1 0-4-2-6-1-5-1-5 0-6-1-3 0-2-1-5 0-6-1-5 0-5 0-6 0-5 0-5 1-6 0-1 1-4 0-5 1-6 1-5 1-5 1-2 1-4 2-5 2-2 1-3 3-4 3-2 1-4 4-1 1-5 4-6 4-2 1-3 2-5 3-2 1-4 2-5 3-5 4-3 1-3 2-5 3-2 1-3 1-6 1-5 0-5 0-6-1-5-1-4 0-1-1-6-1-5-1-5-2-3-1-3-1-5-2-2-2-3-2-3-3-3-5 0-1-1-5 0-5 1-4 1-1 3-6 2-1 3-4 2-2 2-3 3-6 2-5 0-5-1-6-1-2-1-3-4-5 0-1-4-4-1-2-1-1 0-3 1-1 1-1 4-2 1-1 4-2 3-1 3 0 5-2zM1035 905l1 0 1 0 4 1 6 3 1 2 1 5-2 5-1 0-5 3-5 0-5-2-1-1-3-5 1-5 3-3zM879 921l2-1 6 0 5 0 5 1 6 2 5 2 3 2 2 1 6 3 1 1 4 4 1 1-1 0-5 0-6 0-5 0-5 0-6 0-5 0-5 0-6 0-5 0-3 0 0-5 2-5 1-3z"/>
<path fill="#f5782a" fill-rule="evenodd" d="M991 630l2-1 6 0 5 0 5 0 6 0 5 0 5 0 6 0 5 0 5 0 6 0 5 0 5 0 6 0 5 0 5 0 6 0 5 0 5 0 6 0 5 0 5 0 6 0 5 0 5 0 6 0 5 0 5 0 6 0 5 0 5 0 6 0 5 0 5 0 6 0 5 0 5 0 6 0 5 0 2 1 3 0 5 1 6 1 5 3 2 3 2 2 1 3 4 3 2 1 5 3 1 1 4 2 6 2 4 1 1 0 5 2 6 1 5 1 5 1 6 0 5 0 5 0 6 0 5 0 5 0 4 0 2 1 5 1 5 2 4 2 2 1 5 4 5 4 2 1 4 3 5 3 5 2 4 3 2 1 4 4 1 2 2 4 2 5 1 4 1 1 3 5 2 2 5 3 3 1 2 0 6 1 5 0 5 0 6 0 5-1 0 5 0 5 0 6 0 5 0 5 0 6 0 5 0 5 0 6 0 5 0 5 0 5 0 6-5 0-6 1-5 0-5 1-6 1-5 0-5 1-6 0-5 0-5 0-6 1-1 0-4 0-5 1-6-1-1 0-4-1-5-3-2-1-4-5 0-1-2-5-1-5 0-5 0-6-1-5-1-2-1-3-3-6-1-1-4-4-2-2-3-3-2-2-4-4-1-1-5-4-1-1-5-4-1 0-4-3-6-3-5-2-5-1-6-2-5-1-5-2-6-1-4-1-1 0-5-2-6-2-3-1-2-1-5-4-2-1-4-2-5-3-1 0-4-2-5-2-6-1-5 0-5-1-6-1-5 0-5-1-6 0-5-1-5 0-6 1-5 0-5 1-6 0-5 1-5 1-6 1-5 1-5 1-6 2-5 2-5 3 0 1-6 4 0 1-5 4-2 1-3 3-4 2-2 1-5 4-2 0-3 3-6 2-1 1-4 2-5 3-6 3-3 2-2 1-5 3-6 1-5 0-5 0-6 0-5-1-5-1-6-2-4-1-1 0-5-2-6-2-2-1-3-2-4-3-1-2-2-4-2-5 1-5 2-5 1-2 2-4 3-3 2-2 3-5 1 0 2-6 2-5 1-5-1-6-1-5-3-5-1-2-1-3-2-3 0-3 3-2 0-1 5-2 1 0 5-2 2-1 3 0 6-1 5-1zM883 932l4-3 5-1 5 1 6 1 5 2 5 4 2 1-2 0-5 0-5 0-6 0-5 0-5 0-6 0-1 0 1-2z"/>
<path fill="#e94e2b" fill-rule="evenodd" d="M986 632l2 0 5-1 6 0 5-1 5 0 6 0 5 0 5 0 6 0 5 0 5 0 6 0 5 0 5 0 6 0 5 0 5 0 6 0 5 0 5 0 6 0 5 0 5 0 6 0 5 0 5 0 6 0 5 0 5 0 6 0 5 0 5 0 6 0 5 1 5 0 6 0 5 0 5 0 6 0 5 0 5 1 1 0 4 2 4 1 2 2 0 1 2 2 2 3 1 1 2 2 3 2 4 3 2 1 5 2 5 2 6 2 5 2 5 1 2 0 4 1 5 1 5 0 6 0 5 0 5 0 6 0 5 0 5 0 6 1 5 1 3 2 2 1 6 3 1 1 4 4 2 1 3 3 6 3 5 2 5 3 1 0 5 4 1 1 4 6 2 5 1 5 2 5 5 6 1 0 5 2 5 1 6 0 5 0 5 0 6-1 5 0 0 3 0 5 0 6 0 5 0 5 0 6 0 5 0 5 0 6 0 5 0 5 0 5 0 4-5 1-6 0-4 1-1 0-5 1-6 0-5 1-5 0-6 0-5 0-5 1-6 0-5 0-5 0-6 0-5-2-3-1-2-2-3-4-2-5-1-2 0-3-1-5 0-6-1-5-1-5-2-3-2-3-3-4-1-1-5-4-1-1-4-4-1-2-4-3-2-2-4-3-3-2-2-2-5-3-2-1-4-1-5-2-5-2-6-1-5-2-5-1-6-1-5-2-5-1-6-2-5-3-4-3-1-1-6-3-2-1-3-2-5-2-5-1-6-2-5 0-5-1-6 0-5-1-5 0-6-1-5 0-5 0-6 0-5 1-5 0-6 1-5 1-5 0-6 1-2 1-3 0-5 1-6 2-5 2-5 3-3 2-3 2-4 4-1 1-5 4-6 4-2 1-3 2-5 3-2 0-4 3-5 2-1 1-4 2-6 3-5 3-5 2-6 2-5 0-5 0-6 0-5-1-3-1-2 0-6-1-5-2-5-2-1 0-5-2-4-3-1-1-3-5-2-5 1-5 2-5 2-3 2-3 3-4 1-1 3-5 2-3 1-3 1-5 1-5 0-6 0-5-2-5-1-5 0-1-1-2 1-2 0-1 3-2 2-1 4-2 1-1 6-1z"/>
<path fill="#d42429" fill-rule="evenodd" d="M1002 632l2 0 5 0 6 0 5 0 5 0 6 0 5 0 5 0 6 0 5 0 5 0 6 0 5 0 5 0 6 0 5 0 5 0 6 0 5 0 5 0 6 0 5 0 5 0 6 0 5 0 5 0 6 0 5 0 5 0 5 0 1 0 5 0 5 1 6 0 5 0 5 0 6 0 5 1 5 1 4 3 1 1 1 1 2 3 3 2 0 1 5 4 1 1 4 2 6 3 5 2 5 2 5 1 1 1 5 1 5 1 6 1 5 1 5 0 6 0 5 0 5-1 6 0 5 0 5 0 6 1 1 1 4 1 5 3 2 1 4 3 3 2 2 2 5 4 6 2 5 3 1 0 4 3 4 2 2 2 2 4 2 5 1 3 1 2 1 5 2 6 1 2 6 2 5 1 5 0 6 0 5 0 5 0 6-1 5 0 0 1 0 5 0 6 0 5 0 5 0 6 0 5 0 5 0 6 0 5 0 5 0 5 0 3-5 0-6 1-5 0-5 1-6 0-5 1-5 0-6 0-5 0-5 1-6 0-5 0-5 0-6-1-2 0-3-2-5-4-3-5-1-5 0-5-1-6 0-5-1-2 0-3-4-6-1-1-3-4-2-2-4-3-2-2-4-4-1-1-4-4-1-1-6-4-5-4-3-2-2-1-6-2-5-2-5-1-6-2-5-1-5-1-1 0-5-2-5-1-5-2-2 0-4-2-5-3-1-1-4-3-4-2-2-1-5-3-3-1-2-1-5-2-6-1-5 0-5-1-6 0-5-1-1 0-4 0-6 0-5 0-5 0-6 0-5 1-5 0-6 1-5 1-5 0-6 1-5 1-5 1-6 1-5 2-4 2-1 1-6 4-1 0-4 4-2 2-3 2-4 3-2 1-5 4-1 0-4 2-6 3-1 0-4 2-5 3-2 1-4 2-5 3-1 0-4 2-6 2-5 0-5 0-6 0-5-1-5-1-6-2-1 0-4-1-5-2-4-2-2-2-3-4-2-4 0-1 0-5 2-5 3-5 1-1 4-5 1-2 2-3 2-6 1-2 1-3 1-5 0-6 0-5 0-5 0-5 1-3 1-3 1 0 3-2 3-2 4-1 1 0 5-1 6-1z"/>
<path fill="#b41a24" fill-rule="evenodd" d="M1001 635l3 0 5-1 6 0 5 0 5 0 6 0 5 0 5 0 6 0 5 0 5 0 6 0 5 0 5 0 6 0 5 0 5 0 6 0 5 0 5 0 6 0 5 0 5 0 6 0 5 0 5 0 6 0 5 0 5 1 5 0 1 0 5 0 5 1 6 0 5 0 5 0 6 0 5 2 3 2 2 2 1 1 3 3 1 1 5 4 1 1 5 3 2 1 3 2 6 2 4 1 1 1 5 1 6 2 5 1 4 1 1 0 6 1 5 0 5 1 6 0 5-1 5 0 6 0 5-1 5 1 6 1 5 2 2 1 3 3 4 2 2 2 4 4 1 0 5 3 5 2 1 0 5 3 5 2 6 6 2 5 1 5 0 5 0 6 1 5 1 1 5 2 6 1 5 0 5-1 6 0 5 0 5-1 6 0 5 0 0 3 0 6 0 5 0 5 0 6 0 5 0 5 0 6 0 5 0 5 0 5 0 1-5 0-6 1-5 1-5 0-6 1-5 0-5 0-6 0-5 0-5 1-6 0-5 0-5 0-6-1-5-3-1-1-4-5 0-1-1-4-1-5 0-6 0-5-1-5-3-5 0-1-5-5-5-5-1 0-5-5-1-1-4-4-1-1-4-4-2-1-4-3-3-3-2 0-5-3-5-2-1 0-5-2-5-1-6-1-4-1-1 0-5-2-6-1-5-2-2 0-3-2-6-2-2-2-3-2-5-3-6-4-2-1-3-2-5-2-5-1-4-1-2 0-5-1-5 0-6 0-5-1-5 0-6 0-5 0-5 0-6 1-5 0-5 1-2 0-4 1-5 0-5 1-6 0-5 1-5 1-6 1-1 1-4 1-5 2-3 2-3 2-4 3-1 1-5 5-6 4-2 1-3 2-5 3-1 0-5 2-5 2-3 1-2 2-6 2-3 2-2 1-5 2-6 2-5 1-5 0-6-1-2 0-3-1-5-1-6-1-5-2-5-3-3-3-3-4 0-1 0-5 0-1 2-4 3-6 1 0 3-5 2-5 3-6 1-5 1-4 1-1 1-6 1-5 1-5 2-5 2-3 2-3 1 0 4-2 1-1 6-1z"/>
<path fill="#8c161b" fill-rule="evenodd" d="M1009 638l0-1 6 0 5-1 5 0 6 0 5 0 5 0 6 0 5 0 5 0 6 0 5 0 5 0 6 1 5 0 5 0 6 0 5 0 5 0 6 0 5 0 5 0 6 0 5 0 5 0 3 1 3 0 5 0 5 1 5 1 1 0 5 1 5 1 6 0 5 0 5 0 2 1 4 0 5 3 5 4 1 1 4 3 4 2 2 1 5 3 4 1 1 1 6 2 5 1 5 2 1 0 5 1 5 1 5 1 6 1 5 0 5 1 6-1 5 0 5 0 6-1 5 0 5 1 6 1 5 3 3 2 2 2 4 4 2 1 5 4 1 0 4 2 6 2 5 1 5 4 2 2 3 5 0 5 0 5-2 6-1 5 1 5 3 2 5 2 5 0 6 0 5-1 5-1 6-1 5 0 2-1 3 0 6 0 5 0 0 6 0 5 0 5 0 6 0 5 0 5 0 6 0 5 0 5 0 4-5 1-6 0-1 0-4 1-5 0-6 1-5 0-5 0-6 0-5 0-5 1-6 0-5 0-5-1-6-1-1-1-4-3-2-2-1-5-1-5 0-6 0-5 0-5-1-2-2-4-4-4-1-1-4-4-2-1-3-3-3-3-3-2-3-3-2-2-4-3-1-2-5-4-1 0-5-3-4-2-1 0-6-2-5-2-5-1-3 0-3-1-5-1-5-1-6-2-3 0-2-1-5-3-4-2-2-1-5-3-1-1-4-4-3-1-3-2-5-3-2-1-3-1-5-1-6-1-5 0-5-1-6 0-5 0-5 0-6 0-5 0-5 1-6 0-5 1-5 1-6 0-5 1-3 0-2 1-6 0-5 1-5 0-6 1-5 1-3 2-2 0-6 3-2 2-3 2-3 3-2 2-5 4-1 0-5 4-2 1-3 2-6 2-2 1-3 1-5 2-5 2-1 1-5 2-5 2-2 1-4 1-5 1-5 0-6-1-5-1-2 0-3-1-6-2-5-2 0-1-5-5 0-5 1-5 3-6 1-1 2-4 2-5 1-3 2-3 2-5 1-5 1-2 1-4 3-5 1-3 2-2 3-5 1 0 3-3 2-1 2-2 3-1z"/>
<path d="M764.2 655.6l5.3 .3 5.3 1.6 5.4 3.9 2.6 5.3 2.7 4 8 2.7-6.7 4 1.4 5.3 3.9 5.3 4 3.9 5.4 4 8 2.4 2.6 .3 2.7-1.4 1.3-3.9 4-4 2.7-4.3 10.6-2.1 8-2.9 8-2.9 10.7-1.1 8-2.6-5.3-1.9 6.6-.8 1.4-4-5.4-2.1 5.4-.5 5.3-2.7 0-2.6 4-2.7-1.4-2.6 2.7-4 2.7-4 13.3-3.4-21.3-1.9-13.3-3.2-18.7-1-21.3 .8-26.7 2.4-26.6 1-5.3 0M865.4 684l5.4-2.4 10.6 .5 8-.2 4 3.4-4 1.9-9.3 2.4-9.3-1.4-1.4-2.4-4-1.8M914.7 724.8l6.7-1.3 10.6-1.6 1.4-4.2-4-1.9-4-4-1.4-2.6 0-4.3-5.3-.5 2.7-2.1-5.3 .3-2.7 2.6 1.3 4 1.4 2.6 5.3 .6 0 3.4-4 .8 0 3.2-1.9 .8 5.9 1.1-6.7 3.1M902.7 720.3l9.9-1 .8-3.5 .5-3.4-4.5-1.4-6.7 3 1.4 2.6-1.4 3.7M1009.3 672l-13.3-2.6-13.3 2.6-13.4 4-7.9 6.7-5.4 5.3-12 5.3-1.3 5.3 2.7 4.7 5.3 .6 6.7-3.5 1.3 1.1 2.7 6.4 2.6 2.6 4-1.3 5.3-2.7 1.4-4.5 5.3-3.4-4-2.7 0-4 9.3-5.3 2.7-3.4 8 .8 0 4-9.3 3.9 0 4 4 2.7 8-1.4 10.6 1.4-5.3 1.3-12 .5 0 3.5-4 1.3 5.3 .8-8 1.9 0 3.9-4 1.6-14.6 1.1-8 0-2.7-2.7 1.4-6.6-6.7 1.3 1.3 5.3 1.4 2.7-5.4 1.3-6.6 2.7-2.7 3.2-4.8 1-4.5 3.7-4-.2-1.4 2.6-7.1 .5 5.8 3 4 3.4-1.3 6.6-6.7 .3-10.6-.8-3.5 1.9 1.3 5.3-1.8 5.8 1.8 4.8 6.2 0 2.6 2.6 9.3-1.8 5.4-5.3-.8-2.1 3.4-4 5.9-2.7 .8-3.4 6.7 .8 5.3-2.7 5.3 0 5.4 5.3 9.3 5.3 1.3 5.3-.8 0 3.5-2.6-1.4-1.9 5.4-1.3-4-2.1-2.7-2.4-5.3-1.6-4-4-.6-3.4 3.8-.8 2.1 1.6 2.7 3.1 5.3 2.2 5.3 3.2 0 3.9 4 4.8 1.9 4.5 3.5 1.1 0-4.3 2.6 0-2.6-3.4-.6-2.9 3.2 1 5.4-2.1 1.3 1.3-.8 2.7 2.1 2.1 1.4 4 2.6 .8 5.3 1 4-.5 5.4 .5 5.3-1.3 0 4.8-2.7 5.3-1.8 4.5-5.4 .3-3.4-.8-5.4 1.3-10.6-1.9-5.3-2.1-8 4-2.7 1.9-9.3-3.2-1.4-2.4-10.6-2.1-2.7-3 2.2-3.1 .5-4-2.7-.8-13.3 1.3-13.3 2.7-5.4 1.8-9.3-1.8-1.3 3.4-9.3 8-.8 5.3-8.6 4.8-5.3 8.4-5.3 9.3 1.8 5.3-.5 8-2.7 3.4 2.2 5.9 4.5 3.9 4.5 5.4 4.8 5.3 10.7 6.9 9.3-2.2 5.3 1.1 8-2.7 9.4-1.3 4 5.3 6.6-.5 3.2 2.6-.5 6.7-1.3 4 2.6 5.3 4.8 5.3 1.3 3.9 3.2 7.5 .8 5.8-3.4 6.6-1.9 8 .6 4 3.9 7.9 2.7 4.8 .8 5.8 1.3 6.7 3.2 2.9 2.2 3.7 1.3 4M1009.3 941.3l2.7-5.3 4-4 .8-5.3 6.6-5.3 .6-5.3-1.9-5.3 5.9-6.7 9.3-5.3 0-9.2-3.2-10.7-1.1-5.3 1.6-3.9 4-7.2 8-7.4 9.3-9.3 4-6.6 5.4-9.3 .5-3.7-8.5 1.8-9.4 1.9-3.4-2.7-.5-3.4-5.4-5.3-4-1.9-2.6-6.6-3.2-2.7-.8-7.9-4-5.3-4-8-3.8-7.7 2.4 4.5 1.9 1.1 1.9-4.5 .2 4 5.4 7.9 5.3 9.3 4.8 6.6 4.5 6.7 2.2 9.2 4.5 .6 9.3-3.2 9.3-4.3 8-5 6.7-4 6.1-9.3-3.4-3.1-5.4-1.9-.5-4.8-3.5 2.4-2.6 2.9-6.4 .6-.3-4.8-1.9 .8-2.1-2.7-2.7-3.9-2.6-5.3 5.3-.6 2.7 4.5 4.5 3.2 5.3 1.9 4.8-1.4 2.2 4 11.1 1.1 13.4-.3 2.1 3.5 4 2.6 3.2 1.3-2.7 .8 3.5 3.8 4.5-.6 1.6-3.4 .6 8.7 1.8 8 3.5 7.9 4 9.3 3.2 3.7 1.8-2.3 2.7-.8 1.6-2.7 1.1-7.2-.3-6.1 5.9-3.4 6.4-6.6 4.8-3 1.3-3.4 4-.5 4.5-.3M1248.1 751.1l0 .9-.8 .5-.8 1.2-1.5 .3-1.2-.3-1.1 1.3 .6 1.1 2.6 1.5 .5 1.1 1 .7 1.1 0 1-1 1.8-.8 1.6 .8 3.1 .4-.3 1.2-1.3-.3-2.9 1-.6 1-2.4 1.3-.9 1-.6 1.3 3.1 1.4 1.5 4.6 1.9 1.1 .4 1.2-1.3 .2 1.6 1.5-.1 .5-2 .6-1.7 1 1.2 .2 1.4-.1 1.6 .6-.3 2.2-1.2 1.2 .2 .9-.4 .6-.8 0-3.1 4-.8 0 .2 1.4-.8 1.7-1.7 1.4-.3 .9-1.4 .1 0 .8-1.8 1.4-3.8 2.4-2.9 .5-1.3 0-.9 1.1-1.3-1.1-.4 1.3-1.1-.8-.3 1.2-2.5 .8-1.5 .7-2.8 .5-.5 1 .7 1-.7 .5-.9 0-.7-1.8 .3-1-.8 0-1.2-.7-1.5 0-1.3 .5-2.2 1.1-1.1 .8-.8 1.3-1.4 .9-.8 2.5 .7 1.2 1.2 1.1 .3 1 2.4 2.4 1.5 1.2 2.5 2.8 .9 2.6 .3 1.7-.2 5.2-.6 1-3.5 1.8-1.1 .8-1.5 0 0 1.5M1254.1 751.1l0 .9-1.5 1 .9 .9-1.1 1.1 1.1-.4 2-1.5 4.3-1.1 3.7 1.1-.9 2.2-.8 1.5 1.6 1 2-.2 1.4 .9 .3 1.1-1.5 .2 1.6 3.2-1 1.1-.1 1.3 .6 1.3 2.3-1 2.8-.5 1.8-.8 .6-1.7 .2-1.9-.8-2.8-2.1-2.7-2.1-1.8-.6-1.3 2.2-.8 4-1.9M1276.6 768.9l-2.2 .5 .6 1.6 1.6 .3M1273.9 783.2l1.1-.8M1269.6 788.8l.3-1.1 .9-.5 .4-.7M1253.3 790.7l1 .5 0 1.2-1.4 4.3-1.1 1.3-.5 1.4-.4-1.1-.9-.7-.4-1.5 0-1.2 2.2-3.4 1.5-.8M1218.9 806.4l2.5-1.6 1.6-.2 2.1 0 0 .9-.9 1.1-.4 1.2-1 .9-1.4 .7-1.1-.1-1.2-.7-.2-2.2M1250.9 808.7l1-.3 1.3 .7 1.1 .2 1-.6-.4 2.8 .9 .8-.3 1.1-2.2 2.6-.3 1.2 1.1 3.3 .9 .3 1.1-.6 1.3 .1 2.3 1.1-1 .3 .5 .9 1.1 .9-.8 .2-1-.5-1.1-1.5-1-.3-.1 1.5-1-1.2-1.4-.9-1.3 .9-1.6-.5-.1-1.5 .9-.5-.7-.6-.3 .9-.6-.5-.9-.4-.3-2.1-.3-1.7 1.4 .3 .4-3-.5-1 .9-2.4M1250.2 822.2l2.4 .2 .8 .8-.1 1.6-1 .7-.7-1-.6-1.6-.8-.7M1260.6 824.6l2.5-.1 .8 1.2 0 1.4 .4 1.3-1.9 .1-.1 .9 .9 1.1-1.3 .3-.1-1.4-.7-.3-.1-1.5 1 0 .4-1-1.2-.7-.6-1.3M1254.3 826.3l1.5 .3 .2 .5 1.5 .1 .2 1.4 .9 .3 .1 .8 1.1-1.2 0 2.3 .8 .9-3.7 0-.1-.7-.1-.8-2.4-.4 .3-1.9-.3-1.6M1245.7 831.7l.4-.7 1.2-1.6 .5-1.5 .5 2-1.5 1.1-.3 .7M1168.7 799.6l.9 .4 1.1-1.1 2.2-1.5 1 1.2 .9 3.1 2.8 3.2 .9 0 .7 1.1-.6 .6 .7 1.2 1 0 .8 2.5 .2 1.8-.8 3 2 .9 1.3 0 .9-.9 2.4-1.4 .5-.9 1.1 .7 .8 1.1 .9 4.3 .8 2.6 .8 1.6 .6 1.5-.8 1.6 .6 1.4 0 1-.6 1 0 2.1M1193.5 831.7l.4-2.4 .8-1.3 .9-2.3 .2-3.2 1.1-.6 1.4 .5 0 1.5 2.3 .3 2.3 1.8 1.6 2.6 1.1 1.1 1.5 0 .8 .8 1.5 .6 .3 .6M1177 822.3l-.7 4.2M1191.8 831.2l-.5 4.5 1.9 2.1 3.4 3.5 .3 5.3 2.4 3.7 5.9 3.7 1.8 0-2.1-5.6-.3-3.4-2.9-3.7-3.2-1.9-2.1-2.1-.6-3.4-2.1-.8-.2-1.9M1213.6 831.2l.4 1.3-4.8 2.4-.6-3.2 .8-.6M1142 831.7l3.7 3.5 1.6 4-2.1 2.1-2.4 .5-1.1-5.3 .3-4.8M1183.3 842.9l5.9 1 7.4 7.2 8.6 9.3 6.6 5.3-.5 7.4-3.5 0-6.1-4.8-5.1-7.9-4.2-7.2-4.6-4.8-4.5-5.5M1209.7 875.8l3.5-2.2 5.3 1.9 6.1-.8 5.1 1.3 4.8 2.4 0 2.4-9.4-1.1-7.9-1.3-6.7-2.4M1219.8 853.7l5.3-.2 5.4-4.3 6.6-4.7 4-5.3 5.4 4.7-3.2 4.5 .5 6.4-1.3 5-2.7 3.2-1.3 5.3-4 0-4-2.1-4 .3-4-4.8-2.7-4 0-4M1249.1 855.6l2.7-1.3 5.3 .8 5.3-1.9-1.3 3.5-8-.3-2.6 3.4 2.6 .6 4.6-.6-3.2 3.2 1.3 3.5-2.7-1.3-1.3-.3 1.3 4.8-2.9 2.6-2.4 0 0-5.3-1.9-2.1 2.4-6.6 .8-2.7M1278.4 859.8l8 0 2.7 6.7 8-4.3 8 2.4 10.6 4.5 6.7 4.5-2.7 2.2 4 3.1 6.7 6.1-6.7-.5-5.3-3.4-5.3-3-2.7 4-5.3-.2-5.3-3-2.7 .8 1.3-3.4-1.8-4.5-7.5-2.4-5.3-1.1-.6-3.1 3.2-.8-5.3-.8-2.7-3.8M1254.5 839.2l4-4.3 5.3-3.2 2.6 6.1-1.3 3.2-1.6 1.6-3.7-2.1 0-2.7-5.3 1.4M1237.1 879.7l4 .3 5.4 .3M1248.6 880.3l8.5-.3M1258.5 885l3.9-2.6 5.4-2.4M1269.1 853l1.3 2.6-.5 3.5M1265.1 866.2l2.7 .8M1270.4 865.7l6.7 .8M1325.1 872.3l5.3 1.9 4-5.1M1341.6 872.3l3.4 3.5M1347.7 877.1l6.7 2.6M1355.2 882.4l3.2 2.6M1366.4 911.3l7.4 5.3M1373.6 897.5l1.6 3.5M1401.8 904.4l3.5 1.1M1235.8 941.3l-1.3-8-3.2-6.6 1-9.3 7.5-5.3 6.7-1.3 6.6-2.7 2.2-4.8 3.2 0 3.9-5 4.8-3.4 3.8 2.1 3.4 .5 1.4-5.3 2.6-2.1 4.3-2.1 6.4 2.1 4.8 0-3.5 6.9 4 2.6 6.2 4.3 3.9 .2 1.9-6.6 .8-6.6 1.9-4.5 2.6 9 4.8 2.1 2.4 10.1 6.2 3.7 6.1 6.9 5.3 6.6 1.4 5.9 .5 3.9-1.3 6.7M1275.8 775l4-.8 1.3-4-2.7-2.1-2.6 .8-.8 2.1 .8 4M1278.4 767l4-.3 6.7-.8 4.8 .3 5.3-.5 3.2-1.3 2.1-2.2 .6-6.1 2.6-3.1-1.3-5.1-3.5 1.6-1 4.8-3.5 4.5-4 .8-2.6 3.2-8 .8-5.4 2.9 0 .5M1281.6 769.1l5.6-2.4 .6 1.6-4 1.9-2.2-1.1M1302.9 747.4l3.5-2.4 4.5 1.3 6.2-3.4-3.2-1.9-6.2-4-.8 5.9-3.7 .2-.3 4.3M1307.7 735.7l4-2.1-1.3-5.8 4 0-3.2-8-.8-6.1-2.7 2.1 0 9.3 0 10.6M1318.4 739.7l5.3-2.7M1329.1 735.2l5.3-2.7M1338.4 728.3l5.3-4M1275 749.5l2.6-4 6.2-1.3 6.6-4.5 6.7-6.6 5.8-6.7 .8-5.3 2.2-4-4.8-3.1-6.7 .5-4-1.9 6.7-6.1 6.6-3.9 6.7-2.2 13.3-.2 10.7 1 8-1.3-1.3-4 6.6-1.8 8-.3 8-1.9-8 5.1-10.7 9.5-1.3 5.3 3.2 10.6 4.8-5.3 4-3.9 5.3-1.4 0-3.9 3.5-4-2.1-4.8 6.6-.5 13.4 0 6.6-2.7 12-4 6.7 0-4-5.3 10.6-2.6M1414.3 674.7l-5.3 0-10.7-2.1-15.9-.6 0 2.7-13.4-1.3-13.3-.6-13.3-3.4-13.3-1.3-13.4-2.7-13.3 0-13.3 2.7-13.3 1.3-5.4-5.3-13.3 0-13.3-1.3-12-.6-9.3-.8 8-5.3-21.3-4.5-13.4 3.2-13.3 1.3-18.6 1.4-8 4.5-12 .8 0 3.9-14.7-1.8-5.3 3.2-1.3 6.6-1.4-10.1-8 .8-6.6 4 1.3 5.3 5.3 1.9-13.3-2.7-10.7 1.3-13.3 .8-2.6 .8-16 1.4-10.7-2.2 0 6.1-8-.8-2.6 4.8-8 1.9-5.4-1.4-1.3-3.9 14.7-.3 2.6-4.2-10.6-3.5-10.7-1.1-8-1.6M1067.9 668.9l13.4 1.6-4-3.8 4-5.3 10.6-3.9 20-3.5-4-.5-18.7 1.8-13.3 4.8-6.6 5.3-1.4 3.5M958.7 646.9l8 3.9 5.3 3.2 8-4.5 8 .5-5.3-3.7 18.6-.8-18.6-1.3-24 2.7M1185.2 648.2l10.6 2.1 10.7-2.1-10.7-4-10.6 4M1054.6 644.7l13.3-1M1075.9 644.2l13.3-1.3M1294.4 658l8 2.1 10.7-1.8-10.7-2.2-8 1.9M1318.4 658l10.7 .8M1403.7 669.4l10.6-.8M1054.6 739.7l5.3-5.3 6.7-.8 4 3.4-5.3 2.7-1.9 4 6.7 1.3-.8 4 4 2.6-.6 7.2-6.1 1.3-6.7-2.4 .8-4.7 1.4-2.7-3.5-4-2.7-2.6-1.3-4M1006.6 748.4l6.7 0 9.3-2.1 8 2.7 9.4-1.4-1.4-3.9-6.6-4-4-1.9 5.3-4.7-10.7 2.6-4 4-1.3-4-6.7-1.3-4.5 5.3-2.1 5.3 2.6 3.4M1086.6 737l6.6-2.6-1.3 6.6-5.3 0 0-4M1206.5 721.1l5.3-2.1 6.7-3.2 4-5.8-2.7 .5-5.3 6.1-8 4.5M1126.6 734.4l5.3-.8 8 .8M1060.7 889.6l3.2 9.2-2.6 5.3-4 12-2.7 7.9-5.3 1.4-3.5-5.3-.5-5.3 2.6-4.6-1.3-7.4 5.3-3.2 5.4-6.1 3.4-3.9M764.2 832.5l5.3 2.7 8 6.6 8 .5 6.6 3.5 4 9.3 0 2.6 5.4 1.9 8 2.1 2.6 3.5 6.7 .2 8 2.1 8.5 4 1.3 6.1-1.3 4.8-4.5 5.8-4 4-1.3 6.6-1.4 6.7-3.4 9.3-3.2 3.9-8 1.4-5.4 2.9-4 3.7-.5 6.1-3.5 4.5-2.1 4M764.2 707.9l5.3 3.1 6.7 3.5 4.5 4.8-5.9 1.8-10.6 3.5M771.4 730.9l8.8-9.8 1.3 4.5 6.7 3.5 .8 4-3.5 .5-5.3-.5-8.8-2.2M1015.4 765.7l5.9-2.4M992.3 764.1l6.9 .5M962.7 756.9l8-.5-1.4 3.7-6.6-3.2M951.5 753.7l3.7 0-.5-5-3.2 .8 0 4.2M952.6 747.6l1.8-3.9M1071.4 824.3l3.2 .3M886.7 782.9l1.9 .6M881.4 781.9l.8-.3M853.4 755.3l4-.2M861.4 757.5l1.4 0M909.9 692.7l2.2 1.6M905.4 669.1l2.7 .6M1076.7 913.7l1.4 .3M1082.3 911.3l.8 .5M1033.8 873.1l.8 1.6M1387.7 717.4l5.3 1.1M1399.7 719.8l4 .5M953.9 856.9l.8 1.1M864.6 813.2l2.2 4.7" fill="none" stroke="#000" stroke-width="1.4" stroke-linejoin="round"/>
<path d="M1282.2 686.6h0M1290.9 694.9h0M1307.8 694.9h0M1299.1 703.5h0M1163.7 737.3h0M1180.6 737.3h0M1214.5 737.3h0M1121.6 745.6h0M1138.5 745.6h0M1155.5 745.6h0M1172.4 745.6h0M1189.3 745.6h0M1206.2 745.6h0M1223.2 745.6h0M1240.1 745.6h0M1112.9 754.2h0M1129.8 754.2h0M1146.8 754.2h0M1163.7 754.2h0M1180.6 754.2h0M1197.6 754.2h0M1214.5 754.2h0M1231.4 754.2h0M1248.3 754.2h0M1349.9 754.2h0M1366.9 754.2h0M1383.8 754.2h0M1400.7 754.2h0M1121.6 762.5h0M1138.5 762.5h0M1155.5 762.5h0M1172.4 762.5h0M1189.3 762.5h0M1206.2 762.5h0M1223.2 762.5h0M1240.1 762.5h0M1257.0 762.5h0M1341.7 762.5h0M1358.6 762.5h0M1375.5 762.5h0M1392.5 762.5h0M1146.8 771.1h0M1163.7 771.1h0M1180.6 771.1h0M1197.6 771.1h0M1214.5 771.1h0M1231.4 771.1h0M1248.3 771.1h0M1265.3 771.1h0M1333.0 771.1h0M1349.9 771.1h0M1366.9 771.1h0M1383.8 771.1h0M1400.7 771.1h0M1172.4 779.4h0M1189.3 779.4h0M1324.8 779.4h0M1341.7 779.4h0M1358.6 779.4h0M1375.5 779.4h0M1392.5 779.4h0M1214.5 788.0h0M1231.4 788.0h0M1333.0 788.0h0M1349.9 788.0h0M1366.9 788.0h0M1307.8 830.1h0M875.9 838.7h0M892.8 838.7h0M1079.0 838.7h0M1096.0 838.7h0M1316.1 838.7h0M1333.0 838.7h0M783.0 847.0h0M799.9 847.0h0M884.6 847.0h0M901.5 847.0h0M918.4 847.0h0M935.4 847.0h0M1324.8 847.0h0M1341.7 847.0h0M1358.6 847.0h0M774.3 855.6h0M791.2 855.6h0M875.9 855.6h0M892.8 855.6h0M909.7 855.6h0M943.6 855.6h0M1333.0 855.6h0M1349.9 855.6h0M783.0 863.9h0M867.6 863.9h0M884.6 863.9h0M901.5 863.9h0M918.4 863.9h0M935.4 863.9h0M952.3 863.9h0M969.2 863.9h0M986.2 863.9h0M1341.7 863.9h0M774.3 872.5h0M791.2 872.5h0M842.0 872.5h0M859.0 872.5h0M875.9 872.5h0M892.8 872.5h0M909.7 872.5h0M943.6 872.5h0M977.5 872.5h0M850.7 880.8h0M867.6 880.8h0M884.6 880.8h0M901.5 880.8h0M1087.7 880.8h0M1189.3 880.8h0M1206.2 880.8h0M1223.2 880.8h0M859.0 889.4h0M875.9 889.4h0M892.8 889.4h0M1197.6 889.4h0M1214.5 889.4h0M1231.4 889.4h0M1265.3 889.4h0M850.7 897.7h0M867.6 897.7h0M884.6 897.7h0M859.0 906.3h0M875.9 906.3h0M892.8 906.3h0M867.6 914.6h0M884.6 914.6h0M901.5 914.6h0M875.9 923.2h0M892.8 923.2h0M909.7 923.2h0M1197.6 923.2h0M1214.5 923.2h0M1316.1 923.2h0M1333.0 923.2h0M1349.9 923.2h0M1366.9 923.2h0M884.6 931.5h0M901.5 931.5h0M918.4 931.5h0M935.4 931.5h0M1189.3 931.5h0M1206.2 931.5h0M1223.2 931.5h0M1324.8 931.5h0M1341.7 931.5h0M1358.6 931.5h0M1375.5 931.5h0" stroke="#000" stroke-width="3.70" stroke-linecap="round" fill="none"/>
<rect x="1195.8" y="780.8" width="61.3" height="29.2" fill="none" stroke="#ff0000" stroke-width="4.6" stroke-dasharray="4.6 5.9" stroke-linecap="round"/>
</g>
<path d="M796.1 938.3v3.3M796.1 618.0v-3.3M822.8 938.3v3.3M822.8 618.0v-3.3M876.1 938.3v3.3M876.1 618.0v-3.3M902.7 938.3v3.3M902.7 618.0v-3.3M956.0 938.3v3.3M956.0 618.0v-3.3M982.7 938.3v3.3M982.7 618.0v-3.3M1036.0 938.3v3.3M1036.0 618.0v-3.3M1062.6 938.3v3.3M1062.6 618.0v-3.3M1115.9 938.3v3.3M1115.9 618.0v-3.3M1142.5 938.3v3.3M1142.5 618.0v-3.3M1195.8 938.3v3.3M1195.8 618.0v-3.3M1222.5 938.3v3.3M1222.5 618.0v-3.3M1275.8 938.3v3.3M1275.8 618.0v-3.3M1302.4 938.3v3.3M1302.4 618.0v-3.3M1355.7 938.3v3.3M1355.7 618.0v-3.3M1382.4 938.3v3.3M1382.4 618.0v-3.3M768.5 910.8h-3.3M1410.0 910.8h3.3M768.5 884.2h-3.3M1410.0 884.2h3.3M768.5 831.2h-3.3M1410.0 831.2h3.3M768.5 804.7h-3.3M1410.0 804.7h3.3M768.5 751.6h-3.3M1410.0 751.6h3.3M768.5 725.1h-3.3M1410.0 725.1h3.3M768.5 672.0h-3.3M1410.0 672.0h3.3M768.5 645.5h-3.3M1410.0 645.5h3.3" stroke="#000" stroke-width="1.5" fill="none"/>
<path d="M769.5 938.3v4.6M769.5 618.0v-4.6M849.4 938.3v4.6M849.4 618.0v-4.6M929.4 938.3v4.6M929.4 618.0v-4.6M1009.3 938.3v4.6M1009.3 618.0v-4.6M1089.2 938.3v4.6M1089.2 618.0v-4.6M1169.2 938.3v4.6M1169.2 618.0v-4.6M1249.1 938.3v4.6M1249.1 618.0v-4.6M1329.1 938.3v4.6M1329.1 618.0v-4.6M1409.0 938.3v4.6M1409.0 618.0v-4.6M768.5 937.3h-4.6M1410.0 937.3h4.6M768.5 857.7h-4.6M1410.0 857.7h4.6M768.5 778.1h-4.6M1410.0 778.1h4.6M768.5 698.6h-4.6M1410.0 698.6h4.6M768.5 619.0h-4.6M1410.0 619.0h4.6" stroke="#000" stroke-width="2" fill="none"/>
<rect x="769.5" y="619.0" width="639.5" height="318.3" fill="none" stroke="#000" stroke-width="2.7"/>
<text x="769.5" y="967.3" text-anchor="middle" font-size="21.2">60W</text>
<text x="849.4" y="967.3" text-anchor="middle" font-size="21.2">30W</text>
<text x="929.4" y="967.3" text-anchor="middle" font-size="21.2">0</text>
<text x="1009.3" y="967.3" text-anchor="middle" font-size="21.2">30E</text>
<text x="1089.2" y="967.3" text-anchor="middle" font-size="21.2">60E</text>
<text x="1169.2" y="967.3" text-anchor="middle" font-size="21.2">90E</text>
<text x="1249.1" y="967.3" text-anchor="middle" font-size="21.2">120E</text>
<text x="1329.1" y="967.3" text-anchor="middle" font-size="21.2">150E</text>
<text x="1409.0" y="967.3" text-anchor="middle" font-size="21.2">180</text>
<text x="758.0" y="945.1" text-anchor="end" font-size="21.2">30S</text>
<text x="758.0" y="865.5" text-anchor="end" font-size="21.2">0</text>
<text x="758.0" y="785.9" text-anchor="end" font-size="21.2">30N</text>
<text x="758.0" y="706.4" text-anchor="end" font-size="21.2">60N</text>
<text x="758.0" y="626.8" text-anchor="end" font-size="21.2">90N</text>
<text x="768.5" y="597.5" font-size="21.6">(d) hgt</text>

</g>
<g id="panel-e">
<g clip-path="url(#cpe)">
<rect x="78.5" y="1075.3" width="579.9" height="435.1" fill="#1e2d62"/>
<path fill="#243f83" fill-rule="evenodd" d="M78 1062l37 0 36 0 36 0 36 0 37 0 36 0 36 0 36 0 37 0 36 0 36 0 36 0 37 0 36 0 36 0 36 0 0 27 0 28 0 27 0 28 0 28 0 21-36 2-36 2-26 2-10 2-37 12-36 8-20 6 20 8 36 6 37 3 36 0 36 2 36 1 0 8 0 27 0 28 0 27 0 28 0 28 0 27 0 28 0 27 0 28-36 0-36 0-36 0-37 0-36 0-36 0-36 0-37 0-36 0-36 0-36 0-37 0-36 0-36 0-36 0-37 0 0-28 0-27 0-28 0-27 0-28 0-28 0-27 0-28 0-20 37-2 36-5 1 0-1-1-36-2-37 1 0-26 0-28 0-27 0-28 0-28 0-27 0-28zM296 1224l-2 3 2 12 3-12z"/>
<path fill="#2a5ba8" fill-rule="evenodd" d="M78 1062l37 0 36 0 36 0 36 0 37 0 36 0 36 0 36 0 37 0 36 0 36 0 36 0 37 0 36 0 36 0 36 0 0 27 0 28 0 27 0 28 0 28 0 15-36 3-36 3-36 3-16 3-21 7-36 9-36 10-3 2 3 2 36 14 36 6 37 2 36 0 36 2 36 2 0 27 0 28 0 27 0 28 0 28 0 27 0 28 0 27 0 28-36 0-36 0-36 0-37 0-36 0-36 0-36 0-37 0-36 0-36 0-36 0-37 0-36 0-36 0-36 0-37 0 0-28 0-27 0-28 0-27 0-28 0-28 0-27 0-28 0-12 37-5 36-6 8-4-8-5-36-1-37 2 0-24 0-28 0-27 0-28 0-28 0-27 0-28zM296 1218l-5 9 4 28 1 2 5-2 4-28z"/>
<path fill="#4482c3" fill-rule="evenodd" d="M78 1062l37 0 36 0 36 0 36 0 37 0 36 0 36 0 36 0 37 0 36 0 36 0 36 0 37 0 36 0 36 0 36 0 0 27 0 28 0 27 0 28 0 28 0 9-36 4-36 4-36 3-37 7-36 9-36 10-20 9 20 11 36 13 26 4 10 1 37 1 36 0 36 2 36 1 0 22 0 28 0 27 0 28 0 28 0 27 0 28 0 27 0 28-36 0-36 0-36 0-37 0-36 0-36 0-36 0-37 0-36 0-36 0-36 0-37 0-36 0-36 0-36 0-37 0 0-28 0-27 0-28 0-27 0-28 0-28 0-27 0-28 0-4 37-8 36-7 15-8-15-9-36 1-37 2 0-22 0-28 0-27 0-28 0-28 0-27 0-28zM296 1212l-8 15 4 28 4 11 20-11-5-28z"/>
<path fill="#5fa5d7" fill-rule="evenodd" d="M78 1062l37 0 36 0 36 0 36 0 37 0 36 0 36 0 36 0 37 0 36 0 36 0 36 0 37 0 36 0 36 0 36 0 0 27 0 28 0 27 0 28 0 28 0 3-36 6-36 3-36 5-37 6-24 4-12 3-36 8-36 16-1 1 1 1 36 19 22 8 14 3 36 4 37 1 36 0 36 1 36 2 0 16 0 28 0 27 0 28 0 28 0 27 0 28 0 27 0 28-36 0-36 0-36 0-37 0-36 0-36 0-36 0-37 0-36 0-36 0-36 0-37 0-36 0-36 0-36 0-37 0 0-28 0-27 0-28 0-27 0-28 0-28 0-27 0-22 10-6 27-7 36-8 22-12-22-13-36 2-37 3 0-20 0-28 0-27 0-28 0-28 0-27 0-28zM296 1205l-11 22 4 28 7 20 36-20-15-28z"/>
<path fill="#7fc0e8" fill-rule="evenodd" d="M78 1062l37 0 36 0 36 0 36 0 37 0 36 0 36 0 36 0 37 0 36 0 36 0 36 0 37 0 36 0 36 0 36 0 0 27 0 28 0 27 0 28 0 23-12 5-24 4-36 4-36 5-37 6-36 6-18 2-18 4-36 11-19 13 19 14 30 14 6 1 36 8 36 3 37 1 36 0 36 2 36 2 0 10 0 28 0 27 0 28 0 28 0 27 0 28 0 27 0 28-36 0-36 0-36 0-37 0-36 0-36 0-36 0-37 0-36 0-36 0-36 0-37 0-36 0-36 0-36 0-37 0 0-28 0-27 0-28 0-27 0-28 0-28 0-27 0-10 28-18 9-2 36-9 29-16 7-24 2-4-2-1-2 1-34 11-36 3-37 4 0-18 0-28 0-27 0-28 0-28 0-27 0-28zM296 1199l-4 1-10 27 4 28 9 28 1 1 3-1 33-14 18-14-18-11-9-17-26-27z"/>
<path fill="#a1daf4" fill-rule="evenodd" d="M78 1062l37 0 36 0 36 0 36 0 37 0 36 0 36 0 36 0 37 0 36 0 36 0 36 0 37 0 36 0 36 0 36 0 0 27 0 28 0 27 0 28 0 14-36 14-36 4-36 5-37 7-36 4-36 5-26 2-10 3-37 25-36-22-3-6-24-27-9-7-33-21-3-3-5 3 3 28 2 0 19 27 4 28 5 28 8 16 36-16 36-28 37 28 36 10 36 6 36 2 37 1 36 0 36 1 36 3 0 4 0 28 0 27 0 28 0 28 0 27 0 28 0 27 0 28-36 0-36 0-36 0-37 0-36 0-36 0-36 0-37 0-36 0-36 0-36 0-37 0-36 0-36 0-36 0-37 0 0-28 0-27 0-28 0-27 0-28 0-28 0-23 4-4 33-22 8-6 28-7 36-20 9-28-9-7-13 7-23 8-36 4-37 4 0-16 0-28 0-27 0-28 0-28 0-27 0-28z"/>
<path fill="#c3e7f7" fill-rule="evenodd" d="M78 1062l37 0 36 0 36 0 36 0 37 0 36 0 36 0 36 0 37 0 36 0 36 0 36 0 37 0 36 0 36 0 36 0 0 27 0 28 0 27 0 28 0 5-36 15-36 8-36 5-37 7-36 4-36 3-36 3-37 4-36-4-18-22-18-14-23-14-13-12-21 12 9 28 12 5 15 22 6 28 0 28 5 27 10 9 36-4 18-5 18-27 37 15 36 3 36 4 36 2 37 0 36 0 36 2 18 1 18 4 0 24 0 27 0 28 0 28 0 27 0 28 0 27 0 28-36 0-36 0-36 0-37 0-36 0-36 0-36 0-37 0-36 0-36 0-36 0-37 0-36 0-36 0-36 0-37 0 0-28 0-27 0-28 0-27 0-28 0-28 0-4 20-23 17-11 23-17 13-3 36-15 12-9 4-28-16-12-25 12-11 4-36 5-37 5 0-14 0-28 0-27 0-28 0-28 0-27 0-28z"/>
<path fill="#e0f2fa" fill-rule="evenodd" d="M78 1062l37 0 36 0 36 0 36 0 37 0 36 0 36 0 36 0 37 0 36 0 36 0 36 0 37 0 36 0 36 0 36 0 0 27 0 28 0 27 0 23-7 5-29 13-36 7-24 8-12 1-37 7-36 3-36 3-36 2-37 1-36-5-10-12-26-20-12-8-24-22-37 22 15 28 22 9 12 18 6 28-4 28-14 25-5 2 5 8 20 20 16 9 36-9 36-13 37-11 36-4 36 4 36 4 37 1 36 0 36 6 36 9 0 4 0 27 0 28 0 28 0 27 0 28 0 27 0 28-36 0-36 0-36 0-37 0-36 0-36 0-36 0-37 0-36 0-36 0-36 0-37 0-36 0-36 0-36 0-37 0 0-28 0-27 0-28 0-27 0-28 0-11 19-17 18-27 36-23 7-5 29-8 24-19-1-28-23-17-36 17-36 6-37 6 0-12 0-28 0-27 0-28 0-28 0-27 0-28z"/>
<path fill="#f2f9fc" fill-rule="evenodd" d="M78 1062l37 0 36 0 36 0 36 0 37 0 36 0 36 0 36 0 37 0 36 0 36 0 36 0 37 0 29 0 7 27 36-9 36-11 0 20 0 28 0 27 0 12-23 16-13 6-36 7-36 11-12 4-25 4-36 3-36 2-36 0-37-1-36-6-1-2-35-27-2-1-27-28-7-5-15 5-22 11-24 17 24 20 5 8 32 14 9 13 6 28-8 28-7 13-26 14 12 28-23 24-4 3 4 4 37 6 36-5 10-5 26-9 36-12 22-6 15-4 36-4 36 2 36 3 37 1 36 2 36 14 36 1 0 12 0 28 0 28 0 27 0 28 0 27 0 28-36 0-36 0-36 0-37 0-36 0-36 0-36 0-37 0-18 0-14-28-4-1-4 1-14 28-18 0-36 0-37 0-36 0-36 0-36 0-37 0 0-28 0-27 0-28 0-27 0-5 26-23 11-14 10-14 26-23 5-4 31-22 11-6 25-27-6-28-30-22-36 18-15 4-21 4-37 6 0-10 0-28 0-27 0-28 0-28 0-27 0-28z"/>
<path fill="#ffffff" fill-rule="evenodd" d="M78 1062l37 0 36 0 36 0 36 0 37 0 36 0 36 0 36 0 27 0 10 19 36 4 27-23 9 0 18 0 18 7 37 4 8 16 28 19 23 9 13 12 36 6 0 9 0 1-36 18-7 9-29 6-36 10-34 12-3 0-36 2-36 1-36 0-31-3-6-1-36-5-29-22-7-17-10-11-26-20-37 9-32 11-4 3-3-3-27-27-6-4-7 4-29 24-8 3 8 4 36 24 33 28 3 27-36 20-29 8-7 1-37 7 0-8 0-28 0-27 0-28 0-28 0-27 0-28zM187 1227l36-19 37 10 6 9 6 28-12 28 0 1-4-1-33-28zM368 1365l37-7 36-4 36 1 36 1 37 2 21 7 15 4 36 5 36-5 0 24 0 28 0 27 0 28 0 27 0 28-36 0-36 0-36 0-37 0-36 0-36 0-36 0-33 0-2-28 2-27-4-8-12 8-24 7-36 14-8 6-10 28-18 0-37 0-36 0-36 0-36 0-37 0 0-28 0-27 31-28 6-7 21-20 15-11 36-8 36 3 37-2 36-6 6-4 30-14z"/>
<path fill="#ffffff" fill-rule="evenodd" d="M296 1062l36 0 36 0 6 0 4 27 27 10 36-1 36-4 36 3 37 11 13 9 23 19 9 8-9 14-5 14-31 9-37 11-36 4-36 1-36-1-37-4-36-5-20-15-11-28-5-19-10-8 10-28zM78 1200l0-17 37-8 36 12 14 13 15 27-29 16-36 11-5 1-32 7 0-7 0-28zM215 1227l8-4 37 0 3 4 6 28-9 21-28-21-9-21zM405 1393l36-13 36-4 36 2 37 3 36 6 36 0 36-5 0 11 0 28 0 27 0 28 0 27 0 22-36 6-36 0-36 0-37 0-36 0-36 0-36 0-25 0 0-28 10-27 15-22 5-6-5-14-24-13zM135 1476l16-12 36-2 36 14 0 27 0 28-36 0-36 0-36 0-37 0 19-28 18-11z"/>
<path fill="#fef8e2" fill-rule="evenodd" d="M322 1117l10-9 36-3 37 6 36-2 36-3 36 8 8 3 29 19 10 8-5 28-5 2-37 10-36 5-36 1-36-1-37-4-36-5-11-8-10-28zM80 1200l35-20 34 20 2 1 22 26-22 12-36 13-14 3-23 5 0-5 0-28 0-26zM241 1255l19-28 6 28-6 15zM441 1421l36-23 36 5 37 7 36 11 36-14 36-12 0 26 0 27 0 28 0 27 0 11-36 2-36-13-24-27-6-28-6-14-37 14-13 28 0 27 1 28-24 0-36 0-36 0-17 0 2-28 15-24 5-3 26-28zM140 1503l11-8 11 8 18 28-29 0-22 0z"/>
<path fill="#feeba8" fill-rule="evenodd" d="M321 1144l11-16 36-4 37 0 36-4 36-1 36 14 17 11-3 28-14 4-36 6-36 0-36-1-37-2-36-6-2-1zM89 1200l26-15 26 15 10 10 14 17-14 8-36 14-23 6-14 3 0-3 0-28 0-21zM249 1255l11-15 3 15-3 8zM640 1421l18-9 0 9 0 27 0 28 0 27-36-1-34-26-2-11-7-17 7-6 36-16zM434 1476l7-8 27 8 8 27 1 28-36 0-36 0-10 0 5-28 5-8z"/>
<path fill="#fdd778" fill-rule="evenodd" d="M332 1144l36-5 37 0 36-4 36 1 20 8-4 28-16 3-36 0-36-1-37-2-36-26zM97 1200l18-10 17 10 19 19 7 8-7 4-36 16-32 8-4 1-1-1 0-28 0-16zM258 1255l2-3 0 3 0 1zM599 1448l23-12 36-10 0 22 0 28 0 19-36-2-22-17zM416 1503l25-16 18 16 6 28-24 0-36 0-2 0 2-8z"/>
<path fill="#fdb945" fill-rule="evenodd" d="M106 1200l9-5 8 5 28 27-36 18-37 4 0-22 0-10zM618 1448l4-2 36-11 0 13 0 28 0 12-36-4-11-8zM439 1503l2-1 2 1 10 28-12 0-20 0z"/>
<path fill="#fc9a31" fill-rule="evenodd" d="M78 1227l0-5 37-22 31 27-31 16-37-5zM649 1448l9-3 0 3 0 28 0 4-36-4z"/>
<path fill="#f5782a" fill-rule="evenodd" d="M78 1227l37-23 27 23-27 14z"/>
<path fill="#e94e2b" fill-rule="evenodd" d="M85 1227l30-19 22 19-22 11z"/>
<path fill="#d42429" fill-rule="evenodd" d="M91 1227l24-16 18 16-18 9z"/>
<path fill="#b41a24" fill-rule="evenodd" d="M97 1227l18-12 13 12-13 7z"/>
<path fill="#8c161b" fill-rule="evenodd" d="M103 1227l12-8 9 8-9 5z"/>
<path d="M507.6 1072.4l0 5.1-4.3 2.6-4.4 6.8-7.9 1.5-6.6-1.9-6.2 7.1 3.3 5.9 14.5 8.4 2.5 5.8 5.8 4.2 5.9 0 5.1-5.8 9.7-4.2 8.7 4.2 17 2.5-1.8 6.7-6.6-1.6-16.1 5.5-3.4 5.4-12.6 6.8-5 5.8-3.4 6.8 16.8 8 8.5 24.9 10.1 6 2.3 6.8-7.2 .7 8.7 8.4-.5 2.5-11.1 3.5-9 5.2 6.7 1.4 7.5-.8 8.8 3.3-2 12-6.2 6.6 1.1 5-2.6 3.1-4.3 .3-16.7 21.6-4.2 0 1.2 8-4.5 9.1-9.2 7.8-1.7 4.8-7.7 .5 0 4.6-10 7.7-20.3 12.9-15.9 3-6.9 0-5 5.5-7.1-5.5-2.5 6.7-5.9-4.2-1.3 6.8-13.5 4.2-8.4 3.6-15.3 3.1-2.4 5.1 3.3 5.9-3.3 2.5-5.1 0-3.9-10 1.4-5.5-4.2 0-6.3-3.8-8 0-7.6 2.7-11.8 6.1-5.8 4.7-4.3 6.7-7.6 5-4.7 13.5 3.8 6.8 6.8 5.8 1.7 6 12.7 12.6 8.4 6.8 13.5 15.1 4.9 14.4 1.7 9.2-1.3 28.8-2.9 5-19.3 10.2-5.9 4.2-8.4 0 0 8.4M540.5 1072.4l0 5.1-7.9 5.1 4.6 5-5.9 6 5.9-1.8 10.9-8.4 23.3-5.9 20.5 5.9-5.1 11.8-4.2 8.4 8.4 5.3 10.9-1.1 7.6 5.1 1.8 5.9-8.4 1.5 8.8 17.1-5.5 6.1-.3 7.2 3.2 7.3 12.3-5.8 15.3-2.9 10.1-4.4 3.2-9.3 .9-10-4.1-15.2-11.6-14.8-11.6-10.1-2.9-7.3 11.6-4.4 21.8-10.1M662.7 1169.6l-11.5 2.9 2.9 8.7 8.6 1.4M648.3 1247.9l5.8-4.4M625.1 1278.3l1.4-5.8 5.1-2.9 2.2-3.6M536.3 1288.9l5.1 2.9 0 6.4-7.7 23.7-5.8 6.8-2.6 7.7-2.5-6.1-4.6-3.4-2.5-8.4 .5-6.8 11.7-18.6 8.4-4.2M349 1374.9l13.8-8.7 8.4-1.3 11.7 .3 0 4.7-5 5.9-2.5 6.8-5.1 5-7.5 3.4-5.9-.4-6.7-3.8-1.2-11.9M522.8 1387.3l6-1.3 6.7 3.3 5.9 1.3 5.8-3.3-2.2 15.5 4.7 4.2-1.6 5.9-11.8 14.4-2 6.7 6.2 17.7 5.1 1.7 5.8-3.3 6.8 .8 12.6 5.8-5 1.5 2.6 5.4 5.8 4.7-4.2 1.1-5.8-2.5-6-8.4-5.1-1.8-.8 8.4-5.1-6.6-7.5-5.1-7.6 5.1-8.5-2.6-.3-8.4 4.6-2.8-3.7-3-1.6 4.9-3.1-2.9-5.1-2-1.7-11.9-1.6-9.3 7.5 1.7 2.2-16.1-2.6-5.8 4.6-13M519.5 1460.9l12.6 1.2 4.5 4.8-.3 8.4-5.3 3.8-3.9-5.4-3.4-8.6-4.2-4.2M575.9 1474.4l13.5-.7 4.2 6.7 .3 7.5 2.2 7.3-10.6 .4-.3 5.1 4.6 5.8-6.6 1.7-.6-7.5-4.2-1.8-.3-8.4 5.3 0 2.1-5-6.3-4.3-3.3-6.8M541.4 1483.7l8.4 1.5 .9 2.7 8.4 .9 .7 7.5 5.1 1.8 .4 4.2 6.1-6.7 .3 12.6 4.1 5.1-20.3 0-.3-4.2-.3-4.2-13.5-2.2 2-10.6-2-8.4M494.6 1513.3l2.2-3.9 6.6-8.7 2.9-8.6 2.8 11-8.1 6-2.1 4.2M75.6 1337.8l5.4 1.8 5.9-6 11.8-8 5.5 6.4 4.6 16.8 15.2 17.7 5 0 3.7 6.3-2.9 3.3 3.8 6.5 5.5 0 4.2 13.5 1.2 10-4.5 16.1 10.8 5.1 7.1 0 5.1-5.1 12.8-7.2 2.9-5 5.9 3.8 4.7 5.8 4.6 23.6 4.2 14.4 4.6 8.4 2.9 8.4-4.2 8.4 3.7 7.7 0 5.8-3.7 5.1 0 11.9M210.7 1513.3l2.5-13.5 4.2-6.8 4.6-12.6 1-17.7 6.3-3.1 7.5 2.8 0 8.3 12.6 1.3 12.6 10.1 8.4 14.2 6 5.7 8.4 0 4.2 4.5 8.4 3.5 1.5 3.3M121 1461.8l-3.8 22.8" fill="none" stroke="#000" stroke-width="1.4" stroke-linejoin="round"/>
<path d="M551.6 1232.6h0M569.2 1232.6h0M586.7 1232.6h0M604.3 1232.6h0M621.9 1232.6h0M639.5 1232.6h0M657.0 1232.6h0M560.4 1241.6h0M578.0 1241.6h0M595.5 1241.6h0M613.1 1241.6h0M630.7 1241.6h0M648.2 1241.6h0M551.6 1250.3h0M569.2 1250.3h0M586.7 1250.3h0M604.3 1250.3h0M621.9 1250.3h0M639.5 1250.3h0M657.0 1250.3h0M455.0 1259.3h0M472.5 1259.3h0M490.1 1259.3h0M507.7 1259.3h0M525.3 1259.3h0M542.8 1259.3h0M630.7 1259.3h0M648.2 1259.3h0M446.2 1268.0h0M463.8 1268.0h0M481.3 1268.0h0M498.9 1268.0h0M516.5 1268.0h0M534.0 1268.0h0M639.5 1268.0h0M657.0 1268.0h0M455.0 1277.0h0M472.5 1277.0h0M490.1 1277.0h0M507.7 1277.0h0M525.3 1277.0h0M542.8 1277.0h0M630.7 1277.0h0M648.2 1277.0h0M94.8 1285.7h0M112.4 1285.7h0M86.0 1294.7h0M103.6 1294.7h0M94.8 1303.4h0M112.4 1303.4h0M86.0 1312.4h0M103.6 1312.4h0" stroke="#000" stroke-width="3.70" stroke-linecap="round" fill="none"/>
<rect x="223.5" y="1234.8" width="333.4" height="159.5" fill="none" stroke="#ff0000" stroke-width="4.6" stroke-dasharray="4.6 5.9" stroke-linecap="round"/>
</g>
<path d="M107.5 1511.4v6.6M107.5 1074.3v-6.6M136.5 1511.4v6.6M136.5 1074.3v-6.6M165.5 1511.4v6.6M165.5 1074.3v-6.6M194.5 1511.4v6.6M194.5 1074.3v-6.6M252.5 1511.4v6.6M252.5 1074.3v-6.6M281.5 1511.4v6.6M281.5 1074.3v-6.6M310.5 1511.4v6.6M310.5 1074.3v-6.6M339.5 1511.4v6.6M339.5 1074.3v-6.6M397.4 1511.4v6.6M397.4 1074.3v-6.6M426.4 1511.4v6.6M426.4 1074.3v-6.6M455.4 1511.4v6.6M455.4 1074.3v-6.6M484.4 1511.4v6.6M484.4 1074.3v-6.6M542.4 1511.4v6.6M542.4 1074.3v-6.6M571.4 1511.4v6.6M571.4 1074.3v-6.6M600.4 1511.4v6.6M600.4 1074.3v-6.6M629.4 1511.4v6.6M629.4 1074.3v-6.6M77.5 1481.4h-6.6M659.4 1481.4h6.6M77.5 1452.4h-6.6M659.4 1452.4h6.6M77.5 1423.4h-6.6M659.4 1423.4h6.6M77.5 1394.4h-6.6M659.4 1394.4h6.6M77.5 1336.4h-6.6M659.4 1336.4h6.6M77.5 1307.4h-6.6M659.4 1307.4h6.6M77.5 1278.3h-6.6M659.4 1278.3h6.6M77.5 1249.3h-6.6M659.4 1249.3h6.6M77.5 1191.3h-6.6M659.4 1191.3h6.6M77.5 1162.3h-6.6M659.4 1162.3h6.6M77.5 1133.3h-6.6M659.4 1133.3h6.6M77.5 1104.3h-6.6M659.4 1104.3h6.6" stroke="#000" stroke-width="1.5" fill="none"/>
<path d="M78.5 1511.4v7.6M78.5 1074.3v-7.6M223.5 1511.4v7.6M223.5 1074.3v-7.6M368.4 1511.4v7.6M368.4 1074.3v-7.6M513.4 1511.4v7.6M513.4 1074.3v-7.6M658.4 1511.4v7.6M658.4 1074.3v-7.6M77.5 1510.4h-7.6M659.4 1510.4h7.6M77.5 1365.4h-7.6M659.4 1365.4h7.6M77.5 1220.3h-7.6M659.4 1220.3h7.6M77.5 1075.3h-7.6M659.4 1075.3h7.6" stroke="#000" stroke-width="2" fill="none"/>
<rect x="78.5" y="1075.3" width="579.9" height="435.1" fill="none" stroke="#000" stroke-width="2.7"/>
<text x="78.5" y="1542.9" text-anchor="middle" font-size="22.8">90E</text>
<text x="223.5" y="1542.9" text-anchor="middle" font-size="22.8">100E</text>
<text x="368.4" y="1542.9" text-anchor="middle" font-size="22.8">110E</text>
<text x="513.4" y="1542.9" text-anchor="middle" font-size="22.8">120E</text>
<text x="658.4" y="1542.9" text-anchor="middle" font-size="22.8">130E</text>
<text x="64.5" y="1518.6" text-anchor="end" font-size="22.8">10N</text>
<text x="64.5" y="1373.6" text-anchor="end" font-size="22.8">20N</text>
<text x="64.5" y="1228.5" text-anchor="end" font-size="22.8">30N</text>
<text x="64.5" y="1083.5" text-anchor="end" font-size="22.8">40N</text>
<text x="77.5" y="1048.7" font-size="22.8">(e) omega</text>

</g>
<g id="panel-f">
<g clip-path="url(#cpf)">
<rect x="784.9" y="1075.3" width="580.1" height="435.1" fill="#4482c3"/>
<path fill="#5fa5d7" fill-rule="evenodd" d="M785 1062l36 0 36 0 37 0 36 0 36 0 36 0 37 0 36 0 36 0 36 0 37 0 36 0 36 0 36 0 37 0 36 0 0 27 0 28 0 27 0 28 0 28 0 18-24 9 24 19 0 9 0 28 0 27 0 28 0 27 0 28 0 28 0 27 0 28 0 27 0 28-36 0-37 0-36 0-36 0-36 0-37 0-36 0-36 0-36 0-37 0-36 0-36 0-36 0-37 0-36 0-36 0 0-28 0-27 0-28 0-27 0-28 0-28 0-27 0-28 0-27 0-28 0-28 0-27 0-28 0-28 0-27 0-28z"/>
<path fill="#7fc0e8" fill-rule="evenodd" d="M785 1062l36 0 36 0 37 0 36 0 36 0 36 0 37 0 36 0 36 0 36 0 37 0 36 0 36 0 36 0 37 0 36 0 0 27 0 28 0 27 0 28 0 28 0 9-36 14-18 4 4 28 14 3 36 2 0 23 0 27 0 28 0 27 0 28 0 28 0 27 0 28 0 27 0 28-36 0-37 0-36 0-36 0-36 0-37 0-36 0-36 0-36 0-37 0-36 0-36 0-36 0-37 0-36 0-36 0 0-28 0-27 0-28 0-27 0-28 0-28 0-27 0-28 0-27 0-28 0-28 0-27 0-28 0-28 0-27 0-28zM1039 1245l-9 10 9 3 36 2 36 0 36-2 37-3-37-8-36-3-36-9z"/>
<path fill="#a1daf4" fill-rule="evenodd" d="M785 1062l36 0 29 0 4 27 3 1 6-1 3-27 28 0 36 0 36 0 36 0 37 0 36 0 36 0 36 0 37 0 36 0 36 0 36 0 37 0 24 0 7 27 5 6 0 22 0 27 0 28 0 28-36 13-37 10-25 4-11 14-36-14-36-2-37-1-36 1-36-12-36 0-9 14-28 26-1 2 1 1 37 13 36 2 36 0 36 0 37-4 36-5 36-4 36 4 37 7 36 2 0 12 0 27 0 28 0 27 0 28 0 28 0 27 0 28 0 27 0 28-36 0-37 0-36 0-36 0-36 0-37 0-36 0-36 0-36 0-37 0-36 0-36 0-36 0-37 0-36 0-36 0 0-28 0-27 0-28 0-27 0-28 0-28 0-27 0-28 0-27 0-28 0-28 0-27 0-28 0-28 0-27 0-28z"/>
<path fill="#c3e7f7" fill-rule="evenodd" d="M785 1062l36 0 15 0 3 27 18 9 37-9-9-27 9 0 36 0 36 0 36 0 37 0 36 0 36 0 36 0 37 0 36 0 36 0 36 0-15 27 15 21 22-21 15-27 5 27 24 28 7 8 0 19 0 28 0 12-24 16-12 4-37 11-36 6-36-3-36-3-37-1-36-1-29-13-7-6-36-8-37 14 10 27-10 9-11 19 11 16 37 9 36 3 36 0 36 0 37-3 36-4 36-4 36 4 37 4 36 3 0 27 0 28 0 27 0 28 0 28 0 27 0 28 0 27 0 28-36 0-37 0-36 0-36 0-36 0-37 0-36 0-36 0-36 0-37 0-36 0-36 0-36 0-37 0-36 0-36 0 0-28 0-27 0-28 0-27 0-28 0-28 0-27 36-20 10-8-10-3-36 1 0-25 0-28 0-28 0-27 0-28 0-28 0-27 0-28z"/>
<path fill="#e0f2fa" fill-rule="evenodd" d="M785 1062l36 0 3 27 33 16 37 3 20 9 16 3 36-3-14-28-22-27 36 0 36 0 37 0 36 0 36 0 36 0 37 0 36 0 18 0-2 27 17 28 3 2 36 17 37-5 10 13 18 28-28 16-14 12-23 6-36 8-36-5-36-3-37-2-36-2-5-2-31-24-10-4-26-7-37 7-11 28 5 27-15 28 13 28 8 4 37 7 36 4 36-4 36-2 37-2 36-2 36-1 36 2 37 3 36 6 0 12 0 28 0 27 0 28 0 28 0 27 0 28 0 27 0 28-36 0-37 0-36 0-36 0-36 0-37 0-36 0-36 0-36 0-37 0-36 0-36 0-36 0-37 0-36 0-36 0 0-28 0-27 0-28 0-27 0-28 0-21 9-7 27-24 6-3 30-23 8-5-8-3-36-10-36 1 0-15 0-28 0-28 0-27 0-28 0-28 0-27 0-28z"/>
<path fill="#f2f9fc" fill-rule="evenodd" d="M1057 1062l18 0 18 0 18 13 36 14 37 0 36 20 6 8 30 23 9 4 27 15 23 13-23 20-6 8-30 7-36-7-36-8-37-6-36-5-12-9-24-18-36-3-37 3-14 18-8 28 2 27-11 28-5 17-11 11-25 19-32-19-4-2-8 2-29 6-36-2-36 1 0-5 0-28 0-28 0-27 0-28 0-28 0-27 0-28 36 11 36 12 22 5 15 3 36 9 36 7 26-19 10-19 37-9zM1002 1310l37-3 18 3 18 3 10-3 26-5 36-4 37-2 36-1 36 2 36 2 37 2 26 6 10 3 0 25 0 27 0 28 0 28 0 27 0 28 0 27 0 22-6 6-30 0-37 0-36 0-36 0-36 0-37 0-36 0-36 0-36 0-37 0-36 0-36 0-36 0-37 0-36 0-36 0 0-28 0-27 0-28 0-27 0-28 0-7 27-21 9-8 36-19 37-22 36-1 36-2z"/>
<path fill="#ffffff" fill-rule="evenodd" d="M785 1117l0-9 36 6 15 3 21 1 37 9 36 11 19 6 17 15 7 13-5 28 1 27-3 8-18 20-18 17-36-1-37 7-36 1-36-6 0-18 0-28 0-27 0-28 0-28zM1034 1117l5-3 5 3-5 4zM1179 1144l5-2 36-7 12 9 24 20 14 8-14 28-36-25-12-3-24-22zM1147 1310l37-2 36 0 14 2 22 5 36 5 37 2 36 8 0 8 0 27 0 28 0 28 0 27 0 28 0 27 0 16-12 12-24 0-37 0-36 0-36 0-36 0-37 0-36 0-36 0-36 0-37 0-36 0-36 0-36 0-37 0-36 0-36 0 0-28 0-27 0-28 0-27 0-14 15-14 21-16 18-12 18-9 37-14 10-4 26-8 36-2 36-3 37-1 36 4 36-12z"/>
<path fill="#ffffff" fill-rule="evenodd" d="M785 1144l0-23 36 2 36 1 37 10 30 10 6 3 31 25-2 28-10 27-19 18-18 10-18 5-37 10-36 1-36-16 0-28 0-27 0-28zM1084 1338l27-11 36-5 37-2 36 1 36 12 18 5 18 5 37 0 36 0 0 22 0 28 0 28 0 27 0 28 0 27 0 10-18 18-18 0-37 0-36 0-36 0-36 0-37 0-36 0-36 0-36 0-37 0-36 0-36 0-36 0-37 0-36 0-36 0 0-28 0-27 0-24 8-4 4-27 24-22 10-6 26-17 37-11 36-13 36 0 36-8 37-3 36 0z"/>
<path fill="#fef8e2" fill-rule="evenodd" d="M785 1144l0-15 36 1 36-1 37 12 10 3 26 11 21 17-1 28-20 26-2 1-34 22-13 6-24 7-36 2-20-9-8-28-8-3 0-24 0-28zM1120 1338l27-4 37-1 36 2 8 3 28 9 36 15 37 0 36-8 0 11 0 28 0 28 0 27 0 28 0 27 0 4-24 24-12 0-37 0-36 0-36 0-36 0-37 0-36 0-36 0-36 0-37 0-36 0-36 0-36 0-37 0-36 0-36 0 0-28 0-27 0-12 36-16 0-27 36-20 6-8 31-14 36 0 36 1 36-10 14-5 23-8 36-6 36-13z"/>
<path fill="#feeba8" fill-rule="evenodd" d="M785 1144l0-8 36 1 36-3 29 10 8 6 36 14 10 8 1 28-11 14-19 13-17 11-37 16-12 1-24 1-3-1-9-28-24-10 0-17 0-28zM1057 1365l18-5 36-15 36-3 37-1 36 3 36 15 14 6 22 5 37 0 36-5 0 28 0 28 0 27 0 28 0 26-3 1-27 28-6 0-37 0-36 0-36 0-36 0-37 0-36 0-36 0-36 0-37 0-36 0-36 0-36 0-37 0-36 0-36 0 0-28 0-27 36-14 28-14 8-10 37-10 21-7 15-8 36-14 16-6 20-8 37-14z"/>
<path fill="#fdd778" fill-rule="evenodd" d="M821 1144l36-5 15 5 22 18 36 10 2 28-2 2-36 25-37 15-31-15-5-2-36-15 0-10 0-28 0-28zM1083 1365l28-13 36-3 37-1 36 5 27 12 9 4 36 8 37-1 36-5 0 22 0 28 0 27 0 28 0 23-10 4-26 28-37 0-36 0-36 0-36 0-37 0-36 0-36 0-36 0-37 0-36 0-36 0-36 0-37 0-36 0-36 0 0-28 0-15 36-12 36-18 37-7 7-3 29-14 26-13 10-5 36-15 14-8 23-10 36-13z"/>
<path fill="#fdb945" fill-rule="evenodd" d="M785 1172l0-22 36-1 36-5 35 28-35 28-36 12-36-9 0-3zM852 1227l5-27 6 27-6 3zM1098 1365l13-6 36-3 37-2 36 7 9 4 27 11 36 7 37-2 36-5 0 17 0 28 0 27 0 28 0 20-16 7-20 21-11 7-26 0-36 0-36 0-36 0-37 0-36 0-36 0-36 0-37 0-36 0-36 0-36 0-37 0-36 0-36 0 0-28 0-2 36-13 30-12 6-3 37-10 36-7 18-8 18-6 26-21 10-5 37-21 4-2 32-14z"/>
<path fill="#fc9a31" fill-rule="evenodd" d="M785 1172l0-15 36-3 36 0 24 18-24 18-36 10-36-5zM1117 1365l30-3 37-2 23 5 13 4 36 14 36 7 37-3 36-5 0 11 0 28 0 27 0 28 0 17-23 10-13 14-21 14-16 0-36 0-36 0-36 0-37 0-36 0-36 0-36 0-37 0-36 0 12-28 9-27 15-20 4-8 11-27 22-13 25-15 11-5 36-22zM814 1503l7-2 36-17 37-8 36 27 36 28-36 0-36 0-37 0-36 0-36 0z"/>
<path fill="#f5782a" fill-rule="evenodd" d="M785 1172l0-9 36-4 36 4 12 9-12 9-36 11-36-6zM1084 1393l27-16 36-7 37-4 36 11 36 12 18 4 18 3 37-3 36-6 0 6 0 28 0 27 0 28 0 14-30 13-6 7-31 21-6 0-18 0-18-6-12 6-24 0-36 0-37 0-36 0-36 0-36 0-37 0 2-28 4-27 14-28 17-27 36-24zM837 1503l20-9 37-10 25 19 6 28-31 0-37 0-36 0z"/>
<path fill="#e94e2b" fill-rule="evenodd" d="M785 1172l0-3 36-5 36 8-36 12-36-7zM1102 1393l9-5 36-7 37-5 36 9 24 8 12 5 36 5 37-3 36-7 0 28 0 27 0 28 0 11-36 16-37 23-36-13-36 18-36 0-37 0-36 0-36 0-36 0-29 0 2-28 9-27 18-28 12-27 24-16zM857 1503l37-10 14 10 6 28-20 0-37 0-18 0z"/>
<path fill="#d42429" fill-rule="evenodd" d="M803 1172l18-2 12 2-12 4zM1137 1393l10-2 37-6 36 8 36 14 36 3 37-3 36-5 0 19 0 27 0 28 0 9-36 13-18 5-19 12-30-12-6-1-6 1-30 14-9 14-27 0-37 0-36 0-36 0-36 0-22 0 2-28 14-27 6-9 10-19 14-27 12-8 36-14zM885 1503l9-2 3 2 7 28-10 0-37 0z"/>
<path fill="#b41a24" fill-rule="evenodd" d="M1075 1421l36-10 36-8 37-8 36 9 36 12 36 1 37-3 36-4 0 11 0 27 0 28 0 6-36 10-37 11-36-7-36 7-18 28-18 0-37 0-36 0-36 0-36 0-15 0 3-28 12-20 5-7 15-28z"/>
<path fill="#8c161b" fill-rule="evenodd" d="M1122 1421l25-6 37-7 36 7 18 6 18 4 36 0 37-4 36-2 0 2 0 27 0 28 0 3-36 8-37 9-36-5-36 5-12 7-15 28-9 0-37 0-36 0-36 0-36 0-8 0 4-28 4-6 15-21 16-28 5-9 36-16z"/>
<path d="M1214.2 1072.4l0 5.1-4.4 2.6-4.3 6.8-8 1.5-6.5-1.9-6.3 7.1 3.4 5.9 14.5 8.4 2.4 5.8 5.8 4.2 6 0 5.1-5.8 9.7-4.2 8.7 4.2 16.9 2.5-1.7 6.7-6.7-1.6-16.1 5.5-3.3 5.4-12.6 6.8-5.1 5.8-3.3 6.8 16.8 8 8.4 24.9 10.2 6 2.3 6.8-7.3 .7 8.7 8.4-.4 2.5-11.2 3.5-9 5.2 6.7 1.4 7.5-.8 8.9 3.3-2 12-6.3 6.6 1.2 5-2.6 3.1-4.4 .3-16.7 21.6-4.2 0 1.2 8-4.5 9.1-9.1 7.8-1.8 4.8-7.7 .5 0 4.6-10 7.7-20.3 12.9-15.9 3-6.8 0-5.1 5.5-7.1-5.5-2.5 6.7-5.9-4.2-1.3 6.8-13.5 4.2-8.4 3.6-15.3 3.1-2.4 5.1 3.3 5.9-3.3 2.5-5.1 0-3.9-10 1.4-5.5-4.2 0-6.4-3.8-7.9 0-7.6 2.7-11.9 6.1-5.8 4.7-4.2 6.7-7.7 5-4.6 13.5 3.8 6.8 6.8 5.8 1.7 6 12.6 12.6 8.5 6.8 13.4 15.1 5 14.4 1.7 9.2-1.3 28.8-2.9 5-19.3 10.2-5.9 4.2-8.4 0 0 8.4M1247.1 1072.4l0 5.1-8 5.1 4.7 5-6 6 6-1.8 10.8-8.4 23.4-5.9 20.4 5.9-5 11.8-4.2 8.4 8.4 5.3 10.8-1.1 7.7 5.1 1.8 5.9-8.4 1.5 8.8 17.1-5.5 6.1-.3 7.2 3.2 7.3 12.3-5.8 15.2-2.9 10.2-4.4 3.2-9.3 .9-10-4.1-15.2-11.6-14.8-11.6-10.1-2.9-7.3 11.6-4.4 21.7-10.1M1369.4 1169.6l-11.7 2.9 2.9 8.7 8.8 1.4M1354.8 1247.9l5.8-4.4M1331.6 1278.3l1.5-5.8 5.1-2.9 2.1-3.6M1242.9 1288.9l5.1 2.9 0 6.4-7.7 23.7-5.8 6.8-2.6 7.7-2.5-6.1-4.6-3.4-2.5-8.4 .4-6.8 11.8-18.6 8.4-4.2M1055.5 1374.9l13.8-8.7 8.4-1.3 11.8 .3 0 4.7-5.1 5.9-2.5 6.8-5.1 5-7.5 3.4-6-.4-6.6-3.8-1.2-11.9M1229.4 1387.3l5.9-1.3 6.7 3.3 6 1.3 5.8-3.3-2.2 15.5 4.6 4.2-1.6 5.9-11.7 14.4-2 6.7 6.2 17.7 5.1 1.7 5.8-3.3 6.8 .8 12.6 5.8-5.1 1.5 2.6 5.4 5.8 4.7-4.2 1.1-5.8-2.5-5.9-8.4-5.1-1.8-.9 8.4-5-6.6-7.6-5.1-7.5 5.1-8.6-2.6-.3-8.4 4.7-2.8-3.8-3-1.6 4.9-3-2.9-5.1-2-1.8-11.9-1.5-9.3 7.5 1.7 2.2-16.1-2.6-5.8 4.6-13M1226.1 1460.9l12.6 1.2 4.5 4.8-.3 8.4-5.4 3.8-3.9-5.4-3.3-8.6-4.2-4.2M1282.5 1474.4l13.5-.7 4.2 6.7 .3 7.5 2.1 7.3-10.5 .4-.3 5.1 4.6 5.8-6.7 1.7-.5-7.5-4.3-1.8-.2-8.4 5.3 0 2.1-5-6.3-4.3-3.3-6.8M1248 1483.7l8.4 1.5 .8 2.7 8.5 .9 .7 7.5 5.1 1.8 .4 4.2 6.1-6.7 .3 12.6 4 5.1-20.3 0-.3-4.2-.2-4.2-13.5-2.2 2-10.6-2-8.4M1201.1 1513.3l2.2-3.9 6.7-8.7 2.9-8.6 2.7 11-8.1 6-2 4.2M782 1337.8l5.4 1.8 5.9-6 11.8-8 5.5 6.4 4.6 16.8 15.2 17.7 5 0 3.7 6.3-2.9 3.3 3.8 6.5 5.5 0 4.2 13.5 1.2 10-4.5 16.1 10.9 5.1 7.1 0 5-5.1 12.8-7.2 2.9-5 6 3.8 4.6 5.8 4.6 23.6 4.2 14.4 4.7 8.4 2.9 8.4-4.2 8.4 3.6 7.7 0 5.8-3.6 5.1 0 11.9M917.2 1513.3l2.4-13.5 4.2-6.8 4.7-12.6 1-17.7 6.2-3.1 7.6 2.8 0 8.3 12.6 1.3 12.6 10.1 8.4 14.2 6 5.7 8.4 0 4.2 4.5 8.4 3.5 1.4 3.3M827.4 1461.8l-3.8 22.8" fill="none" stroke="#000" stroke-width="1.4" stroke-linejoin="round"/>
<path d="M862.8 1083.6h0M880.4 1083.6h0M898.0 1083.6h0M915.5 1083.6h0M933.1 1083.6h0M950.7 1083.6h0M1232.0 1083.6h0M1249.6 1083.6h0M1267.1 1083.6h0M1284.7 1083.6h0M1302.3 1083.6h0M1319.9 1083.6h0M1337.5 1083.6h0M1355.0 1083.6h0M871.6 1092.4h0M889.2 1092.4h0M906.8 1092.4h0M924.3 1092.4h0M941.9 1092.4h0M959.5 1092.4h0M1223.2 1092.4h0M1240.8 1092.4h0M1258.4 1092.4h0M1275.9 1092.4h0M1293.5 1092.4h0M1311.1 1092.4h0M1328.7 1092.4h0M1346.3 1092.4h0M1363.8 1092.4h0M933.1 1101.1h0M950.7 1101.1h0M1267.1 1101.1h0M1284.7 1101.1h0M1302.3 1101.1h0M1319.9 1101.1h0M1337.5 1101.1h0M1355.0 1101.1h0M941.9 1109.9h0M959.5 1109.9h0M1258.4 1109.9h0M1275.9 1109.9h0M1293.5 1109.9h0M1311.1 1109.9h0M1328.7 1109.9h0M1346.3 1109.9h0M1363.8 1109.9h0M933.1 1118.6h0M950.7 1118.6h0M1267.1 1118.6h0M1284.7 1118.6h0M1302.3 1118.6h0M1319.9 1118.6h0M1337.5 1118.6h0M862.8 1153.6h0M880.4 1153.6h0M871.6 1162.4h0M889.2 1162.4h0M862.8 1171.1h0M880.4 1171.1h0M801.3 1179.9h0M818.9 1179.9h0M792.5 1188.6h0M810.1 1188.6h0M801.3 1197.4h0M818.9 1197.4h0M1056.2 1206.1h0M1073.8 1206.1h0M1337.5 1206.1h0M1355.0 1206.1h0M1047.4 1214.9h0M1065.0 1214.9h0M1346.3 1214.9h0M1363.8 1214.9h0M1056.2 1223.6h0M1073.8 1223.6h0M1337.5 1223.6h0M1355.0 1223.6h0M1047.4 1232.4h0M1065.0 1232.4h0M1082.6 1232.4h0M1100.1 1232.4h0M1117.7 1232.4h0M1135.3 1232.4h0M1152.9 1232.4h0M1170.5 1232.4h0M1188.0 1232.4h0M1205.6 1232.4h0M1223.2 1232.4h0M1240.8 1232.4h0M1258.4 1232.4h0M1275.9 1232.4h0M1293.5 1232.4h0M1311.1 1232.4h0M1328.7 1232.4h0M1346.3 1232.4h0M1363.8 1232.4h0M1056.2 1241.1h0M1073.8 1241.1h0M1091.3 1241.1h0M1108.9 1241.1h0M1126.5 1241.1h0M1144.1 1241.1h0M1161.7 1241.1h0M1179.2 1241.1h0M1196.8 1241.1h0M1214.4 1241.1h0M1232.0 1241.1h0M1249.6 1241.1h0M1267.1 1241.1h0M1284.7 1241.1h0M1302.3 1241.1h0M1319.9 1241.1h0M1337.5 1241.1h0M1355.0 1241.1h0M1047.4 1249.9h0M1065.0 1249.9h0M1082.6 1249.9h0M1100.1 1249.9h0M1117.7 1249.9h0M1135.3 1249.9h0M1152.9 1249.9h0M1170.5 1249.9h0M1188.0 1249.9h0M1205.6 1249.9h0M1223.2 1249.9h0M1240.8 1249.9h0M1258.4 1249.9h0M1275.9 1249.9h0M1293.5 1249.9h0M1311.1 1249.9h0M1328.7 1249.9h0M1346.3 1249.9h0M1363.8 1249.9h0M1056.2 1258.6h0M1073.8 1258.6h0M1091.3 1258.6h0M1108.9 1258.6h0M1126.5 1258.6h0M1144.1 1258.6h0M1161.7 1258.6h0M1179.2 1258.6h0M1302.3 1258.6h0M1319.9 1258.6h0M1047.4 1267.4h0M1065.0 1267.4h0M1082.6 1267.4h0M1100.1 1267.4h0M1117.7 1267.4h0M1135.3 1267.4h0M1152.9 1267.4h0M1170.5 1267.4h0M1293.5 1267.4h0M1311.1 1267.4h0M1328.7 1267.4h0M1056.2 1276.1h0M1073.8 1276.1h0M1091.3 1276.1h0M1108.9 1276.1h0M1126.5 1276.1h0M1144.1 1276.1h0M1161.7 1276.1h0M1179.2 1276.1h0M1302.3 1276.1h0M1319.9 1276.1h0M1117.7 1372.4h0M1135.3 1372.4h0M1152.9 1372.4h0M1170.5 1372.4h0M1126.5 1381.1h0M1144.1 1381.1h0M1161.7 1381.1h0M1179.2 1381.1h0M1117.7 1389.9h0M1135.3 1389.9h0M1152.9 1389.9h0M1170.5 1389.9h0M1091.3 1398.6h0M1108.9 1398.6h0M1126.5 1398.6h0M1144.1 1398.6h0M1161.7 1398.6h0M1179.2 1398.6h0M1196.8 1398.6h0M1214.4 1398.6h0M1337.5 1398.6h0M1355.0 1398.6h0M1082.6 1407.4h0M1100.1 1407.4h0M1117.7 1407.4h0M1135.3 1407.4h0M1152.9 1407.4h0M1170.5 1407.4h0M1188.0 1407.4h0M1205.6 1407.4h0M1346.3 1407.4h0M1363.8 1407.4h0M1091.3 1416.1h0M1108.9 1416.1h0M1126.5 1416.1h0M1144.1 1416.1h0M1161.7 1416.1h0M1179.2 1416.1h0M1196.8 1416.1h0M1214.4 1416.1h0M1337.5 1416.1h0M1355.0 1416.1h0M1047.4 1424.9h0M1065.0 1424.9h0M1082.6 1424.9h0M1100.1 1424.9h0M1117.7 1424.9h0M1135.3 1424.9h0M1152.9 1424.9h0M1170.5 1424.9h0M1188.0 1424.9h0M1205.6 1424.9h0M1223.2 1424.9h0M1240.8 1424.9h0M1258.4 1424.9h0M1275.9 1424.9h0M1293.5 1424.9h0M1311.1 1424.9h0M1328.7 1424.9h0M1346.3 1424.9h0M1363.8 1424.9h0M1056.2 1433.6h0M1073.8 1433.6h0M1091.3 1433.6h0M1108.9 1433.6h0M1126.5 1433.6h0M1144.1 1433.6h0M1161.7 1433.6h0M1179.2 1433.6h0M1196.8 1433.6h0M1214.4 1433.6h0M1232.0 1433.6h0M1249.6 1433.6h0M1267.1 1433.6h0M1284.7 1433.6h0M1302.3 1433.6h0M1319.9 1433.6h0M1337.5 1433.6h0M1355.0 1433.6h0M1047.4 1442.4h0M1065.0 1442.4h0M1082.6 1442.4h0M1100.1 1442.4h0M1117.7 1442.4h0M1135.3 1442.4h0M1152.9 1442.4h0M1170.5 1442.4h0M1188.0 1442.4h0M1205.6 1442.4h0M1223.2 1442.4h0M1240.8 1442.4h0M1258.4 1442.4h0M1275.9 1442.4h0M1293.5 1442.4h0M1311.1 1442.4h0M1328.7 1442.4h0M1346.3 1442.4h0M1363.8 1442.4h0M1091.3 1451.1h0M1108.9 1451.1h0M1126.5 1451.1h0M1144.1 1451.1h0M1161.7 1451.1h0M1179.2 1451.1h0M1196.8 1451.1h0M1214.4 1451.1h0M1232.0 1451.1h0M1249.6 1451.1h0M1267.1 1451.1h0M1284.7 1451.1h0M1302.3 1451.1h0M1319.9 1451.1h0M1337.5 1451.1h0M1355.0 1451.1h0M1082.6 1459.9h0M1100.1 1459.9h0M1117.7 1459.9h0M1135.3 1459.9h0M1152.9 1459.9h0M1170.5 1459.9h0M1188.0 1459.9h0M1205.6 1459.9h0M1223.2 1459.9h0M1240.8 1459.9h0M1258.4 1459.9h0M1275.9 1459.9h0M1293.5 1459.9h0M1311.1 1459.9h0M1328.7 1459.9h0M1346.3 1459.9h0M1363.8 1459.9h0M1091.3 1468.6h0M1108.9 1468.6h0M1126.5 1468.6h0M1144.1 1468.6h0M1161.7 1468.6h0M1179.2 1468.6h0M1196.8 1468.6h0M1214.4 1468.6h0M1232.0 1468.6h0M1249.6 1468.6h0M1267.1 1468.6h0M1284.7 1468.6h0M1302.3 1468.6h0M1319.9 1468.6h0M1337.5 1468.6h0M1355.0 1468.6h0M1082.6 1477.4h0M1100.1 1477.4h0M1117.7 1477.4h0M1135.3 1477.4h0M1152.9 1477.4h0M1170.5 1477.4h0M1091.3 1486.1h0M1108.9 1486.1h0M1126.5 1486.1h0M1144.1 1486.1h0M1161.7 1486.1h0M1179.2 1486.1h0M1082.6 1494.9h0M1100.1 1494.9h0M1117.7 1494.9h0M1135.3 1494.9h0M1152.9 1494.9h0M1170.5 1494.9h0M1056.2 1503.6h0M1073.8 1503.6h0M1091.3 1503.6h0M1108.9 1503.6h0M1126.5 1503.6h0M1144.1 1503.6h0M1161.7 1503.6h0M1179.2 1503.6h0" stroke="#000" stroke-width="3.70" stroke-linecap="round" fill="none"/>
<rect x="929.9" y="1234.8" width="333.6" height="159.5" fill="none" stroke="#ff0000" stroke-width="4.6" stroke-dasharray="4.6 5.9" stroke-linecap="round"/>
</g>
<path d="M813.9 1511.4v6.6M813.9 1074.3v-6.6M842.9 1511.4v6.6M842.9 1074.3v-6.6M871.9 1511.4v6.6M871.9 1074.3v-6.6M900.9 1511.4v6.6M900.9 1074.3v-6.6M958.9 1511.4v6.6M958.9 1074.3v-6.6M987.9 1511.4v6.6M987.9 1074.3v-6.6M1016.9 1511.4v6.6M1016.9 1074.3v-6.6M1045.9 1511.4v6.6M1045.9 1074.3v-6.6M1104.0 1511.4v6.6M1104.0 1074.3v-6.6M1133.0 1511.4v6.6M1133.0 1074.3v-6.6M1162.0 1511.4v6.6M1162.0 1074.3v-6.6M1191.0 1511.4v6.6M1191.0 1074.3v-6.6M1249.0 1511.4v6.6M1249.0 1074.3v-6.6M1278.0 1511.4v6.6M1278.0 1074.3v-6.6M1307.0 1511.4v6.6M1307.0 1074.3v-6.6M1336.0 1511.4v6.6M1336.0 1074.3v-6.6M783.9 1481.4h-6.6M1366.0 1481.4h6.6M783.9 1452.4h-6.6M1366.0 1452.4h6.6M783.9 1423.4h-6.6M1366.0 1423.4h6.6M783.9 1394.4h-6.6M1366.0 1394.4h6.6M783.9 1336.4h-6.6M1366.0 1336.4h6.6M783.9 1307.4h-6.6M1366.0 1307.4h6.6M783.9 1278.3h-6.6M1366.0 1278.3h6.6M783.9 1249.3h-6.6M1366.0 1249.3h6.6M783.9 1191.3h-6.6M1366.0 1191.3h6.6M783.9 1162.3h-6.6M1366.0 1162.3h6.6M783.9 1133.3h-6.6M1366.0 1133.3h6.6M783.9 1104.3h-6.6M1366.0 1104.3h6.6" stroke="#000" stroke-width="1.5" fill="none"/>
<path d="M784.9 1511.4v7.6M784.9 1074.3v-7.6M929.9 1511.4v7.6M929.9 1074.3v-7.6M1075.0 1511.4v7.6M1075.0 1074.3v-7.6M1220.0 1511.4v7.6M1220.0 1074.3v-7.6M1365.0 1511.4v7.6M1365.0 1074.3v-7.6M783.9 1510.4h-7.6M1366.0 1510.4h7.6M783.9 1365.4h-7.6M1366.0 1365.4h7.6M783.9 1220.3h-7.6M1366.0 1220.3h7.6M783.9 1075.3h-7.6M1366.0 1075.3h7.6" stroke="#000" stroke-width="2" fill="none"/>
<rect x="784.9" y="1075.3" width="580.1" height="435.1" fill="none" stroke="#000" stroke-width="2.7"/>
<text x="784.9" y="1542.9" text-anchor="middle" font-size="22.8">90E</text>
<text x="929.9" y="1542.9" text-anchor="middle" font-size="22.8">100E</text>
<text x="1075.0" y="1542.9" text-anchor="middle" font-size="22.8">110E</text>
<text x="1220.0" y="1542.9" text-anchor="middle" font-size="22.8">120E</text>
<text x="1365.0" y="1542.9" text-anchor="middle" font-size="22.8">130E</text>
<text x="770.9" y="1518.6" text-anchor="end" font-size="22.8">10N</text>
<text x="770.9" y="1373.6" text-anchor="end" font-size="22.8">20N</text>
<text x="770.9" y="1228.5" text-anchor="end" font-size="22.8">30N</text>
<text x="770.9" y="1083.5" text-anchor="end" font-size="22.8">40N</text>
<text x="783.9" y="1048.7" font-size="22.8">(f) OLR</text>

</g>
<g id="panel-g">
<g clip-path="url(#cpg)">
<path d="M368.4 1835.7l19.8-7.1 53.2-6.9 73 1.3 36.4 2.9 0 23.8-6.9 4.3-29.5 7-36.5 4.2-36.5-4.2-42.1 16.8-2.7 4.2-28.2 7.1z" fill="#c1c1c1"/>
<path d="M490.5 1855.3l18.3-16.8 4.2-1.5 4.2 9.9-8.4 9.9z" fill="#9b9b9b"/>
<path d="M64 1687l14.5-.2 8.4-1.3 20.2 1.6 20.2-5 18.6-1.7 11.7-3.4 16.9 1.7 10.1-1.7 10.1 2.6 15.1 5.9 6.8 5.9 11.8 5 16.8 5.9 15.2 6.8 5 5-8.4 6.8-3.4-2.6-8.4-.8-6.7 4.2 5 4.2 13.5 2.5 6.7 9.3 11.8 6.7 1.7 6.8 8.4 11.8 5.1 10.1-1.7 6.7-10.1 11.8 .8 6.8-7.6 5-11.7 8.5-9.3 15.1 8.4 8.4-4.2 11.8-6.7 8.5-10.1 3.3-6.8 3.4-10.1 4.2-6.7 7.6-8.4 6.8-8.5-3.4-.8-8.4 2.5-8.5-5-8.4-8.4-.8-11.8 4.2-5.1-8.5-8.4-6.7 0-6.7-6.7 6.7-6.8-1.7-3.3-5-4.2 1.6-4.3 6.8-10.1 2.5-8.4 7.6-11.8 4.2-5.9 6.8-3.3-5.9-9.3 1.6-8.4 .9-14.5 5.4z" fill="#000" stroke="#2aa9a2" stroke-width="3" stroke-linejoin="round"/>
<path d="M507.6 1671.1l0 5.1-4.3 2.6-4.4 6.8-7.9 1.4-6.6-1.8-6.2 7.1 3.3 5.9 14.5 8.4 2.5 5.8 5.8 4.2 5.9 0 5.1-5.8 9.7-4.2 8.7 4.2 17 2.5-1.8 6.6-6.6-1.6-16.1 5.6-3.4 5.3-12.6 6.8-5 5.8-3.4 6.8 16.8 8 8.5 24.9 10.1 6 2.3 6.8-7.2 .7 8.7 8.4-.5 2.5-11.1 3.5-9 5.2 6.7 1.4 7.5-.8 8.8 3.3-2 12-6.2 6.5 1.1 5.1-2.6 3.1-4.3 .3-16.7 21.6-4.2 0 1.2 7.9-4.5 9.2-9.2 7.8-1.7 4.8-7.7 .4 0 4.6-10 7.7-20.3 12.9-15.9 3.1-6.9 0-5 5.5-7.1-5.5-2.5 6.6-5.9-4.2-1.3 6.8-13.5 4.2-8.4 3.7-15.3 3-2.4 5.1 3.3 5.9-3.3 2.5-5.1 0-3.9-10 1.4-5.5-4.2 0-6.3-3.8-8 0-7.6 2.8-11.8 6-5.8 4.7-4.3 6.7-7.6 5-4.7 13.5 3.8 6.8 6.8 5.8 1.7 6 12.7 12.6 8.4 6.8 13.5 15.1 4.9 14.3 1.7 9.3-1.3 28.7-2.9 5-19.3 10.2-5.9 4.2-8.4 0 0 8.4M540.5 1671.1l0 5.1-7.9 5 4.6 5.1-5.9 6 5.9-1.8 10.9-8.4 23.3-5.9 20.5 5.9-5.1 11.8-4.2 8.4 8.4 5.3 10.9-1.1 7.6 5 1.8 6-8.4 1.4 8.8 17.1-5.5 6.1-.3 7.3 3.2 7.2 12.3-5.8 15.3-2.9 10.1-4.3 3.2-9.3 .9-10-4.1-15.2-11.6-14.8-11.6-10.2-2.9-7.2 11.6-4.3 21.8-10.2M662.7 1768.2l-11.5 2.9 2.9 8.7 8.6 1.5M648.3 1846.5l5.8-4.4M625.1 1876.9l1.4-5.8 5.1-2.9 2.2-3.6M536.3 1887.5l5.1 2.9 0 6.4-7.7 23.6-5.8 6.8-2.6 7.7-2.5-6.1-4.6-3.3-2.5-8.4 .5-6.9 11.7-18.5 8.4-4.2M349 1973.4l13.8-8.7 8.4-1.3 11.7 .3 0 4.7-5 5.9-2.5 6.8-5.1 4.9-7.5 3.5-5.9-.4-6.7-3.8-1.2-11.9M522.8 1985.8l6-1.4 6.7 3.4 5.9 1.3 5.8-3.3-2.2 15.5 4.7 4.2-1.6 5.9-11.8 14.4-2 6.6 6.2 17.7 5.1 1.7 5.8-3.3 6.8 .9 12.6 5.8-5 1.4 2.6 5.4 5.8 4.8-4.2 1-5.8-2.5-6-8.4-5.1-1.7-.8 8.4-5.1-6.7-7.5-5.1-7.6 5.1-8.5-2.6-.3-8.4 4.6-2.8-3.7-3-1.6 4.9-3.1-2.9-5.1-2-1.7-11.9-1.6-9.3 7.5 1.8 2.2-16.1-2.6-5.8 4.6-13M519.5 2059.4l12.6 1.1 4.5 4.8-.3 8.4-5.3 3.8-3.9-5.4-3.4-8.5-4.2-4.2M575.9 2072.9l13.5-.8 4.2 6.7 .3 7.5 2.2 7.3-10.6 .4-.3 5.1 4.6 5.8-6.6 1.7-.6-7.5-4.2-1.7-.3-8.5 5.3 0 2.1-5-6.3-4.2-3.3-6.8M541.4 2082.1l8.4 1.5 .9 2.7 8.4 .9 .7 7.5 5.1 1.8 .4 4.2 6.1-6.7 .3 12.6 4.1 5.1-20.3 0-.3-4.2-.3-4.2-13.5-2.2 2-10.6-2-8.4M494.6 2111.7l2.2-3.9 6.6-8.7 2.9-8.6 2.8 11.1-8.1 5.9-2.1 4.2M75.6 1936.3l5.4 1.8 5.9-6 11.8-7.9 5.5 6.3 4.6 16.8 15.2 17.7 5 0 3.7 6.3-2.9 3.3 3.8 6.5 5.5 0 4.2 13.5 1.2 10-4.5 16.1 10.8 5.1 7.1 0 5.1-5.1 12.8-7.3 2.9-4.9 5.9 3.8 4.7 5.8 4.6 23.6 4.2 14.3 4.6 8.5 2.9 8.4-4.2 8.4 3.7 7.6 0 5.8-3.7 5.1 0 11.9M210.7 2111.7l2.5-13.5 4.2-6.8 4.6-12.6 1-17.7 6.3-3 7.5 2.7 0 8.3 12.6 1.3 12.6 10.1 8.4 14.2 6 5.7 8.4 0 4.2 4.5 8.4 3.5 1.5 3.3M121 2060.2l-3.8 22.8" fill="none" stroke="#0000ff" stroke-width="1.9" stroke-linejoin="round"/>
<path d="M515.4 1686.2L513.6 1687.6M660.8 1742.0L658.5 1742.9M406.7 1767.7L404.2 1771.4M442.5 1768.1L440.8 1770.9M479.6 1768.7L476.9 1770.9M516.4 1769.1L512.9 1771.0M553.3 1768.7L548.5 1771.3M590.3 1766.9L583.6 1772.7M626.2 1767.7L620.4 1772.0M662.0 1768.3L657.1 1771.5M408.1 1792.2L402.7 1801.8M444.5 1792.6L438.8 1801.5M482.4 1793.8L474.1 1800.8M519.0 1793.8L510.0 1800.9M556.9 1792.2L545.3 1801.8M593.1 1793.0L581.6 1801.3M628.2 1794.2L618.5 1800.6M663.4 1795.2L655.8 1799.8M370.1 1820.3L367.6 1828.8M409.7 1818.5L401.7 1830.4M447.3 1818.9L437.1 1830.1M484.2 1818.9L473.0 1830.1M520.4 1817.9L509.2 1830.7M557.7 1817.1L544.8 1831.2M593.7 1818.9L581.2 1830.1M628.6 1821.7L618.3 1828.4M663.4 1822.9L655.8 1827.5M370.8 1845.0L367.0 1858.5M409.7 1844.0L401.7 1859.1M447.3 1844.6L437.1 1858.7M483.8 1844.6L473.2 1858.7M519.0 1844.6L510.0 1858.7M554.7 1845.6L546.6 1858.1M590.1 1847.8L583.4 1856.8M625.8 1851.4L621.0 1854.1M371.1 1871.3L366.9 1887.0M407.9 1872.7L402.8 1886.2M445.3 1873.7L438.3 1885.6M481.6 1874.5L474.5 1885.1M516.6 1875.5L511.6 1884.3M551.7 1876.5L548.8 1883.2M584.9 1878.7L585.9 1881.0M656.4 1882.7L658.2 1881.2M370.4 1900.4L367.2 1913.6M406.3 1901.6L403.7 1912.9M442.9 1903.2L439.9 1911.5M478.8 1906.2L477.1 1908.8M545.7 1908.6L550.9 1908.6M579.1 1910.2L590.0 1907.7M614.6 1912.4L626.7 1906.4M650.4 1913.6L663.2 1905.6M400.7 1937.1L406.0 1936.1M435.5 1937.9L443.7 1935.5M471.6 1939.5L480.4 1934.5M507.0 1939.9L517.3 1934.2M542.1 1940.5L554.3 1933.8M576.1 1941.9L591.8 1932.9M611.4 1943.3L628.7 1932.1M647.4 1943.9L665.2 1931.6M363.4 1964.9L370.7 1963.4M397.3 1965.7L409.2 1962.8M433.5 1966.7L445.4 1962.2M468.8 1968.1L482.3 1961.3M504.6 1969.9L518.7 1960.2M540.1 1970.9L555.5 1959.6M575.5 1972.3L592.3 1958.7M611.4 1973.3L629.1 1957.8M647.4 1973.9L665.6 1957.3M293.0 1993.0L296.5 1991.1M328.6 1993.4L333.4 1990.7M363.4 1993.2L370.9 1990.5M398.7 1993.6L408.1 1990.2M432.5 1995.6L446.0 1988.9M468.0 1997.6L482.7 1987.7M503.8 1999.2L519.2 1986.7M539.9 1999.8L555.6 1986.3M575.9 2000.8L592.2 1985.5M612.6 2001.2L628.2 1985.2M649.4 2001.4L664.0 1985.2M293.0 2021.9L296.9 2018.2M328.4 2022.3L333.9 2017.7M363.4 2020.5L370.8 2018.4M399.1 2021.1L407.7 2018.0M433.3 2024.1L445.5 2016.1M468.0 2026.9L482.7 2014.4M505.8 2026.5L518.0 2014.6M542.1 2027.1L554.3 2014.3M578.9 2026.9L590.1 2014.4M617.0 2025.7L625.3 2015.1M654.4 2025.1L660.8 2015.5M293.6 2050.6L296.9 2045.0M330.0 2050.6L333.1 2045.0M366.1 2049.8L369.2 2045.6M400.7 2051.8L407.0 2043.6M434.3 2052.6L444.9 2043.0M469.6 2053.0L481.8 2042.8M507.0 2052.2L517.3 2043.2M545.5 2051.0L552.0 2044.2M583.5 2049.8L586.7 2045.6M296.0 2077.3L296.0 2074.1M332.2 2078.3L332.2 2073.1M367.4 2080.3L369.0 2071.0M401.7 2082.3L406.5 2069.5M436.3 2082.1L443.7 2069.6M472.6 2079.9L480.0 2070.9M510.0 2077.9L514.9 2072.7M295.0 2099.4L295.9 2101.7M332.2 2106.2L332.2 2100.2M367.4 2108.8L369.1 2097.6M403.7 2108.6L405.3 2097.8M439.5 2106.8L441.6 2099.5M583.5 2102.8L585.8 2101.9M619.4 2103.6L622.6 2101.5M656.0 2103.4L658.5 2101.8M76.0 1910.1L78.6 1908.6M149.4 1911.4L151.2 1908.3M112.7 1965.6L114.7 1963.9M148.5 1963.1L150.8 1963.8M220.6 1964.1L223.6 1963.9M75.9 1992.9L78.7 1991.3M147.8 1992.2L151.5 1991.3M186.2 1994.0L187.3 1991.4M222.0 1994.1L223.6 1991.1M76.5 2020.7L78.4 2019.2M220.5 2020.2L223.8 2018.9M221.3 2048.7L223.6 2046.5M257.6 2048.5L259.8 2046.6M78.2 2077.1L78.5 2074.3M188.0 2077.0L187.2 2074.2M151.8 2104.3L151.0 2102.0M188.8 2104.7L187.0 2101.4M261.3 2104.2L259.7 2101.8" stroke="#000" stroke-width="2" fill="none"/><path d="M475.6 1689.4L476.0 1685.9L479.8 1685.2L479.0 1688.9ZM511.4 1689.4L513.7 1684.8L513.9 1687.4L516.3 1688.1ZM549.7 1690.1L547.6 1687.3L549.7 1684.1L551.8 1687.3ZM587.5 1689.4L584.1 1688.9L583.3 1685.2L587.1 1685.9ZM623.5 1689.6L620.2 1688.7L619.9 1684.8L623.6 1686.1ZM439.0 1714.3L442.4 1713.9L444.1 1717.3L440.2 1717.5ZM477.7 1717.7L475.0 1715.5L476.3 1711.9L479.1 1714.5ZM511.6 1716.8L512.5 1713.5L516.4 1713.2L515.1 1716.9ZM547.5 1714.6L550.9 1713.7L553.1 1716.8L549.3 1717.6ZM584.0 1714.2L587.5 1713.9L589.0 1717.5L585.1 1717.5ZM620.0 1714.6L623.3 1713.6L625.6 1716.7L621.8 1717.6ZM656.2 1714.9L659.4 1713.5L662.0 1716.3L658.3 1717.6ZM402.8 1741.7L406.3 1741.5L407.8 1745.0L403.9 1745.0ZM438.8 1742.3L442.0 1741.1L444.4 1744.2L440.7 1745.1ZM475.1 1742.0L478.5 1741.3L480.5 1744.6L476.6 1745.1ZM511.5 1741.8L514.9 1741.4L516.6 1744.9L512.7 1745.0ZM547.4 1743.0L550.1 1740.9L553.3 1743.0L550.1 1745.1ZM583.7 1743.6L585.7 1740.8L589.4 1741.9L587.0 1744.9ZM620.0 1743.7L621.9 1740.8L625.6 1741.8L623.3 1744.9ZM656.0 1744.0L659.4 1740.3L659.0 1742.7L661.1 1744.2ZM402.7 1773.7L403.5 1768.7L404.5 1771.0L407.0 1771.0ZM439.3 1773.3L439.9 1768.2L441.0 1770.5L443.6 1770.5ZM474.8 1772.7L477.0 1768.1L477.3 1770.6L479.7 1771.4ZM510.4 1772.3L513.5 1768.2L513.3 1770.8L515.5 1772.0ZM546.1 1772.7L549.1 1768.6L548.9 1771.1L551.1 1772.3ZM581.5 1774.5L583.6 1769.9L583.9 1772.4L586.4 1773.1ZM618.2 1773.7L620.6 1769.2L620.7 1771.7L623.1 1772.6ZM654.8 1773.1L657.5 1768.8L657.5 1771.3L659.8 1772.3ZM401.3 1804.2L401.7 1799.2L402.9 1801.4L405.4 1801.2ZM437.3 1803.8L438.0 1798.8L439.1 1801.1L441.6 1801.1ZM472.0 1802.6L474.1 1798.0L474.4 1800.5L476.9 1801.3ZM507.8 1802.6L510.2 1798.0L510.4 1800.6L512.9 1801.4ZM542.5 1804.2L545.4 1798.1L545.8 1801.4L549.0 1802.4ZM578.7 1803.4L581.9 1797.8L582.0 1801.0L585.0 1802.2ZM616.2 1802.2L618.9 1797.7L618.9 1800.4L621.3 1801.4ZM653.4 1801.2L656.3 1797.0L656.2 1799.6L658.4 1800.7ZM366.8 1831.5L366.1 1826.5L367.7 1828.4L370.1 1827.6ZM399.7 1833.3L400.7 1826.9L402.0 1829.9L405.2 1829.9ZM434.5 1832.9L436.6 1826.3L437.5 1829.7L440.9 1830.2ZM470.2 1832.9L472.7 1826.1L473.4 1829.7L476.9 1830.4ZM506.4 1833.9L508.6 1826.5L509.7 1830.2L513.5 1830.7ZM541.7 1834.7L544.3 1826.5L545.4 1830.6L549.6 1831.3ZM578.1 1832.9L581.1 1825.9L581.7 1829.7L585.4 1830.6ZM615.8 1830.1L618.7 1825.4L618.7 1828.1L621.3 1829.3ZM653.4 1828.9L656.3 1824.7L656.2 1827.2L658.4 1828.3ZM366.1 1861.8L365.1 1855.6L367.2 1857.9L370.2 1857.0ZM399.7 1862.8L400.1 1855.1L402.0 1858.5L405.8 1858.1ZM434.5 1862.2L436.1 1854.5L437.5 1858.2L441.4 1858.4ZM470.6 1862.2L472.3 1854.4L473.6 1858.2L477.6 1858.4ZM507.8 1862.2L508.8 1854.7L510.4 1858.2L514.2 1858.1ZM544.7 1861.2L545.6 1854.6L547.0 1857.6L550.3 1857.6ZM581.7 1859.0L582.8 1854.1L583.7 1856.4L586.2 1856.6ZM618.6 1855.4L621.5 1851.3L621.4 1853.9L623.6 1855.0ZM656.3 1854.5L657.9 1851.3L661.7 1851.8L659.8 1855.1ZM365.8 1890.9L364.6 1883.7L367.1 1886.4L370.5 1885.2ZM401.5 1889.5L401.1 1883.0L403.0 1885.6L406.2 1884.9ZM436.5 1888.5L437.2 1882.3L438.6 1885.1L441.7 1885.0ZM472.8 1887.7L473.7 1882.0L474.8 1884.7L477.7 1884.7ZM510.2 1886.7L510.7 1881.7L511.8 1883.9L514.3 1883.8ZM547.7 1885.7L547.6 1880.6L549.0 1882.8L551.4 1882.3ZM586.9 1883.5L583.2 1880.1L585.7 1880.5L587.1 1878.4ZM624.1 1879.8L622.9 1883.1L619.1 1883.2L620.6 1879.6ZM660.4 1879.5L658.1 1884.0L657.9 1881.5L655.5 1880.7ZM366.4 1916.8L365.3 1910.8L367.4 1913.1L370.3 1912.0ZM403.1 1915.6L402.0 1910.5L403.8 1912.4L406.3 1911.5ZM438.9 1914.0L438.6 1909.0L440.1 1911.0L442.5 1910.5ZM475.6 1911.0L476.4 1906.0L477.4 1908.4L479.9 1908.4ZM515.4 1909.8L511.9 1910.2L510.3 1906.8L514.1 1906.6ZM553.7 1908.6L549.1 1910.8L550.4 1908.6L549.1 1906.5ZM592.7 1907.0L588.7 1910.2L589.6 1907.8L587.7 1906.0ZM629.8 1904.8L625.9 1909.7L626.2 1906.6L623.6 1905.0ZM666.4 1903.6L662.6 1909.4L662.7 1906.0L659.6 1904.5ZM298.0 1935.3L296.5 1938.4L292.7 1938.0L294.6 1934.6ZM334.5 1936.3L331.7 1938.4L328.5 1936.3L331.7 1934.2ZM368.4 1938.6L366.3 1935.9L368.4 1932.6L370.6 1935.9ZM408.7 1935.5L404.6 1938.5L405.5 1936.2L403.8 1934.4ZM446.3 1934.7L442.5 1938.1L443.3 1935.6L441.3 1934.0ZM482.8 1933.1L479.8 1937.2L480.0 1934.7L477.7 1933.6ZM519.8 1932.7L516.7 1937.0L516.9 1934.4L514.5 1933.2ZM557.3 1932.1L553.5 1937.2L553.8 1934.1L551.0 1932.6ZM595.7 1930.7L590.9 1937.4L591.2 1933.3L587.5 1931.5ZM633.0 1929.3L628.0 1937.2L628.0 1932.6L623.7 1930.7ZM669.4 1928.7L664.6 1936.8L664.5 1932.1L660.2 1930.3ZM298.2 1963.2L296.1 1966.0L292.4 1964.9L294.9 1962.0ZM334.5 1963.9L331.7 1966.0L328.5 1963.9L331.7 1961.8ZM373.4 1962.9L369.4 1965.8L370.3 1963.5L368.5 1961.7ZM412.1 1962.1L407.8 1965.5L408.7 1962.9L406.7 1961.0ZM448.3 1961.1L444.3 1965.2L444.9 1962.4L442.6 1960.7ZM485.6 1959.7L481.3 1965.0L481.7 1961.6L478.8 1959.9ZM522.2 1957.9L518.2 1964.5L518.2 1960.6L514.6 1959.2ZM559.3 1956.9L555.1 1964.4L554.8 1960.1L550.8 1958.6ZM596.3 1955.5L592.2 1963.8L591.7 1959.2L587.2 1957.8ZM633.0 1954.5L629.1 1963.0L628.5 1958.4L624.0 1957.1ZM669.4 1953.9L665.7 1962.5L665.0 1957.9L660.5 1956.7ZM299.0 1989.8L295.9 1993.8L296.1 1991.3L293.9 1990.1ZM335.8 1989.4L332.8 1993.5L333.0 1991.0L330.8 1989.8ZM373.4 1989.6L369.8 1993.2L370.4 1990.7L368.4 1989.2ZM410.7 1989.2L407.1 1992.8L407.7 1990.3L405.6 1988.8ZM449.3 1987.2L445.1 1992.5L445.5 1989.1L442.5 1987.4ZM486.4 1985.2L482.2 1992.1L482.1 1988.1L478.4 1986.5ZM523.0 1983.6L519.1 1991.7L518.6 1987.2L514.3 1985.8ZM559.5 1983.0L555.6 1991.5L555.0 1986.9L550.5 1985.6ZM595.9 1982.0L592.4 1990.7L591.6 1986.1L587.0 1985.0ZM631.8 1981.6L628.6 1990.4L627.6 1985.9L623.0 1984.9ZM667.4 1981.4L664.6 1990.3L663.4 1985.8L658.8 1985.1ZM299.0 2016.3L297.0 2021.0L296.6 2018.5L294.2 2017.9ZM336.0 2015.9L333.9 2020.5L333.5 2018.0L331.1 2017.2ZM373.4 2017.7L369.6 2021.0L370.3 2018.6L368.4 2016.9ZM410.3 2017.1L406.7 2020.6L407.3 2018.2L405.3 2016.6ZM448.5 2014.1L445.0 2019.7L445.0 2016.4L442.0 2015.1ZM486.4 2011.3L482.7 2019.2L482.1 2014.9L477.9 2013.6ZM521.0 2011.7L518.3 2018.9L517.5 2015.1L513.8 2014.3ZM557.3 2011.1L554.7 2018.7L553.8 2014.8L549.8 2014.1ZM592.9 2011.3L590.7 2018.6L589.7 2014.9L585.9 2014.3ZM627.4 2012.5L625.9 2018.4L625.0 2015.5L621.9 2015.3ZM662.4 2013.1L661.6 2018.3L660.6 2015.9L657.9 2015.8ZM298.4 2042.6L297.8 2047.7L296.7 2045.4L294.2 2045.5ZM334.4 2042.6L334.0 2047.7L332.9 2045.4L330.3 2045.6ZM370.8 2043.4L369.8 2048.4L368.9 2046.0L366.4 2045.8ZM408.7 2041.4L407.6 2046.4L406.7 2044.0L404.2 2043.8ZM447.5 2040.6L445.0 2046.6L444.5 2043.4L441.4 2042.6ZM484.8 2040.2L481.7 2046.8L481.3 2043.2L477.8 2042.1ZM519.8 2041.0L517.3 2046.7L516.9 2043.6L513.9 2042.8ZM553.9 2042.2L552.2 2047.0L551.6 2044.6L549.2 2044.1ZM588.3 2043.4L587.2 2048.4L586.4 2046.0L583.9 2045.8ZM623.4 2044.7L623.7 2048.2L620.1 2049.7L620.1 2045.8ZM660.0 2045.0L659.6 2048.4L655.8 2049.2L656.6 2045.5ZM296.0 2071.3L298.1 2075.9L296.0 2074.5L293.8 2075.9ZM332.2 2070.3L334.3 2074.9L332.2 2073.5L330.1 2074.9ZM369.4 2068.3L370.8 2073.2L368.9 2071.5L366.6 2072.5ZM407.7 2066.3L408.1 2072.5L406.3 2070.0L403.3 2070.7ZM445.5 2066.5L444.9 2073.1L443.4 2070.1L440.1 2070.3ZM481.8 2068.7L480.4 2073.8L479.7 2071.3L477.0 2071.0ZM516.8 2070.7L515.2 2075.5L514.6 2073.0L512.1 2072.6ZM551.6 2073.1L550.4 2076.4L546.5 2076.2L548.2 2072.7ZM588.2 2074.3L585.5 2076.4L582.2 2074.3L585.5 2072.2ZM624.2 2073.3L622.7 2076.4L618.9 2076.0L620.8 2072.6ZM660.5 2073.3L658.9 2076.4L655.1 2076.0L657.0 2072.6ZM297.0 2104.2L293.2 2100.8L295.7 2101.3L297.1 2099.2ZM332.2 2097.4L334.3 2102.0L332.2 2100.7L330.1 2102.0ZM369.4 2094.8L370.9 2099.8L369.0 2098.1L366.7 2099.2ZM405.7 2095.0L407.1 2099.9L405.2 2098.2L402.9 2099.3ZM442.3 2096.8L443.1 2101.8L441.5 2099.9L439.1 2100.7ZM477.2 2099.5L479.3 2102.3L477.2 2105.5L475.1 2102.3ZM515.1 2100.2L514.6 2103.7L510.8 2104.4L511.6 2100.7ZM551.7 2100.8L550.2 2103.9L546.4 2103.5L548.3 2100.2ZM588.3 2100.8L584.9 2104.6L585.3 2102.1L583.3 2100.7ZM625.0 2100.0L622.2 2104.3L622.2 2101.8L619.9 2100.8ZM660.8 2100.2L658.1 2104.6L658.1 2102.0L655.8 2101.0ZM81.0 1907.2L78.0 1911.3L78.2 1908.8L76.0 1907.7ZM117.0 1908.4L114.5 1910.8L111.1 1909.0L114.1 1906.6ZM152.6 1905.9L152.1 1910.9L151.0 1908.7L148.5 1908.8ZM80.8 1936.7L77.7 1938.4L74.9 1935.8L78.4 1934.2ZM117.0 1936.9L113.7 1938.2L111.2 1935.4L114.9 1934.2ZM153.2 1937.0L149.9 1938.2L147.5 1935.2L151.2 1934.2ZM80.3 1962.4L79.5 1965.8L75.6 1966.2L76.8 1962.5ZM116.8 1962.1L114.7 1966.7L114.3 1964.2L111.9 1963.5ZM153.5 1964.7L148.4 1965.3L150.4 1963.7L149.7 1961.2ZM189.5 1963.7L186.9 1966.0L183.6 1964.1L186.6 1961.8ZM226.3 1963.6L221.9 1966.1L223.1 1963.9L221.5 1961.9ZM261.9 1963.1L260.0 1966.0L256.3 1965.1L258.6 1962.0ZM81.1 1989.9L78.1 1994.0L78.3 1991.5L76.1 1990.3ZM117.0 1991.1L114.6 1993.6L111.1 1991.9L114.0 1989.4ZM154.2 1990.6L150.3 1993.8L151.1 1991.4L149.2 1989.7ZM188.3 1988.8L188.5 1993.9L187.1 1991.8L184.6 1992.3ZM225.0 1988.7L224.6 1993.7L223.4 1991.5L220.9 1991.7ZM262.0 1990.8L259.8 1993.6L256.1 1992.3L258.8 1989.5ZM80.5 2017.5L78.3 2022.0L78.0 2019.5L75.6 2018.7ZM117.0 2018.6L114.8 2021.3L111.2 2019.9L113.8 2017.1ZM153.2 2018.4L151.2 2021.2L147.5 2020.1L149.9 2017.2ZM189.5 2018.9L186.9 2021.2L183.6 2019.4L186.6 2017.0ZM226.4 2017.9L222.9 2021.6L223.4 2019.1L221.4 2017.6ZM261.7 2017.8L260.5 2021.1L256.6 2021.1L258.2 2017.6ZM80.8 2046.4L78.2 2048.8L74.8 2046.9L77.9 2044.6ZM117.0 2046.7L114.2 2048.7L111.1 2046.5L114.3 2044.5ZM153.1 2045.6L151.5 2048.7L147.7 2048.3L149.6 2044.9ZM189.3 2045.7L187.7 2048.7L183.9 2048.1L186.0 2044.9ZM225.6 2044.6L223.7 2049.3L223.3 2046.8L220.8 2046.2ZM261.8 2044.7L259.8 2049.4L259.4 2046.9L257.0 2046.2ZM78.8 2071.5L80.4 2076.3L78.5 2074.7L76.2 2075.9ZM114.7 2072.0L116.9 2074.7L114.8 2078.0L112.6 2074.8ZM149.6 2072.5L152.9 2073.4L153.3 2077.2L149.6 2076.0ZM186.5 2071.6L189.7 2075.4L187.3 2074.7L185.7 2076.6ZM223.0 2072.1L225.6 2074.3L224.2 2077.9L221.5 2075.2ZM260.4 2072.1L261.6 2075.3L258.7 2077.8L257.6 2074.2ZM79.3 2099.7L80.3 2103.0L77.2 2105.3L76.4 2101.5ZM113.4 2100.0L116.7 2100.9L116.9 2104.8L113.3 2103.5ZM150.1 2099.4L153.7 2103.0L151.2 2102.5L149.7 2104.5ZM185.7 2099.0L189.7 2102.0L187.2 2101.8L186.0 2104.0ZM222.4 2099.8L225.5 2101.2L225.3 2105.1L221.8 2103.3ZM258.2 2099.5L262.5 2102.2L260.0 2102.2L259.0 2104.5Z" fill="#000" stroke="#000" stroke-width="0.8" stroke-linejoin="miter"/>
<rect x="223.5" y="1833.4" width="333.4" height="159.4" fill="none" stroke="#ff0000" stroke-width="4.6" stroke-dasharray="4.6 5.9" stroke-linecap="round"/>
</g>
<path d="M107.5 2109.8v6.6M107.5 1673.0v-6.6M136.5 2109.8v6.6M136.5 1673.0v-6.6M165.5 2109.8v6.6M165.5 1673.0v-6.6M194.5 2109.8v6.6M194.5 1673.0v-6.6M252.5 2109.8v6.6M252.5 1673.0v-6.6M281.5 2109.8v6.6M281.5 1673.0v-6.6M310.5 2109.8v6.6M310.5 1673.0v-6.6M339.5 2109.8v6.6M339.5 1673.0v-6.6M397.4 2109.8v6.6M397.4 1673.0v-6.6M426.4 2109.8v6.6M426.4 1673.0v-6.6M455.4 2109.8v6.6M455.4 1673.0v-6.6M484.4 2109.8v6.6M484.4 1673.0v-6.6M542.4 2109.8v6.6M542.4 1673.0v-6.6M571.4 2109.8v6.6M571.4 1673.0v-6.6M600.4 2109.8v6.6M600.4 1673.0v-6.6M629.4 2109.8v6.6M629.4 1673.0v-6.6M77.5 2079.8h-6.6M659.4 2079.8h6.6M77.5 2050.8h-6.6M659.4 2050.8h6.6M77.5 2021.8h-6.6M659.4 2021.8h6.6M77.5 1992.9h-6.6M659.4 1992.9h6.6M77.5 1934.9h-6.6M659.4 1934.9h6.6M77.5 1905.9h-6.6M659.4 1905.9h6.6M77.5 1876.9h-6.6M659.4 1876.9h6.6M77.5 1847.9h-6.6M659.4 1847.9h6.6M77.5 1789.9h-6.6M659.4 1789.9h6.6M77.5 1761.0h-6.6M659.4 1761.0h6.6M77.5 1732.0h-6.6M659.4 1732.0h6.6M77.5 1703.0h-6.6M659.4 1703.0h6.6" stroke="#000" stroke-width="1.5" fill="none"/>
<path d="M78.5 2109.8v7.6M78.5 1673.0v-7.6M223.5 2109.8v7.6M223.5 1673.0v-7.6M368.4 2109.8v7.6M368.4 1673.0v-7.6M513.4 2109.8v7.6M513.4 1673.0v-7.6M658.4 2109.8v7.6M658.4 1673.0v-7.6M77.5 2108.8h-7.6M659.4 2108.8h7.6M77.5 1963.9h-7.6M659.4 1963.9h7.6M77.5 1818.9h-7.6M659.4 1818.9h7.6M77.5 1674.0h-7.6M659.4 1674.0h7.6" stroke="#000" stroke-width="2" fill="none"/>
<rect x="78.5" y="1674.0" width="579.9" height="434.8" fill="none" stroke="#000" stroke-width="2.7"/>
<text x="78.5" y="2141.3" text-anchor="middle" font-size="22.8">90E</text>
<text x="223.5" y="2141.3" text-anchor="middle" font-size="22.8">100E</text>
<text x="368.4" y="2141.3" text-anchor="middle" font-size="22.8">110E</text>
<text x="513.4" y="2141.3" text-anchor="middle" font-size="22.8">120E</text>
<text x="658.4" y="2141.3" text-anchor="middle" font-size="22.8">130E</text>
<text x="64.5" y="2117.0" text-anchor="end" font-size="22.8">10N</text>
<text x="64.5" y="1972.1" text-anchor="end" font-size="22.8">20N</text>
<text x="64.5" y="1827.1" text-anchor="end" font-size="22.8">30N</text>
<text x="64.5" y="1682.2" text-anchor="end" font-size="22.8">40N</text>
<text x="77.5" y="1646.8" font-size="22.8">(g) UV925</text>
<rect x="613.3" y="1674.0" width="45.1" height="34.1" fill="#fff" stroke="#000" stroke-width="1.6"/>
<path d="M616.2 1696.1H652.8" stroke="#000" stroke-width="1.8"/>
<path d="M655.8 1696.1l-10 -4.3l3 4.3l-3 4.3z" fill="#000"/>
<text x="636.3" y="1686.6" text-anchor="middle" font-size="12.3" stroke-width="0.1">1</text>
</g>
<g id="panel-h">
<g clip-path="url(#cph)">
<rect x="784.9" y="1669.4" width="580.1" height="434.9" fill="#1e2d62"/>
<path fill="#243f83" fill-rule="evenodd" d="M938 1656l28 0 36 0 37 0 36 0 36 0 36 0 37 0 36 0 36 0 36 0 37 0 36 0 0 27 0 28 0 27 0 28 0 28 0 27 0 28 0 28 0 27 0 28 0 27 0 28 0 28 0 27 0 28 0 27 0 28-36 0-37 0-36 0-36 0-36 0-37 0-36 0-36 0-36 0-37 0-36 0-36 0-36 0-37 0-36 0-36 0 0-28 0-27 0-28 0-27 0-28 0-28 0-27 0-28 0-27 0-21 6-7-6-5 0-23 0-27 0-28 0-28 0-23 36 0 36 0 37 0 36 0 36-1 18-3-18-8-26-20zM1002 1845l-2 4 2 12 13-12z"/>
<path fill="#2a5ba8" fill-rule="evenodd" d="M941 1656l25 0 36 0 37 0 36 0 36 0 36 0 37 0 36 0 36 0 36 0 37 0 36 0 0 27 0 28 0 27 0 28 0 28 0 27 0 28 0 28 0 27 0 28 0 27 0 28 0 28 0 27 0 28 0 27 0 28-36 0-37 0-36 0-36 0-36 0-37 0-36 0-36 0-36 0-37 0-36 0-36 0-36 0-37 0-36 0-36 0 0-28 0-27 0-28 0-27 0-28 0-28 0-27 0-28 0-27 0-17 9-11-9-7 0-21 0-27 0-28 0-28 0-20 36 0 36 0 37 0 36 0 36-3 27-4-27-12-21-16zM1002 1840l-6 9 6 28 37 2 10-2-10-8-8-20z"/>
<path fill="#4482c3" fill-rule="evenodd" d="M945 1656l21 0 36 0 37 0 36 0 36 0 36 0 37 0 36 0 36 0 36 0 37 0 36 0 0 27 0 28 0 27 0 28 0 28 0 27 0 28 0 28 0 27 0 28 0 27 0 28 0 28 0 27 0 28 0 27 0 28-36 0-37 0-36 0-36 0-36 0-37 0-36 0-36 0-36 0-37 0-36 0-36 0-36 0-37 0-36 0-36 0 0-28 0-27 0-28 0-27 0-28 0-28 0-27 0-28 0-27 0-13 12-15-12-9 0-19 0-27 0-28 0-28 0-18 36 0 36 0 37 0 36 0 36-3 36-6-36-16-15-12zM1002 1834l-9 15 5 28 4 5 37 7 36-3 26-9-26-14-18-14-18-6z"/>
<path fill="#5fa5d7" fill-rule="evenodd" d="M949 1656l17 0 36 0 37 0 36 0 36 0 36 0 37 0 36 0 36 0 36 0 37 0 36 0 0 27 0 28 0 27 0 28 0 28 0 27 0 28 0 28 0 27 0 28 0 27 0 28 0 28 0 27 0 28 0 27 0 28-36 0-37 0-36 0-36 0-36 0-37 0-36 0-36 0-36 0-37 0-36 0-36 0-36 0-37 0-36 0-36 0 0-28 0-27 0-28 0-27 0-28 0-28 0-27 0-28 0-27 0-10 14-18-14-12 0-16 0-27 0-28 0-28 0-16 36 0 36 0 37 0 36 0 36-3 36-6 6-2-6-4-36-16-10-8zM1002 1829l-13 20 4 28 9 11 37 11 36 5 36-15 36-9 10-3 16-28-26-15-36 7-36-3-36-6z"/>
<path fill="#7fc0e8" fill-rule="evenodd" d="M953 1656l13 0 36 0 37 0 36 0 36 0 36 0 37 0 36 0 36 0 36 0 37 0 36 0 0 27 0 28 0 27 0 28 0 28 0 27 0 28 0 28 0 27 0 28 0 27 0 28 0 28 0 27 0 28 0 27 0 28-36 0-37 0-36 0-36 0-36 0-37 0-36 0-36 0-36 0-37 0-36 0-36 0-36 0-37 0-36 0-36 0 0-28 0-27 0-28 0-27 0-28 0-28 0-27 0-28 0-27 0-6 17-22-17-14 0-14 0-27 0-28 0-28 0-13 36 0 36 0 37 0 36 0 36-5 36-5 12-4-12-7-36-17-5-4zM1039 1821l-37 3-16 25 2 28 14 16 29 11 8 4 36 3 36-7 36-16 28-11 9-11 10-17 23-28-33-18-37 0-36 6-36 7z"/>
<path fill="#a1daf4" fill-rule="evenodd" d="M957 1656l9 0 36 0 37 0 36 0 36 0 36 0 37 0 36 0 36 0 36 0 37 0 36 0 0 27 0 28 0 27 0 28 0 28 0 27 0 28 0 28 0 27 0 28 0 27 0 28 0 28 0 27 0 28 0 27 0 28-36 0-37 0-36 0-36 0-36 0-37 0-36 0-36 0-36 0-37 0-36 0-36 0-36 0-37 0-36 0-36 0 0-28 0-27 0-28 0-27 0-28 0-28 0-27 0-28 0-27 0-2 20-26-20-16 0-12 0-27 0-28 0-28 0-11 36 0 36 0 37 0 36 0 36-5 36-5 18-6-18-11-36-17zM1111 1743l-20 23-16 18-10 10-26 9-37 11-3 7-17 28 1 28 19 22 15 5 22 10 36 4 36-7 17-7 19-9 37-15 6-3 17-28 13-15 8-13-5-27-3-3-36-11-37-10-6-4z"/>
<path fill="#c3e7f7" fill-rule="evenodd" d="M960 1656l6 0 36 0 37 0 36 0 36 0 36 0 37 0 36 0 36 0 36 0 37 0 36 0 0 27 0 28 0 27 0 28 0 28 0 27 0 28 0 28 0 27 0 28 0 27 0 28 0 28 0 27 0 28 0 27 0 28-36 0-37 0-36 0-36 0-36 0-37 0-36 0-36 0-36 0-37 0-36 0-36 0-36 0-37 0-36 0-36 0 0-28 0-27 0-28 0-27 0-28 0-28 0-27 0-28 0-8 20-19 3-28-23-18 0-10 0-27 0-28 0-28 0-9 36 0 36 0 37 0 36 0 36-6 36-3 24-9-24-14-29-14-7-11zM1111 1727l-17 11-19 18-16 10-20 17-18 11-19 7-9 20-14 28-1 28 24 27 37 17 36 4 36-7 33-14 3-1 37-17 18-9 18-28 18-28 13-27-21-28-10-5-36-10-21-13-16-4z"/>
<path fill="#e0f2fa" fill-rule="evenodd" d="M964 1656l2 0 36 0 37 0 36 0 36 0 36 0 37 0 36 0 36 0 36 0 37 0 36 0 0 27 0 28 0 27 0 28 0 28 0 27 0 28 0 28 0 27 0 28 0 27 0 28 0 28 0 27 0 28 0 27 0 28-36 0-37 0-36 0-36 0-36 0-37 0-36 0-36 0-36 0-37 0-36 0-36 0-36 0-37 0-36 0-36 0 0-28 0-27 0-28 0-27 0-28 0-28 0-27 0-14 36 1 36-8 5-7-5-8-22-19-14-4-10-24-26-21 0-7 0-27 0-28 0-28 0-6 36 0 36 0 37 0 36 0 36-7 36-3 30-11-30-17-21-11-15-22zM1075 1738l-36 26-2 2-35 25-1 3-14 27-12 28-2 28 22 27 7 14 37 10 36 4 36-8 36-12 12-8 25-11 30-16 6-10 11-18 16-28 9-15 15-12 0-28-15-12-36-16-36-9-37-10-36-6z"/>
<path fill="#f2f9fc" fill-rule="evenodd" d="M980 1656l22 0 37 0 36 0 36 0 36 0 37 0 36 0 36 0 36 0 37 0 36 0 0 27 0 28 0 27 0 28 0 28 0 27 0 28 0 28 0 27 0 28 0 27 0 28 0 28 0 27 0 28 0 27 0 28-36 0-37 0-36 0-36 0-36 0-37 0-36 0-36 0-36 0-37 0-36 0-36 0-36 0-37 0-36 0-36 0 0-28 0-27 0-28 0-27 0-28 0-28 0-21 36 6 22-12 14-4 15-24-15-27-36-11-7-17-29-23 0-5 0-27 0-28 0-28 0-4 36 0 36 0 37 0 36 0 36-8 36-2 36-13-36-21-14-7zM1111 1702l-11 9-25 17-15 10-21 16-10 12-27 19-4 9-17 27-10 28-2 28 19 27 14 28 37 15 36 8 33-23 3-1 36-10 26-17 11-5 36-16 11-6 12-28 13-28 33-27 3-11 8-17-8-10-20-18-16-6-36-9-36-9-11-3-26-7zM930 1973l-15 14 15 12 29-12zM966 1959l-4 0 4 10 2-10z"/>
<path fill="#ffffff" fill-rule="evenodd" d="M995 1683l7-23 37-4 36 0 32 0 4 8 36 2 22-10 15 0 36 0 36 0 36 0 37 0 36 0 0 27 0 28 0 27 0 28 0 28 0 27 0 28 0 28 0 27 0 28 0 27 0 28 0 28 0 27 0 28 0 27 0 28-36 0-37 0-36 0-36 0-36 0-37 0-36 0-36 0-36 0-37 0-36 0-36 0-36 0-37 0-36 0-36 0 0-28 0-27 0-28 0-27 0-28 0-17 36 4 31-15 5-3 6 3 15 28 16 18 10 10 21 27 5 4 5-4 21-27 10-5 18 5 18 6 25-6-25-8-13-20 13-20 37 20 36 8 18-8 18-11 18-17 15-27 3-1 37-20 8-7 28-9 32-18 2-28 2-5 26-23 10-9 25-18 9-28-13-28-21-11-36-11-22-5-14-6-36-11-37-4-36 1-26 20-10 7-17-7-19-22-37-2zM785 1738l0-2 36 0 36 0 37 0 36 0 36-8 36-2 37 2 7 10-7 6-17 22-20 14-7 14-20 27-7 28-2 14-4 14 4 5 15 22 0 28-15 11-36 4-28-15-8-5-11-23-20-27-6-5-36-13-4-10-32-25 0-3 0-27 0-28z"/>
<path fill="#ffffff" fill-rule="evenodd" d="M1053 1656l22 0 19 0 15 27-34 26-31-26zM1267 1683l25-27 37 0 36 0 0 27 0 28 0 24-36-12-23-12-14-11zM930 1738l36-9 36-1 33 10-21 28-12 8-11 20-22 27-3 14-5 14-8 28 13 16 7 11-7 21-36 4-36-25-25-27-12-9-36-16-1-3 1-28 36 0 37 0 0-27 36-28zM1343 1821l22-16 0 16 0 28 0 28 0 27 0 28 0 27 0 28 0 28 0 27-36 0-37 0-36 0-36 28-36 27-37 28-36 0-36 0-36 0-37 0-36 0 0-28 36-27 37-17 10-11 26-14 15-13 21-13 36-7 37-5 12-3 24-28 14-27 4-28 18-7 27-20 9-21 3-7 34-24z"/>
<path fill="#fef8e2" fill-rule="evenodd" d="M1068 1656l7 0 6 0 20 27-26 20-23-20zM1305 1683l24-23 6-4 30 0 0 27 0 28 0 5-14-5-22-9zM936 1738l30-7 36 0 26 7-22 28-4 3-14 25-22 25-7 2-8 28-7 28 22 27-36 18-25-18-11-6-19-21-18-13-31-15 31-22 37 0 12-6 0-27 24-19 6-9zM1323 1849l6-4 36-11 0 15 0 28 0 27 0 28 0 27 0 23-36-4-37-3-36-12-3-4 3-3 26-24 2-28 8-6 17-21zM1142 2015l5-1 6 1-6 9-6 18-19 28-11 9-16 18-1 28-19 0-36 0-11 0 7-28 4-3 28-24 8-8 18-20 18-17z"/>
<path fill="#feeba8" fill-rule="evenodd" d="M1059 1683l16-22 18 22-18 14zM1329 1683l36-27 0 27 0 19zM942 1738l24-6 36 1 19 5-19 23-4 5-13 28-19 22-22 5-4 28-6 28 16 27-20 10-14-10-22-13-14-14-23-17-22-11 22-15 37-1 24-12 0-27 12-10 12-18zM1347 1877l18-14 0 14 0 27 0 28 0 27-36-22-5-5-5-28 10-16z"/>
<path fill="#fdd778" fill-rule="evenodd" d="M1066 1683l9-12 10 12-10 8zM1353 1683l12-9 0 9 0 6zM948 1738l18-4 36 1 11 3-11 14-12 14-8 28-16 18-36-18 18-28zM844 1849l13-9 37-1 36 10-10 28-26 8-8-8-29-22zM928 1904l2-8 3 8-3 2zM1357 1904l8-5 0 5 0 9z"/>
<path fill="#fdb945" fill-rule="evenodd" d="M1073 1683l2-2 2 2-2 1zM954 1738l12-3 36 2 4 1-4 5-20 23-3 28-13 14-29-14 17-28zM853 1849l4-3 37-2 16 5-10 28-6 1-2-1-35-26z"/>
<path fill="#fc9a31" fill-rule="evenodd" d="M960 1738l6-1 24 1-16 28 2 28-10 11-22-11 16-28z"/>
<path fill="#f5782a" fill-rule="evenodd" d="M952 1794l14-28 6 28-6 7z"/>
<path fill="#e94e2b" fill-rule="evenodd" d="M959 1794l7-14 3 14-3 3z"/>
<path d="M770.4 1682.4l14.5-.2 8.4-1.3 20.2 1.6 20.2-5 18.6-1.7 11.8-3.4 16.8 1.7 10.1-1.7 10.1 2.6 15.2 5.9 6.7 5.9 11.8 5 16.9 5.9 15.1 6.8 5.1 5-8.5 6.8-3.3-2.6-8.4-.8-6.8 4.2 5.1 4.2 13.4 2.5 6.8 9.3 11.8 6.8 1.7 6.7 8.4 11.8 5 10.1-1.7 6.8-10.1 11.8 .9 6.7-7.6 5.1-11.8 8.4-9.3 15.2 8.5 8.4-4.2 11.8-6.8 8.4-10.1 3.4-6.7 3.4-10.1 4.2-6.8 7.6-8.4 6.7-8.4-3.4-.9-8.4 2.6-8.4-5.1-8.5-8.4-.8-11.8 4.2-5-8.4-8.5-6.8 0-6.7-6.7 6.7-6.7-1.6-3.4-5.1-4.2 1.7-4.2 6.7-10.1 2.6-8.5 7.5-11.7 4.3-5.9 6.7-3.4-5.9-9.3 1.7-8.4 .8-14.5 5.5z" fill="#000" stroke="#2aa9a2" stroke-width="3" stroke-linejoin="round"/>
<path d="M1214.2 1666.5l0 5.1-4.4 2.6-4.3 6.8-8 1.4-6.5-1.8-6.3 7.1 3.4 5.9 14.5 8.4 2.4 5.8 5.8 4.2 6 0 5.1-5.8 9.7-4.2 8.7 4.2 16.9 2.5-1.7 6.7-6.7-1.6-16.1 5.5-3.3 5.3-12.6 6.8-5.1 5.8-3.3 6.9 16.8 7.9 8.4 25 10.2 5.9 2.3 6.8-7.3 .7 8.7 8.5-.4 2.4-11.2 3.5-9 5.2 6.7 1.5 7.5-.9 8.9 3.3-2 12.1-6.3 6.5 1.2 5.1-2.6 3-4.4 .3-16.7 21.6-4.2 0 1.2 8-4.5 9.1-9.1 7.8-1.8 4.8-7.7 .4 0 4.7-10 7.7-20.3 12.9-15.9 3-6.8 0-5.1 5.5-7.1-5.5-2.5 6.7-5.9-4.2-1.3 6.8-13.5 4.2-8.4 3.6-15.3 3.1-2.4 5 3.3 6-3.3 2.4-5.1 0-3.9-10 1.4-5.5-4.2 0-6.4-3.7-7.9 0-7.6 2.7-11.9 6.1-5.8 4.7-4.2 6.6-7.7 5.1-4.6 13.5 3.8 6.8 6.8 5.8 1.7 5.9 12.6 12.6 8.5 6.9 13.4 15 5 14.4 1.7 9.3-1.3 28.7-2.9 5-19.3 10.2-5.9 4.2-8.4 0 0 8.4M1247.1 1666.5l0 5.1-8 5 4.7 5.1-6 6 6-1.8 10.8-8.4 23.4-5.9 20.4 5.9-5 11.8-4.2 8.4 8.4 5.3 10.8-1.1 7.7 5 1.8 6-8.4 1.4 8.8 17.1-5.5 6.1-.3 7.3 3.2 7.2 12.3-5.8 15.2-2.9 10.2-4.3 3.2-9.3 .9-10-4.1-15.2-11.6-14.8-11.6-10.2-2.9-7.2 11.6-4.3 21.7-10.2M1369.4 1763.6l-11.7 2.9 2.9 8.7 8.8 1.5M1354.8 1841.9l5.8-4.3M1331.6 1872.4l1.5-5.8 5.1-2.9 2.1-3.7M1242.9 1882.9l5.1 2.9 0 6.4-7.7 23.6-5.8 6.9-2.6 7.6-2.5-6-4.6-3.4-2.5-8.4 .4-6.8 11.8-18.6 8.4-4.2M1055.5 1968.9l13.8-8.7 8.4-1.3 11.8 .3 0 4.6-5.1 6-2.5 6.8-5.1 4.9-7.5 3.5-6-.4-6.6-3.8-1.2-11.9M1229.4 1981.2l5.9-1.3 6.7 3.4 6 1.3 5.8-3.4-2.2 15.5 4.6 4.2-1.6 6-11.7 14.3-2 6.7 6.2 17.7 5.1 1.7 5.8-3.3 6.8 .9 12.6 5.8-5.1 1.4 2.6 5.4 5.8 4.8-4.2 1-5.8-2.5-5.9-8.4-5.1-1.7-.9 8.4-5-6.7-7.6-5.1-7.5 5.1-8.6-2.6-.3-8.4 4.7-2.8-3.8-3-1.6 4.9-3-2.9-5.1-2-1.8-11.9-1.5-9.3 7.5 1.8 2.2-16.1-2.6-5.8 4.6-13.1M1226.1 2054.9l12.6 1.1 4.5 4.8-.3 8.4-5.4 3.8-3.9-5.4-3.3-8.5-4.2-4.2M1282.5 2068.3l13.5-.7 4.2 6.7 .3 7.5 2.1 7.3-10.5 .4-.3 5.1 4.6 5.8-6.7 1.7-.5-7.5-4.3-1.8-.2-8.4 5.3 0 2.1-5-6.3-4.2-3.3-6.9M1248 2077.6l8.4 1.5 .8 2.7 8.5 .9 .7 7.5 5.1 1.8 .4 4.2 6.1-6.7 .3 12.6 4 5.1-20.3 0-.3-4.2-.2-4.2-13.5-2.2 2-10.6-2-8.4M1201.1 2107.2l2.2-3.9 6.7-8.7 2.9-8.6 2.7 11.1-8.1 5.9-2 4.2M782 1931.8l5.4 1.7 5.9-5.9 11.8-8 5.5 6.4 4.6 16.8 15.2 17.7 5 0 3.7 6.2-2.9 3.4 3.8 6.5 5.5 0 4.2 13.5 1.2 10-4.5 16.1 10.9 5 7.1 0 5-5 12.8-7.3 2.9-4.9 6 3.8 4.6 5.8 4.6 23.6 4.2 14.3 4.7 8.4 2.9 8.4-4.2 8.5 3.6 7.6 0 5.8-3.6 5.1 0 11.9M917.2 2107.2l2.4-13.5 4.2-6.8 4.7-12.6 1-17.7 6.2-3 7.6 2.7 0 8.3 12.6 1.3 12.6 10.1 8.4 14.2 6 5.7 8.4 0 4.2 4.5 8.4 3.5 1.4 3.3M827.4 2055.7l-3.8 22.8" fill="none" stroke="#000" stroke-width="1.4" stroke-linejoin="round"/>
<path d="M1003.5 1852.7h0M1021.1 1852.7h0M1038.6 1852.7h0M1126.5 1852.7h0M1144.1 1852.7h0M1161.6 1852.7h0M1179.2 1852.7h0M1012.2 1861.4h0M1029.8 1861.4h0M1117.6 1861.4h0M1135.2 1861.4h0M1152.8 1861.4h0M1170.3 1861.4h0M1003.5 1870.3h0M1021.1 1870.3h0M1038.6 1870.3h0M1126.5 1870.3h0M1144.1 1870.3h0M1161.6 1870.3h0M1179.2 1870.3h0M801.4 1879.0h0M818.9 1879.0h0M836.5 1879.0h0M854.1 1879.0h0M1047.3 1879.0h0M1064.9 1879.0h0M1082.5 1879.0h0M1100.0 1879.0h0M1117.6 1879.0h0M1135.2 1879.0h0M792.7 1887.8h0M810.2 1887.8h0M827.8 1887.8h0M845.4 1887.8h0M1056.2 1887.8h0M1073.8 1887.8h0M1091.3 1887.8h0M1108.9 1887.8h0M1126.5 1887.8h0M1144.1 1887.8h0M801.4 1896.5h0M818.9 1896.5h0M836.5 1896.5h0M854.1 1896.5h0M1047.3 1896.5h0M1064.9 1896.5h0M1082.5 1896.5h0M1100.0 1896.5h0M1117.6 1896.5h0M1135.2 1896.5h0M792.7 1905.4h0M810.2 1905.4h0M827.8 1905.4h0M845.4 1905.4h0M1056.2 1905.4h0M1073.8 1905.4h0M1091.3 1905.4h0M1108.9 1905.4h0M1126.5 1905.4h0M1144.1 1905.4h0" stroke="#000" stroke-width="3.70" stroke-linecap="round" fill="none"/>
<rect x="929.9" y="1828.9" width="333.6" height="159.5" fill="none" stroke="#ff0000" stroke-width="4.6" stroke-dasharray="4.6 5.9" stroke-linecap="round"/>
</g>
<path d="M813.9 2105.3v6.6M813.9 1668.4v-6.6M842.9 2105.3v6.6M842.9 1668.4v-6.6M871.9 2105.3v6.6M871.9 1668.4v-6.6M900.9 2105.3v6.6M900.9 1668.4v-6.6M958.9 2105.3v6.6M958.9 1668.4v-6.6M987.9 2105.3v6.6M987.9 1668.4v-6.6M1016.9 2105.3v6.6M1016.9 1668.4v-6.6M1045.9 2105.3v6.6M1045.9 1668.4v-6.6M1104.0 2105.3v6.6M1104.0 1668.4v-6.6M1133.0 2105.3v6.6M1133.0 1668.4v-6.6M1162.0 2105.3v6.6M1162.0 1668.4v-6.6M1191.0 2105.3v6.6M1191.0 1668.4v-6.6M1249.0 2105.3v6.6M1249.0 1668.4v-6.6M1278.0 2105.3v6.6M1278.0 1668.4v-6.6M1307.0 2105.3v6.6M1307.0 1668.4v-6.6M1336.0 2105.3v6.6M1336.0 1668.4v-6.6M783.9 2075.3h-6.6M1366.0 2075.3h6.6M783.9 2046.3h-6.6M1366.0 2046.3h6.6M783.9 2017.3h-6.6M1366.0 2017.3h6.6M783.9 1988.3h-6.6M1366.0 1988.3h6.6M783.9 1930.3h-6.6M1366.0 1930.3h6.6M783.9 1901.3h-6.6M1366.0 1901.3h6.6M783.9 1872.4h-6.6M1366.0 1872.4h6.6M783.9 1843.4h-6.6M1366.0 1843.4h6.6M783.9 1785.4h-6.6M1366.0 1785.4h6.6M783.9 1756.4h-6.6M1366.0 1756.4h6.6M783.9 1727.4h-6.6M1366.0 1727.4h6.6M783.9 1698.4h-6.6M1366.0 1698.4h6.6" stroke="#000" stroke-width="1.5" fill="none"/>
<path d="M784.9 2105.3v7.6M784.9 1668.4v-7.6M929.9 2105.3v7.6M929.9 1668.4v-7.6M1075.0 2105.3v7.6M1075.0 1668.4v-7.6M1220.0 2105.3v7.6M1220.0 1668.4v-7.6M1365.0 2105.3v7.6M1365.0 1668.4v-7.6M783.9 2104.3h-7.6M1366.0 2104.3h7.6M783.9 1959.3h-7.6M1366.0 1959.3h7.6M783.9 1814.4h-7.6M1366.0 1814.4h7.6M783.9 1669.4h-7.6M1366.0 1669.4h7.6" stroke="#000" stroke-width="2" fill="none"/>
<rect x="784.9" y="1669.4" width="580.1" height="434.9" fill="none" stroke="#000" stroke-width="2.7"/>
<text x="784.9" y="2136.8" text-anchor="middle" font-size="22.8">90E</text>
<text x="929.9" y="2136.8" text-anchor="middle" font-size="22.8">100E</text>
<text x="1075.0" y="2136.8" text-anchor="middle" font-size="22.8">110E</text>
<text x="1220.0" y="2136.8" text-anchor="middle" font-size="22.8">120E</text>
<text x="1365.0" y="2136.8" text-anchor="middle" font-size="22.8">130E</text>
<text x="770.9" y="2112.5" text-anchor="end" font-size="22.8">10N</text>
<text x="770.9" y="1967.5" text-anchor="end" font-size="22.8">20N</text>
<text x="770.9" y="1822.6" text-anchor="end" font-size="22.8">30N</text>
<text x="770.9" y="1677.6" text-anchor="end" font-size="22.8">40N</text>
<text x="783.9" y="1642.2" font-size="22.8">(h) T925</text>

</g>
<rect x="112.50" y="526.5" width="24.40" height="19.8" fill="#313695"/>
<rect x="136.60" y="526.5" width="24.40" height="19.8" fill="#3a51a2"/>
<rect x="160.71" y="526.5" width="24.40" height="19.8" fill="#426cb0"/>
<rect x="184.81" y="526.5" width="24.40" height="19.8" fill="#5285bc"/>
<rect x="208.92" y="526.5" width="24.40" height="19.8" fill="#679dc9"/>
<rect x="233.02" y="526.5" width="24.40" height="19.8" fill="#7cb3d4"/>
<rect x="257.13" y="526.5" width="24.40" height="19.8" fill="#93c6df"/>
<rect x="281.23" y="526.5" width="24.40" height="19.8" fill="#abd9e9"/>
<rect x="305.34" y="526.5" width="24.40" height="19.8" fill="#c2e4ef"/>
<rect x="329.44" y="526.5" width="24.40" height="19.8" fill="#d8eff6"/>
<rect x="353.55" y="526.5" width="24.40" height="19.8" fill="#e9eeda"/>
<rect x="377.65" y="526.5" width="24.40" height="19.8" fill="#f5e5ae"/>
<rect x="401.75" y="526.5" width="24.40" height="19.8" fill="#fed989"/>
<rect x="425.86" y="526.5" width="24.40" height="19.8" fill="#fdc375"/>
<rect x="449.96" y="526.5" width="24.40" height="19.8" fill="#fdae61"/>
<rect x="474.07" y="526.5" width="24.40" height="19.8" fill="#f99254"/>
<rect x="498.17" y="526.5" width="24.40" height="19.8" fill="#f57647"/>
<rect x="522.28" y="526.5" width="24.40" height="19.8" fill="#ec5c3b"/>
<rect x="546.38" y="526.5" width="24.40" height="19.8" fill="#df412f"/>
<rect x="570.49" y="526.5" width="24.40" height="19.8" fill="#d02927"/>
<rect x="594.59" y="526.5" width="24.40" height="19.8" fill="#ba1526"/>
<rect x="618.70" y="526.5" width="24.40" height="19.8" fill="#a50026"/>
<path d="M136.60 526.5V546.3M160.71 526.5V546.3M184.81 526.5V546.3M208.92 526.5V546.3M233.02 526.5V546.3M257.13 526.5V546.3M281.23 526.5V546.3M305.34 526.5V546.3M329.44 526.5V546.3M353.55 526.5V546.3M377.65 526.5V546.3M401.75 526.5V546.3M425.86 526.5V546.3M449.96 526.5V546.3M474.07 526.5V546.3M498.17 526.5V546.3M522.28 526.5V546.3M546.38 526.5V546.3M570.49 526.5V546.3M594.59 526.5V546.3M618.70 526.5V546.3" stroke="#000" stroke-width="1.7"/>
<rect x="112.5" y="526.5" width="530.3" height="19.8" fill="none" stroke="#000" stroke-width="2"/>
<text x="136.6" y="568.3" text-anchor="middle" font-size="22.8">-1</text>
<text x="184.8" y="568.3" text-anchor="middle" font-size="22.8">-0.8</text>
<text x="233.0" y="568.3" text-anchor="middle" font-size="22.8">-0.6</text>
<text x="281.2" y="568.3" text-anchor="middle" font-size="22.8">-0.4</text>
<text x="329.4" y="568.3" text-anchor="middle" font-size="22.8">-0.2</text>
<text x="377.6" y="568.3" text-anchor="middle" font-size="22.8">0</text>
<text x="425.9" y="568.3" text-anchor="middle" font-size="22.8">0.2</text>
<text x="474.1" y="568.3" text-anchor="middle" font-size="22.8">0.4</text>
<text x="522.3" y="568.3" text-anchor="middle" font-size="22.8">0.6</text>
<text x="570.5" y="568.3" text-anchor="middle" font-size="22.8">0.8</text>
<text x="618.7" y="568.3" text-anchor="middle" font-size="22.8">1</text>
<rect x="819.00" y="526.5" width="24.39" height="19.8" fill="#a50026"/>
<rect x="843.09" y="526.5" width="24.39" height="19.8" fill="#ba1526"/>
<rect x="867.18" y="526.5" width="24.39" height="19.8" fill="#d02927"/>
<rect x="891.27" y="526.5" width="24.39" height="19.8" fill="#df412f"/>
<rect x="915.36" y="526.5" width="24.39" height="19.8" fill="#ec5c3b"/>
<rect x="939.45" y="526.5" width="24.39" height="19.8" fill="#f57647"/>
<rect x="963.55" y="526.5" width="24.39" height="19.8" fill="#f99254"/>
<rect x="987.64" y="526.5" width="24.39" height="19.8" fill="#fdae61"/>
<rect x="1011.73" y="526.5" width="24.39" height="19.8" fill="#fdc375"/>
<rect x="1035.82" y="526.5" width="24.39" height="19.8" fill="#fed989"/>
<rect x="1059.91" y="526.5" width="24.39" height="19.8" fill="#f5e5ae"/>
<rect x="1084.00" y="526.5" width="24.39" height="19.8" fill="#e9eeda"/>
<rect x="1108.09" y="526.5" width="24.39" height="19.8" fill="#d8eff6"/>
<rect x="1132.18" y="526.5" width="24.39" height="19.8" fill="#c2e4ef"/>
<rect x="1156.27" y="526.5" width="24.39" height="19.8" fill="#abd9e9"/>
<rect x="1180.36" y="526.5" width="24.39" height="19.8" fill="#93c6df"/>
<rect x="1204.45" y="526.5" width="24.39" height="19.8" fill="#7cb3d4"/>
<rect x="1228.55" y="526.5" width="24.39" height="19.8" fill="#679dc9"/>
<rect x="1252.64" y="526.5" width="24.39" height="19.8" fill="#5285bc"/>
<rect x="1276.73" y="526.5" width="24.39" height="19.8" fill="#426cb0"/>
<rect x="1300.82" y="526.5" width="24.39" height="19.8" fill="#3a51a2"/>
<rect x="1324.91" y="526.5" width="24.39" height="19.8" fill="#313695"/>
<path d="M843.09 526.5V546.3M867.18 526.5V546.3M891.27 526.5V546.3M915.36 526.5V546.3M939.45 526.5V546.3M963.55 526.5V546.3M987.64 526.5V546.3M1011.73 526.5V546.3M1035.82 526.5V546.3M1059.91 526.5V546.3M1084.00 526.5V546.3M1108.09 526.5V546.3M1132.18 526.5V546.3M1156.27 526.5V546.3M1180.36 526.5V546.3M1204.45 526.5V546.3M1228.55 526.5V546.3M1252.64 526.5V546.3M1276.73 526.5V546.3M1300.82 526.5V546.3M1324.91 526.5V546.3" stroke="#000" stroke-width="1.7"/>
<rect x="819.0" y="526.5" width="530.0" height="19.8" fill="none" stroke="#000" stroke-width="2"/>
<text x="843.1" y="568.3" text-anchor="middle" font-size="22.8">-20</text>
<text x="891.3" y="568.3" text-anchor="middle" font-size="22.8">-16</text>
<text x="939.5" y="568.3" text-anchor="middle" font-size="22.8">-12</text>
<text x="987.6" y="568.3" text-anchor="middle" font-size="22.8">-8</text>
<text x="1035.8" y="568.3" text-anchor="middle" font-size="22.8">-4</text>
<text x="1084.0" y="568.3" text-anchor="middle" font-size="22.8">0</text>
<text x="1132.2" y="568.3" text-anchor="middle" font-size="22.8">4</text>
<text x="1180.4" y="568.3" text-anchor="middle" font-size="22.8">8</text>
<text x="1228.5" y="568.3" text-anchor="middle" font-size="22.8">12</text>
<text x="1276.7" y="568.3" text-anchor="middle" font-size="22.8">16</text>
<text x="1324.9" y="568.3" text-anchor="middle" font-size="22.8">20</text>
<rect x="852.40" y="984.2" width="21.78" height="17.6" fill="#1e2d62"/>
<rect x="873.88" y="984.2" width="21.78" height="17.6" fill="#243f83"/>
<rect x="895.36" y="984.2" width="21.78" height="17.6" fill="#2a5ba8"/>
<rect x="916.85" y="984.2" width="21.78" height="17.6" fill="#4482c3"/>
<rect x="938.33" y="984.2" width="21.78" height="17.6" fill="#5fa5d7"/>
<rect x="959.81" y="984.2" width="21.78" height="17.6" fill="#7fc0e8"/>
<rect x="981.29" y="984.2" width="21.78" height="17.6" fill="#a1daf4"/>
<rect x="1002.77" y="984.2" width="21.78" height="17.6" fill="#c3e7f7"/>
<rect x="1024.25" y="984.2" width="21.78" height="17.6" fill="#e0f2fa"/>
<rect x="1045.74" y="984.2" width="21.78" height="17.6" fill="#f2f9fc"/>
<rect x="1067.22" y="984.2" width="21.78" height="17.6" fill="#ffffff"/>
<rect x="1088.70" y="984.2" width="21.78" height="17.6" fill="#ffffff"/>
<rect x="1110.18" y="984.2" width="21.78" height="17.6" fill="#fef8e2"/>
<rect x="1131.66" y="984.2" width="21.78" height="17.6" fill="#feeba8"/>
<rect x="1153.15" y="984.2" width="21.78" height="17.6" fill="#fdd778"/>
<rect x="1174.63" y="984.2" width="21.78" height="17.6" fill="#fdb945"/>
<rect x="1196.11" y="984.2" width="21.78" height="17.6" fill="#fc9a31"/>
<rect x="1217.59" y="984.2" width="21.78" height="17.6" fill="#f5782a"/>
<rect x="1239.07" y="984.2" width="21.78" height="17.6" fill="#e94e2b"/>
<rect x="1260.55" y="984.2" width="21.78" height="17.6" fill="#d42429"/>
<rect x="1282.04" y="984.2" width="21.78" height="17.6" fill="#b41a24"/>
<rect x="1303.52" y="984.2" width="21.78" height="17.6" fill="#8c161b"/>
<path d="M873.88 984.2V1001.8M895.36 984.2V1001.8M916.85 984.2V1001.8M938.33 984.2V1001.8M959.81 984.2V1001.8M981.29 984.2V1001.8M1002.77 984.2V1001.8M1024.25 984.2V1001.8M1045.74 984.2V1001.8M1067.22 984.2V1001.8M1088.70 984.2V1001.8M1110.18 984.2V1001.8M1131.66 984.2V1001.8M1153.15 984.2V1001.8M1174.63 984.2V1001.8M1196.11 984.2V1001.8M1217.59 984.2V1001.8M1239.07 984.2V1001.8M1260.55 984.2V1001.8M1282.04 984.2V1001.8M1303.52 984.2V1001.8" stroke="#000" stroke-width="1.7"/>
<rect x="852.4" y="984.2" width="472.6" height="17.6" fill="none" stroke="#000" stroke-width="2"/>
<text x="873.9" y="1022.4" text-anchor="middle" font-size="22.8">-10</text>
<text x="916.8" y="1022.4" text-anchor="middle" font-size="22.8">-8</text>
<text x="959.8" y="1022.4" text-anchor="middle" font-size="22.8">-6</text>
<text x="1002.8" y="1022.4" text-anchor="middle" font-size="22.8">-4</text>
<text x="1045.7" y="1022.4" text-anchor="middle" font-size="22.8">-2</text>
<text x="1088.7" y="1022.4" text-anchor="middle" font-size="22.8">0</text>
<text x="1131.7" y="1022.4" text-anchor="middle" font-size="22.8">2</text>
<text x="1174.6" y="1022.4" text-anchor="middle" font-size="22.8">4</text>
<text x="1217.6" y="1022.4" text-anchor="middle" font-size="22.8">6</text>
<text x="1260.6" y="1022.4" text-anchor="middle" font-size="22.8">8</text>
<text x="1303.5" y="1022.4" text-anchor="middle" font-size="22.8">10</text>
<rect x="110.60" y="1568.0" width="23.77" height="18.5" fill="#1e2d62"/>
<rect x="134.07" y="1568.0" width="23.77" height="18.5" fill="#243f83"/>
<rect x="157.55" y="1568.0" width="23.77" height="18.5" fill="#2a5ba8"/>
<rect x="181.02" y="1568.0" width="23.77" height="18.5" fill="#4482c3"/>
<rect x="204.49" y="1568.0" width="23.77" height="18.5" fill="#5fa5d7"/>
<rect x="227.96" y="1568.0" width="23.77" height="18.5" fill="#7fc0e8"/>
<rect x="251.44" y="1568.0" width="23.77" height="18.5" fill="#a1daf4"/>
<rect x="274.91" y="1568.0" width="23.77" height="18.5" fill="#c3e7f7"/>
<rect x="298.38" y="1568.0" width="23.77" height="18.5" fill="#e0f2fa"/>
<rect x="321.85" y="1568.0" width="23.77" height="18.5" fill="#f2f9fc"/>
<rect x="345.33" y="1568.0" width="23.77" height="18.5" fill="#ffffff"/>
<rect x="368.80" y="1568.0" width="23.77" height="18.5" fill="#ffffff"/>
<rect x="392.27" y="1568.0" width="23.77" height="18.5" fill="#fef8e2"/>
<rect x="415.75" y="1568.0" width="23.77" height="18.5" fill="#feeba8"/>
<rect x="439.22" y="1568.0" width="23.77" height="18.5" fill="#fdd778"/>
<rect x="462.69" y="1568.0" width="23.77" height="18.5" fill="#fdb945"/>
<rect x="486.16" y="1568.0" width="23.77" height="18.5" fill="#fc9a31"/>
<rect x="509.64" y="1568.0" width="23.77" height="18.5" fill="#f5782a"/>
<rect x="533.11" y="1568.0" width="23.77" height="18.5" fill="#e94e2b"/>
<rect x="556.58" y="1568.0" width="23.77" height="18.5" fill="#d42429"/>
<rect x="580.05" y="1568.0" width="23.77" height="18.5" fill="#b41a24"/>
<rect x="603.53" y="1568.0" width="23.77" height="18.5" fill="#8c161b"/>
<path d="M134.07 1568.0V1586.5M157.55 1568.0V1586.5M181.02 1568.0V1586.5M204.49 1568.0V1586.5M227.96 1568.0V1586.5M251.44 1568.0V1586.5M274.91 1568.0V1586.5M298.38 1568.0V1586.5M321.85 1568.0V1586.5M345.33 1568.0V1586.5M368.80 1568.0V1586.5M392.27 1568.0V1586.5M415.75 1568.0V1586.5M439.22 1568.0V1586.5M462.69 1568.0V1586.5M486.16 1568.0V1586.5M509.64 1568.0V1586.5M533.11 1568.0V1586.5M556.58 1568.0V1586.5M580.05 1568.0V1586.5M603.53 1568.0V1586.5" stroke="#000" stroke-width="1.7"/>
<rect x="110.6" y="1568.0" width="516.4" height="18.5" fill="none" stroke="#000" stroke-width="2"/>
<text x="134.1" y="1608.5" text-anchor="middle" font-size="22.8">-2</text>
<text x="181.0" y="1608.5" text-anchor="middle" font-size="22.8">-1.6</text>
<text x="228.0" y="1608.5" text-anchor="middle" font-size="22.8">-1.2</text>
<text x="274.9" y="1608.5" text-anchor="middle" font-size="22.8">-0.8</text>
<text x="321.9" y="1608.5" text-anchor="middle" font-size="22.8">-0.4</text>
<text x="368.8" y="1608.5" text-anchor="middle" font-size="22.8">0</text>
<text x="415.7" y="1608.5" text-anchor="middle" font-size="22.8">0.4</text>
<text x="462.7" y="1608.5" text-anchor="middle" font-size="22.8">0.8</text>
<text x="509.6" y="1608.5" text-anchor="middle" font-size="22.8">1.2</text>
<text x="556.6" y="1608.5" text-anchor="middle" font-size="22.8">1.6</text>
<text x="603.5" y="1608.5" text-anchor="middle" font-size="22.8">2</text>
<rect x="817.00" y="1568.0" width="23.74" height="18.5" fill="#1e2d62"/>
<rect x="840.44" y="1568.0" width="23.74" height="18.5" fill="#243f83"/>
<rect x="863.87" y="1568.0" width="23.74" height="18.5" fill="#2a5ba8"/>
<rect x="887.31" y="1568.0" width="23.74" height="18.5" fill="#4482c3"/>
<rect x="910.75" y="1568.0" width="23.74" height="18.5" fill="#5fa5d7"/>
<rect x="934.18" y="1568.0" width="23.74" height="18.5" fill="#7fc0e8"/>
<rect x="957.62" y="1568.0" width="23.74" height="18.5" fill="#a1daf4"/>
<rect x="981.05" y="1568.0" width="23.74" height="18.5" fill="#c3e7f7"/>
<rect x="1004.49" y="1568.0" width="23.74" height="18.5" fill="#e0f2fa"/>
<rect x="1027.93" y="1568.0" width="23.74" height="18.5" fill="#f2f9fc"/>
<rect x="1051.36" y="1568.0" width="23.74" height="18.5" fill="#ffffff"/>
<rect x="1074.80" y="1568.0" width="23.74" height="18.5" fill="#ffffff"/>
<rect x="1098.24" y="1568.0" width="23.74" height="18.5" fill="#fef8e2"/>
<rect x="1121.67" y="1568.0" width="23.74" height="18.5" fill="#feeba8"/>
<rect x="1145.11" y="1568.0" width="23.74" height="18.5" fill="#fdd778"/>
<rect x="1168.55" y="1568.0" width="23.74" height="18.5" fill="#fdb945"/>
<rect x="1191.98" y="1568.0" width="23.74" height="18.5" fill="#fc9a31"/>
<rect x="1215.42" y="1568.0" width="23.74" height="18.5" fill="#f5782a"/>
<rect x="1238.85" y="1568.0" width="23.74" height="18.5" fill="#e94e2b"/>
<rect x="1262.29" y="1568.0" width="23.74" height="18.5" fill="#d42429"/>
<rect x="1285.73" y="1568.0" width="23.74" height="18.5" fill="#b41a24"/>
<rect x="1309.16" y="1568.0" width="23.74" height="18.5" fill="#8c161b"/>
<path d="M840.44 1568.0V1586.5M863.87 1568.0V1586.5M887.31 1568.0V1586.5M910.75 1568.0V1586.5M934.18 1568.0V1586.5M957.62 1568.0V1586.5M981.05 1568.0V1586.5M1004.49 1568.0V1586.5M1027.93 1568.0V1586.5M1051.36 1568.0V1586.5M1074.80 1568.0V1586.5M1098.24 1568.0V1586.5M1121.67 1568.0V1586.5M1145.11 1568.0V1586.5M1168.55 1568.0V1586.5M1191.98 1568.0V1586.5M1215.42 1568.0V1586.5M1238.85 1568.0V1586.5M1262.29 1568.0V1586.5M1285.73 1568.0V1586.5M1309.16 1568.0V1586.5" stroke="#000" stroke-width="1.7"/>
<rect x="817.0" y="1568.0" width="515.6" height="18.5" fill="none" stroke="#000" stroke-width="2"/>
<text x="840.4" y="1608.5" text-anchor="middle" font-size="22.8">-5</text>
<text x="887.3" y="1608.5" text-anchor="middle" font-size="22.8">-4</text>
<text x="934.2" y="1608.5" text-anchor="middle" font-size="22.8">-3</text>
<text x="981.1" y="1608.5" text-anchor="middle" font-size="22.8">-2</text>
<text x="1027.9" y="1608.5" text-anchor="middle" font-size="22.8">-1</text>
<text x="1074.8" y="1608.5" text-anchor="middle" font-size="22.8">0</text>
<text x="1121.7" y="1608.5" text-anchor="middle" font-size="22.8">1</text>
<text x="1168.5" y="1608.5" text-anchor="middle" font-size="22.8">2</text>
<text x="1215.4" y="1608.5" text-anchor="middle" font-size="22.8">3</text>
<text x="1262.3" y="1608.5" text-anchor="middle" font-size="22.8">4</text>
<text x="1309.2" y="1608.5" text-anchor="middle" font-size="22.8">5</text>
<rect x="817.00" y="2162.0" width="23.74" height="18.7" fill="#1e2d62"/>
<rect x="840.44" y="2162.0" width="23.74" height="18.7" fill="#243f83"/>
<rect x="863.87" y="2162.0" width="23.74" height="18.7" fill="#2a5ba8"/>
<rect x="887.31" y="2162.0" width="23.74" height="18.7" fill="#4482c3"/>
<rect x="910.75" y="2162.0" width="23.74" height="18.7" fill="#5fa5d7"/>
<rect x="934.18" y="2162.0" width="23.74" height="18.7" fill="#7fc0e8"/>
<rect x="957.62" y="2162.0" width="23.74" height="18.7" fill="#a1daf4"/>
<rect x="981.05" y="2162.0" width="23.74" height="18.7" fill="#c3e7f7"/>
<rect x="1004.49" y="2162.0" width="23.74" height="18.7" fill="#e0f2fa"/>
<rect x="1027.93" y="2162.0" width="23.74" height="18.7" fill="#f2f9fc"/>
<rect x="1051.36" y="2162.0" width="23.74" height="18.7" fill="#ffffff"/>
<rect x="1074.80" y="2162.0" width="23.74" height="18.7" fill="#ffffff"/>
<rect x="1098.24" y="2162.0" width="23.74" height="18.7" fill="#fef8e2"/>
<rect x="1121.67" y="2162.0" width="23.74" height="18.7" fill="#feeba8"/>
<rect x="1145.11" y="2162.0" width="23.74" height="18.7" fill="#fdd778"/>
<rect x="1168.55" y="2162.0" width="23.74" height="18.7" fill="#fdb945"/>
<rect x="1191.98" y="2162.0" width="23.74" height="18.7" fill="#fc9a31"/>
<rect x="1215.42" y="2162.0" width="23.74" height="18.7" fill="#f5782a"/>
<rect x="1238.85" y="2162.0" width="23.74" height="18.7" fill="#e94e2b"/>
<rect x="1262.29" y="2162.0" width="23.74" height="18.7" fill="#d42429"/>
<rect x="1285.73" y="2162.0" width="23.74" height="18.7" fill="#b41a24"/>
<rect x="1309.16" y="2162.0" width="23.74" height="18.7" fill="#8c161b"/>
<path d="M840.44 2162.0V2180.7M863.87 2162.0V2180.7M887.31 2162.0V2180.7M910.75 2162.0V2180.7M934.18 2162.0V2180.7M957.62 2162.0V2180.7M981.05 2162.0V2180.7M1004.49 2162.0V2180.7M1027.93 2162.0V2180.7M1051.36 2162.0V2180.7M1074.80 2162.0V2180.7M1098.24 2162.0V2180.7M1121.67 2162.0V2180.7M1145.11 2162.0V2180.7M1168.55 2162.0V2180.7M1191.98 2162.0V2180.7M1215.42 2162.0V2180.7M1238.85 2162.0V2180.7M1262.29 2162.0V2180.7M1285.73 2162.0V2180.7M1309.16 2162.0V2180.7" stroke="#000" stroke-width="1.7"/>
<rect x="817.0" y="2162.0" width="515.6" height="18.7" fill="none" stroke="#000" stroke-width="2"/>
<text x="840.4" y="2202.7" text-anchor="middle" font-size="22.8">-1</text>
<text x="887.3" y="2202.7" text-anchor="middle" font-size="22.8">-0.8</text>
<text x="934.2" y="2202.7" text-anchor="middle" font-size="22.8">-0.6</text>
<text x="981.1" y="2202.7" text-anchor="middle" font-size="22.8">-0.4</text>
<text x="1027.9" y="2202.7" text-anchor="middle" font-size="22.8">-0.2</text>
<text x="1074.8" y="2202.7" text-anchor="middle" font-size="22.8">0</text>
<text x="1121.7" y="2202.7" text-anchor="middle" font-size="22.8">0.2</text>
<text x="1168.5" y="2202.7" text-anchor="middle" font-size="22.8">0.4</text>
<text x="1215.4" y="2202.7" text-anchor="middle" font-size="22.8">0.6</text>
<text x="1262.3" y="2202.7" text-anchor="middle" font-size="22.8">0.8</text>
<text x="1309.2" y="2202.7" text-anchor="middle" font-size="22.8">1</text>
</svg></body></html>
